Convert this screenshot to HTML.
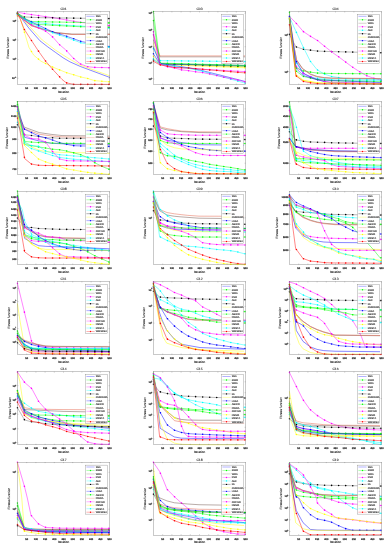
<!DOCTYPE html><html><head><meta charset="utf-8"><style>html,body{margin:0;padding:0;background:#fff;width:390px;height:550px;overflow:hidden}svg{display:block}text{font-family:"Liberation Sans",sans-serif;text-rendering:geometricPrecision}</style></head><body>
<svg width="390" height="550" viewBox="0 0 390 550">
<rect width="390" height="550" fill="#fff"/>
<g><clipPath id="c00"><rect x="16.5" y="10.3" width="94" height="75.4"/></clipPath><g clip-path="url(#c00)"><path d="M17.38 12.19 L26.54 13.86 L52.77 17.68 L81.38 22.46 L110 25.8" fill="none" stroke="#ff00ff" stroke-width="0.6" stroke-opacity="0.8"/><circle cx="17.38" cy="12.19" r="0.8" fill="#ff00ff"/><circle cx="24.42" cy="13.48" r="0.8" fill="#ff00ff"/><circle cx="31.46" cy="14.58" r="0.8" fill="#ff00ff"/><circle cx="38.5" cy="15.61" r="0.8" fill="#ff00ff"/><circle cx="45.54" cy="16.63" r="0.8" fill="#ff00ff"/><circle cx="52.58" cy="17.66" r="0.8" fill="#ff00ff"/><circle cx="59.62" cy="18.83" r="0.8" fill="#ff00ff"/><circle cx="66.66" cy="20" r="0.8" fill="#ff00ff"/><circle cx="73.7" cy="21.18" r="0.8" fill="#ff00ff"/><circle cx="80.74" cy="22.35" r="0.8" fill="#ff00ff"/><circle cx="87.78" cy="23.2" r="0.8" fill="#ff00ff"/><circle cx="94.82" cy="24.03" r="0.8" fill="#ff00ff"/><circle cx="101.86" cy="24.85" r="0.8" fill="#ff00ff"/><circle cx="108.9" cy="25.67" r="0.8" fill="#ff00ff"/><path d="M17.38 13.39 L24.15 16.97 L40.85 17.68 L110 18.64" fill="none" stroke="#000000" stroke-width="0.6" stroke-opacity="0.45"/><circle cx="17.38" cy="13.39" r="0.8" fill="#000000"/><circle cx="24.42" cy="16.98" r="0.8" fill="#000000"/><circle cx="31.46" cy="17.28" r="0.8" fill="#000000"/><circle cx="38.5" cy="17.58" r="0.8" fill="#000000"/><circle cx="45.54" cy="17.75" r="0.8" fill="#000000"/><circle cx="52.58" cy="17.85" r="0.8" fill="#000000"/><circle cx="59.62" cy="17.94" r="0.8" fill="#000000"/><circle cx="66.66" cy="18.04" r="0.8" fill="#000000"/><circle cx="73.7" cy="18.14" r="0.8" fill="#000000"/><circle cx="80.74" cy="18.23" r="0.8" fill="#000000"/><circle cx="87.78" cy="18.33" r="0.8" fill="#000000"/><circle cx="94.82" cy="18.43" r="0.8" fill="#000000"/><circle cx="101.86" cy="18.53" r="0.8" fill="#000000"/><circle cx="108.9" cy="18.62" r="0.8" fill="#000000"/><path d="M17.38 12.91 L24.15 18.16 L31.31 21.5 L52.77 21.98 L110 22.94" fill="none" stroke="#00ff00" stroke-width="0.6" stroke-opacity="0.8"/><circle cx="17.38" cy="12.91" r="0.8" fill="#00ff00"/><circle cx="24.42" cy="18.29" r="0.8" fill="#00ff00"/><circle cx="31.46" cy="21.51" r="0.8" fill="#00ff00"/><circle cx="38.5" cy="21.66" r="0.8" fill="#00ff00"/><circle cx="45.54" cy="21.82" r="0.8" fill="#00ff00"/><circle cx="52.58" cy="21.98" r="0.8" fill="#00ff00"/><circle cx="59.62" cy="22.09" r="0.8" fill="#00ff00"/><circle cx="66.66" cy="22.21" r="0.8" fill="#00ff00"/><circle cx="73.7" cy="22.33" r="0.8" fill="#00ff00"/><circle cx="80.74" cy="22.45" r="0.8" fill="#00ff00"/><circle cx="87.78" cy="22.56" r="0.8" fill="#00ff00"/><circle cx="94.82" cy="22.68" r="0.8" fill="#00ff00"/><circle cx="101.86" cy="22.8" r="0.8" fill="#00ff00"/><circle cx="108.9" cy="22.92" r="0.8" fill="#00ff00"/><path d="M17.38 13.39 L24.15 19.35 L31.31 21.98 L52.77 24.37 L81.38 26.04 L110 28.19" fill="none" stroke="#00ffff" stroke-width="0.6" stroke-opacity="0.8"/><circle cx="17.38" cy="13.39" r="0.8" fill="#00ffff"/><circle cx="24.42" cy="19.45" r="0.8" fill="#00ffff"/><circle cx="31.46" cy="22" r="0.8" fill="#00ffff"/><circle cx="38.5" cy="22.78" r="0.8" fill="#00ffff"/><circle cx="45.54" cy="23.56" r="0.8" fill="#00ffff"/><circle cx="52.58" cy="24.35" r="0.8" fill="#00ffff"/><circle cx="59.62" cy="24.77" r="0.8" fill="#00ffff"/><circle cx="66.66" cy="25.18" r="0.8" fill="#00ffff"/><circle cx="73.7" cy="25.59" r="0.8" fill="#00ffff"/><circle cx="80.74" cy="26" r="0.8" fill="#00ffff"/><circle cx="87.78" cy="26.52" r="0.8" fill="#00ffff"/><circle cx="94.82" cy="27.05" r="0.8" fill="#00ffff"/><circle cx="101.86" cy="27.58" r="0.8" fill="#00ffff"/><circle cx="108.9" cy="28.1" r="0.8" fill="#00ffff"/><path d="M17.38 13.39 L31.31 23.89 L52.77 25.32 L81.38 26.75 L110 27.23" fill="none" stroke="#00ff00" stroke-width="0.6" stroke-opacity="0.8"/><circle cx="17.38" cy="13.39" r="0.8" fill="#00ff00"/><circle cx="24.42" cy="18.7" r="0.8" fill="#00ff00"/><circle cx="31.46" cy="23.9" r="0.8" fill="#00ff00"/><circle cx="38.5" cy="24.37" r="0.8" fill="#00ff00"/><circle cx="45.54" cy="24.84" r="0.8" fill="#00ff00"/><circle cx="52.58" cy="25.31" r="0.8" fill="#00ff00"/><circle cx="59.62" cy="25.67" r="0.8" fill="#00ff00"/><circle cx="66.66" cy="26.02" r="0.8" fill="#00ff00"/><circle cx="73.7" cy="26.37" r="0.8" fill="#00ff00"/><circle cx="80.74" cy="26.72" r="0.8" fill="#00ff00"/><circle cx="87.78" cy="26.86" r="0.8" fill="#00ff00"/><circle cx="94.82" cy="26.98" r="0.8" fill="#00ff00"/><circle cx="101.86" cy="27.1" r="0.8" fill="#00ff00"/><circle cx="108.9" cy="27.21" r="0.8" fill="#00ff00"/><path d="M17.38 14.58 L31.31 25.32 L43.23 29.14 L55.15 32.48 L71.85 34.15 L110 34.15" fill="none" stroke="#806860" stroke-width="0.8" stroke-opacity="0.85"/><path d="M17.38 14.58 L31.31 25.8 L43.23 29.38 L55.15 32.72 L71.85 34.39 L110 34.39" fill="none" stroke="#e8745e" stroke-width="0.8" stroke-opacity="0.85"/><path d="M17.38 14.58 L24.15 18.64 L38.7 25.32 L53.01 32.01 L64.69 35.59 L81.38 41.55 L110 46.81" fill="none" stroke="#0000ff" stroke-width="0.6" stroke-opacity="0.8"/><circle cx="17.38" cy="14.58" r="0.8" fill="#0000ff"/><circle cx="24.42" cy="18.76" r="0.8" fill="#0000ff"/><circle cx="31.46" cy="22" r="0.8" fill="#0000ff"/><circle cx="38.5" cy="25.23" r="0.8" fill="#0000ff"/><circle cx="45.54" cy="28.52" r="0.8" fill="#0000ff"/><circle cx="52.58" cy="31.81" r="0.8" fill="#0000ff"/><circle cx="59.62" cy="34.03" r="0.8" fill="#0000ff"/><circle cx="66.66" cy="36.29" r="0.8" fill="#0000ff"/><circle cx="73.7" cy="38.81" r="0.8" fill="#0000ff"/><circle cx="80.74" cy="41.32" r="0.8" fill="#0000ff"/><circle cx="87.78" cy="42.73" r="0.8" fill="#0000ff"/><circle cx="94.82" cy="44.02" r="0.8" fill="#0000ff"/><circle cx="101.86" cy="45.31" r="0.8" fill="#0000ff"/><circle cx="108.9" cy="46.6" r="0.8" fill="#0000ff"/><path d="M17.38 14.58 L26.54 20.55 L40.85 27.71 L53.01 32.96 L64.69 36.78 L81.38 42.99 L110 47.28" fill="none" stroke="#00ffff" stroke-width="0.6" stroke-opacity="0.8"/><circle cx="17.38" cy="14.58" r="0.8" fill="#00ffff"/><circle cx="24.42" cy="19.17" r="0.8" fill="#00ffff"/><circle cx="31.46" cy="23.01" r="0.8" fill="#00ffff"/><circle cx="38.5" cy="26.54" r="0.8" fill="#00ffff"/><circle cx="45.54" cy="29.74" r="0.8" fill="#00ffff"/><circle cx="52.58" cy="32.78" r="0.8" fill="#00ffff"/><circle cx="59.62" cy="35.12" r="0.8" fill="#00ffff"/><circle cx="66.66" cy="37.51" r="0.8" fill="#00ffff"/><circle cx="73.7" cy="40.13" r="0.8" fill="#00ffff"/><circle cx="80.74" cy="42.75" r="0.8" fill="#00ffff"/><circle cx="87.78" cy="43.95" r="0.8" fill="#00ffff"/><circle cx="94.82" cy="45" r="0.8" fill="#00ffff"/><circle cx="101.86" cy="46.06" r="0.8" fill="#00ffff"/><circle cx="108.9" cy="47.12" r="0.8" fill="#00ffff"/><path d="M17.38 15.77 L31.55 24.85 L45.85 31.29 L53.01 37.26 L59.21 44.42 L65.65 49.81 L73.66 58.5 L80.43 63.99 L87.75 66.74 L94.5 67.41 L110 67.72" fill="none" stroke="#ff00ff" stroke-width="0.6" stroke-opacity="0.8"/><circle cx="17.38" cy="15.77" r="0.8" fill="#ff00ff"/><circle cx="24.42" cy="20.28" r="0.8" fill="#ff00ff"/><circle cx="31.46" cy="24.79" r="0.8" fill="#ff00ff"/><circle cx="38.5" cy="27.98" r="0.8" fill="#ff00ff"/><circle cx="45.54" cy="31.15" r="0.8" fill="#ff00ff"/><circle cx="52.58" cy="36.9" r="0.8" fill="#ff00ff"/><circle cx="59.62" cy="44.76" r="0.8" fill="#ff00ff"/><circle cx="66.66" cy="50.91" r="0.8" fill="#ff00ff"/><circle cx="73.7" cy="58.54" r="0.8" fill="#ff00ff"/><circle cx="80.74" cy="64.11" r="0.8" fill="#ff00ff"/><circle cx="87.78" cy="66.74" r="0.8" fill="#ff00ff"/><circle cx="94.82" cy="67.41" r="0.8" fill="#ff00ff"/><circle cx="101.86" cy="67.55" r="0.8" fill="#ff00ff"/><circle cx="108.9" cy="67.7" r="0.8" fill="#ff00ff"/><path d="M17.38 14.58 L20.58 16.97 L28.92 28.19 L39.99 40.84 L47.67 46.81 L55.37 52.3 L63.07 57.79 L69.94 61.85 L80.43 66.5 L110 77.5" fill="none" stroke="#0000ff" stroke-width="0.6" stroke-opacity="0.8"/><path d="M17.38 14.58 L21.77 18.16 L35.12 32.48 L42.28 40 L49.98 45.8 L55.37 50.01 L63.07 55.02 L69.94 59.22 L80.43 65.19 L110 75.93" fill="none" stroke="#ffff00" stroke-width="0.6" stroke-opacity="0.8"/><path d="M17.38 15.77 L20.58 19.35 L28.92 47.28 L33.69 55.16 L40.85 61.13 L52.77 67.1 L66.27 72.59 L73.66 74.81 L80.43 76.88 L87.75 78.51 L94.5 80.61 L101.32 81.18 L110 81.9" fill="none" stroke="#ffff00" stroke-width="0.6" stroke-opacity="0.8"/><circle cx="17.38" cy="15.77" r="0.8" fill="#ffff00"/><circle cx="24.42" cy="32.22" r="0.8" fill="#ffff00"/><circle cx="31.46" cy="51.47" r="0.8" fill="#ffff00"/><circle cx="38.5" cy="59.17" r="0.8" fill="#ffff00"/><circle cx="45.54" cy="63.48" r="0.8" fill="#ffff00"/><circle cx="52.58" cy="67" r="0.8" fill="#ffff00"/><circle cx="59.62" cy="69.88" r="0.8" fill="#ffff00"/><circle cx="66.66" cy="72.71" r="0.8" fill="#ffff00"/><circle cx="73.7" cy="74.82" r="0.8" fill="#ffff00"/><circle cx="80.74" cy="76.95" r="0.8" fill="#ffff00"/><circle cx="87.78" cy="78.52" r="0.8" fill="#ffff00"/><circle cx="94.82" cy="80.63" r="0.8" fill="#ffff00"/><circle cx="101.86" cy="81.23" r="0.8" fill="#ffff00"/><circle cx="108.9" cy="81.81" r="0.8" fill="#ffff00"/><path d="M17.38 13.39 L19.38 16.97 L24.15 29.14 L31.55 40.6 L38.46 51.1 L45.62 61.13 L52.77 69.48 L61.97 79.41 L66.27 82.8 L73.66 84.4 L110 84.4" fill="none" stroke="#ff0000" stroke-width="0.6" stroke-opacity="0.8"/><circle cx="17.38" cy="13.39" r="0.8" fill="#ff0000"/><circle cx="24.42" cy="29.55" r="0.8" fill="#ff0000"/><circle cx="31.46" cy="40.47" r="0.8" fill="#ff0000"/><circle cx="38.5" cy="51.16" r="0.8" fill="#ff0000"/><circle cx="45.54" cy="61.02" r="0.8" fill="#ff0000"/><circle cx="52.58" cy="69.26" r="0.8" fill="#ff0000"/><circle cx="59.62" cy="76.87" r="0.8" fill="#ff0000"/><circle cx="66.66" cy="82.89" r="0.8" fill="#ff0000"/><circle cx="73.7" cy="84.4" r="0.8" fill="#ff0000"/><circle cx="80.74" cy="84.4" r="0.8" fill="#ff0000"/><circle cx="87.78" cy="84.4" r="0.8" fill="#ff0000"/><circle cx="94.82" cy="84.4" r="0.8" fill="#ff0000"/><circle cx="101.86" cy="84.4" r="0.8" fill="#ff0000"/><circle cx="108.9" cy="84.4" r="0.8" fill="#ff0000"/></g><rect x="17.5" y="11.5" width="92" height="73" fill="none" stroke="#666" stroke-width="0.35"/><path d="M26.7 84.5v-0.9M26.7 11.5v0.9M35.9 84.5v-0.9M35.9 11.5v0.9M45.1 84.5v-0.9M45.1 11.5v0.9M54.3 84.5v-0.9M54.3 11.5v0.9M63.5 84.5v-0.9M63.5 11.5v0.9M72.7 84.5v-0.9M72.7 11.5v0.9M81.9 84.5v-0.9M81.9 11.5v0.9M91.1 84.5v-0.9M91.1 11.5v0.9M100.3 84.5v-0.9M100.3 11.5v0.9M109.5 84.5v-0.9M109.5 11.5v0.9M17.5 21.2h0.9M109.5 21.2h-0.9M17.5 40h0.9M109.5 40h-0.9M17.5 59.5h0.9M109.5 59.5h-0.9M17.5 78.2h0.9M109.5 78.2h-0.9" stroke="#555" stroke-width="0.3" fill="none"/><g fill="#111"><text transform="translate(26.7 88.9) scale(0.1)" font-size="25" text-anchor="middle" fill="#222" stroke="#222" stroke-width="2">50</text><text transform="translate(35.9 88.9) scale(0.1)" font-size="25" text-anchor="middle" fill="#222" stroke="#222" stroke-width="2">100</text><text transform="translate(45.1 88.9) scale(0.1)" font-size="25" text-anchor="middle" fill="#222" stroke="#222" stroke-width="2">150</text><text transform="translate(54.3 88.9) scale(0.1)" font-size="25" text-anchor="middle" fill="#222" stroke="#222" stroke-width="2">200</text><text transform="translate(63.5 88.9) scale(0.1)" font-size="25" text-anchor="middle" fill="#222" stroke="#222" stroke-width="2">250</text><text transform="translate(72.7 88.9) scale(0.1)" font-size="25" text-anchor="middle" fill="#222" stroke="#222" stroke-width="2">300</text><text transform="translate(81.9 88.9) scale(0.1)" font-size="25" text-anchor="middle" fill="#222" stroke="#222" stroke-width="2">350</text><text transform="translate(91.1 88.9) scale(0.1)" font-size="25" text-anchor="middle" fill="#222" stroke="#222" stroke-width="2">400</text><text transform="translate(100.3 88.9) scale(0.1)" font-size="25" text-anchor="middle" fill="#222" stroke="#222" stroke-width="2">450</text><text transform="translate(109.5 88.9) scale(0.1)" font-size="25" text-anchor="middle" fill="#222" stroke="#222" stroke-width="2">500</text></g><g fill="#111"><text transform="translate(16.3 22.15) scale(0.1)" font-size="25" text-anchor="end" fill="#222" stroke="#222" stroke-width="2">10<tspan font-size="17.5" dy="-11.25">4</tspan></text><text transform="translate(16.3 40.95) scale(0.1)" font-size="25" text-anchor="end" fill="#222" stroke="#222" stroke-width="2">10<tspan font-size="17.5" dy="-11.25">2</tspan></text><text transform="translate(16.3 60.45) scale(0.1)" font-size="25" text-anchor="end" fill="#222" stroke="#222" stroke-width="2">10<tspan font-size="17.5" dy="-11.25">0</tspan></text><text transform="translate(16.3 79.15) scale(0.1)" font-size="25" text-anchor="end" fill="#222" stroke="#222" stroke-width="2">10<tspan font-size="17.5" dy="-11.25">-2</tspan></text></g><text transform="translate(63.5 92.6) scale(0.1)" font-size="31" text-anchor="middle" fill="#222" stroke="#222" stroke-width="1">Iteration</text><text transform="translate(8.7 48) rotate(-90) scale(0.1)" font-size="31" text-anchor="middle" fill="#222" stroke="#222" stroke-width="1.2">Fitness function</text><text transform="translate(63.5 10.05) scale(0.1)" font-size="33" text-anchor="middle" fill="#333" stroke="#333" stroke-width="1">C01</text><g fill="#222"><rect x="85.5" y="14.4" width="22" height="49" fill="#fff" stroke="#666" stroke-width="0.3"/><path d="M86.4 16.3h8.2" stroke="#0000ff" stroke-width="0.5" stroke-opacity="0.6"/><text transform="translate(95.7 17.2) scale(0.1)" font-size="25" fill="#2a2a2a" stroke="#2a2a2a" stroke-width="1">SSA</text><path d="M86.4 19.78h8.2" stroke="#00ff00" stroke-width="0.5" stroke-opacity="0.6"/><circle cx="90.5" cy="19.78" r="0.7" fill="#00ff00"/><text transform="translate(95.7 20.68) scale(0.1)" font-size="25" fill="#2a2a2a" stroke="#2a2a2a" stroke-width="1">GWO</text><path d="M86.4 23.25h8.2" stroke="#806860" stroke-width="0.5" stroke-opacity="0.6"/><text transform="translate(95.7 24.15) scale(0.1)" font-size="25" fill="#2a2a2a" stroke="#2a2a2a" stroke-width="1">WOA</text><path d="M86.4 26.73h8.2" stroke="#ff00ff" stroke-width="0.5" stroke-opacity="0.6"/><circle cx="90.5" cy="26.73" r="0.7" fill="#ff00ff"/><text transform="translate(95.7 27.63) scale(0.1)" font-size="25" fill="#2a2a2a" stroke="#2a2a2a" stroke-width="1">PSO</text><path d="M86.4 30.21h8.2" stroke="#00ffff" stroke-width="0.5" stroke-opacity="0.6"/><circle cx="90.5" cy="30.21" r="0.7" fill="#00ffff"/><text transform="translate(95.7 31.11) scale(0.1)" font-size="25" fill="#2a2a2a" stroke="#2a2a2a" stroke-width="1">ABC</text><path d="M86.4 33.69h8.2" stroke="#000000" stroke-width="0.5" stroke-opacity="0.6"/><circle cx="90.5" cy="33.69" r="0.7" fill="#000000"/><text transform="translate(95.7 34.59) scale(0.1)" font-size="25" fill="#2a2a2a" stroke="#2a2a2a" stroke-width="1">FA</text><path d="M86.4 37.16h8.2" stroke="#ffff00" stroke-width="0.5" stroke-opacity="0.6"/><text transform="translate(95.7 38.06) scale(0.1)" font-size="25" fill="#2a2a2a" stroke="#2a2a2a" stroke-width="1">CMGWOA</text><path d="M86.4 40.64h8.2" stroke="#0000ff" stroke-width="0.5" stroke-opacity="0.6"/><circle cx="90.5" cy="40.64" r="0.7" fill="#0000ff"/><text transform="translate(95.7 41.54) scale(0.1)" font-size="25" fill="#2a2a2a" stroke="#2a2a2a" stroke-width="1">LSSA</text><path d="M86.4 44.12h8.2" stroke="#00ff00" stroke-width="0.5" stroke-opacity="0.6"/><circle cx="90.5" cy="44.12" r="0.7" fill="#00ff00"/><text transform="translate(95.7 45.02) scale(0.1)" font-size="25" fill="#2a2a2a" stroke="#2a2a2a" stroke-width="1">AGWO</text><path d="M86.4 47.59h8.2" stroke="#e8745e" stroke-width="0.5" stroke-opacity="0.6"/><text transform="translate(95.7 48.49) scale(0.1)" font-size="25" fill="#2a2a2a" stroke="#2a2a2a" stroke-width="1">DWOA</text><path d="M86.4 51.07h8.2" stroke="#ff00ff" stroke-width="0.5" stroke-opacity="0.6"/><circle cx="90.5" cy="51.07" r="0.7" fill="#ff00ff"/><text transform="translate(95.7 51.97) scale(0.1)" font-size="25" fill="#2a2a2a" stroke="#2a2a2a" stroke-width="1">OPPSO</text><path d="M86.4 54.55h8.2" stroke="#ffff00" stroke-width="0.5" stroke-opacity="0.6"/><circle cx="90.5" cy="54.55" r="0.7" fill="#ffff00"/><text transform="translate(95.7 55.45) scale(0.1)" font-size="25" fill="#2a2a2a" stroke="#2a2a2a" stroke-width="1">NSMO</text><path d="M86.4 58.02h8.2" stroke="#00ffff" stroke-width="0.5" stroke-opacity="0.6"/><circle cx="90.5" cy="58.02" r="0.7" fill="#00ffff"/><text transform="translate(95.7 58.92) scale(0.1)" font-size="25" fill="#2a2a2a" stroke="#2a2a2a" stroke-width="1">MSSTA</text><path d="M86.4 61.5h8.2" stroke="#ff0000" stroke-width="0.5" stroke-opacity="0.6"/><circle cx="90.5" cy="61.5" r="0.7" fill="#ff0000"/><text transform="translate(95.7 62.4) scale(0.1)" font-size="25" fill="#2a2a2a" stroke="#2a2a2a" stroke-width="1">WMSSSA</text></g></g>
<g><clipPath id="c10"><rect x="152.5" y="10.3" width="94" height="75.4"/></clipPath><g clip-path="url(#c10)"><path d="M153.38 39.65 L159.92 56.83 L245.05 56.83" fill="none" stroke="#806860" stroke-width="0.65" stroke-opacity="0.85"/><path d="M153.38 34.87 L159.92 55.88 L245.05 55.88" fill="none" stroke="#e8745e" stroke-width="0.65" stroke-opacity="0.85"/><path d="M153.38 48.72 L159.92 60.65 L245.05 61.61" fill="none" stroke="#00ffff" stroke-width="0.6" stroke-opacity="0.8"/><circle cx="153.38" cy="48.72" r="0.8" fill="#00ffff"/><circle cx="160.42" cy="60.66" r="0.8" fill="#00ffff"/><circle cx="167.46" cy="60.74" r="0.8" fill="#00ffff"/><circle cx="174.5" cy="60.82" r="0.8" fill="#00ffff"/><circle cx="181.54" cy="60.89" r="0.8" fill="#00ffff"/><circle cx="188.58" cy="60.97" r="0.8" fill="#00ffff"/><circle cx="195.62" cy="61.05" r="0.8" fill="#00ffff"/><circle cx="202.66" cy="61.13" r="0.8" fill="#00ffff"/><circle cx="209.7" cy="61.21" r="0.8" fill="#00ffff"/><circle cx="216.74" cy="61.29" r="0.8" fill="#00ffff"/><circle cx="223.78" cy="61.37" r="0.8" fill="#00ffff"/><circle cx="230.82" cy="61.45" r="0.8" fill="#00ffff"/><circle cx="237.86" cy="61.53" r="0.8" fill="#00ffff"/><circle cx="244.9" cy="61.6" r="0.8" fill="#00ffff"/><path d="M153.38 42.51 L159.92 63.52 L245.05 67.1" fill="none" stroke="#ffff00" stroke-width="0.6" stroke-opacity="0.8"/><path d="M153.38 56.35 L159.92 64.47 L245.05 67.81" fill="none" stroke="#ffff00" stroke-width="0.6" stroke-opacity="0.8"/><circle cx="153.38" cy="56.35" r="0.8" fill="#ffff00"/><circle cx="160.42" cy="64.49" r="0.8" fill="#ffff00"/><circle cx="167.46" cy="64.77" r="0.8" fill="#ffff00"/><circle cx="174.5" cy="65.04" r="0.8" fill="#ffff00"/><circle cx="181.54" cy="65.32" r="0.8" fill="#ffff00"/><circle cx="188.58" cy="65.6" r="0.8" fill="#ffff00"/><circle cx="195.62" cy="65.87" r="0.8" fill="#ffff00"/><circle cx="202.66" cy="66.15" r="0.8" fill="#ffff00"/><circle cx="209.7" cy="66.43" r="0.8" fill="#ffff00"/><circle cx="216.74" cy="66.7" r="0.8" fill="#ffff00"/><circle cx="223.78" cy="66.98" r="0.8" fill="#ffff00"/><circle cx="230.82" cy="67.25" r="0.8" fill="#ffff00"/><circle cx="237.86" cy="67.53" r="0.8" fill="#ffff00"/><circle cx="244.9" cy="67.81" r="0.8" fill="#ffff00"/><path d="M153.38 59.94 L159.92 63.99 L245.05 66.38" fill="none" stroke="#000000" stroke-width="0.6" stroke-opacity="0.45"/><circle cx="153.38" cy="59.94" r="0.8" fill="#000000"/><circle cx="160.42" cy="64.01" r="0.8" fill="#000000"/><circle cx="167.46" cy="64.21" r="0.8" fill="#000000"/><circle cx="174.5" cy="64.4" r="0.8" fill="#000000"/><circle cx="181.54" cy="64.6" r="0.8" fill="#000000"/><circle cx="188.58" cy="64.8" r="0.8" fill="#000000"/><circle cx="195.62" cy="64.99" r="0.8" fill="#000000"/><circle cx="202.66" cy="65.19" r="0.8" fill="#000000"/><circle cx="209.7" cy="65.39" r="0.8" fill="#000000"/><circle cx="216.74" cy="65.59" r="0.8" fill="#000000"/><circle cx="223.78" cy="65.78" r="0.8" fill="#000000"/><circle cx="230.82" cy="65.98" r="0.8" fill="#000000"/><circle cx="237.86" cy="66.18" r="0.8" fill="#000000"/><circle cx="244.9" cy="66.38" r="0.8" fill="#000000"/><path d="M153.38 20.55 L159.92 63.52 L245.05 65.9" fill="none" stroke="#00ff00" stroke-width="0.6" stroke-opacity="0.8"/><circle cx="153.38" cy="20.55" r="0.8" fill="#00ff00"/><circle cx="160.42" cy="63.53" r="0.8" fill="#00ff00"/><circle cx="167.46" cy="63.73" r="0.8" fill="#00ff00"/><circle cx="174.5" cy="63.93" r="0.8" fill="#00ff00"/><circle cx="181.54" cy="64.12" r="0.8" fill="#00ff00"/><circle cx="188.58" cy="64.32" r="0.8" fill="#00ff00"/><circle cx="195.62" cy="64.52" r="0.8" fill="#00ff00"/><circle cx="202.66" cy="64.71" r="0.8" fill="#00ff00"/><circle cx="209.7" cy="64.91" r="0.8" fill="#00ff00"/><circle cx="216.74" cy="65.11" r="0.8" fill="#00ff00"/><circle cx="223.78" cy="65.31" r="0.8" fill="#00ff00"/><circle cx="230.82" cy="65.5" r="0.8" fill="#00ff00"/><circle cx="237.86" cy="65.7" r="0.8" fill="#00ff00"/><circle cx="244.9" cy="65.9" r="0.8" fill="#00ff00"/><path d="M153.38 53.73 L159.92 63.99 L245.05 65.43" fill="none" stroke="#0000ff" stroke-width="0.6" stroke-opacity="0.8"/><circle cx="153.38" cy="53.73" r="0.8" fill="#0000ff"/><circle cx="160.42" cy="64" r="0.8" fill="#0000ff"/><circle cx="167.46" cy="64.12" r="0.8" fill="#0000ff"/><circle cx="174.5" cy="64.24" r="0.8" fill="#0000ff"/><circle cx="181.54" cy="64.36" r="0.8" fill="#0000ff"/><circle cx="188.58" cy="64.48" r="0.8" fill="#0000ff"/><circle cx="195.62" cy="64.59" r="0.8" fill="#0000ff"/><circle cx="202.66" cy="64.71" r="0.8" fill="#0000ff"/><circle cx="209.7" cy="64.83" r="0.8" fill="#0000ff"/><circle cx="216.74" cy="64.95" r="0.8" fill="#0000ff"/><circle cx="223.78" cy="65.07" r="0.8" fill="#0000ff"/><circle cx="230.82" cy="65.19" r="0.8" fill="#0000ff"/><circle cx="237.86" cy="65.3" r="0.8" fill="#0000ff"/><circle cx="244.9" cy="65.42" r="0.8" fill="#0000ff"/><path d="M153.38 11.48 L159.92 63.04 L245.05 65.43" fill="none" stroke="#00ff00" stroke-width="0.6" stroke-opacity="0.8"/><circle cx="153.38" cy="11.48" r="0.8" fill="#00ff00"/><circle cx="160.42" cy="63.05" r="0.8" fill="#00ff00"/><circle cx="167.46" cy="63.25" r="0.8" fill="#00ff00"/><circle cx="174.5" cy="63.45" r="0.8" fill="#00ff00"/><circle cx="181.54" cy="63.65" r="0.8" fill="#00ff00"/><circle cx="188.58" cy="63.84" r="0.8" fill="#00ff00"/><circle cx="195.62" cy="64.04" r="0.8" fill="#00ff00"/><circle cx="202.66" cy="64.24" r="0.8" fill="#00ff00"/><circle cx="209.7" cy="64.43" r="0.8" fill="#00ff00"/><circle cx="216.74" cy="64.63" r="0.8" fill="#00ff00"/><circle cx="223.78" cy="64.83" r="0.8" fill="#00ff00"/><circle cx="230.82" cy="65.03" r="0.8" fill="#00ff00"/><circle cx="237.86" cy="65.22" r="0.8" fill="#00ff00"/><circle cx="244.9" cy="65.42" r="0.8" fill="#00ff00"/><path d="M153.38 34.87 L159.92 63.99 L174.7 67.34 L195.68 68.53 L202.6 69.25 L245.05 71.63" fill="none" stroke="#ff00ff" stroke-width="0.6" stroke-opacity="0.8"/><circle cx="153.38" cy="34.87" r="0.8" fill="#ff00ff"/><circle cx="160.42" cy="64.11" r="0.8" fill="#ff00ff"/><circle cx="167.46" cy="65.7" r="0.8" fill="#ff00ff"/><circle cx="174.5" cy="67.29" r="0.8" fill="#ff00ff"/><circle cx="181.54" cy="67.72" r="0.8" fill="#ff00ff"/><circle cx="188.58" cy="68.12" r="0.8" fill="#ff00ff"/><circle cx="195.62" cy="68.53" r="0.8" fill="#ff00ff"/><circle cx="202.66" cy="69.25" r="0.8" fill="#ff00ff"/><circle cx="209.7" cy="69.64" r="0.8" fill="#ff00ff"/><circle cx="216.74" cy="70.04" r="0.8" fill="#ff00ff"/><circle cx="223.78" cy="70.44" r="0.8" fill="#ff00ff"/><circle cx="230.82" cy="70.83" r="0.8" fill="#ff00ff"/><circle cx="237.86" cy="71.23" r="0.8" fill="#ff00ff"/><circle cx="244.9" cy="71.62" r="0.8" fill="#ff00ff"/><path d="M153.38 46.81 L159.92 63.52 L188.53 67.81 L202.6 70.68 L245.05 81.42" fill="none" stroke="#0000ff" stroke-width="0.6" stroke-opacity="0.8"/><path d="M153.38 58.74 L159.92 63.99 L174.7 66.38 L188.53 68.29 L202.6 71.39 L216.43 75.21 L230.26 79.03 L245.05 83.09" fill="none" stroke="#00ffff" stroke-width="0.6" stroke-opacity="0.8"/><circle cx="153.38" cy="58.74" r="0.8" fill="#00ffff"/><circle cx="160.42" cy="64.08" r="0.8" fill="#00ffff"/><circle cx="167.46" cy="65.21" r="0.8" fill="#00ffff"/><circle cx="174.5" cy="66.35" r="0.8" fill="#00ffff"/><circle cx="181.54" cy="67.33" r="0.8" fill="#00ffff"/><circle cx="188.58" cy="68.3" r="0.8" fill="#00ffff"/><circle cx="195.62" cy="69.85" r="0.8" fill="#00ffff"/><circle cx="202.66" cy="71.41" r="0.8" fill="#00ffff"/><circle cx="209.7" cy="73.35" r="0.8" fill="#00ffff"/><circle cx="216.74" cy="75.3" r="0.8" fill="#00ffff"/><circle cx="223.78" cy="77.24" r="0.8" fill="#00ffff"/><circle cx="230.82" cy="79.19" r="0.8" fill="#00ffff"/><circle cx="237.86" cy="81.12" r="0.8" fill="#00ffff"/><circle cx="244.9" cy="83.05" r="0.8" fill="#00ffff"/><path d="M153.38 31.77 L159.92 63.99 L167.55 66.86 L174.7 68.05 L181.85 69.96 L188.53 70.68 L195.68 71.87 L202.6 72.59 L209.75 74.02 L223.58 77.12 L237.42 79.99 L245.05 81.9" fill="none" stroke="#ff00ff" stroke-width="0.6" stroke-opacity="0.8"/><circle cx="153.38" cy="31.77" r="0.8" fill="#ff00ff"/><circle cx="160.42" cy="64.18" r="0.8" fill="#ff00ff"/><circle cx="167.46" cy="66.83" r="0.8" fill="#ff00ff"/><circle cx="174.5" cy="68.02" r="0.8" fill="#ff00ff"/><circle cx="181.54" cy="69.88" r="0.8" fill="#ff00ff"/><circle cx="188.58" cy="70.69" r="0.8" fill="#ff00ff"/><circle cx="195.62" cy="71.86" r="0.8" fill="#ff00ff"/><circle cx="202.66" cy="72.6" r="0.8" fill="#ff00ff"/><circle cx="209.7" cy="74.01" r="0.8" fill="#ff00ff"/><circle cx="216.74" cy="75.59" r="0.8" fill="#ff00ff"/><circle cx="223.78" cy="77.16" r="0.8" fill="#ff00ff"/><circle cx="230.82" cy="78.62" r="0.8" fill="#ff00ff"/><circle cx="237.86" cy="80.1" r="0.8" fill="#ff00ff"/><circle cx="244.9" cy="81.86" r="0.8" fill="#ff00ff"/><path d="M153.38 61.37 L159.92 64.95 L167.55 66.14 L174.7 67.57 L181.85 67.81 L188.53 68.05 L195.68 68.77 L202.6 69.25 L209.75 69.96 L216.43 70.44 L223.58 71.15 L230.26 71.63 L237.42 72.35 L245.05 72.83" fill="none" stroke="#ff0000" stroke-width="0.6" stroke-opacity="0.8"/><circle cx="153.38" cy="61.37" r="0.8" fill="#ff0000"/><circle cx="160.42" cy="65.03" r="0.8" fill="#ff0000"/><circle cx="167.46" cy="66.13" r="0.8" fill="#ff0000"/><circle cx="174.5" cy="67.53" r="0.8" fill="#ff0000"/><circle cx="181.54" cy="67.8" r="0.8" fill="#ff0000"/><circle cx="188.58" cy="68.06" r="0.8" fill="#ff0000"/><circle cx="195.62" cy="68.76" r="0.8" fill="#ff0000"/><circle cx="202.66" cy="69.25" r="0.8" fill="#ff0000"/><circle cx="209.7" cy="69.96" r="0.8" fill="#ff0000"/><circle cx="216.74" cy="70.47" r="0.8" fill="#ff0000"/><circle cx="223.78" cy="71.17" r="0.8" fill="#ff0000"/><circle cx="230.82" cy="71.69" r="0.8" fill="#ff0000"/><circle cx="237.86" cy="72.38" r="0.8" fill="#ff0000"/><circle cx="244.9" cy="72.82" r="0.8" fill="#ff0000"/></g><rect x="153.5" y="11.5" width="92" height="73" fill="none" stroke="#666" stroke-width="0.35"/><path d="M162.7 84.5v-0.9M162.7 11.5v0.9M171.9 84.5v-0.9M171.9 11.5v0.9M181.1 84.5v-0.9M181.1 11.5v0.9M190.3 84.5v-0.9M190.3 11.5v0.9M199.5 84.5v-0.9M199.5 11.5v0.9M208.7 84.5v-0.9M208.7 11.5v0.9M217.9 84.5v-0.9M217.9 11.5v0.9M227.1 84.5v-0.9M227.1 11.5v0.9M236.3 84.5v-0.9M236.3 11.5v0.9M245.5 84.5v-0.9M245.5 11.5v0.9M153.5 13.3h0.9M245.5 13.3h-0.9M153.5 30h0.9M245.5 30h-0.9M153.5 46.7h0.9M245.5 46.7h-0.9M153.5 63.3h0.9M245.5 63.3h-0.9M153.5 79h0.9M245.5 79h-0.9" stroke="#555" stroke-width="0.3" fill="none"/><g fill="#111"><text transform="translate(162.7 88.9) scale(0.1)" font-size="25" text-anchor="middle" fill="#222" stroke="#222" stroke-width="2">50</text><text transform="translate(171.9 88.9) scale(0.1)" font-size="25" text-anchor="middle" fill="#222" stroke="#222" stroke-width="2">100</text><text transform="translate(181.1 88.9) scale(0.1)" font-size="25" text-anchor="middle" fill="#222" stroke="#222" stroke-width="2">150</text><text transform="translate(190.3 88.9) scale(0.1)" font-size="25" text-anchor="middle" fill="#222" stroke="#222" stroke-width="2">200</text><text transform="translate(199.5 88.9) scale(0.1)" font-size="25" text-anchor="middle" fill="#222" stroke="#222" stroke-width="2">250</text><text transform="translate(208.7 88.9) scale(0.1)" font-size="25" text-anchor="middle" fill="#222" stroke="#222" stroke-width="2">300</text><text transform="translate(217.9 88.9) scale(0.1)" font-size="25" text-anchor="middle" fill="#222" stroke="#222" stroke-width="2">350</text><text transform="translate(227.1 88.9) scale(0.1)" font-size="25" text-anchor="middle" fill="#222" stroke="#222" stroke-width="2">400</text><text transform="translate(236.3 88.9) scale(0.1)" font-size="25" text-anchor="middle" fill="#222" stroke="#222" stroke-width="2">450</text><text transform="translate(245.5 88.9) scale(0.1)" font-size="25" text-anchor="middle" fill="#222" stroke="#222" stroke-width="2">500</text></g><g fill="#111"><text transform="translate(152.3 14.25) scale(0.1)" font-size="25" text-anchor="end" fill="#222" stroke="#222" stroke-width="2">10<tspan font-size="17.5" dy="-11.25">8</tspan></text><text transform="translate(152.3 30.95) scale(0.1)" font-size="25" text-anchor="end" fill="#222" stroke="#222" stroke-width="2">10<tspan font-size="17.5" dy="-11.25">6</tspan></text><text transform="translate(152.3 47.65) scale(0.1)" font-size="25" text-anchor="end" fill="#222" stroke="#222" stroke-width="2">10<tspan font-size="17.5" dy="-11.25">4</tspan></text><text transform="translate(152.3 64.25) scale(0.1)" font-size="25" text-anchor="end" fill="#222" stroke="#222" stroke-width="2">10<tspan font-size="17.5" dy="-11.25">2</tspan></text><text transform="translate(152.3 79.95) scale(0.1)" font-size="25" text-anchor="end" fill="#222" stroke="#222" stroke-width="2">10<tspan font-size="17.5" dy="-11.25">0</tspan></text></g><text transform="translate(199.5 92.6) scale(0.1)" font-size="31" text-anchor="middle" fill="#222" stroke="#222" stroke-width="1">Iteration</text><text transform="translate(144 48) rotate(-90) scale(0.1)" font-size="31" text-anchor="middle" fill="#222" stroke="#222" stroke-width="1.2">Fitness function</text><text transform="translate(199.5 10.05) scale(0.1)" font-size="33" text-anchor="middle" fill="#333" stroke="#333" stroke-width="1">C03</text><g fill="#222"><rect x="221.5" y="14.4" width="22" height="49" fill="#fff" stroke="#666" stroke-width="0.3"/><path d="M222.4 16.3h8.2" stroke="#0000ff" stroke-width="0.5" stroke-opacity="0.6"/><text transform="translate(231.7 17.2) scale(0.1)" font-size="25" fill="#2a2a2a" stroke="#2a2a2a" stroke-width="1">SSA</text><path d="M222.4 19.78h8.2" stroke="#00ff00" stroke-width="0.5" stroke-opacity="0.6"/><circle cx="226.5" cy="19.78" r="0.7" fill="#00ff00"/><text transform="translate(231.7 20.68) scale(0.1)" font-size="25" fill="#2a2a2a" stroke="#2a2a2a" stroke-width="1">GWO</text><path d="M222.4 23.25h8.2" stroke="#806860" stroke-width="0.5" stroke-opacity="0.6"/><text transform="translate(231.7 24.15) scale(0.1)" font-size="25" fill="#2a2a2a" stroke="#2a2a2a" stroke-width="1">WOA</text><path d="M222.4 26.73h8.2" stroke="#ff00ff" stroke-width="0.5" stroke-opacity="0.6"/><circle cx="226.5" cy="26.73" r="0.7" fill="#ff00ff"/><text transform="translate(231.7 27.63) scale(0.1)" font-size="25" fill="#2a2a2a" stroke="#2a2a2a" stroke-width="1">PSO</text><path d="M222.4 30.21h8.2" stroke="#00ffff" stroke-width="0.5" stroke-opacity="0.6"/><circle cx="226.5" cy="30.21" r="0.7" fill="#00ffff"/><text transform="translate(231.7 31.11) scale(0.1)" font-size="25" fill="#2a2a2a" stroke="#2a2a2a" stroke-width="1">ABC</text><path d="M222.4 33.69h8.2" stroke="#000000" stroke-width="0.5" stroke-opacity="0.6"/><circle cx="226.5" cy="33.69" r="0.7" fill="#000000"/><text transform="translate(231.7 34.59) scale(0.1)" font-size="25" fill="#2a2a2a" stroke="#2a2a2a" stroke-width="1">FA</text><path d="M222.4 37.16h8.2" stroke="#ffff00" stroke-width="0.5" stroke-opacity="0.6"/><text transform="translate(231.7 38.06) scale(0.1)" font-size="25" fill="#2a2a2a" stroke="#2a2a2a" stroke-width="1">CMGWOA</text><path d="M222.4 40.64h8.2" stroke="#0000ff" stroke-width="0.5" stroke-opacity="0.6"/><circle cx="226.5" cy="40.64" r="0.7" fill="#0000ff"/><text transform="translate(231.7 41.54) scale(0.1)" font-size="25" fill="#2a2a2a" stroke="#2a2a2a" stroke-width="1">LSSA</text><path d="M222.4 44.12h8.2" stroke="#00ff00" stroke-width="0.5" stroke-opacity="0.6"/><circle cx="226.5" cy="44.12" r="0.7" fill="#00ff00"/><text transform="translate(231.7 45.02) scale(0.1)" font-size="25" fill="#2a2a2a" stroke="#2a2a2a" stroke-width="1">AGWO</text><path d="M222.4 47.59h8.2" stroke="#e8745e" stroke-width="0.5" stroke-opacity="0.6"/><text transform="translate(231.7 48.49) scale(0.1)" font-size="25" fill="#2a2a2a" stroke="#2a2a2a" stroke-width="1">DWOA</text><path d="M222.4 51.07h8.2" stroke="#ff00ff" stroke-width="0.5" stroke-opacity="0.6"/><circle cx="226.5" cy="51.07" r="0.7" fill="#ff00ff"/><text transform="translate(231.7 51.97) scale(0.1)" font-size="25" fill="#2a2a2a" stroke="#2a2a2a" stroke-width="1">OPPSO</text><path d="M222.4 54.55h8.2" stroke="#ffff00" stroke-width="0.5" stroke-opacity="0.6"/><circle cx="226.5" cy="54.55" r="0.7" fill="#ffff00"/><text transform="translate(231.7 55.45) scale(0.1)" font-size="25" fill="#2a2a2a" stroke="#2a2a2a" stroke-width="1">NSMO</text><path d="M222.4 58.02h8.2" stroke="#00ffff" stroke-width="0.5" stroke-opacity="0.6"/><circle cx="226.5" cy="58.02" r="0.7" fill="#00ffff"/><text transform="translate(231.7 58.92) scale(0.1)" font-size="25" fill="#2a2a2a" stroke="#2a2a2a" stroke-width="1">MSSTA</text><path d="M222.4 61.5h8.2" stroke="#ff0000" stroke-width="0.5" stroke-opacity="0.6"/><circle cx="226.5" cy="61.5" r="0.7" fill="#ff0000"/><text transform="translate(231.7 62.4) scale(0.1)" font-size="25" fill="#2a2a2a" stroke="#2a2a2a" stroke-width="1">WMSSSA</text></g></g>
<g><clipPath id="c20"><rect x="288.5" y="10.3" width="94" height="75.4"/></clipPath><g clip-path="url(#c20)"><path d="M289.38 34.39 L295.92 46.81 L303.31 49.19 L310.46 50.15 L317.62 51.1 L324.29 51.34 L331.45 51.58 L381.05 52.77" fill="none" stroke="#000000" stroke-width="0.6" stroke-opacity="0.45"/><circle cx="289.38" cy="34.39" r="0.8" fill="#000000"/><circle cx="296.42" cy="46.97" r="0.8" fill="#000000"/><circle cx="303.46" cy="49.21" r="0.8" fill="#000000"/><circle cx="310.5" cy="50.15" r="0.8" fill="#000000"/><circle cx="317.54" cy="51.09" r="0.8" fill="#000000"/><circle cx="324.58" cy="51.35" r="0.8" fill="#000000"/><circle cx="331.62" cy="51.58" r="0.8" fill="#000000"/><circle cx="338.66" cy="51.75" r="0.8" fill="#000000"/><circle cx="345.7" cy="51.92" r="0.8" fill="#000000"/><circle cx="352.74" cy="52.09" r="0.8" fill="#000000"/><circle cx="359.78" cy="52.26" r="0.8" fill="#000000"/><circle cx="366.82" cy="52.43" r="0.8" fill="#000000"/><circle cx="373.86" cy="52.6" r="0.8" fill="#000000"/><circle cx="380.9" cy="52.77" r="0.8" fill="#000000"/><path d="M289.38 16.25 L296.03 23.05 L303.26 31.51 L310.46 36.3 L317.62 40.6 L324.91 46.57 L333.83 53.49 L338.36 56.59 L345.04 61.61 L352.43 67.1 L359.11 71.39 L366.5 75.69 L373.42 78.08 L381.05 80.23" fill="none" stroke="#ff00ff" stroke-width="0.6" stroke-opacity="0.8"/><circle cx="289.38" cy="16.25" r="0.8" fill="#ff00ff"/><circle cx="296.42" cy="23.51" r="0.8" fill="#ff00ff"/><circle cx="303.46" cy="31.64" r="0.8" fill="#ff00ff"/><circle cx="310.5" cy="36.33" r="0.8" fill="#ff00ff"/><circle cx="317.54" cy="40.55" r="0.8" fill="#ff00ff"/><circle cx="324.58" cy="46.3" r="0.8" fill="#ff00ff"/><circle cx="331.62" cy="51.77" r="0.8" fill="#ff00ff"/><circle cx="338.66" cy="56.82" r="0.8" fill="#ff00ff"/><circle cx="345.7" cy="62.1" r="0.8" fill="#ff00ff"/><circle cx="352.74" cy="67.3" r="0.8" fill="#ff00ff"/><circle cx="359.78" cy="71.78" r="0.8" fill="#ff00ff"/><circle cx="366.82" cy="75.8" r="0.8" fill="#ff00ff"/><circle cx="373.86" cy="78.2" r="0.8" fill="#ff00ff"/><circle cx="380.9" cy="80.18" r="0.8" fill="#ff00ff"/><path d="M289.38 16.97 L295.92 31.29 L303.07 46.81 L310.22 61.13 L317.14 69.72 L324.29 74.02 L331.45 76.41 L345.75 78.79 L381.05 79.75" fill="none" stroke="#00ffff" stroke-width="0.6" stroke-opacity="0.8"/><circle cx="289.38" cy="16.97" r="0.8" fill="#00ffff"/><circle cx="296.42" cy="32.38" r="0.8" fill="#00ffff"/><circle cx="303.46" cy="47.59" r="0.8" fill="#00ffff"/><circle cx="310.5" cy="61.47" r="0.8" fill="#00ffff"/><circle cx="317.54" cy="69.96" r="0.8" fill="#00ffff"/><circle cx="324.58" cy="74.12" r="0.8" fill="#00ffff"/><circle cx="331.62" cy="76.44" r="0.8" fill="#00ffff"/><circle cx="338.66" cy="77.61" r="0.8" fill="#00ffff"/><circle cx="345.7" cy="78.78" r="0.8" fill="#00ffff"/><circle cx="352.74" cy="78.98" r="0.8" fill="#00ffff"/><circle cx="359.78" cy="79.17" r="0.8" fill="#00ffff"/><circle cx="366.82" cy="79.36" r="0.8" fill="#00ffff"/><circle cx="373.86" cy="79.55" r="0.8" fill="#00ffff"/><circle cx="380.9" cy="79.74" r="0.8" fill="#00ffff"/><path d="M289.38 12.19 L292.58 46.81 L295.92 67.81 L303.31 70.92 L310.46 72.11 L317.14 73.06 L324.29 73.3 L331.45 73.54 L381.05 73.78" fill="none" stroke="#00ff00" stroke-width="0.6" stroke-opacity="0.8"/><circle cx="289.38" cy="12.19" r="0.8" fill="#00ff00"/><circle cx="296.42" cy="68.02" r="0.8" fill="#00ff00"/><circle cx="303.46" cy="70.94" r="0.8" fill="#00ff00"/><circle cx="310.5" cy="72.12" r="0.8" fill="#00ff00"/><circle cx="317.54" cy="73.08" r="0.8" fill="#00ff00"/><circle cx="324.58" cy="73.31" r="0.8" fill="#00ff00"/><circle cx="331.62" cy="73.54" r="0.8" fill="#00ff00"/><circle cx="338.66" cy="73.58" r="0.8" fill="#00ff00"/><circle cx="345.7" cy="73.61" r="0.8" fill="#00ff00"/><circle cx="352.74" cy="73.64" r="0.8" fill="#00ff00"/><circle cx="359.78" cy="73.68" r="0.8" fill="#00ff00"/><circle cx="366.82" cy="73.71" r="0.8" fill="#00ff00"/><circle cx="373.86" cy="73.75" r="0.8" fill="#00ff00"/><circle cx="380.9" cy="73.78" r="0.8" fill="#00ff00"/><path d="M289.38 15.77 L294.25 48 L296.63 59.94 L302.59 68.53 L310.46 74.02 L317.14 76.41 L324.29 77.6 L331.45 78.08 L381.05 78.55" fill="none" stroke="#806860" stroke-width="0.7" stroke-opacity="0.85"/><path d="M289.38 15.77 L294.25 48.48 L296.63 60.41 L302.59 69.01 L310.46 74.5 L317.14 76.88 L324.29 77.84 L331.45 78.32 L381.05 78.79" fill="none" stroke="#e8745e" stroke-width="0.7" stroke-opacity="0.85"/><path d="M289.38 18.16 L295.92 62.32 L303.31 73.54 L310.46 76.65 L317.14 78.32 L331.45 79.75 L381.05 80.7" fill="none" stroke="#00ffff" stroke-width="0.6" stroke-opacity="0.8"/><circle cx="289.38" cy="18.16" r="0.8" fill="#00ffff"/><circle cx="296.42" cy="63.09" r="0.8" fill="#00ffff"/><circle cx="303.46" cy="73.61" r="0.8" fill="#00ffff"/><circle cx="310.5" cy="76.65" r="0.8" fill="#00ffff"/><circle cx="317.54" cy="78.36" r="0.8" fill="#00ffff"/><circle cx="324.58" cy="79.06" r="0.8" fill="#00ffff"/><circle cx="331.62" cy="79.75" r="0.8" fill="#00ffff"/><circle cx="338.66" cy="79.89" r="0.8" fill="#00ffff"/><circle cx="345.7" cy="80.02" r="0.8" fill="#00ffff"/><circle cx="352.74" cy="80.16" r="0.8" fill="#00ffff"/><circle cx="359.78" cy="80.29" r="0.8" fill="#00ffff"/><circle cx="366.82" cy="80.43" r="0.8" fill="#00ffff"/><circle cx="373.86" cy="80.56" r="0.8" fill="#00ffff"/><circle cx="380.9" cy="80.7" r="0.8" fill="#00ffff"/><path d="M289.38 16.49 L295.44 59.94 L303.31 73.3 L310.46 76.88 L317.14 79.51 L324.29 81.66 L331.45 82.85 L381.05 83.81" fill="none" stroke="#0000ff" stroke-width="0.6" stroke-opacity="0.8"/><circle cx="289.38" cy="16.49" r="0.8" fill="#0000ff"/><circle cx="296.42" cy="61.6" r="0.8" fill="#0000ff"/><circle cx="303.46" cy="73.38" r="0.8" fill="#0000ff"/><circle cx="310.5" cy="76.9" r="0.8" fill="#0000ff"/><circle cx="317.54" cy="79.63" r="0.8" fill="#0000ff"/><circle cx="324.58" cy="81.71" r="0.8" fill="#0000ff"/><circle cx="331.62" cy="82.85" r="0.8" fill="#0000ff"/><circle cx="338.66" cy="82.99" r="0.8" fill="#0000ff"/><circle cx="345.7" cy="83.13" r="0.8" fill="#0000ff"/><circle cx="352.74" cy="83.26" r="0.8" fill="#0000ff"/><circle cx="359.78" cy="83.4" r="0.8" fill="#0000ff"/><circle cx="366.82" cy="83.53" r="0.8" fill="#0000ff"/><circle cx="373.86" cy="83.67" r="0.8" fill="#0000ff"/><circle cx="380.9" cy="83.8" r="0.8" fill="#0000ff"/><path d="M289.38 18.16 L295.92 65.9 L303.31 73.3 L310.46 76.88 L317.14 79.51 L324.29 81.18 L331.45 82.14 L381.05 83.57" fill="none" stroke="#ff00ff" stroke-width="0.6" stroke-opacity="0.8"/><circle cx="289.38" cy="18.16" r="0.8" fill="#ff00ff"/><circle cx="296.42" cy="66.41" r="0.8" fill="#ff00ff"/><circle cx="303.46" cy="73.38" r="0.8" fill="#ff00ff"/><circle cx="310.5" cy="76.9" r="0.8" fill="#ff00ff"/><circle cx="317.54" cy="79.6" r="0.8" fill="#ff00ff"/><circle cx="324.58" cy="81.22" r="0.8" fill="#ff00ff"/><circle cx="331.62" cy="82.14" r="0.8" fill="#ff00ff"/><circle cx="338.66" cy="82.34" r="0.8" fill="#ff00ff"/><circle cx="345.7" cy="82.55" r="0.8" fill="#ff00ff"/><circle cx="352.74" cy="82.75" r="0.8" fill="#ff00ff"/><circle cx="359.78" cy="82.95" r="0.8" fill="#ff00ff"/><circle cx="366.82" cy="83.16" r="0.8" fill="#ff00ff"/><circle cx="373.86" cy="83.36" r="0.8" fill="#ff00ff"/><circle cx="380.9" cy="83.56" r="0.8" fill="#ff00ff"/><path d="M289.38 19.35 L295.92 70.92 L303.31 76.41 L310.46 78.08 L317.14 79.51 L331.45 80.7 L381.05 81.66" fill="none" stroke="#00ff00" stroke-width="0.6" stroke-opacity="0.8"/><circle cx="289.38" cy="19.35" r="0.8" fill="#00ff00"/><circle cx="296.42" cy="71.29" r="0.8" fill="#00ff00"/><circle cx="303.46" cy="76.44" r="0.8" fill="#00ff00"/><circle cx="310.5" cy="78.09" r="0.8" fill="#00ff00"/><circle cx="317.54" cy="79.54" r="0.8" fill="#00ff00"/><circle cx="324.58" cy="80.13" r="0.8" fill="#00ff00"/><circle cx="331.62" cy="80.71" r="0.8" fill="#00ff00"/><circle cx="338.66" cy="80.84" r="0.8" fill="#00ff00"/><circle cx="345.7" cy="80.98" r="0.8" fill="#00ff00"/><circle cx="352.74" cy="81.11" r="0.8" fill="#00ff00"/><circle cx="359.78" cy="81.25" r="0.8" fill="#00ff00"/><circle cx="366.82" cy="81.38" r="0.8" fill="#00ff00"/><circle cx="373.86" cy="81.52" r="0.8" fill="#00ff00"/><circle cx="380.9" cy="81.66" r="0.8" fill="#00ff00"/><path d="M289.38 16.97 L295.92 68.29 L303.31 75.45 L317.14 79.75 L381.05 82.61" fill="none" stroke="#0000ff" stroke-width="0.6" stroke-opacity="0.8"/><path d="M289.38 18.16 L295.92 74.26 L303.31 80.23 L317.14 82.61 L381.05 83.81" fill="none" stroke="#ffff00" stroke-width="0.6" stroke-opacity="0.8"/><path d="M289.38 18.16 L295.92 75.69 L303.31 80.46 L317.14 83.09 L381.05 84.05" fill="none" stroke="#ffff00" stroke-width="0.6" stroke-opacity="0.8"/><circle cx="289.38" cy="18.16" r="0.8" fill="#ffff00"/><circle cx="296.42" cy="76.02" r="0.8" fill="#ffff00"/><circle cx="303.46" cy="80.49" r="0.8" fill="#ffff00"/><circle cx="310.5" cy="81.83" r="0.8" fill="#ffff00"/><circle cx="317.54" cy="83.1" r="0.8" fill="#ffff00"/><circle cx="324.58" cy="83.2" r="0.8" fill="#ffff00"/><circle cx="331.62" cy="83.31" r="0.8" fill="#ffff00"/><circle cx="338.66" cy="83.41" r="0.8" fill="#ffff00"/><circle cx="345.7" cy="83.52" r="0.8" fill="#ffff00"/><circle cx="352.74" cy="83.62" r="0.8" fill="#ffff00"/><circle cx="359.78" cy="83.73" r="0.8" fill="#ffff00"/><circle cx="366.82" cy="83.83" r="0.8" fill="#ffff00"/><circle cx="373.86" cy="83.94" r="0.8" fill="#ffff00"/><circle cx="380.9" cy="84.04" r="0.8" fill="#ffff00"/><path d="M289.38 24.85 L295.92 75.69 L303.31 81.42 L310.46 82.85 L317.14 83.57 L324.29 83.81 L331.45 83.81 L381.05 84.05" fill="none" stroke="#ff0000" stroke-width="0.6" stroke-opacity="0.8"/><circle cx="289.38" cy="24.85" r="0.8" fill="#ff0000"/><circle cx="296.42" cy="76.08" r="0.8" fill="#ff0000"/><circle cx="303.46" cy="81.45" r="0.8" fill="#ff0000"/><circle cx="310.5" cy="82.86" r="0.8" fill="#ff0000"/><circle cx="317.54" cy="83.58" r="0.8" fill="#ff0000"/><circle cx="324.58" cy="83.81" r="0.8" fill="#ff0000"/><circle cx="331.62" cy="83.81" r="0.8" fill="#ff0000"/><circle cx="338.66" cy="83.84" r="0.8" fill="#ff0000"/><circle cx="345.7" cy="83.88" r="0.8" fill="#ff0000"/><circle cx="352.74" cy="83.91" r="0.8" fill="#ff0000"/><circle cx="359.78" cy="83.94" r="0.8" fill="#ff0000"/><circle cx="366.82" cy="83.98" r="0.8" fill="#ff0000"/><circle cx="373.86" cy="84.01" r="0.8" fill="#ff0000"/><circle cx="380.9" cy="84.04" r="0.8" fill="#ff0000"/></g><rect x="289.5" y="11.5" width="92" height="73" fill="none" stroke="#666" stroke-width="0.35"/><path d="M298.7 84.5v-0.9M298.7 11.5v0.9M307.9 84.5v-0.9M307.9 11.5v0.9M317.1 84.5v-0.9M317.1 11.5v0.9M326.3 84.5v-0.9M326.3 11.5v0.9M335.5 84.5v-0.9M335.5 11.5v0.9M344.7 84.5v-0.9M344.7 11.5v0.9M353.9 84.5v-0.9M353.9 11.5v0.9M363.1 84.5v-0.9M363.1 11.5v0.9M372.3 84.5v-0.9M372.3 11.5v0.9M381.5 84.5v-0.9M381.5 11.5v0.9M289.5 34.9h0.9M381.5 34.9h-0.9M289.5 72h0.9M381.5 72h-0.9" stroke="#555" stroke-width="0.3" fill="none"/><g fill="#111"><text transform="translate(298.7 88.9) scale(0.1)" font-size="25" text-anchor="middle" fill="#222" stroke="#222" stroke-width="2">50</text><text transform="translate(307.9 88.9) scale(0.1)" font-size="25" text-anchor="middle" fill="#222" stroke="#222" stroke-width="2">100</text><text transform="translate(317.1 88.9) scale(0.1)" font-size="25" text-anchor="middle" fill="#222" stroke="#222" stroke-width="2">150</text><text transform="translate(326.3 88.9) scale(0.1)" font-size="25" text-anchor="middle" fill="#222" stroke="#222" stroke-width="2">200</text><text transform="translate(335.5 88.9) scale(0.1)" font-size="25" text-anchor="middle" fill="#222" stroke="#222" stroke-width="2">250</text><text transform="translate(344.7 88.9) scale(0.1)" font-size="25" text-anchor="middle" fill="#222" stroke="#222" stroke-width="2">300</text><text transform="translate(353.9 88.9) scale(0.1)" font-size="25" text-anchor="middle" fill="#222" stroke="#222" stroke-width="2">350</text><text transform="translate(363.1 88.9) scale(0.1)" font-size="25" text-anchor="middle" fill="#222" stroke="#222" stroke-width="2">400</text><text transform="translate(372.3 88.9) scale(0.1)" font-size="25" text-anchor="middle" fill="#222" stroke="#222" stroke-width="2">450</text><text transform="translate(381.5 88.9) scale(0.1)" font-size="25" text-anchor="middle" fill="#222" stroke="#222" stroke-width="2">500</text></g><g fill="#111"><text transform="translate(288.3 35.85) scale(0.1)" font-size="25" text-anchor="end" fill="#222" stroke="#222" stroke-width="2">10<tspan font-size="17.5" dy="-11.25">1</tspan></text><text transform="translate(288.3 72.95) scale(0.1)" font-size="25" text-anchor="end" fill="#222" stroke="#222" stroke-width="2">10<tspan font-size="17.5" dy="-11.25">0</tspan></text></g><text transform="translate(335.5 92.6) scale(0.1)" font-size="31" text-anchor="middle" fill="#222" stroke="#222" stroke-width="1">Iteration</text><text transform="translate(282.4 48) rotate(-90) scale(0.1)" font-size="31" text-anchor="middle" fill="#222" stroke="#222" stroke-width="1.2">Fitness function</text><text transform="translate(335.5 10.05) scale(0.1)" font-size="33" text-anchor="middle" fill="#333" stroke="#333" stroke-width="1">C04</text><g fill="#222"><rect x="357.5" y="14.4" width="22" height="49" fill="#fff" stroke="#666" stroke-width="0.3"/><path d="M358.4 16.3h8.2" stroke="#0000ff" stroke-width="0.5" stroke-opacity="0.6"/><text transform="translate(367.7 17.2) scale(0.1)" font-size="25" fill="#2a2a2a" stroke="#2a2a2a" stroke-width="1">SSA</text><path d="M358.4 19.78h8.2" stroke="#00ff00" stroke-width="0.5" stroke-opacity="0.6"/><circle cx="362.5" cy="19.78" r="0.7" fill="#00ff00"/><text transform="translate(367.7 20.68) scale(0.1)" font-size="25" fill="#2a2a2a" stroke="#2a2a2a" stroke-width="1">GWO</text><path d="M358.4 23.25h8.2" stroke="#806860" stroke-width="0.5" stroke-opacity="0.6"/><text transform="translate(367.7 24.15) scale(0.1)" font-size="25" fill="#2a2a2a" stroke="#2a2a2a" stroke-width="1">WOA</text><path d="M358.4 26.73h8.2" stroke="#ff00ff" stroke-width="0.5" stroke-opacity="0.6"/><circle cx="362.5" cy="26.73" r="0.7" fill="#ff00ff"/><text transform="translate(367.7 27.63) scale(0.1)" font-size="25" fill="#2a2a2a" stroke="#2a2a2a" stroke-width="1">PSO</text><path d="M358.4 30.21h8.2" stroke="#00ffff" stroke-width="0.5" stroke-opacity="0.6"/><circle cx="362.5" cy="30.21" r="0.7" fill="#00ffff"/><text transform="translate(367.7 31.11) scale(0.1)" font-size="25" fill="#2a2a2a" stroke="#2a2a2a" stroke-width="1">ABC</text><path d="M358.4 33.69h8.2" stroke="#000000" stroke-width="0.5" stroke-opacity="0.6"/><circle cx="362.5" cy="33.69" r="0.7" fill="#000000"/><text transform="translate(367.7 34.59) scale(0.1)" font-size="25" fill="#2a2a2a" stroke="#2a2a2a" stroke-width="1">FA</text><path d="M358.4 37.16h8.2" stroke="#ffff00" stroke-width="0.5" stroke-opacity="0.6"/><text transform="translate(367.7 38.06) scale(0.1)" font-size="25" fill="#2a2a2a" stroke="#2a2a2a" stroke-width="1">CMGWOA</text><path d="M358.4 40.64h8.2" stroke="#0000ff" stroke-width="0.5" stroke-opacity="0.6"/><circle cx="362.5" cy="40.64" r="0.7" fill="#0000ff"/><text transform="translate(367.7 41.54) scale(0.1)" font-size="25" fill="#2a2a2a" stroke="#2a2a2a" stroke-width="1">LSSA</text><path d="M358.4 44.12h8.2" stroke="#00ff00" stroke-width="0.5" stroke-opacity="0.6"/><circle cx="362.5" cy="44.12" r="0.7" fill="#00ff00"/><text transform="translate(367.7 45.02) scale(0.1)" font-size="25" fill="#2a2a2a" stroke="#2a2a2a" stroke-width="1">AGWO</text><path d="M358.4 47.59h8.2" stroke="#e8745e" stroke-width="0.5" stroke-opacity="0.6"/><text transform="translate(367.7 48.49) scale(0.1)" font-size="25" fill="#2a2a2a" stroke="#2a2a2a" stroke-width="1">DWOA</text><path d="M358.4 51.07h8.2" stroke="#ff00ff" stroke-width="0.5" stroke-opacity="0.6"/><circle cx="362.5" cy="51.07" r="0.7" fill="#ff00ff"/><text transform="translate(367.7 51.97) scale(0.1)" font-size="25" fill="#2a2a2a" stroke="#2a2a2a" stroke-width="1">OPPSO</text><path d="M358.4 54.55h8.2" stroke="#ffff00" stroke-width="0.5" stroke-opacity="0.6"/><circle cx="362.5" cy="54.55" r="0.7" fill="#ffff00"/><text transform="translate(367.7 55.45) scale(0.1)" font-size="25" fill="#2a2a2a" stroke="#2a2a2a" stroke-width="1">NSMO</text><path d="M358.4 58.02h8.2" stroke="#00ffff" stroke-width="0.5" stroke-opacity="0.6"/><circle cx="362.5" cy="58.02" r="0.7" fill="#00ffff"/><text transform="translate(367.7 58.92) scale(0.1)" font-size="25" fill="#2a2a2a" stroke="#2a2a2a" stroke-width="1">MSSTA</text><path d="M358.4 61.5h8.2" stroke="#ff0000" stroke-width="0.5" stroke-opacity="0.6"/><circle cx="362.5" cy="61.5" r="0.7" fill="#ff0000"/><text transform="translate(367.7 62.4) scale(0.1)" font-size="25" fill="#2a2a2a" stroke="#2a2a2a" stroke-width="1">WMSSSA</text></g></g>
<g><clipPath id="c01"><rect x="16.5" y="100.3" width="94" height="75.4"/></clipPath><g clip-path="url(#c01)"><path d="M17.38 111.55 L24.03 127.06 L39.08 132.55 L51.1 134.35 L61.97 135.56 L109.76 136.14" fill="none" stroke="#806860" stroke-width="0.65" stroke-opacity="0.85"/><path d="M17.38 115.13 L24.03 128.74 L39.08 134.23 L51.1 135.9 L61.97 136.85 L109.76 137.57" fill="none" stroke="#e8745e" stroke-width="0.65" stroke-opacity="0.85"/><path d="M17.38 124.68 L24.63 134.82 L31.31 135.42 L38.46 136.61 L45.62 137.81 L53.01 137.81 L59.45 138.28 L109.76 138.52" fill="none" stroke="#000000" stroke-width="0.6" stroke-opacity="0.45"/><circle cx="17.38" cy="124.68" r="0.8" fill="#000000"/><circle cx="24.42" cy="134.53" r="0.8" fill="#000000"/><circle cx="31.46" cy="135.44" r="0.8" fill="#000000"/><circle cx="38.5" cy="136.62" r="0.8" fill="#000000"/><circle cx="45.54" cy="137.79" r="0.8" fill="#000000"/><circle cx="52.58" cy="137.81" r="0.8" fill="#000000"/><circle cx="59.62" cy="138.28" r="0.8" fill="#000000"/><circle cx="66.66" cy="138.32" r="0.8" fill="#000000"/><circle cx="73.7" cy="138.35" r="0.8" fill="#000000"/><circle cx="80.74" cy="138.38" r="0.8" fill="#000000"/><circle cx="87.78" cy="138.42" r="0.8" fill="#000000"/><circle cx="94.82" cy="138.45" r="0.8" fill="#000000"/><circle cx="101.86" cy="138.49" r="0.8" fill="#000000"/><circle cx="108.9" cy="138.52" r="0.8" fill="#000000"/><path d="M17.38 106.77 L24.03 128.97 L31.31 132.55 L39.08 136.14 L45.62 137.81 L53.01 140.19 L59.45 142.58 L66.12 144.25 L73.75 145.68 L80.43 145.92 L109.76 146.4" fill="none" stroke="#0000ff" stroke-width="0.6" stroke-opacity="0.8"/><circle cx="17.38" cy="106.77" r="0.8" fill="#0000ff"/><circle cx="24.42" cy="129.16" r="0.8" fill="#0000ff"/><circle cx="31.46" cy="132.62" r="0.8" fill="#0000ff"/><circle cx="38.5" cy="135.87" r="0.8" fill="#0000ff"/><circle cx="45.54" cy="137.79" r="0.8" fill="#0000ff"/><circle cx="52.58" cy="140.06" r="0.8" fill="#0000ff"/><circle cx="59.62" cy="142.62" r="0.8" fill="#0000ff"/><circle cx="66.66" cy="144.35" r="0.8" fill="#0000ff"/><circle cx="73.7" cy="145.67" r="0.8" fill="#0000ff"/><circle cx="80.74" cy="145.93" r="0.8" fill="#0000ff"/><circle cx="87.78" cy="146.04" r="0.8" fill="#0000ff"/><circle cx="94.82" cy="146.16" r="0.8" fill="#0000ff"/><circle cx="101.86" cy="146.27" r="0.8" fill="#0000ff"/><circle cx="108.9" cy="146.39" r="0.8" fill="#0000ff"/><path d="M17.38 109.16 L24.63 137.33 L38.94 140.91 L51.1 143.3 L61.83 143.77 L109.76 144.49" fill="none" stroke="#0000ff" stroke-width="0.6" stroke-opacity="0.8"/><path d="M17.38 101.76 L24.63 141.39 L31.31 142.1 L38.46 142.58 L45.62 142.58 L53.01 143.06 L59.45 143.3 L109.76 143.54" fill="none" stroke="#00ff00" stroke-width="0.6" stroke-opacity="0.8"/><circle cx="17.38" cy="101.76" r="0.8" fill="#00ff00"/><circle cx="24.42" cy="140.24" r="0.8" fill="#00ff00"/><circle cx="31.46" cy="142.11" r="0.8" fill="#00ff00"/><circle cx="38.5" cy="142.58" r="0.8" fill="#00ff00"/><circle cx="45.54" cy="142.58" r="0.8" fill="#00ff00"/><circle cx="52.58" cy="143.03" r="0.8" fill="#00ff00"/><circle cx="59.62" cy="143.3" r="0.8" fill="#00ff00"/><circle cx="66.66" cy="143.33" r="0.8" fill="#00ff00"/><circle cx="73.7" cy="143.36" r="0.8" fill="#00ff00"/><circle cx="80.74" cy="143.4" r="0.8" fill="#00ff00"/><circle cx="87.78" cy="143.43" r="0.8" fill="#00ff00"/><circle cx="94.82" cy="143.46" r="0.8" fill="#00ff00"/><circle cx="101.86" cy="143.5" r="0.8" fill="#00ff00"/><circle cx="108.9" cy="143.53" r="0.8" fill="#00ff00"/><path d="M17.38 113.94 L24.63 142.1 L31.31 146.88 L38.46 149.98 L45.62 151.65 L61.83 152.37 L109.76 153.32" fill="none" stroke="#ffff00" stroke-width="0.6" stroke-opacity="0.8"/><path d="M17.38 104.39 L24.63 144.49 L31.31 145.68 L38.46 146.88 L45.62 148.07 L53.01 149.26 L59.45 149.74 L66.12 150.94 L73.52 152.8 L80.43 154.64 L87.82 157.62 L94.5 162.63 L101.89 166.33 L109.76 169.55" fill="none" stroke="#00ff00" stroke-width="0.6" stroke-opacity="0.8"/><circle cx="17.38" cy="104.39" r="0.8" fill="#00ff00"/><circle cx="24.42" cy="143.32" r="0.8" fill="#00ff00"/><circle cx="31.46" cy="145.71" r="0.8" fill="#00ff00"/><circle cx="38.5" cy="146.88" r="0.8" fill="#00ff00"/><circle cx="45.54" cy="148.06" r="0.8" fill="#00ff00"/><circle cx="52.58" cy="149.2" r="0.8" fill="#00ff00"/><circle cx="59.62" cy="149.77" r="0.8" fill="#00ff00"/><circle cx="66.66" cy="151.07" r="0.8" fill="#00ff00"/><circle cx="73.7" cy="152.85" r="0.8" fill="#00ff00"/><circle cx="80.74" cy="154.76" r="0.8" fill="#00ff00"/><circle cx="87.78" cy="157.6" r="0.8" fill="#00ff00"/><circle cx="94.82" cy="162.79" r="0.8" fill="#00ff00"/><circle cx="101.86" cy="166.32" r="0.8" fill="#00ff00"/><circle cx="108.9" cy="169.2" r="0.8" fill="#00ff00"/><path d="M17.38 111.55 L24.63 142.1 L31.31 145.45 L38.46 146.16 L45.62 150.94 L53.01 153.32 L59.45 154.75 L66.12 155.23 L73.75 155.95 L80.43 156.43 L87.82 157.14 L94.5 157.74 L101.89 158.34 L109.76 159.05" fill="none" stroke="#00ffff" stroke-width="0.6" stroke-opacity="0.8"/><circle cx="17.38" cy="111.55" r="0.8" fill="#00ffff"/><circle cx="24.42" cy="141.22" r="0.8" fill="#00ffff"/><circle cx="31.46" cy="145.46" r="0.8" fill="#00ffff"/><circle cx="38.5" cy="146.19" r="0.8" fill="#00ffff"/><circle cx="45.54" cy="150.89" r="0.8" fill="#00ffff"/><circle cx="52.58" cy="153.18" r="0.8" fill="#00ffff"/><circle cx="59.62" cy="154.77" r="0.8" fill="#00ffff"/><circle cx="66.66" cy="155.28" r="0.8" fill="#00ffff"/><circle cx="73.7" cy="155.94" r="0.8" fill="#00ffff"/><circle cx="80.74" cy="156.46" r="0.8" fill="#00ffff"/><circle cx="87.78" cy="157.14" r="0.8" fill="#00ffff"/><circle cx="94.82" cy="157.76" r="0.8" fill="#00ffff"/><circle cx="101.86" cy="158.33" r="0.8" fill="#00ffff"/><circle cx="108.9" cy="158.97" r="0.8" fill="#00ffff"/><path d="M17.38 122.29 L24.63 143.77 L31.31 148.55 L38.46 150.94 L45.62 153.32 L53.01 155.71 L59.45 157.38 L74.23 159.29 L109.76 161.68" fill="none" stroke="#00ffff" stroke-width="0.6" stroke-opacity="0.8"/><circle cx="17.38" cy="122.29" r="0.8" fill="#00ffff"/><circle cx="24.42" cy="143.15" r="0.8" fill="#00ffff"/><circle cx="31.46" cy="148.6" r="0.8" fill="#00ffff"/><circle cx="38.5" cy="150.95" r="0.8" fill="#00ffff"/><circle cx="45.54" cy="153.3" r="0.8" fill="#00ffff"/><circle cx="52.58" cy="155.57" r="0.8" fill="#00ffff"/><circle cx="59.62" cy="157.4" r="0.8" fill="#00ffff"/><circle cx="66.66" cy="158.31" r="0.8" fill="#00ffff"/><circle cx="73.7" cy="159.22" r="0.8" fill="#00ffff"/><circle cx="80.74" cy="159.73" r="0.8" fill="#00ffff"/><circle cx="87.78" cy="160.2" r="0.8" fill="#00ffff"/><circle cx="94.82" cy="160.67" r="0.8" fill="#00ffff"/><circle cx="101.86" cy="161.15" r="0.8" fill="#00ffff"/><circle cx="108.9" cy="161.62" r="0.8" fill="#00ffff"/><path d="M17.38 107.25 L24.63 135.42 L31.31 138.43 L38.46 139 L45.62 142.1 L53.01 152.13 L59.45 158.93 L67.08 160.72 L109.76 161.44" fill="none" stroke="#ff00ff" stroke-width="0.6" stroke-opacity="0.8"/><circle cx="17.38" cy="107.25" r="0.8" fill="#ff00ff"/><circle cx="24.42" cy="134.6" r="0.8" fill="#ff00ff"/><circle cx="31.46" cy="138.44" r="0.8" fill="#ff00ff"/><circle cx="38.5" cy="139.02" r="0.8" fill="#ff00ff"/><circle cx="45.54" cy="142.07" r="0.8" fill="#ff00ff"/><circle cx="52.58" cy="151.55" r="0.8" fill="#ff00ff"/><circle cx="59.62" cy="158.97" r="0.8" fill="#ff00ff"/><circle cx="66.66" cy="160.62" r="0.8" fill="#ff00ff"/><circle cx="73.7" cy="160.83" r="0.8" fill="#ff00ff"/><circle cx="80.74" cy="160.95" r="0.8" fill="#ff00ff"/><circle cx="87.78" cy="161.07" r="0.8" fill="#ff00ff"/><circle cx="94.82" cy="161.19" r="0.8" fill="#ff00ff"/><circle cx="101.86" cy="161.31" r="0.8" fill="#ff00ff"/><circle cx="108.9" cy="161.42" r="0.8" fill="#ff00ff"/><path d="M17.38 117.99 L19.86 129.93 L24.63 158.57 L31.31 164.06 L38.46 165.26 L45.62 165.5 L53.01 165.5 L59.45 165.5 L109.76 165.97" fill="none" stroke="#ff0000" stroke-width="0.6" stroke-opacity="0.8"/><circle cx="17.38" cy="117.99" r="0.8" fill="#ff0000"/><circle cx="24.42" cy="157.31" r="0.8" fill="#ff0000"/><circle cx="31.46" cy="164.09" r="0.8" fill="#ff0000"/><circle cx="38.5" cy="165.26" r="0.8" fill="#ff0000"/><circle cx="45.54" cy="165.49" r="0.8" fill="#ff0000"/><circle cx="52.58" cy="165.5" r="0.8" fill="#ff0000"/><circle cx="59.62" cy="165.5" r="0.8" fill="#ff0000"/><circle cx="66.66" cy="165.57" r="0.8" fill="#ff0000"/><circle cx="73.7" cy="165.63" r="0.8" fill="#ff0000"/><circle cx="80.74" cy="165.7" r="0.8" fill="#ff0000"/><circle cx="87.78" cy="165.77" r="0.8" fill="#ff0000"/><circle cx="94.82" cy="165.83" r="0.8" fill="#ff0000"/><circle cx="101.86" cy="165.9" r="0.8" fill="#ff0000"/><circle cx="108.9" cy="165.97" r="0.8" fill="#ff0000"/><path d="M17.38 112.74 L24.63 145.68 L31.31 152.37 L38.46 158.93 L45.62 161.92 L53.01 164.3 L59.45 166.21 L66.12 168.84 L73.75 170.03 L80.43 171.23 L87.82 172.42 L94.5 173.14 L101.89 173.61 L109.76 174.33" fill="none" stroke="#ffff00" stroke-width="0.6" stroke-opacity="0.8"/><circle cx="17.38" cy="112.74" r="0.8" fill="#ffff00"/><circle cx="24.42" cy="144.73" r="0.8" fill="#ffff00"/><circle cx="31.46" cy="152.51" r="0.8" fill="#ffff00"/><circle cx="38.5" cy="158.95" r="0.8" fill="#ffff00"/><circle cx="45.54" cy="161.88" r="0.8" fill="#ffff00"/><circle cx="52.58" cy="164.17" r="0.8" fill="#ffff00"/><circle cx="59.62" cy="166.28" r="0.8" fill="#ffff00"/><circle cx="66.66" cy="168.92" r="0.8" fill="#ffff00"/><circle cx="73.7" cy="170.02" r="0.8" fill="#ffff00"/><circle cx="80.74" cy="171.28" r="0.8" fill="#ffff00"/><circle cx="87.78" cy="172.41" r="0.8" fill="#ffff00"/><circle cx="94.82" cy="173.16" r="0.8" fill="#ffff00"/><circle cx="101.86" cy="173.61" r="0.8" fill="#ffff00"/><circle cx="108.9" cy="174.25" r="0.8" fill="#ffff00"/></g><rect x="17.5" y="101.5" width="92" height="73" fill="none" stroke="#666" stroke-width="0.35"/><path d="M26.7 174.5v-0.9M26.7 101.5v0.9M35.9 174.5v-0.9M35.9 101.5v0.9M45.1 174.5v-0.9M45.1 101.5v0.9M54.3 174.5v-0.9M54.3 101.5v0.9M63.5 174.5v-0.9M63.5 101.5v0.9M72.7 174.5v-0.9M72.7 101.5v0.9M81.9 174.5v-0.9M81.9 101.5v0.9M91.1 174.5v-0.9M91.1 101.5v0.9M100.3 174.5v-0.9M100.3 101.5v0.9M109.5 174.5v-0.9M109.5 101.5v0.9M17.5 106.2h0.9M109.5 106.2h-0.9M17.5 116.3h0.9M109.5 116.3h-0.9M17.5 127.3h0.9M109.5 127.3h-0.9M17.5 139.3h0.9M109.5 139.3h-0.9M17.5 152.7h0.9M109.5 152.7h-0.9M17.5 168.6h0.9M109.5 168.6h-0.9" stroke="#555" stroke-width="0.3" fill="none"/><g fill="#111"><text transform="translate(26.7 178.9) scale(0.1)" font-size="25" text-anchor="middle" fill="#222" stroke="#222" stroke-width="2">50</text><text transform="translate(35.9 178.9) scale(0.1)" font-size="25" text-anchor="middle" fill="#222" stroke="#222" stroke-width="2">100</text><text transform="translate(45.1 178.9) scale(0.1)" font-size="25" text-anchor="middle" fill="#222" stroke="#222" stroke-width="2">150</text><text transform="translate(54.3 178.9) scale(0.1)" font-size="25" text-anchor="middle" fill="#222" stroke="#222" stroke-width="2">200</text><text transform="translate(63.5 178.9) scale(0.1)" font-size="25" text-anchor="middle" fill="#222" stroke="#222" stroke-width="2">250</text><text transform="translate(72.7 178.9) scale(0.1)" font-size="25" text-anchor="middle" fill="#222" stroke="#222" stroke-width="2">300</text><text transform="translate(81.9 178.9) scale(0.1)" font-size="25" text-anchor="middle" fill="#222" stroke="#222" stroke-width="2">350</text><text transform="translate(91.1 178.9) scale(0.1)" font-size="25" text-anchor="middle" fill="#222" stroke="#222" stroke-width="2">400</text><text transform="translate(100.3 178.9) scale(0.1)" font-size="25" text-anchor="middle" fill="#222" stroke="#222" stroke-width="2">450</text><text transform="translate(109.5 178.9) scale(0.1)" font-size="25" text-anchor="middle" fill="#222" stroke="#222" stroke-width="2">500</text></g><g fill="#111"><text transform="translate(16.5 107.1) scale(0.1)" font-size="25" text-anchor="end" fill="#222" stroke="#222" stroke-width="2">1200</text><text transform="translate(16.5 117.2) scale(0.1)" font-size="25" text-anchor="end" fill="#222" stroke="#222" stroke-width="2">1100</text><text transform="translate(16.5 128.2) scale(0.1)" font-size="25" text-anchor="end" fill="#222" stroke="#222" stroke-width="2">1000</text><text transform="translate(16.5 140.2) scale(0.1)" font-size="25" text-anchor="end" fill="#222" stroke="#222" stroke-width="2">900</text><text transform="translate(16.5 153.6) scale(0.1)" font-size="25" text-anchor="end" fill="#222" stroke="#222" stroke-width="2">800</text><text transform="translate(16.5 169.5) scale(0.1)" font-size="25" text-anchor="end" fill="#222" stroke="#222" stroke-width="2">700</text></g><text transform="translate(63.5 182.6) scale(0.1)" font-size="31" text-anchor="middle" fill="#222" stroke="#222" stroke-width="1">Iteration</text><text transform="translate(8.2 138) rotate(-90) scale(0.1)" font-size="31" text-anchor="middle" fill="#222" stroke="#222" stroke-width="1.2">Fitness function</text><text transform="translate(63.5 100.05) scale(0.1)" font-size="33" text-anchor="middle" fill="#333" stroke="#333" stroke-width="1">C05</text><g fill="#222"><rect x="85.5" y="104.4" width="22" height="49" fill="#fff" stroke="#666" stroke-width="0.3"/><path d="M86.4 106.3h8.2" stroke="#0000ff" stroke-width="0.5" stroke-opacity="0.6"/><text transform="translate(95.7 107.2) scale(0.1)" font-size="25" fill="#2a2a2a" stroke="#2a2a2a" stroke-width="1">SSA</text><path d="M86.4 109.78h8.2" stroke="#00ff00" stroke-width="0.5" stroke-opacity="0.6"/><circle cx="90.5" cy="109.78" r="0.7" fill="#00ff00"/><text transform="translate(95.7 110.68) scale(0.1)" font-size="25" fill="#2a2a2a" stroke="#2a2a2a" stroke-width="1">GWO</text><path d="M86.4 113.25h8.2" stroke="#806860" stroke-width="0.5" stroke-opacity="0.6"/><text transform="translate(95.7 114.15) scale(0.1)" font-size="25" fill="#2a2a2a" stroke="#2a2a2a" stroke-width="1">WOA</text><path d="M86.4 116.73h8.2" stroke="#ff00ff" stroke-width="0.5" stroke-opacity="0.6"/><circle cx="90.5" cy="116.73" r="0.7" fill="#ff00ff"/><text transform="translate(95.7 117.63) scale(0.1)" font-size="25" fill="#2a2a2a" stroke="#2a2a2a" stroke-width="1">PSO</text><path d="M86.4 120.21h8.2" stroke="#00ffff" stroke-width="0.5" stroke-opacity="0.6"/><circle cx="90.5" cy="120.21" r="0.7" fill="#00ffff"/><text transform="translate(95.7 121.11) scale(0.1)" font-size="25" fill="#2a2a2a" stroke="#2a2a2a" stroke-width="1">ABC</text><path d="M86.4 123.69h8.2" stroke="#000000" stroke-width="0.5" stroke-opacity="0.6"/><circle cx="90.5" cy="123.69" r="0.7" fill="#000000"/><text transform="translate(95.7 124.59) scale(0.1)" font-size="25" fill="#2a2a2a" stroke="#2a2a2a" stroke-width="1">FA</text><path d="M86.4 127.16h8.2" stroke="#ffff00" stroke-width="0.5" stroke-opacity="0.6"/><text transform="translate(95.7 128.06) scale(0.1)" font-size="25" fill="#2a2a2a" stroke="#2a2a2a" stroke-width="1">CMGWOA</text><path d="M86.4 130.64h8.2" stroke="#0000ff" stroke-width="0.5" stroke-opacity="0.6"/><circle cx="90.5" cy="130.64" r="0.7" fill="#0000ff"/><text transform="translate(95.7 131.54) scale(0.1)" font-size="25" fill="#2a2a2a" stroke="#2a2a2a" stroke-width="1">LSSA</text><path d="M86.4 134.12h8.2" stroke="#00ff00" stroke-width="0.5" stroke-opacity="0.6"/><circle cx="90.5" cy="134.12" r="0.7" fill="#00ff00"/><text transform="translate(95.7 135.02) scale(0.1)" font-size="25" fill="#2a2a2a" stroke="#2a2a2a" stroke-width="1">AGWO</text><path d="M86.4 137.59h8.2" stroke="#e8745e" stroke-width="0.5" stroke-opacity="0.6"/><text transform="translate(95.7 138.49) scale(0.1)" font-size="25" fill="#2a2a2a" stroke="#2a2a2a" stroke-width="1">DWOA</text><path d="M86.4 141.07h8.2" stroke="#ff00ff" stroke-width="0.5" stroke-opacity="0.6"/><circle cx="90.5" cy="141.07" r="0.7" fill="#ff00ff"/><text transform="translate(95.7 141.97) scale(0.1)" font-size="25" fill="#2a2a2a" stroke="#2a2a2a" stroke-width="1">OPPSO</text><path d="M86.4 144.55h8.2" stroke="#ffff00" stroke-width="0.5" stroke-opacity="0.6"/><circle cx="90.5" cy="144.55" r="0.7" fill="#ffff00"/><text transform="translate(95.7 145.45) scale(0.1)" font-size="25" fill="#2a2a2a" stroke="#2a2a2a" stroke-width="1">NSMO</text><path d="M86.4 148.02h8.2" stroke="#00ffff" stroke-width="0.5" stroke-opacity="0.6"/><circle cx="90.5" cy="148.02" r="0.7" fill="#00ffff"/><text transform="translate(95.7 148.92) scale(0.1)" font-size="25" fill="#2a2a2a" stroke="#2a2a2a" stroke-width="1">MSSTA</text><path d="M86.4 151.5h8.2" stroke="#ff0000" stroke-width="0.5" stroke-opacity="0.6"/><circle cx="90.5" cy="151.5" r="0.7" fill="#ff0000"/><text transform="translate(95.7 152.4) scale(0.1)" font-size="25" fill="#2a2a2a" stroke="#2a2a2a" stroke-width="1">WMSSSA</text></g></g>
<g><clipPath id="c11"><rect x="152.5" y="100.3" width="94" height="75.4"/></clipPath><g clip-path="url(#c11)"><path d="M153.38 103.19 L160.15 126.83 L167 128.62 L174.37 129.93 L181.76 131.12 L199.02 131.84 L244.09 132.08" fill="none" stroke="#e8745e" stroke-width="0.65" stroke-opacity="0.85"/><path d="M153.38 104.39 L160.15 128.02 L167 129.86 L181.76 131.7 L199.02 132.55 L244.09 133.03" fill="none" stroke="#806860" stroke-width="0.65" stroke-opacity="0.85"/><path d="M153.38 105.58 L160.15 129.86 L167 133.75 L174.37 134.46 L181.76 134.77 L188.53 135.01 L195.3 135.18 L244.09 135.42" fill="none" stroke="#ff00ff" stroke-width="0.6" stroke-opacity="0.8"/><circle cx="153.38" cy="105.58" r="0.8" fill="#ff00ff"/><circle cx="160.42" cy="130.01" r="0.8" fill="#ff00ff"/><circle cx="167.46" cy="133.79" r="0.8" fill="#ff00ff"/><circle cx="174.5" cy="134.47" r="0.8" fill="#ff00ff"/><circle cx="181.54" cy="134.77" r="0.8" fill="#ff00ff"/><circle cx="188.58" cy="135.01" r="0.8" fill="#ff00ff"/><circle cx="195.62" cy="135.18" r="0.8" fill="#ff00ff"/><circle cx="202.66" cy="135.22" r="0.8" fill="#ff00ff"/><circle cx="209.7" cy="135.25" r="0.8" fill="#ff00ff"/><circle cx="216.74" cy="135.29" r="0.8" fill="#ff00ff"/><circle cx="223.78" cy="135.32" r="0.8" fill="#ff00ff"/><circle cx="230.82" cy="135.35" r="0.8" fill="#ff00ff"/><circle cx="237.86" cy="135.39" r="0.8" fill="#ff00ff"/><circle cx="244.9" cy="135.42" r="0.8" fill="#ff00ff"/><path d="M153.38 126.11 L160.15 136.02 L167 137.85 L174.37 138.24 L181.76 138.47 L188.53 138.71 L195.3 139.1 L244.09 139.48" fill="none" stroke="#000000" stroke-width="0.6" stroke-opacity="0.45"/><circle cx="153.38" cy="126.11" r="0.8" fill="#000000"/><circle cx="160.42" cy="136.09" r="0.8" fill="#000000"/><circle cx="167.46" cy="137.88" r="0.8" fill="#000000"/><circle cx="174.5" cy="138.24" r="0.8" fill="#000000"/><circle cx="181.54" cy="138.47" r="0.8" fill="#000000"/><circle cx="188.58" cy="138.72" r="0.8" fill="#000000"/><circle cx="195.62" cy="139.1" r="0.8" fill="#000000"/><circle cx="202.66" cy="139.15" r="0.8" fill="#000000"/><circle cx="209.7" cy="139.21" r="0.8" fill="#000000"/><circle cx="216.74" cy="139.26" r="0.8" fill="#000000"/><circle cx="223.78" cy="139.32" r="0.8" fill="#000000"/><circle cx="230.82" cy="139.37" r="0.8" fill="#000000"/><circle cx="237.86" cy="139.43" r="0.8" fill="#000000"/><circle cx="244.9" cy="139.48" r="0.8" fill="#000000"/><path d="M153.38 102 L160.15 137.81 L167 140.19 L181.76 142.58 L199.02 144.73 L244.09 145.21" fill="none" stroke="#0000ff" stroke-width="0.6" stroke-opacity="0.8"/><path d="M153.38 109.16 L160.15 140.31 L167 142.8 L174.37 143.39 L244.09 143.54" fill="none" stroke="#00ff00" stroke-width="0.6" stroke-opacity="0.8"/><circle cx="153.38" cy="109.16" r="0.8" fill="#00ff00"/><circle cx="160.42" cy="140.41" r="0.8" fill="#00ff00"/><circle cx="167.46" cy="142.83" r="0.8" fill="#00ff00"/><circle cx="174.5" cy="143.39" r="0.8" fill="#00ff00"/><circle cx="181.54" cy="143.41" r="0.8" fill="#00ff00"/><circle cx="188.58" cy="143.42" r="0.8" fill="#00ff00"/><circle cx="195.62" cy="143.44" r="0.8" fill="#00ff00"/><circle cx="202.66" cy="143.45" r="0.8" fill="#00ff00"/><circle cx="209.7" cy="143.46" r="0.8" fill="#00ff00"/><circle cx="216.74" cy="143.48" r="0.8" fill="#00ff00"/><circle cx="223.78" cy="143.49" r="0.8" fill="#00ff00"/><circle cx="230.82" cy="143.51" r="0.8" fill="#00ff00"/><circle cx="237.86" cy="143.52" r="0.8" fill="#00ff00"/><circle cx="244.9" cy="143.54" r="0.8" fill="#00ff00"/><path d="M153.38 103.19 L160.15 132.32 L167 137.23 L174.37 140.91 L181.76 144.63 L188.53 146.47 L195.3 147.71 L202.29 148.93 L209.66 149.93 L216.43 150.55 L244.09 151.17" fill="none" stroke="#0000ff" stroke-width="0.6" stroke-opacity="0.8"/><circle cx="153.38" cy="103.19" r="0.8" fill="#0000ff"/><circle cx="160.42" cy="132.51" r="0.8" fill="#0000ff"/><circle cx="167.46" cy="137.46" r="0.8" fill="#0000ff"/><circle cx="174.5" cy="140.98" r="0.8" fill="#0000ff"/><circle cx="181.54" cy="144.52" r="0.8" fill="#0000ff"/><circle cx="188.58" cy="146.48" r="0.8" fill="#0000ff"/><circle cx="195.62" cy="147.77" r="0.8" fill="#0000ff"/><circle cx="202.66" cy="148.98" r="0.8" fill="#0000ff"/><circle cx="209.7" cy="149.94" r="0.8" fill="#0000ff"/><circle cx="216.74" cy="150.56" r="0.8" fill="#0000ff"/><circle cx="223.78" cy="150.72" r="0.8" fill="#0000ff"/><circle cx="230.82" cy="150.88" r="0.8" fill="#0000ff"/><circle cx="237.86" cy="151.03" r="0.8" fill="#0000ff"/><circle cx="244.9" cy="151.17" r="0.8" fill="#0000ff"/><path d="M153.38 116.32 L160.15 139.72 L167 145.21 L174.37 147.71 L181.76 148.95 L199.02 149.5 L244.09 150.94" fill="none" stroke="#ffff00" stroke-width="0.6" stroke-opacity="0.8"/><path d="M153.38 106.77 L160.15 137.81 L167 140.91 L174.37 143.39 L181.76 145.87 L188.53 149.55 L195.3 152.61 L202.29 154.52 L209.66 155.35 L216.43 155.47 L244.09 155.47" fill="none" stroke="#ff00ff" stroke-width="0.6" stroke-opacity="0.8"/><circle cx="153.38" cy="106.77" r="0.8" fill="#ff00ff"/><circle cx="160.42" cy="137.93" r="0.8" fill="#ff00ff"/><circle cx="167.46" cy="141.07" r="0.8" fill="#ff00ff"/><circle cx="174.5" cy="143.44" r="0.8" fill="#ff00ff"/><circle cx="181.54" cy="145.8" r="0.8" fill="#ff00ff"/><circle cx="188.58" cy="149.57" r="0.8" fill="#ff00ff"/><circle cx="195.62" cy="152.69" r="0.8" fill="#ff00ff"/><circle cx="202.66" cy="154.56" r="0.8" fill="#ff00ff"/><circle cx="209.7" cy="155.35" r="0.8" fill="#ff00ff"/><circle cx="216.74" cy="155.47" r="0.8" fill="#ff00ff"/><circle cx="223.78" cy="155.47" r="0.8" fill="#ff00ff"/><circle cx="230.82" cy="155.47" r="0.8" fill="#ff00ff"/><circle cx="237.86" cy="155.47" r="0.8" fill="#ff00ff"/><circle cx="244.9" cy="155.47" r="0.8" fill="#ff00ff"/><path d="M153.38 102.48 L160.15 152.61 L167 155.71 L174.37 156.33 L181.76 158.19 L188.53 160.01 L195.3 161.27 L202.29 162.49 L209.66 164.35 L216.43 165.33 L223.82 166.55 L230.5 167.41 L237.34 168.65 L244.09 169.89" fill="none" stroke="#00ff00" stroke-width="0.6" stroke-opacity="0.8"/><circle cx="153.38" cy="102.48" r="0.8" fill="#00ff00"/><circle cx="160.42" cy="152.73" r="0.8" fill="#00ff00"/><circle cx="167.46" cy="155.75" r="0.8" fill="#00ff00"/><circle cx="174.5" cy="156.36" r="0.8" fill="#00ff00"/><circle cx="181.54" cy="158.14" r="0.8" fill="#00ff00"/><circle cx="188.58" cy="160.02" r="0.8" fill="#00ff00"/><circle cx="195.62" cy="161.33" r="0.8" fill="#00ff00"/><circle cx="202.66" cy="162.58" r="0.8" fill="#00ff00"/><circle cx="209.7" cy="164.36" r="0.8" fill="#00ff00"/><circle cx="216.74" cy="165.38" r="0.8" fill="#00ff00"/><circle cx="223.78" cy="166.54" r="0.8" fill="#00ff00"/><circle cx="230.82" cy="167.46" r="0.8" fill="#00ff00"/><circle cx="237.86" cy="168.74" r="0.8" fill="#00ff00"/><circle cx="244.9" cy="169.89" r="0.8" fill="#00ff00"/><path d="M153.38 111.55 L158.39 138.47 L160.15 143.39 L167 148.95 L174.37 155.11 L181.76 159.41 L188.53 162.49 L195.3 164.54 L202.29 165.97 L216.43 168.36 L244.09 171.23" fill="none" stroke="#00ffff" stroke-width="0.6" stroke-opacity="0.8"/><circle cx="153.38" cy="111.55" r="0.8" fill="#00ffff"/><circle cx="160.42" cy="143.61" r="0.8" fill="#00ffff"/><circle cx="167.46" cy="149.34" r="0.8" fill="#00ffff"/><circle cx="174.5" cy="155.19" r="0.8" fill="#00ffff"/><circle cx="181.54" cy="159.28" r="0.8" fill="#00ffff"/><circle cx="188.58" cy="162.5" r="0.8" fill="#00ffff"/><circle cx="195.62" cy="164.61" r="0.8" fill="#00ffff"/><circle cx="202.66" cy="166.04" r="0.8" fill="#00ffff"/><circle cx="209.7" cy="167.23" r="0.8" fill="#00ffff"/><circle cx="216.74" cy="168.39" r="0.8" fill="#00ffff"/><circle cx="223.78" cy="169.12" r="0.8" fill="#00ffff"/><circle cx="230.82" cy="169.85" r="0.8" fill="#00ffff"/><circle cx="237.86" cy="170.58" r="0.8" fill="#00ffff"/><circle cx="244.9" cy="171.23" r="0.8" fill="#00ffff"/><path d="M153.38 113.94 L160.15 146.16 L167 153.32 L174.37 158.1 L181.76 161.68 L188.53 164.54 L195.3 166.93 L202.29 169.27 L209.66 170.51 L216.43 171.11 L230.5 171.7 L244.09 172.97" fill="none" stroke="#00ffff" stroke-width="0.6" stroke-opacity="0.8"/><circle cx="153.38" cy="113.94" r="0.8" fill="#00ffff"/><circle cx="160.42" cy="146.44" r="0.8" fill="#00ffff"/><circle cx="167.46" cy="153.62" r="0.8" fill="#00ffff"/><circle cx="174.5" cy="158.16" r="0.8" fill="#00ffff"/><circle cx="181.54" cy="161.57" r="0.8" fill="#00ffff"/><circle cx="188.58" cy="164.56" r="0.8" fill="#00ffff"/><circle cx="195.62" cy="167.04" r="0.8" fill="#00ffff"/><circle cx="202.66" cy="169.33" r="0.8" fill="#00ffff"/><circle cx="209.7" cy="170.51" r="0.8" fill="#00ffff"/><circle cx="216.74" cy="171.12" r="0.8" fill="#00ffff"/><circle cx="223.78" cy="171.42" r="0.8" fill="#00ffff"/><circle cx="230.82" cy="171.73" r="0.8" fill="#00ffff"/><circle cx="237.86" cy="172.39" r="0.8" fill="#00ffff"/><circle cx="244.9" cy="172.97" r="0.8" fill="#00ffff"/><path d="M153.38 111.55 L155.86 132.32 L160.15 162.49 L167 168.65 L174.37 170.51 L181.76 171.7 L199.02 173.57 L244.09 173.85" fill="none" stroke="#ffff00" stroke-width="0.6" stroke-opacity="0.8"/><circle cx="153.38" cy="111.55" r="0.8" fill="#ffff00"/><circle cx="160.42" cy="162.73" r="0.8" fill="#ffff00"/><circle cx="167.46" cy="168.76" r="0.8" fill="#ffff00"/><circle cx="174.5" cy="170.53" r="0.8" fill="#ffff00"/><circle cx="181.54" cy="171.67" r="0.8" fill="#ffff00"/><circle cx="188.58" cy="172.44" r="0.8" fill="#ffff00"/><circle cx="195.62" cy="173.2" r="0.8" fill="#ffff00"/><circle cx="202.66" cy="173.59" r="0.8" fill="#ffff00"/><circle cx="209.7" cy="173.63" r="0.8" fill="#ffff00"/><circle cx="216.74" cy="173.68" r="0.8" fill="#ffff00"/><circle cx="223.78" cy="173.72" r="0.8" fill="#ffff00"/><circle cx="230.82" cy="173.77" r="0.8" fill="#ffff00"/><circle cx="237.86" cy="173.81" r="0.8" fill="#ffff00"/><circle cx="244.9" cy="173.85" r="0.8" fill="#ffff00"/><path d="M153.38 112.74 L153.45 119.9 L160.15 148.95 L167 163.11 L174.37 168.65 L181.76 171.7 L188.53 172.66 L195.3 173.57 L244.09 173.97" fill="none" stroke="#ff0000" stroke-width="0.6" stroke-opacity="0.8"/><circle cx="153.38" cy="112.74" r="0.8" fill="#ff0000"/><circle cx="160.42" cy="149.5" r="0.8" fill="#ff0000"/><circle cx="167.46" cy="163.46" r="0.8" fill="#ff0000"/><circle cx="174.5" cy="168.7" r="0.8" fill="#ff0000"/><circle cx="181.54" cy="171.61" r="0.8" fill="#ff0000"/><circle cx="188.58" cy="172.66" r="0.8" fill="#ff0000"/><circle cx="195.62" cy="173.57" r="0.8" fill="#ff0000"/><circle cx="202.66" cy="173.63" r="0.8" fill="#ff0000"/><circle cx="209.7" cy="173.68" r="0.8" fill="#ff0000"/><circle cx="216.74" cy="173.74" r="0.8" fill="#ff0000"/><circle cx="223.78" cy="173.8" r="0.8" fill="#ff0000"/><circle cx="230.82" cy="173.86" r="0.8" fill="#ff0000"/><circle cx="237.86" cy="173.92" r="0.8" fill="#ff0000"/><circle cx="244.9" cy="173.97" r="0.8" fill="#ff0000"/></g><rect x="153.5" y="101.5" width="92" height="73" fill="none" stroke="#666" stroke-width="0.35"/><path d="M162.7 174.5v-0.9M162.7 101.5v0.9M171.9 174.5v-0.9M171.9 101.5v0.9M181.1 174.5v-0.9M181.1 101.5v0.9M190.3 174.5v-0.9M190.3 101.5v0.9M199.5 174.5v-0.9M199.5 101.5v0.9M208.7 174.5v-0.9M208.7 101.5v0.9M217.9 174.5v-0.9M217.9 101.5v0.9M227.1 174.5v-0.9M227.1 101.5v0.9M236.3 174.5v-0.9M236.3 101.5v0.9M245.5 174.5v-0.9M245.5 101.5v0.9M153.5 108.9h0.9M245.5 108.9h-0.9M153.5 119.1h0.9M245.5 119.1h-0.9M153.5 129.3h0.9M245.5 129.3h-0.9M153.5 140.2h0.9M245.5 140.2h-0.9M153.5 151.5h0.9M245.5 151.5h-0.9M153.5 163.2h0.9M245.5 163.2h-0.9" stroke="#555" stroke-width="0.3" fill="none"/><g fill="#111"><text transform="translate(162.7 178.9) scale(0.1)" font-size="25" text-anchor="middle" fill="#222" stroke="#222" stroke-width="2">50</text><text transform="translate(171.9 178.9) scale(0.1)" font-size="25" text-anchor="middle" fill="#222" stroke="#222" stroke-width="2">100</text><text transform="translate(181.1 178.9) scale(0.1)" font-size="25" text-anchor="middle" fill="#222" stroke="#222" stroke-width="2">150</text><text transform="translate(190.3 178.9) scale(0.1)" font-size="25" text-anchor="middle" fill="#222" stroke="#222" stroke-width="2">200</text><text transform="translate(199.5 178.9) scale(0.1)" font-size="25" text-anchor="middle" fill="#222" stroke="#222" stroke-width="2">250</text><text transform="translate(208.7 178.9) scale(0.1)" font-size="25" text-anchor="middle" fill="#222" stroke="#222" stroke-width="2">300</text><text transform="translate(217.9 178.9) scale(0.1)" font-size="25" text-anchor="middle" fill="#222" stroke="#222" stroke-width="2">350</text><text transform="translate(227.1 178.9) scale(0.1)" font-size="25" text-anchor="middle" fill="#222" stroke="#222" stroke-width="2">400</text><text transform="translate(236.3 178.9) scale(0.1)" font-size="25" text-anchor="middle" fill="#222" stroke="#222" stroke-width="2">450</text><text transform="translate(245.5 178.9) scale(0.1)" font-size="25" text-anchor="middle" fill="#222" stroke="#222" stroke-width="2">500</text></g><g fill="#111"><text transform="translate(152.5 109.8) scale(0.1)" font-size="25" text-anchor="end" fill="#222" stroke="#222" stroke-width="2">750</text><text transform="translate(152.5 120) scale(0.1)" font-size="25" text-anchor="end" fill="#222" stroke="#222" stroke-width="2">700</text><text transform="translate(152.5 130.2) scale(0.1)" font-size="25" text-anchor="end" fill="#222" stroke="#222" stroke-width="2">650</text><text transform="translate(152.5 141.1) scale(0.1)" font-size="25" text-anchor="end" fill="#222" stroke="#222" stroke-width="2">600</text><text transform="translate(152.5 152.4) scale(0.1)" font-size="25" text-anchor="end" fill="#222" stroke="#222" stroke-width="2">550</text><text transform="translate(152.5 164.1) scale(0.1)" font-size="25" text-anchor="end" fill="#222" stroke="#222" stroke-width="2">500</text></g><text transform="translate(199.5 182.6) scale(0.1)" font-size="31" text-anchor="middle" fill="#222" stroke="#222" stroke-width="1">Iteration</text><text transform="translate(146.2 138) rotate(-90) scale(0.1)" font-size="31" text-anchor="middle" fill="#222" stroke="#222" stroke-width="1.2">Fitness function</text><text transform="translate(199.5 100.05) scale(0.1)" font-size="33" text-anchor="middle" fill="#333" stroke="#333" stroke-width="1">C06</text><g fill="#222"><rect x="221.5" y="104.4" width="22" height="49" fill="#fff" stroke="#666" stroke-width="0.3"/><path d="M222.4 106.3h8.2" stroke="#0000ff" stroke-width="0.5" stroke-opacity="0.6"/><text transform="translate(231.7 107.2) scale(0.1)" font-size="25" fill="#2a2a2a" stroke="#2a2a2a" stroke-width="1">SSA</text><path d="M222.4 109.78h8.2" stroke="#00ff00" stroke-width="0.5" stroke-opacity="0.6"/><circle cx="226.5" cy="109.78" r="0.7" fill="#00ff00"/><text transform="translate(231.7 110.68) scale(0.1)" font-size="25" fill="#2a2a2a" stroke="#2a2a2a" stroke-width="1">GWO</text><path d="M222.4 113.25h8.2" stroke="#806860" stroke-width="0.5" stroke-opacity="0.6"/><text transform="translate(231.7 114.15) scale(0.1)" font-size="25" fill="#2a2a2a" stroke="#2a2a2a" stroke-width="1">WOA</text><path d="M222.4 116.73h8.2" stroke="#ff00ff" stroke-width="0.5" stroke-opacity="0.6"/><circle cx="226.5" cy="116.73" r="0.7" fill="#ff00ff"/><text transform="translate(231.7 117.63) scale(0.1)" font-size="25" fill="#2a2a2a" stroke="#2a2a2a" stroke-width="1">PSO</text><path d="M222.4 120.21h8.2" stroke="#00ffff" stroke-width="0.5" stroke-opacity="0.6"/><circle cx="226.5" cy="120.21" r="0.7" fill="#00ffff"/><text transform="translate(231.7 121.11) scale(0.1)" font-size="25" fill="#2a2a2a" stroke="#2a2a2a" stroke-width="1">ABC</text><path d="M222.4 123.69h8.2" stroke="#000000" stroke-width="0.5" stroke-opacity="0.6"/><circle cx="226.5" cy="123.69" r="0.7" fill="#000000"/><text transform="translate(231.7 124.59) scale(0.1)" font-size="25" fill="#2a2a2a" stroke="#2a2a2a" stroke-width="1">FA</text><path d="M222.4 127.16h8.2" stroke="#ffff00" stroke-width="0.5" stroke-opacity="0.6"/><text transform="translate(231.7 128.06) scale(0.1)" font-size="25" fill="#2a2a2a" stroke="#2a2a2a" stroke-width="1">CMGWOA</text><path d="M222.4 130.64h8.2" stroke="#0000ff" stroke-width="0.5" stroke-opacity="0.6"/><circle cx="226.5" cy="130.64" r="0.7" fill="#0000ff"/><text transform="translate(231.7 131.54) scale(0.1)" font-size="25" fill="#2a2a2a" stroke="#2a2a2a" stroke-width="1">LSSA</text><path d="M222.4 134.12h8.2" stroke="#00ff00" stroke-width="0.5" stroke-opacity="0.6"/><circle cx="226.5" cy="134.12" r="0.7" fill="#00ff00"/><text transform="translate(231.7 135.02) scale(0.1)" font-size="25" fill="#2a2a2a" stroke="#2a2a2a" stroke-width="1">AGWO</text><path d="M222.4 137.59h8.2" stroke="#e8745e" stroke-width="0.5" stroke-opacity="0.6"/><text transform="translate(231.7 138.49) scale(0.1)" font-size="25" fill="#2a2a2a" stroke="#2a2a2a" stroke-width="1">DWOA</text><path d="M222.4 141.07h8.2" stroke="#ff00ff" stroke-width="0.5" stroke-opacity="0.6"/><circle cx="226.5" cy="141.07" r="0.7" fill="#ff00ff"/><text transform="translate(231.7 141.97) scale(0.1)" font-size="25" fill="#2a2a2a" stroke="#2a2a2a" stroke-width="1">OPPSO</text><path d="M222.4 144.55h8.2" stroke="#ffff00" stroke-width="0.5" stroke-opacity="0.6"/><circle cx="226.5" cy="144.55" r="0.7" fill="#ffff00"/><text transform="translate(231.7 145.45) scale(0.1)" font-size="25" fill="#2a2a2a" stroke="#2a2a2a" stroke-width="1">NSMO</text><path d="M222.4 148.02h8.2" stroke="#00ffff" stroke-width="0.5" stroke-opacity="0.6"/><circle cx="226.5" cy="148.02" r="0.7" fill="#00ffff"/><text transform="translate(231.7 148.92) scale(0.1)" font-size="25" fill="#2a2a2a" stroke="#2a2a2a" stroke-width="1">MSSTA</text><path d="M222.4 151.5h8.2" stroke="#ff0000" stroke-width="0.5" stroke-opacity="0.6"/><circle cx="226.5" cy="151.5" r="0.7" fill="#ff0000"/><text transform="translate(231.7 152.4) scale(0.1)" font-size="25" fill="#2a2a2a" stroke="#2a2a2a" stroke-width="1">WMSSSA</text></g></g>
<g><clipPath id="c21"><rect x="288.5" y="100.3" width="94" height="75.4"/></clipPath><g clip-path="url(#c21)"><path d="M289.38 106.77 L291.91 120 L295.61 146.47 L310.37 149.5 L335.02 151.17 L380.09 151.65" fill="none" stroke="#806860" stroke-width="0.7" stroke-opacity="0.85"/><path d="M289.38 107.97 L291.91 120.62 L295.61 146.88 L310.37 149.98 L335.02 151.65 L380.09 151.89" fill="none" stroke="#e8745e" stroke-width="0.7" stroke-opacity="0.85"/><path d="M289.38 131.7 L295.61 139.72 L303 141.2 L310.37 141.94 L317.14 142.17 L324.53 142.41 L331.3 142.8 L380.09 143.54" fill="none" stroke="#000000" stroke-width="0.6" stroke-opacity="0.45"/><circle cx="289.38" cy="131.7" r="0.8" fill="#000000"/><circle cx="296.42" cy="139.88" r="0.8" fill="#000000"/><circle cx="303.46" cy="141.24" r="0.8" fill="#000000"/><circle cx="310.5" cy="141.94" r="0.8" fill="#000000"/><circle cx="317.54" cy="142.19" r="0.8" fill="#000000"/><circle cx="324.58" cy="142.42" r="0.8" fill="#000000"/><circle cx="331.62" cy="142.8" r="0.8" fill="#000000"/><circle cx="338.66" cy="142.91" r="0.8" fill="#000000"/><circle cx="345.7" cy="143.01" r="0.8" fill="#000000"/><circle cx="352.74" cy="143.12" r="0.8" fill="#000000"/><circle cx="359.78" cy="143.23" r="0.8" fill="#000000"/><circle cx="366.82" cy="143.33" r="0.8" fill="#000000"/><circle cx="373.86" cy="143.44" r="0.8" fill="#000000"/><circle cx="380.9" cy="143.54" r="0.8" fill="#000000"/><path d="M289.38 137.81 L295.61 146.47 L310.37 149.55 L335.02 150.79 L380.09 151.41" fill="none" stroke="#0000ff" stroke-width="0.6" stroke-opacity="0.8"/><path d="M289.38 110.35 L295.61 147.12 L303 148.31 L380.09 148.31" fill="none" stroke="#ff00ff" stroke-width="0.6" stroke-opacity="0.8"/><circle cx="289.38" cy="110.35" r="0.8" fill="#ff00ff"/><circle cx="296.42" cy="147.25" r="0.8" fill="#ff00ff"/><circle cx="303.46" cy="148.31" r="0.8" fill="#ff00ff"/><circle cx="310.5" cy="148.31" r="0.8" fill="#ff00ff"/><circle cx="317.54" cy="148.31" r="0.8" fill="#ff00ff"/><circle cx="324.58" cy="148.31" r="0.8" fill="#ff00ff"/><circle cx="331.62" cy="148.31" r="0.8" fill="#ff00ff"/><circle cx="338.66" cy="148.31" r="0.8" fill="#ff00ff"/><circle cx="345.7" cy="148.31" r="0.8" fill="#ff00ff"/><circle cx="352.74" cy="148.31" r="0.8" fill="#ff00ff"/><circle cx="359.78" cy="148.31" r="0.8" fill="#ff00ff"/><circle cx="366.82" cy="148.31" r="0.8" fill="#ff00ff"/><circle cx="373.86" cy="148.31" r="0.8" fill="#ff00ff"/><circle cx="380.9" cy="148.31" r="0.8" fill="#ff00ff"/><path d="M289.38 138.47 L295.61 146.47 L303 148.95 L310.37 151.41 L317.14 153.01 L324.53 154.49 L331.3 155.47 L338.12 155.95 L351.95 156.66 L380.09 157.62" fill="none" stroke="#0000ff" stroke-width="0.6" stroke-opacity="0.8"/><circle cx="289.38" cy="138.47" r="0.8" fill="#0000ff"/><circle cx="296.42" cy="146.75" r="0.8" fill="#0000ff"/><circle cx="303.46" cy="149.11" r="0.8" fill="#0000ff"/><circle cx="310.5" cy="151.44" r="0.8" fill="#0000ff"/><circle cx="317.54" cy="153.09" r="0.8" fill="#0000ff"/><circle cx="324.58" cy="154.5" r="0.8" fill="#0000ff"/><circle cx="331.62" cy="155.49" r="0.8" fill="#0000ff"/><circle cx="338.66" cy="155.98" r="0.8" fill="#0000ff"/><circle cx="345.7" cy="156.34" r="0.8" fill="#0000ff"/><circle cx="352.74" cy="156.69" r="0.8" fill="#0000ff"/><circle cx="359.78" cy="156.93" r="0.8" fill="#0000ff"/><circle cx="366.82" cy="157.17" r="0.8" fill="#0000ff"/><circle cx="373.86" cy="157.41" r="0.8" fill="#0000ff"/><circle cx="380.9" cy="157.62" r="0.8" fill="#0000ff"/><path d="M289.38 106.77 L294.39 120 L303 150.79 L310.37 155.71 L317.14 157.57 L324.53 159.41 L331.3 160.65 L338.12 162.39 L351.95 164.54 L380.09 166.69" fill="none" stroke="#00ffff" stroke-width="0.6" stroke-opacity="0.8"/><circle cx="289.38" cy="106.77" r="0.8" fill="#00ffff"/><circle cx="296.42" cy="127.26" r="0.8" fill="#00ffff"/><circle cx="303.46" cy="151.1" r="0.8" fill="#00ffff"/><circle cx="310.5" cy="155.75" r="0.8" fill="#00ffff"/><circle cx="317.54" cy="157.67" r="0.8" fill="#00ffff"/><circle cx="324.58" cy="159.42" r="0.8" fill="#00ffff"/><circle cx="331.62" cy="160.73" r="0.8" fill="#00ffff"/><circle cx="338.66" cy="162.48" r="0.8" fill="#00ffff"/><circle cx="345.7" cy="163.57" r="0.8" fill="#00ffff"/><circle cx="352.74" cy="164.6" r="0.8" fill="#00ffff"/><circle cx="359.78" cy="165.14" r="0.8" fill="#00ffff"/><circle cx="366.82" cy="165.68" r="0.8" fill="#00ffff"/><circle cx="373.86" cy="166.21" r="0.8" fill="#00ffff"/><circle cx="380.9" cy="166.69" r="0.8" fill="#00ffff"/><path d="M289.38 140.19 L295.61 151.41 L303 154.99 L310.37 156.9 L331.3 158.1 L380.09 159.29" fill="none" stroke="#ffff00" stroke-width="0.6" stroke-opacity="0.8"/><path d="M289.38 102 L293.77 125.87 L295.61 158.19 L303 158.81 L310.37 159.29 L380.09 160.01" fill="none" stroke="#00ff00" stroke-width="0.6" stroke-opacity="0.8"/><circle cx="289.38" cy="102" r="0.8" fill="#00ff00"/><circle cx="296.42" cy="158.26" r="0.8" fill="#00ff00"/><circle cx="303.46" cy="158.84" r="0.8" fill="#00ff00"/><circle cx="310.5" cy="159.29" r="0.8" fill="#00ff00"/><circle cx="317.54" cy="159.36" r="0.8" fill="#00ff00"/><circle cx="324.58" cy="159.44" r="0.8" fill="#00ff00"/><circle cx="331.62" cy="159.51" r="0.8" fill="#00ff00"/><circle cx="338.66" cy="159.58" r="0.8" fill="#00ff00"/><circle cx="345.7" cy="159.65" r="0.8" fill="#00ff00"/><circle cx="352.74" cy="159.73" r="0.8" fill="#00ff00"/><circle cx="359.78" cy="159.8" r="0.8" fill="#00ff00"/><circle cx="366.82" cy="159.87" r="0.8" fill="#00ff00"/><circle cx="373.86" cy="159.94" r="0.8" fill="#00ff00"/><circle cx="380.9" cy="160.01" r="0.8" fill="#00ff00"/><path d="M289.38 140.19 L295.61 155.11 L303 156.95 L310.37 158.19 L317.14 159.41 L324.53 160.65 L331.3 164.54 L338.12 166.45 L380.09 168.6" fill="none" stroke="#ff00ff" stroke-width="0.6" stroke-opacity="0.8"/><circle cx="289.38" cy="140.19" r="0.8" fill="#ff00ff"/><circle cx="296.42" cy="155.32" r="0.8" fill="#ff00ff"/><circle cx="303.46" cy="157.03" r="0.8" fill="#ff00ff"/><circle cx="310.5" cy="158.22" r="0.8" fill="#ff00ff"/><circle cx="317.54" cy="159.48" r="0.8" fill="#ff00ff"/><circle cx="324.58" cy="160.68" r="0.8" fill="#ff00ff"/><circle cx="331.62" cy="164.63" r="0.8" fill="#ff00ff"/><circle cx="338.66" cy="166.48" r="0.8" fill="#ff00ff"/><circle cx="345.7" cy="166.84" r="0.8" fill="#ff00ff"/><circle cx="352.74" cy="167.2" r="0.8" fill="#ff00ff"/><circle cx="359.78" cy="167.56" r="0.8" fill="#ff00ff"/><circle cx="366.82" cy="167.92" r="0.8" fill="#ff00ff"/><circle cx="373.86" cy="168.28" r="0.8" fill="#ff00ff"/><circle cx="380.9" cy="168.6" r="0.8" fill="#ff00ff"/><path d="M289.38 129.21 L295.61 159.29 L303 160.48 L310.37 161.2 L317.14 162.39 L324.53 163.11 L331.3 164.3 L351.95 166.45 L380.09 167.88" fill="none" stroke="#00ffff" stroke-width="0.6" stroke-opacity="0.8"/><circle cx="289.38" cy="129.21" r="0.8" fill="#00ffff"/><circle cx="296.42" cy="159.42" r="0.8" fill="#00ffff"/><circle cx="303.46" cy="160.53" r="0.8" fill="#00ffff"/><circle cx="310.5" cy="161.22" r="0.8" fill="#00ffff"/><circle cx="317.54" cy="162.43" r="0.8" fill="#00ffff"/><circle cx="324.58" cy="163.12" r="0.8" fill="#00ffff"/><circle cx="331.62" cy="164.34" r="0.8" fill="#00ffff"/><circle cx="338.66" cy="165.07" r="0.8" fill="#00ffff"/><circle cx="345.7" cy="165.8" r="0.8" fill="#00ffff"/><circle cx="352.74" cy="166.49" r="0.8" fill="#00ffff"/><circle cx="359.78" cy="166.85" r="0.8" fill="#00ffff"/><circle cx="366.82" cy="167.21" r="0.8" fill="#00ffff"/><circle cx="373.86" cy="167.57" r="0.8" fill="#00ffff"/><circle cx="380.9" cy="167.88" r="0.8" fill="#00ffff"/><path d="M289.38 116.32 L295.61 160.65 L303 162.49 L317.14 163.11 L331.3 163.73 L380.09 165.26" fill="none" stroke="#00ff00" stroke-width="0.6" stroke-opacity="0.8"/><circle cx="289.38" cy="116.32" r="0.8" fill="#00ff00"/><circle cx="296.42" cy="160.85" r="0.8" fill="#00ff00"/><circle cx="303.46" cy="162.51" r="0.8" fill="#00ff00"/><circle cx="310.5" cy="162.82" r="0.8" fill="#00ff00"/><circle cx="317.54" cy="163.13" r="0.8" fill="#00ff00"/><circle cx="324.58" cy="163.44" r="0.8" fill="#00ff00"/><circle cx="331.62" cy="163.74" r="0.8" fill="#00ff00"/><circle cx="338.66" cy="163.96" r="0.8" fill="#00ff00"/><circle cx="345.7" cy="164.18" r="0.8" fill="#00ff00"/><circle cx="352.74" cy="164.4" r="0.8" fill="#00ff00"/><circle cx="359.78" cy="164.62" r="0.8" fill="#00ff00"/><circle cx="366.82" cy="164.84" r="0.8" fill="#00ff00"/><circle cx="373.86" cy="165.06" r="0.8" fill="#00ff00"/><circle cx="380.9" cy="165.26" r="0.8" fill="#00ff00"/><path d="M289.38 139.1 L295.61 163.73 L303 167.41 L310.37 168.29 L317.14 168.65 L380.09 169.55" fill="none" stroke="#ff0000" stroke-width="0.6" stroke-opacity="0.8"/><circle cx="289.38" cy="139.1" r="0.8" fill="#ff0000"/><circle cx="296.42" cy="164.14" r="0.8" fill="#ff0000"/><circle cx="303.46" cy="167.46" r="0.8" fill="#ff0000"/><circle cx="310.5" cy="168.3" r="0.8" fill="#ff0000"/><circle cx="317.54" cy="168.65" r="0.8" fill="#ff0000"/><circle cx="324.58" cy="168.75" r="0.8" fill="#ff0000"/><circle cx="331.62" cy="168.86" r="0.8" fill="#ff0000"/><circle cx="338.66" cy="168.96" r="0.8" fill="#ff0000"/><circle cx="345.7" cy="169.06" r="0.8" fill="#ff0000"/><circle cx="352.74" cy="169.16" r="0.8" fill="#ff0000"/><circle cx="359.78" cy="169.26" r="0.8" fill="#ff0000"/><circle cx="366.82" cy="169.36" r="0.8" fill="#ff0000"/><circle cx="373.86" cy="169.47" r="0.8" fill="#ff0000"/><circle cx="380.9" cy="169.55" r="0.8" fill="#ff0000"/><path d="M289.38 140.19 L295.61 152.03 L303 162.49 L310.37 166.19 L317.14 168.65 L324.53 169.89 L331.3 170.51 L351.95 172.42 L380.09 173.61" fill="none" stroke="#ffff00" stroke-width="0.6" stroke-opacity="0.8"/><circle cx="289.38" cy="140.19" r="0.8" fill="#ffff00"/><circle cx="296.42" cy="153.19" r="0.8" fill="#ffff00"/><circle cx="303.46" cy="162.72" r="0.8" fill="#ffff00"/><circle cx="310.5" cy="166.24" r="0.8" fill="#ffff00"/><circle cx="317.54" cy="168.72" r="0.8" fill="#ffff00"/><circle cx="324.58" cy="169.89" r="0.8" fill="#ffff00"/><circle cx="331.62" cy="170.54" r="0.8" fill="#ffff00"/><circle cx="338.66" cy="171.19" r="0.8" fill="#ffff00"/><circle cx="345.7" cy="171.84" r="0.8" fill="#ffff00"/><circle cx="352.74" cy="172.45" r="0.8" fill="#ffff00"/><circle cx="359.78" cy="172.75" r="0.8" fill="#ffff00"/><circle cx="366.82" cy="173.05" r="0.8" fill="#ffff00"/><circle cx="373.86" cy="173.35" r="0.8" fill="#ffff00"/><circle cx="380.9" cy="173.61" r="0.8" fill="#ffff00"/></g><rect x="289.5" y="101.5" width="92" height="73" fill="none" stroke="#666" stroke-width="0.35"/><path d="M298.7 174.5v-0.9M298.7 101.5v0.9M307.9 174.5v-0.9M307.9 101.5v0.9M317.1 174.5v-0.9M317.1 101.5v0.9M326.3 174.5v-0.9M326.3 101.5v0.9M335.5 174.5v-0.9M335.5 101.5v0.9M344.7 174.5v-0.9M344.7 101.5v0.9M353.9 174.5v-0.9M353.9 101.5v0.9M363.1 174.5v-0.9M363.1 101.5v0.9M372.3 174.5v-0.9M372.3 101.5v0.9M381.5 174.5v-0.9M381.5 101.5v0.9M289.5 106.4h0.9M381.5 106.4h-0.9M289.5 115.7h0.9M381.5 115.7h-0.9M289.5 127.5h0.9M381.5 127.5h-0.9M289.5 142.4h0.9M381.5 142.4h-0.9M289.5 163.5h0.9M381.5 163.5h-0.9" stroke="#555" stroke-width="0.3" fill="none"/><g fill="#111"><text transform="translate(298.7 178.9) scale(0.1)" font-size="25" text-anchor="middle" fill="#222" stroke="#222" stroke-width="2">50</text><text transform="translate(307.9 178.9) scale(0.1)" font-size="25" text-anchor="middle" fill="#222" stroke="#222" stroke-width="2">100</text><text transform="translate(317.1 178.9) scale(0.1)" font-size="25" text-anchor="middle" fill="#222" stroke="#222" stroke-width="2">150</text><text transform="translate(326.3 178.9) scale(0.1)" font-size="25" text-anchor="middle" fill="#222" stroke="#222" stroke-width="2">200</text><text transform="translate(335.5 178.9) scale(0.1)" font-size="25" text-anchor="middle" fill="#222" stroke="#222" stroke-width="2">250</text><text transform="translate(344.7 178.9) scale(0.1)" font-size="25" text-anchor="middle" fill="#222" stroke="#222" stroke-width="2">300</text><text transform="translate(353.9 178.9) scale(0.1)" font-size="25" text-anchor="middle" fill="#222" stroke="#222" stroke-width="2">350</text><text transform="translate(363.1 178.9) scale(0.1)" font-size="25" text-anchor="middle" fill="#222" stroke="#222" stroke-width="2">400</text><text transform="translate(372.3 178.9) scale(0.1)" font-size="25" text-anchor="middle" fill="#222" stroke="#222" stroke-width="2">450</text><text transform="translate(381.5 178.9) scale(0.1)" font-size="25" text-anchor="middle" fill="#222" stroke="#222" stroke-width="2">500</text></g><g fill="#111"><text transform="translate(288.5 107.3) scale(0.1)" font-size="25" text-anchor="end" fill="#222" stroke="#222" stroke-width="2">3000</text><text transform="translate(288.5 116.6) scale(0.1)" font-size="25" text-anchor="end" fill="#222" stroke="#222" stroke-width="2">2500</text><text transform="translate(288.5 128.4) scale(0.1)" font-size="25" text-anchor="end" fill="#222" stroke="#222" stroke-width="2">2000</text><text transform="translate(288.5 143.3) scale(0.1)" font-size="25" text-anchor="end" fill="#222" stroke="#222" stroke-width="2">1500</text><text transform="translate(288.5 164.4) scale(0.1)" font-size="25" text-anchor="end" fill="#222" stroke="#222" stroke-width="2">1000</text></g><text transform="translate(335.5 182.6) scale(0.1)" font-size="31" text-anchor="middle" fill="#222" stroke="#222" stroke-width="1">Iteration</text><text transform="translate(280.3 138) rotate(-90) scale(0.1)" font-size="31" text-anchor="middle" fill="#222" stroke="#222" stroke-width="1.2">Fitness function</text><text transform="translate(335.5 100.05) scale(0.1)" font-size="33" text-anchor="middle" fill="#333" stroke="#333" stroke-width="1">C07</text><g fill="#222"><rect x="357.5" y="104.4" width="22" height="49" fill="#fff" stroke="#666" stroke-width="0.3"/><path d="M358.4 106.3h8.2" stroke="#0000ff" stroke-width="0.5" stroke-opacity="0.6"/><text transform="translate(367.7 107.2) scale(0.1)" font-size="25" fill="#2a2a2a" stroke="#2a2a2a" stroke-width="1">SSA</text><path d="M358.4 109.78h8.2" stroke="#00ff00" stroke-width="0.5" stroke-opacity="0.6"/><circle cx="362.5" cy="109.78" r="0.7" fill="#00ff00"/><text transform="translate(367.7 110.68) scale(0.1)" font-size="25" fill="#2a2a2a" stroke="#2a2a2a" stroke-width="1">GWO</text><path d="M358.4 113.25h8.2" stroke="#806860" stroke-width="0.5" stroke-opacity="0.6"/><text transform="translate(367.7 114.15) scale(0.1)" font-size="25" fill="#2a2a2a" stroke="#2a2a2a" stroke-width="1">WOA</text><path d="M358.4 116.73h8.2" stroke="#ff00ff" stroke-width="0.5" stroke-opacity="0.6"/><circle cx="362.5" cy="116.73" r="0.7" fill="#ff00ff"/><text transform="translate(367.7 117.63) scale(0.1)" font-size="25" fill="#2a2a2a" stroke="#2a2a2a" stroke-width="1">PSO</text><path d="M358.4 120.21h8.2" stroke="#00ffff" stroke-width="0.5" stroke-opacity="0.6"/><circle cx="362.5" cy="120.21" r="0.7" fill="#00ffff"/><text transform="translate(367.7 121.11) scale(0.1)" font-size="25" fill="#2a2a2a" stroke="#2a2a2a" stroke-width="1">ABC</text><path d="M358.4 123.69h8.2" stroke="#000000" stroke-width="0.5" stroke-opacity="0.6"/><circle cx="362.5" cy="123.69" r="0.7" fill="#000000"/><text transform="translate(367.7 124.59) scale(0.1)" font-size="25" fill="#2a2a2a" stroke="#2a2a2a" stroke-width="1">FA</text><path d="M358.4 127.16h8.2" stroke="#ffff00" stroke-width="0.5" stroke-opacity="0.6"/><text transform="translate(367.7 128.06) scale(0.1)" font-size="25" fill="#2a2a2a" stroke="#2a2a2a" stroke-width="1">CMGWOA</text><path d="M358.4 130.64h8.2" stroke="#0000ff" stroke-width="0.5" stroke-opacity="0.6"/><circle cx="362.5" cy="130.64" r="0.7" fill="#0000ff"/><text transform="translate(367.7 131.54) scale(0.1)" font-size="25" fill="#2a2a2a" stroke="#2a2a2a" stroke-width="1">LSSA</text><path d="M358.4 134.12h8.2" stroke="#00ff00" stroke-width="0.5" stroke-opacity="0.6"/><circle cx="362.5" cy="134.12" r="0.7" fill="#00ff00"/><text transform="translate(367.7 135.02) scale(0.1)" font-size="25" fill="#2a2a2a" stroke="#2a2a2a" stroke-width="1">AGWO</text><path d="M358.4 137.59h8.2" stroke="#e8745e" stroke-width="0.5" stroke-opacity="0.6"/><text transform="translate(367.7 138.49) scale(0.1)" font-size="25" fill="#2a2a2a" stroke="#2a2a2a" stroke-width="1">DWOA</text><path d="M358.4 141.07h8.2" stroke="#ff00ff" stroke-width="0.5" stroke-opacity="0.6"/><circle cx="362.5" cy="141.07" r="0.7" fill="#ff00ff"/><text transform="translate(367.7 141.97) scale(0.1)" font-size="25" fill="#2a2a2a" stroke="#2a2a2a" stroke-width="1">OPPSO</text><path d="M358.4 144.55h8.2" stroke="#ffff00" stroke-width="0.5" stroke-opacity="0.6"/><circle cx="362.5" cy="144.55" r="0.7" fill="#ffff00"/><text transform="translate(367.7 145.45) scale(0.1)" font-size="25" fill="#2a2a2a" stroke="#2a2a2a" stroke-width="1">NSMO</text><path d="M358.4 148.02h8.2" stroke="#00ffff" stroke-width="0.5" stroke-opacity="0.6"/><circle cx="362.5" cy="148.02" r="0.7" fill="#00ffff"/><text transform="translate(367.7 148.92) scale(0.1)" font-size="25" fill="#2a2a2a" stroke="#2a2a2a" stroke-width="1">MSSTA</text><path d="M358.4 151.5h8.2" stroke="#ff0000" stroke-width="0.5" stroke-opacity="0.6"/><circle cx="362.5" cy="151.5" r="0.7" fill="#ff0000"/><text transform="translate(367.7 152.4) scale(0.1)" font-size="25" fill="#2a2a2a" stroke="#2a2a2a" stroke-width="1">WMSSSA</text></g></g>
<g><clipPath id="c02"><rect x="16.5" y="190.3" width="94" height="75.4"/></clipPath><g clip-path="url(#c02)"><path d="M17.38 217.97 L24.63 227.28 L31.78 227.52 L38.7 228.48 L45.85 228.72 L53.01 229.1 L60.16 229.34 L109.76 229.67" fill="none" stroke="#000000" stroke-width="0.6" stroke-opacity="0.45"/><circle cx="17.38" cy="217.97" r="0.8" fill="#000000"/><circle cx="24.42" cy="227.01" r="0.8" fill="#000000"/><circle cx="31.46" cy="227.51" r="0.8" fill="#000000"/><circle cx="38.5" cy="228.45" r="0.8" fill="#000000"/><circle cx="45.54" cy="228.71" r="0.8" fill="#000000"/><circle cx="52.58" cy="229.08" r="0.8" fill="#000000"/><circle cx="59.62" cy="229.32" r="0.8" fill="#000000"/><circle cx="66.66" cy="229.38" r="0.8" fill="#000000"/><circle cx="73.7" cy="229.43" r="0.8" fill="#000000"/><circle cx="80.74" cy="229.48" r="0.8" fill="#000000"/><circle cx="87.78" cy="229.52" r="0.8" fill="#000000"/><circle cx="94.82" cy="229.57" r="0.8" fill="#000000"/><circle cx="101.86" cy="229.62" r="0.8" fill="#000000"/><circle cx="108.9" cy="229.67" r="0.8" fill="#000000"/><path d="M17.38 195.77 L24.63 227.28 L31.78 231.58 L38.7 234.68 L45.85 236.47 L63.02 237.72 L109.76 238.5" fill="none" stroke="#e8745e" stroke-width="0.65" stroke-opacity="0.85"/><path d="M17.38 198.16 L24.63 226.81 L31.78 232.06 L38.7 235.4 L45.85 237.07 L63.02 238.26 L109.76 238.98" fill="none" stroke="#806860" stroke-width="0.65" stroke-opacity="0.85"/><path d="M17.38 200.55 L24.63 228.48 L31.78 230.94 L38.7 233.16 L45.85 236.47 L53.01 237.07 L60.16 237.72 L66.12 239.94 L109.76 242.32" fill="none" stroke="#ff00ff" stroke-width="0.6" stroke-opacity="0.8"/><circle cx="17.38" cy="200.55" r="0.8" fill="#ff00ff"/><circle cx="24.42" cy="227.67" r="0.8" fill="#ff00ff"/><circle cx="31.46" cy="230.82" r="0.8" fill="#ff00ff"/><circle cx="38.5" cy="233.09" r="0.8" fill="#ff00ff"/><circle cx="45.54" cy="236.33" r="0.8" fill="#ff00ff"/><circle cx="52.58" cy="237.04" r="0.8" fill="#ff00ff"/><circle cx="59.62" cy="237.67" r="0.8" fill="#ff00ff"/><circle cx="66.66" cy="239.96" r="0.8" fill="#ff00ff"/><circle cx="73.7" cy="240.35" r="0.8" fill="#ff00ff"/><circle cx="80.74" cy="240.74" r="0.8" fill="#ff00ff"/><circle cx="87.78" cy="241.12" r="0.8" fill="#ff00ff"/><circle cx="94.82" cy="241.51" r="0.8" fill="#ff00ff"/><circle cx="101.86" cy="241.89" r="0.8" fill="#ff00ff"/><circle cx="108.9" cy="242.28" r="0.8" fill="#ff00ff"/><path d="M17.38 191 L24.63 234.68 L31.78 237.07 L38.7 238.34 L45.85 239.55 L53.01 239.55 L60.16 240.17 L109.76 240.17" fill="none" stroke="#00ff00" stroke-width="0.6" stroke-opacity="0.8"/><circle cx="17.38" cy="191" r="0.8" fill="#00ff00"/><circle cx="24.42" cy="233.41" r="0.8" fill="#00ff00"/><circle cx="31.46" cy="236.96" r="0.8" fill="#00ff00"/><circle cx="38.5" cy="238.3" r="0.8" fill="#00ff00"/><circle cx="45.54" cy="239.5" r="0.8" fill="#00ff00"/><circle cx="52.58" cy="239.55" r="0.8" fill="#00ff00"/><circle cx="59.62" cy="240.13" r="0.8" fill="#00ff00"/><circle cx="66.66" cy="240.17" r="0.8" fill="#00ff00"/><circle cx="73.7" cy="240.17" r="0.8" fill="#00ff00"/><circle cx="80.74" cy="240.17" r="0.8" fill="#00ff00"/><circle cx="87.78" cy="240.17" r="0.8" fill="#00ff00"/><circle cx="94.82" cy="240.17" r="0.8" fill="#00ff00"/><circle cx="101.86" cy="240.17" r="0.8" fill="#00ff00"/><circle cx="108.9" cy="240.17" r="0.8" fill="#00ff00"/><path d="M17.38 200.55 L22.39 210 L24.63 221.08 L31.78 234.64 L38.7 237.72 L45.85 239.55 L53.01 241.42 L60.16 242.63 L66.12 243.99 L80.43 246.38 L109.76 250.68" fill="none" stroke="#00ffff" stroke-width="0.6" stroke-opacity="0.8"/><circle cx="17.38" cy="200.55" r="0.8" fill="#00ffff"/><circle cx="24.42" cy="220.04" r="0.8" fill="#00ffff"/><circle cx="31.46" cy="234.02" r="0.8" fill="#00ffff"/><circle cx="38.5" cy="237.63" r="0.8" fill="#00ffff"/><circle cx="45.54" cy="239.47" r="0.8" fill="#00ffff"/><circle cx="52.58" cy="241.3" r="0.8" fill="#00ffff"/><circle cx="59.62" cy="242.54" r="0.8" fill="#00ffff"/><circle cx="66.66" cy="244.08" r="0.8" fill="#00ffff"/><circle cx="73.7" cy="245.26" r="0.8" fill="#00ffff"/><circle cx="80.74" cy="246.43" r="0.8" fill="#00ffff"/><circle cx="87.78" cy="247.46" r="0.8" fill="#00ffff"/><circle cx="94.82" cy="248.49" r="0.8" fill="#00ffff"/><circle cx="101.86" cy="249.52" r="0.8" fill="#00ffff"/><circle cx="108.9" cy="250.55" r="0.8" fill="#00ffff"/><path d="M17.38 195.77 L24.63 235.4 L31.78 238.74 L38.7 239.94 L45.85 241.13 L53.01 242.32 L60.16 243.04 L66.29 243.87 L73.66 246.33 L80.43 248.19 L87.82 251.87 L94.5 255.57 L101.34 258.65 L109.76 262.37" fill="none" stroke="#00ff00" stroke-width="0.6" stroke-opacity="0.8"/><circle cx="17.38" cy="195.77" r="0.8" fill="#00ff00"/><circle cx="24.42" cy="234.25" r="0.8" fill="#00ff00"/><circle cx="31.46" cy="238.59" r="0.8" fill="#00ff00"/><circle cx="38.5" cy="239.9" r="0.8" fill="#00ff00"/><circle cx="45.54" cy="241.08" r="0.8" fill="#00ff00"/><circle cx="52.58" cy="242.25" r="0.8" fill="#00ff00"/><circle cx="59.62" cy="242.98" r="0.8" fill="#00ff00"/><circle cx="66.66" cy="244" r="0.8" fill="#00ff00"/><circle cx="73.7" cy="246.34" r="0.8" fill="#00ff00"/><circle cx="80.74" cy="248.35" r="0.8" fill="#00ff00"/><circle cx="87.78" cy="251.85" r="0.8" fill="#00ff00"/><circle cx="94.82" cy="255.71" r="0.8" fill="#00ff00"/><circle cx="101.86" cy="258.88" r="0.8" fill="#00ff00"/><circle cx="108.9" cy="261.99" r="0.8" fill="#00ff00"/><path d="M17.38 196.97 L24.63 225.37 L31.78 230.32 L38.7 236.5 L45.85 240.79 L53.01 243.87 L60.16 246.33 L66.29 248.19 L73.66 249.41 L80.43 250.39 L109.76 250.44" fill="none" stroke="#0000ff" stroke-width="0.6" stroke-opacity="0.8"/><circle cx="17.38" cy="196.97" r="0.8" fill="#0000ff"/><circle cx="24.42" cy="224.55" r="0.8" fill="#0000ff"/><circle cx="31.46" cy="230.09" r="0.8" fill="#0000ff"/><circle cx="38.5" cy="236.32" r="0.8" fill="#0000ff"/><circle cx="45.54" cy="240.61" r="0.8" fill="#0000ff"/><circle cx="52.58" cy="243.69" r="0.8" fill="#0000ff"/><circle cx="59.62" cy="246.15" r="0.8" fill="#0000ff"/><circle cx="66.66" cy="248.26" r="0.8" fill="#0000ff"/><circle cx="73.7" cy="249.42" r="0.8" fill="#0000ff"/><circle cx="80.74" cy="250.39" r="0.8" fill="#0000ff"/><circle cx="87.78" cy="250.4" r="0.8" fill="#0000ff"/><circle cx="94.82" cy="250.41" r="0.8" fill="#0000ff"/><circle cx="101.86" cy="250.43" r="0.8" fill="#0000ff"/><circle cx="108.9" cy="250.44" r="0.8" fill="#0000ff"/><path d="M17.38 205.32 L24.63 231.58 L31.78 236.35 L38.7 239.94 L45.85 242.32 L53.01 244.71 L60.16 246.38 L80.43 247.81 L109.76 250.68" fill="none" stroke="#00ffff" stroke-width="0.6" stroke-opacity="0.8"/><circle cx="17.38" cy="205.32" r="0.8" fill="#00ffff"/><circle cx="24.42" cy="230.82" r="0.8" fill="#00ffff"/><circle cx="31.46" cy="236.14" r="0.8" fill="#00ffff"/><circle cx="38.5" cy="239.83" r="0.8" fill="#00ffff"/><circle cx="45.54" cy="242.22" r="0.8" fill="#00ffff"/><circle cx="52.58" cy="244.57" r="0.8" fill="#00ffff"/><circle cx="59.62" cy="246.25" r="0.8" fill="#00ffff"/><circle cx="66.66" cy="246.84" r="0.8" fill="#00ffff"/><circle cx="73.7" cy="247.34" r="0.8" fill="#00ffff"/><circle cx="80.74" cy="247.84" r="0.8" fill="#00ffff"/><circle cx="87.78" cy="248.53" r="0.8" fill="#00ffff"/><circle cx="94.82" cy="249.22" r="0.8" fill="#00ffff"/><circle cx="101.86" cy="249.91" r="0.8" fill="#00ffff"/><circle cx="108.9" cy="250.59" r="0.8" fill="#00ffff"/><path d="M17.38 198.16 L24.63 238.34 L31.78 242.63 L38.7 245.71 L45.85 246.33 L63.02 246.95 L109.76 248.77" fill="none" stroke="#0000ff" stroke-width="0.6" stroke-opacity="0.8"/><path d="M17.38 202.94 L24.63 237.07 L31.78 244.47 L38.7 248.19 L45.85 249.41 L63.02 249.41 L109.76 250.68" fill="none" stroke="#ffff00" stroke-width="0.6" stroke-opacity="0.8"/><path d="M17.38 198.16 L24.63 235.88 L31.78 240.79 L38.7 241.42 L45.85 241.42 L53.01 248.19 L60.16 254.35 L66.12 256.65 L109.76 257.84" fill="none" stroke="#ff00ff" stroke-width="0.6" stroke-opacity="0.8"/><circle cx="17.38" cy="198.16" r="0.8" fill="#ff00ff"/><circle cx="24.42" cy="234.78" r="0.8" fill="#ff00ff"/><circle cx="31.46" cy="240.57" r="0.8" fill="#ff00ff"/><circle cx="38.5" cy="241.4" r="0.8" fill="#ff00ff"/><circle cx="45.54" cy="241.42" r="0.8" fill="#ff00ff"/><circle cx="52.58" cy="247.79" r="0.8" fill="#ff00ff"/><circle cx="59.62" cy="253.89" r="0.8" fill="#ff00ff"/><circle cx="66.66" cy="256.66" r="0.8" fill="#ff00ff"/><circle cx="73.7" cy="256.85" r="0.8" fill="#ff00ff"/><circle cx="80.74" cy="257.04" r="0.8" fill="#ff00ff"/><circle cx="87.78" cy="257.24" r="0.8" fill="#ff00ff"/><circle cx="94.82" cy="257.43" r="0.8" fill="#ff00ff"/><circle cx="101.86" cy="257.62" r="0.8" fill="#ff00ff"/><circle cx="108.9" cy="257.82" r="0.8" fill="#ff00ff"/><path d="M17.38 210 L24.63 251.87 L31.78 257.05 L38.7 257.79 L45.85 258.03 L109.76 258.08" fill="none" stroke="#ff0000" stroke-width="0.6" stroke-opacity="0.8"/><circle cx="17.38" cy="210" r="0.8" fill="#ff0000"/><circle cx="24.42" cy="250.65" r="0.8" fill="#ff0000"/><circle cx="31.46" cy="256.82" r="0.8" fill="#ff0000"/><circle cx="38.5" cy="257.77" r="0.8" fill="#ff0000"/><circle cx="45.54" cy="258.02" r="0.8" fill="#ff0000"/><circle cx="52.58" cy="258.03" r="0.8" fill="#ff0000"/><circle cx="59.62" cy="258.04" r="0.8" fill="#ff0000"/><circle cx="66.66" cy="258.05" r="0.8" fill="#ff0000"/><circle cx="73.7" cy="258.05" r="0.8" fill="#ff0000"/><circle cx="80.74" cy="258.06" r="0.8" fill="#ff0000"/><circle cx="87.78" cy="258.06" r="0.8" fill="#ff0000"/><circle cx="94.82" cy="258.07" r="0.8" fill="#ff0000"/><circle cx="101.86" cy="258.07" r="0.8" fill="#ff0000"/><circle cx="108.9" cy="258.08" r="0.8" fill="#ff0000"/><path d="M17.38 205.32 L24.63 236.47 L31.78 243.87 L38.7 248.19 L45.85 251.87 L53.01 253.73 L60.16 255.57 L73.52 258.32 L80.43 259.89 L87.82 261.73 L94.5 262.73 L101.34 263.57 L109.76 264.19" fill="none" stroke="#ffff00" stroke-width="0.6" stroke-opacity="0.8"/><circle cx="17.38" cy="205.32" r="0.8" fill="#ffff00"/><circle cx="24.42" cy="235.57" r="0.8" fill="#ffff00"/><circle cx="31.46" cy="243.54" r="0.8" fill="#ffff00"/><circle cx="38.5" cy="248.07" r="0.8" fill="#ffff00"/><circle cx="45.54" cy="251.71" r="0.8" fill="#ffff00"/><circle cx="52.58" cy="253.62" r="0.8" fill="#ffff00"/><circle cx="59.62" cy="255.43" r="0.8" fill="#ffff00"/><circle cx="66.66" cy="256.91" r="0.8" fill="#ffff00"/><circle cx="73.7" cy="258.36" r="0.8" fill="#ffff00"/><circle cx="80.74" cy="259.97" r="0.8" fill="#ffff00"/><circle cx="87.78" cy="261.72" r="0.8" fill="#ffff00"/><circle cx="94.82" cy="262.77" r="0.8" fill="#ffff00"/><circle cx="101.86" cy="263.61" r="0.8" fill="#ffff00"/><circle cx="108.9" cy="264.12" r="0.8" fill="#ffff00"/></g><rect x="17.5" y="191.5" width="92" height="73" fill="none" stroke="#666" stroke-width="0.35"/><path d="M26.7 264.5v-0.9M26.7 191.5v0.9M35.9 264.5v-0.9M35.9 191.5v0.9M45.1 264.5v-0.9M45.1 191.5v0.9M54.3 264.5v-0.9M54.3 191.5v0.9M63.5 264.5v-0.9M63.5 191.5v0.9M72.7 264.5v-0.9M72.7 191.5v0.9M81.9 264.5v-0.9M81.9 191.5v0.9M91.1 264.5v-0.9M91.1 191.5v0.9M100.3 264.5v-0.9M100.3 191.5v0.9M109.5 264.5v-0.9M109.5 191.5v0.9M17.5 196.7h0.9M109.5 196.7h-0.9M17.5 202.3h0.9M109.5 202.3h-0.9M17.5 208.8h0.9M109.5 208.8h-0.9M17.5 214.9h0.9M109.5 214.9h-0.9M17.5 221.5h0.9M109.5 221.5h-0.9M17.5 228h0.9M109.5 228h-0.9M17.5 235.3h0.9M109.5 235.3h-0.9M17.5 242.5h0.9M109.5 242.5h-0.9M17.5 250.8h0.9M109.5 250.8h-0.9M17.5 259.3h0.9M109.5 259.3h-0.9" stroke="#555" stroke-width="0.3" fill="none"/><g fill="#111"><text transform="translate(26.7 268.9) scale(0.1)" font-size="25" text-anchor="middle" fill="#222" stroke="#222" stroke-width="2">50</text><text transform="translate(35.9 268.9) scale(0.1)" font-size="25" text-anchor="middle" fill="#222" stroke="#222" stroke-width="2">100</text><text transform="translate(45.1 268.9) scale(0.1)" font-size="25" text-anchor="middle" fill="#222" stroke="#222" stroke-width="2">150</text><text transform="translate(54.3 268.9) scale(0.1)" font-size="25" text-anchor="middle" fill="#222" stroke="#222" stroke-width="2">200</text><text transform="translate(63.5 268.9) scale(0.1)" font-size="25" text-anchor="middle" fill="#222" stroke="#222" stroke-width="2">250</text><text transform="translate(72.7 268.9) scale(0.1)" font-size="25" text-anchor="middle" fill="#222" stroke="#222" stroke-width="2">300</text><text transform="translate(81.9 268.9) scale(0.1)" font-size="25" text-anchor="middle" fill="#222" stroke="#222" stroke-width="2">350</text><text transform="translate(91.1 268.9) scale(0.1)" font-size="25" text-anchor="middle" fill="#222" stroke="#222" stroke-width="2">400</text><text transform="translate(100.3 268.9) scale(0.1)" font-size="25" text-anchor="middle" fill="#222" stroke="#222" stroke-width="2">450</text><text transform="translate(109.5 268.9) scale(0.1)" font-size="25" text-anchor="middle" fill="#222" stroke="#222" stroke-width="2">500</text></g><g fill="#111"><text transform="translate(16.5 197.6) scale(0.1)" font-size="25" text-anchor="end" fill="#222" stroke="#222" stroke-width="2">1350</text><text transform="translate(16.5 203.2) scale(0.1)" font-size="25" text-anchor="end" fill="#222" stroke="#222" stroke-width="2">1300</text><text transform="translate(16.5 209.7) scale(0.1)" font-size="25" text-anchor="end" fill="#222" stroke="#222" stroke-width="2">1250</text><text transform="translate(16.5 215.8) scale(0.1)" font-size="25" text-anchor="end" fill="#222" stroke="#222" stroke-width="2">1200</text><text transform="translate(16.5 222.4) scale(0.1)" font-size="25" text-anchor="end" fill="#222" stroke="#222" stroke-width="2">1150</text><text transform="translate(16.5 228.9) scale(0.1)" font-size="25" text-anchor="end" fill="#222" stroke="#222" stroke-width="2">1100</text><text transform="translate(16.5 236.2) scale(0.1)" font-size="25" text-anchor="end" fill="#222" stroke="#222" stroke-width="2">1050</text><text transform="translate(16.5 243.4) scale(0.1)" font-size="25" text-anchor="end" fill="#222" stroke="#222" stroke-width="2">1000</text><text transform="translate(16.5 251.7) scale(0.1)" font-size="25" text-anchor="end" fill="#222" stroke="#222" stroke-width="2">950</text><text transform="translate(16.5 260.2) scale(0.1)" font-size="25" text-anchor="end" fill="#222" stroke="#222" stroke-width="2">900</text></g><text transform="translate(63.5 272.6) scale(0.1)" font-size="31" text-anchor="middle" fill="#222" stroke="#222" stroke-width="1">Iteration</text><text transform="translate(8.3 228) rotate(-90) scale(0.1)" font-size="31" text-anchor="middle" fill="#222" stroke="#222" stroke-width="1.2">Fitness function</text><text transform="translate(63.5 190.05) scale(0.1)" font-size="33" text-anchor="middle" fill="#333" stroke="#333" stroke-width="1">C08</text><g fill="#222"><rect x="85.5" y="194.4" width="22" height="49" fill="#fff" stroke="#666" stroke-width="0.3"/><path d="M86.4 196.3h8.2" stroke="#0000ff" stroke-width="0.5" stroke-opacity="0.6"/><text transform="translate(95.7 197.2) scale(0.1)" font-size="25" fill="#2a2a2a" stroke="#2a2a2a" stroke-width="1">SSA</text><path d="M86.4 199.78h8.2" stroke="#00ff00" stroke-width="0.5" stroke-opacity="0.6"/><circle cx="90.5" cy="199.78" r="0.7" fill="#00ff00"/><text transform="translate(95.7 200.68) scale(0.1)" font-size="25" fill="#2a2a2a" stroke="#2a2a2a" stroke-width="1">GWO</text><path d="M86.4 203.25h8.2" stroke="#806860" stroke-width="0.5" stroke-opacity="0.6"/><text transform="translate(95.7 204.15) scale(0.1)" font-size="25" fill="#2a2a2a" stroke="#2a2a2a" stroke-width="1">WOA</text><path d="M86.4 206.73h8.2" stroke="#ff00ff" stroke-width="0.5" stroke-opacity="0.6"/><circle cx="90.5" cy="206.73" r="0.7" fill="#ff00ff"/><text transform="translate(95.7 207.63) scale(0.1)" font-size="25" fill="#2a2a2a" stroke="#2a2a2a" stroke-width="1">PSO</text><path d="M86.4 210.21h8.2" stroke="#00ffff" stroke-width="0.5" stroke-opacity="0.6"/><circle cx="90.5" cy="210.21" r="0.7" fill="#00ffff"/><text transform="translate(95.7 211.11) scale(0.1)" font-size="25" fill="#2a2a2a" stroke="#2a2a2a" stroke-width="1">ABC</text><path d="M86.4 213.69h8.2" stroke="#000000" stroke-width="0.5" stroke-opacity="0.6"/><circle cx="90.5" cy="213.69" r="0.7" fill="#000000"/><text transform="translate(95.7 214.59) scale(0.1)" font-size="25" fill="#2a2a2a" stroke="#2a2a2a" stroke-width="1">FA</text><path d="M86.4 217.16h8.2" stroke="#ffff00" stroke-width="0.5" stroke-opacity="0.6"/><text transform="translate(95.7 218.06) scale(0.1)" font-size="25" fill="#2a2a2a" stroke="#2a2a2a" stroke-width="1">CMGWOA</text><path d="M86.4 220.64h8.2" stroke="#0000ff" stroke-width="0.5" stroke-opacity="0.6"/><circle cx="90.5" cy="220.64" r="0.7" fill="#0000ff"/><text transform="translate(95.7 221.54) scale(0.1)" font-size="25" fill="#2a2a2a" stroke="#2a2a2a" stroke-width="1">LSSA</text><path d="M86.4 224.12h8.2" stroke="#00ff00" stroke-width="0.5" stroke-opacity="0.6"/><circle cx="90.5" cy="224.12" r="0.7" fill="#00ff00"/><text transform="translate(95.7 225.02) scale(0.1)" font-size="25" fill="#2a2a2a" stroke="#2a2a2a" stroke-width="1">AGWO</text><path d="M86.4 227.59h8.2" stroke="#e8745e" stroke-width="0.5" stroke-opacity="0.6"/><text transform="translate(95.7 228.49) scale(0.1)" font-size="25" fill="#2a2a2a" stroke="#2a2a2a" stroke-width="1">DWOA</text><path d="M86.4 231.07h8.2" stroke="#ff00ff" stroke-width="0.5" stroke-opacity="0.6"/><circle cx="90.5" cy="231.07" r="0.7" fill="#ff00ff"/><text transform="translate(95.7 231.97) scale(0.1)" font-size="25" fill="#2a2a2a" stroke="#2a2a2a" stroke-width="1">OPPSO</text><path d="M86.4 234.55h8.2" stroke="#ffff00" stroke-width="0.5" stroke-opacity="0.6"/><circle cx="90.5" cy="234.55" r="0.7" fill="#ffff00"/><text transform="translate(95.7 235.45) scale(0.1)" font-size="25" fill="#2a2a2a" stroke="#2a2a2a" stroke-width="1">NSMO</text><path d="M86.4 238.02h8.2" stroke="#00ffff" stroke-width="0.5" stroke-opacity="0.6"/><circle cx="90.5" cy="238.02" r="0.7" fill="#00ffff"/><text transform="translate(95.7 238.92) scale(0.1)" font-size="25" fill="#2a2a2a" stroke="#2a2a2a" stroke-width="1">MSSTA</text><path d="M86.4 241.5h8.2" stroke="#ff0000" stroke-width="0.5" stroke-opacity="0.6"/><circle cx="90.5" cy="241.5" r="0.7" fill="#ff0000"/><text transform="translate(95.7 242.4) scale(0.1)" font-size="25" fill="#2a2a2a" stroke="#2a2a2a" stroke-width="1">WMSSSA</text></g></g>
<g><clipPath id="c12"><rect x="152.5" y="190.3" width="94" height="75.4"/></clipPath><g clip-path="url(#c12)"><path d="M153.38 195.77 L159.61 209.48 L167 212.56 L174.37 213.8 L181.14 214.63 L187.82 215.35 L199.02 216.16 L244.09 216.3" fill="none" stroke="#e8745e" stroke-width="0.65" stroke-opacity="0.85"/><path d="M153.38 196.97 L159.61 210.72 L167 215.01 L174.37 216.26 L181.14 216.88 L199.02 218.21 L244.09 218.69" fill="none" stroke="#806860" stroke-width="0.65" stroke-opacity="0.85"/><path d="M153.38 191 L159.61 208.86 L167 215.63 L174.37 219.96 L181.14 222.41 L187.82 225.61 L195.21 229.19 L202.12 231.1 L244.09 232.06" fill="none" stroke="#00ffff" stroke-width="0.6" stroke-opacity="0.8"/><circle cx="153.38" cy="191" r="0.8" fill="#00ffff"/><circle cx="160.42" cy="209.6" r="0.8" fill="#00ffff"/><circle cx="167.46" cy="215.91" r="0.8" fill="#00ffff"/><circle cx="174.5" cy="220" r="0.8" fill="#00ffff"/><circle cx="181.54" cy="222.61" r="0.8" fill="#00ffff"/><circle cx="188.58" cy="225.98" r="0.8" fill="#00ffff"/><circle cx="195.62" cy="229.31" r="0.8" fill="#00ffff"/><circle cx="202.66" cy="231.12" r="0.8" fill="#00ffff"/><circle cx="209.7" cy="231.28" r="0.8" fill="#00ffff"/><circle cx="216.74" cy="231.44" r="0.8" fill="#00ffff"/><circle cx="223.78" cy="231.6" r="0.8" fill="#00ffff"/><circle cx="230.82" cy="231.76" r="0.8" fill="#00ffff"/><circle cx="237.86" cy="231.92" r="0.8" fill="#00ffff"/><circle cx="244.9" cy="232.06" r="0.8" fill="#00ffff"/><path d="M153.38 210.72 L159.61 219.96 L167 220.55 L174.37 222.41 L181.14 222.99 L187.82 223.23 L195.21 223.7 L244.09 224.18" fill="none" stroke="#000000" stroke-width="0.6" stroke-opacity="0.45"/><circle cx="153.38" cy="210.72" r="0.8" fill="#000000"/><circle cx="160.42" cy="220.02" r="0.8" fill="#000000"/><circle cx="167.46" cy="220.67" r="0.8" fill="#000000"/><circle cx="174.5" cy="222.43" r="0.8" fill="#000000"/><circle cx="181.54" cy="223" r="0.8" fill="#000000"/><circle cx="188.58" cy="223.28" r="0.8" fill="#000000"/><circle cx="195.62" cy="223.71" r="0.8" fill="#000000"/><circle cx="202.66" cy="223.78" r="0.8" fill="#000000"/><circle cx="209.7" cy="223.84" r="0.8" fill="#000000"/><circle cx="216.74" cy="223.91" r="0.8" fill="#000000"/><circle cx="223.78" cy="223.98" r="0.8" fill="#000000"/><circle cx="230.82" cy="224.05" r="0.8" fill="#000000"/><circle cx="237.86" cy="224.12" r="0.8" fill="#000000"/><circle cx="244.9" cy="224.18" r="0.8" fill="#000000"/><path d="M153.38 201.48 L159.61 216.26 L167 221.17 L174.37 223.03 L181.14 224.25 L187.82 225.49 L195.21 226.71 L202.12 227.76 L244.09 228.48" fill="none" stroke="#0000ff" stroke-width="0.6" stroke-opacity="0.8"/><circle cx="153.38" cy="201.48" r="0.8" fill="#0000ff"/><circle cx="160.42" cy="216.8" r="0.8" fill="#0000ff"/><circle cx="167.46" cy="221.29" r="0.8" fill="#0000ff"/><circle cx="174.5" cy="223.06" r="0.8" fill="#0000ff"/><circle cx="181.54" cy="224.33" r="0.8" fill="#0000ff"/><circle cx="188.58" cy="225.62" r="0.8" fill="#0000ff"/><circle cx="195.62" cy="226.77" r="0.8" fill="#0000ff"/><circle cx="202.66" cy="227.77" r="0.8" fill="#0000ff"/><circle cx="209.7" cy="227.89" r="0.8" fill="#0000ff"/><circle cx="216.74" cy="228.01" r="0.8" fill="#0000ff"/><circle cx="223.78" cy="228.13" r="0.8" fill="#0000ff"/><circle cx="230.82" cy="228.25" r="0.8" fill="#0000ff"/><circle cx="237.86" cy="228.37" r="0.8" fill="#0000ff"/><circle cx="244.9" cy="228.48" r="0.8" fill="#0000ff"/><path d="M153.38 201.74 L159.61 222.27 L167 225.85 L174.37 226.57 L181.14 227.76 L187.82 228.95 L195.21 229.67 L244.09 230.39" fill="none" stroke="#ff00ff" stroke-width="0.6" stroke-opacity="0.8"/><circle cx="153.38" cy="201.74" r="0.8" fill="#ff00ff"/><circle cx="160.42" cy="222.67" r="0.8" fill="#ff00ff"/><circle cx="167.46" cy="225.9" r="0.8" fill="#ff00ff"/><circle cx="174.5" cy="226.59" r="0.8" fill="#ff00ff"/><circle cx="181.54" cy="227.83" r="0.8" fill="#ff00ff"/><circle cx="188.58" cy="229.03" r="0.8" fill="#ff00ff"/><circle cx="195.62" cy="229.68" r="0.8" fill="#ff00ff"/><circle cx="202.66" cy="229.78" r="0.8" fill="#ff00ff"/><circle cx="209.7" cy="229.88" r="0.8" fill="#ff00ff"/><circle cx="216.74" cy="229.99" r="0.8" fill="#ff00ff"/><circle cx="223.78" cy="230.09" r="0.8" fill="#ff00ff"/><circle cx="230.82" cy="230.19" r="0.8" fill="#ff00ff"/><circle cx="237.86" cy="230.3" r="0.8" fill="#ff00ff"/><circle cx="244.9" cy="230.39" r="0.8" fill="#ff00ff"/><path d="M153.38 200.55 L159.61 225.49 L167 227.95 L174.37 229.19 L199.02 229.79 L244.09 230.15" fill="none" stroke="#0000ff" stroke-width="0.6" stroke-opacity="0.8"/><path d="M153.38 192.19 L159.61 225.49 L167 226.71 L174.37 227.71 L181.14 227.95 L244.09 228.48" fill="none" stroke="#00ff00" stroke-width="0.6" stroke-opacity="0.8"/><circle cx="153.38" cy="192.19" r="0.8" fill="#00ff00"/><circle cx="160.42" cy="225.63" r="0.8" fill="#00ff00"/><circle cx="167.46" cy="226.77" r="0.8" fill="#00ff00"/><circle cx="174.5" cy="227.72" r="0.8" fill="#00ff00"/><circle cx="181.54" cy="227.96" r="0.8" fill="#00ff00"/><circle cx="188.58" cy="228.01" r="0.8" fill="#00ff00"/><circle cx="195.62" cy="228.07" r="0.8" fill="#00ff00"/><circle cx="202.66" cy="228.13" r="0.8" fill="#00ff00"/><circle cx="209.7" cy="228.19" r="0.8" fill="#00ff00"/><circle cx="216.74" cy="228.25" r="0.8" fill="#00ff00"/><circle cx="223.78" cy="228.31" r="0.8" fill="#00ff00"/><circle cx="230.82" cy="228.37" r="0.8" fill="#00ff00"/><circle cx="237.86" cy="228.43" r="0.8" fill="#00ff00"/><circle cx="244.9" cy="228.48" r="0.8" fill="#00ff00"/><path d="M153.38 198.16 L159.61 224.25 L167 227.95 L174.37 230.39 L181.14 231.03 L199.02 231.65 L244.09 232.06" fill="none" stroke="#ffff00" stroke-width="0.6" stroke-opacity="0.8"/><path d="M153.38 196.97 L159.61 223.03 L167 226.09 L174.37 229.19 L181.14 231.17 L187.82 233.63 L195.21 237.31 L202.29 242.63 L209.66 243.87 L216.43 244.47 L223.82 244.85 L244.09 244.95" fill="none" stroke="#ff00ff" stroke-width="0.6" stroke-opacity="0.8"/><circle cx="153.38" cy="196.97" r="0.8" fill="#ff00ff"/><circle cx="160.42" cy="223.37" r="0.8" fill="#ff00ff"/><circle cx="167.46" cy="226.29" r="0.8" fill="#ff00ff"/><circle cx="174.5" cy="229.23" r="0.8" fill="#ff00ff"/><circle cx="181.54" cy="231.32" r="0.8" fill="#ff00ff"/><circle cx="188.58" cy="234.01" r="0.8" fill="#ff00ff"/><circle cx="195.62" cy="237.62" r="0.8" fill="#ff00ff"/><circle cx="202.66" cy="242.7" r="0.8" fill="#ff00ff"/><circle cx="209.7" cy="243.88" r="0.8" fill="#ff00ff"/><circle cx="216.74" cy="244.49" r="0.8" fill="#ff00ff"/><circle cx="223.78" cy="244.85" r="0.8" fill="#ff00ff"/><circle cx="230.82" cy="244.89" r="0.8" fill="#ff00ff"/><circle cx="237.86" cy="244.92" r="0.8" fill="#ff00ff"/><circle cx="244.9" cy="244.95" r="0.8" fill="#ff00ff"/><path d="M153.38 202.94 L159.61 230.55 L167 234.25 L174.37 235.5 L181.14 236.12 L187.82 236.71 L195.21 237.07 L244.09 237.07" fill="none" stroke="#00ff00" stroke-width="0.6" stroke-opacity="0.8"/><circle cx="153.38" cy="202.94" r="0.8" fill="#00ff00"/><circle cx="160.42" cy="230.96" r="0.8" fill="#00ff00"/><circle cx="167.46" cy="234.33" r="0.8" fill="#00ff00"/><circle cx="174.5" cy="235.51" r="0.8" fill="#00ff00"/><circle cx="181.54" cy="236.15" r="0.8" fill="#00ff00"/><circle cx="188.58" cy="236.75" r="0.8" fill="#00ff00"/><circle cx="195.62" cy="237.07" r="0.8" fill="#00ff00"/><circle cx="202.66" cy="237.07" r="0.8" fill="#00ff00"/><circle cx="209.7" cy="237.07" r="0.8" fill="#00ff00"/><circle cx="216.74" cy="237.07" r="0.8" fill="#00ff00"/><circle cx="223.78" cy="237.07" r="0.8" fill="#00ff00"/><circle cx="230.82" cy="237.07" r="0.8" fill="#00ff00"/><circle cx="237.86" cy="237.07" r="0.8" fill="#00ff00"/><circle cx="244.9" cy="237.07" r="0.8" fill="#00ff00"/><path d="M153.38 193.46 L159.61 236.71 L167 240.41 L174.37 243.52 L181.14 245.33 L187.82 246.21 L195.21 246.74 L202.29 247.57 L209.66 248.53 L216.43 249.41 L223.82 250.03 L230.5 250.68 L237.34 251.87 L244.09 253.73" fill="none" stroke="#00ffff" stroke-width="0.6" stroke-opacity="0.8"/><circle cx="153.38" cy="193.46" r="0.8" fill="#00ffff"/><circle cx="160.42" cy="237.12" r="0.8" fill="#00ffff"/><circle cx="167.46" cy="240.61" r="0.8" fill="#00ffff"/><circle cx="174.5" cy="243.55" r="0.8" fill="#00ffff"/><circle cx="181.54" cy="245.38" r="0.8" fill="#00ffff"/><circle cx="188.58" cy="246.27" r="0.8" fill="#00ffff"/><circle cx="195.62" cy="246.79" r="0.8" fill="#00ffff"/><circle cx="202.66" cy="247.62" r="0.8" fill="#00ffff"/><circle cx="209.7" cy="248.53" r="0.8" fill="#00ffff"/><circle cx="216.74" cy="249.44" r="0.8" fill="#00ffff"/><circle cx="223.78" cy="250.03" r="0.8" fill="#00ffff"/><circle cx="230.82" cy="250.73" r="0.8" fill="#00ffff"/><circle cx="237.86" cy="252.01" r="0.8" fill="#00ffff"/><circle cx="244.9" cy="253.73" r="0.8" fill="#00ffff"/><path d="M153.38 206.99 L159.61 228.1 L167 234.25 L174.37 240.41 L181.14 244.71 L187.82 249.01 L195.21 252.11 L202.29 254.97 L209.66 257.43 L216.43 259.27 L223.82 260.87 L230.5 262.37 L237.34 263.57 L244.09 264.19" fill="none" stroke="#ff0000" stroke-width="0.6" stroke-opacity="0.8"/><circle cx="153.38" cy="206.99" r="0.8" fill="#ff0000"/><circle cx="160.42" cy="228.77" r="0.8" fill="#ff0000"/><circle cx="167.46" cy="234.64" r="0.8" fill="#ff0000"/><circle cx="174.5" cy="240.5" r="0.8" fill="#ff0000"/><circle cx="181.54" cy="244.97" r="0.8" fill="#ff0000"/><circle cx="188.58" cy="249.33" r="0.8" fill="#ff0000"/><circle cx="195.62" cy="252.28" r="0.8" fill="#ff0000"/><circle cx="202.66" cy="255.1" r="0.8" fill="#ff0000"/><circle cx="209.7" cy="257.44" r="0.8" fill="#ff0000"/><circle cx="216.74" cy="259.34" r="0.8" fill="#ff0000"/><circle cx="223.78" cy="260.86" r="0.8" fill="#ff0000"/><circle cx="230.82" cy="262.43" r="0.8" fill="#ff0000"/><circle cx="237.86" cy="263.62" r="0.8" fill="#ff0000"/><circle cx="244.9" cy="264.19" r="0.8" fill="#ff0000"/><path d="M153.38 202.94 L159.61 228.57 L167 237.31 L174.37 245.33 L181.14 250.27 L187.82 254.57 L195.21 257.29 L202.29 259.27 L209.66 260.87 L216.43 262.37 L223.82 263.57 L230.5 264.19 L244.09 264.76" fill="none" stroke="#ffff00" stroke-width="0.6" stroke-opacity="0.8"/><circle cx="153.38" cy="202.94" r="0.8" fill="#ffff00"/><circle cx="160.42" cy="229.54" r="0.8" fill="#ffff00"/><circle cx="167.46" cy="237.81" r="0.8" fill="#ffff00"/><circle cx="174.5" cy="245.43" r="0.8" fill="#ffff00"/><circle cx="181.54" cy="250.53" r="0.8" fill="#ffff00"/><circle cx="188.58" cy="254.85" r="0.8" fill="#ffff00"/><circle cx="195.62" cy="257.41" r="0.8" fill="#ffff00"/><circle cx="202.66" cy="259.35" r="0.8" fill="#ffff00"/><circle cx="209.7" cy="260.88" r="0.8" fill="#ffff00"/><circle cx="216.74" cy="262.42" r="0.8" fill="#ffff00"/><circle cx="223.78" cy="263.56" r="0.8" fill="#ffff00"/><circle cx="230.82" cy="264.2" r="0.8" fill="#ffff00"/><circle cx="237.86" cy="264.5" r="0.8" fill="#ffff00"/><circle cx="244.9" cy="264.76" r="0.8" fill="#ffff00"/></g><rect x="153.5" y="191.5" width="92" height="73" fill="none" stroke="#666" stroke-width="0.35"/><path d="M162.7 264.5v-0.9M162.7 191.5v0.9M171.9 264.5v-0.9M171.9 191.5v0.9M181.1 264.5v-0.9M181.1 191.5v0.9M190.3 264.5v-0.9M190.3 191.5v0.9M199.5 264.5v-0.9M199.5 191.5v0.9M208.7 264.5v-0.9M208.7 191.5v0.9M217.9 264.5v-0.9M217.9 191.5v0.9M227.1 264.5v-0.9M227.1 191.5v0.9M236.3 264.5v-0.9M236.3 191.5v0.9M245.5 264.5v-0.9M245.5 191.5v0.9M153.5 217.8h0.9M245.5 217.8h-0.9" stroke="#555" stroke-width="0.3" fill="none"/><g fill="#111"><text transform="translate(162.7 268.9) scale(0.1)" font-size="25" text-anchor="middle" fill="#222" stroke="#222" stroke-width="2">50</text><text transform="translate(171.9 268.9) scale(0.1)" font-size="25" text-anchor="middle" fill="#222" stroke="#222" stroke-width="2">100</text><text transform="translate(181.1 268.9) scale(0.1)" font-size="25" text-anchor="middle" fill="#222" stroke="#222" stroke-width="2">150</text><text transform="translate(190.3 268.9) scale(0.1)" font-size="25" text-anchor="middle" fill="#222" stroke="#222" stroke-width="2">200</text><text transform="translate(199.5 268.9) scale(0.1)" font-size="25" text-anchor="middle" fill="#222" stroke="#222" stroke-width="2">250</text><text transform="translate(208.7 268.9) scale(0.1)" font-size="25" text-anchor="middle" fill="#222" stroke="#222" stroke-width="2">300</text><text transform="translate(217.9 268.9) scale(0.1)" font-size="25" text-anchor="middle" fill="#222" stroke="#222" stroke-width="2">350</text><text transform="translate(227.1 268.9) scale(0.1)" font-size="25" text-anchor="middle" fill="#222" stroke="#222" stroke-width="2">400</text><text transform="translate(236.3 268.9) scale(0.1)" font-size="25" text-anchor="middle" fill="#222" stroke="#222" stroke-width="2">450</text><text transform="translate(245.5 268.9) scale(0.1)" font-size="25" text-anchor="middle" fill="#222" stroke="#222" stroke-width="2">500</text></g><g fill="#111"><text transform="translate(152.3 218.75) scale(0.1)" font-size="25" text-anchor="end" fill="#222" stroke="#222" stroke-width="2">10<tspan font-size="17.5" dy="-11.25">1</tspan></text></g><text transform="translate(199.5 272.6) scale(0.1)" font-size="31" text-anchor="middle" fill="#222" stroke="#222" stroke-width="1">Iteration</text><text transform="translate(146.3 228) rotate(-90) scale(0.1)" font-size="31" text-anchor="middle" fill="#222" stroke="#222" stroke-width="1.2">Fitness function</text><text transform="translate(199.5 190.05) scale(0.1)" font-size="33" text-anchor="middle" fill="#333" stroke="#333" stroke-width="1">C09</text><g fill="#222"><rect x="221.5" y="194.4" width="22" height="49" fill="#fff" stroke="#666" stroke-width="0.3"/><path d="M222.4 196.3h8.2" stroke="#0000ff" stroke-width="0.5" stroke-opacity="0.6"/><text transform="translate(231.7 197.2) scale(0.1)" font-size="25" fill="#2a2a2a" stroke="#2a2a2a" stroke-width="1">SSA</text><path d="M222.4 199.78h8.2" stroke="#00ff00" stroke-width="0.5" stroke-opacity="0.6"/><circle cx="226.5" cy="199.78" r="0.7" fill="#00ff00"/><text transform="translate(231.7 200.68) scale(0.1)" font-size="25" fill="#2a2a2a" stroke="#2a2a2a" stroke-width="1">GWO</text><path d="M222.4 203.25h8.2" stroke="#806860" stroke-width="0.5" stroke-opacity="0.6"/><text transform="translate(231.7 204.15) scale(0.1)" font-size="25" fill="#2a2a2a" stroke="#2a2a2a" stroke-width="1">WOA</text><path d="M222.4 206.73h8.2" stroke="#ff00ff" stroke-width="0.5" stroke-opacity="0.6"/><circle cx="226.5" cy="206.73" r="0.7" fill="#ff00ff"/><text transform="translate(231.7 207.63) scale(0.1)" font-size="25" fill="#2a2a2a" stroke="#2a2a2a" stroke-width="1">PSO</text><path d="M222.4 210.21h8.2" stroke="#00ffff" stroke-width="0.5" stroke-opacity="0.6"/><circle cx="226.5" cy="210.21" r="0.7" fill="#00ffff"/><text transform="translate(231.7 211.11) scale(0.1)" font-size="25" fill="#2a2a2a" stroke="#2a2a2a" stroke-width="1">ABC</text><path d="M222.4 213.69h8.2" stroke="#000000" stroke-width="0.5" stroke-opacity="0.6"/><circle cx="226.5" cy="213.69" r="0.7" fill="#000000"/><text transform="translate(231.7 214.59) scale(0.1)" font-size="25" fill="#2a2a2a" stroke="#2a2a2a" stroke-width="1">FA</text><path d="M222.4 217.16h8.2" stroke="#ffff00" stroke-width="0.5" stroke-opacity="0.6"/><text transform="translate(231.7 218.06) scale(0.1)" font-size="25" fill="#2a2a2a" stroke="#2a2a2a" stroke-width="1">CMGWOA</text><path d="M222.4 220.64h8.2" stroke="#0000ff" stroke-width="0.5" stroke-opacity="0.6"/><circle cx="226.5" cy="220.64" r="0.7" fill="#0000ff"/><text transform="translate(231.7 221.54) scale(0.1)" font-size="25" fill="#2a2a2a" stroke="#2a2a2a" stroke-width="1">LSSA</text><path d="M222.4 224.12h8.2" stroke="#00ff00" stroke-width="0.5" stroke-opacity="0.6"/><circle cx="226.5" cy="224.12" r="0.7" fill="#00ff00"/><text transform="translate(231.7 225.02) scale(0.1)" font-size="25" fill="#2a2a2a" stroke="#2a2a2a" stroke-width="1">AGWO</text><path d="M222.4 227.59h8.2" stroke="#e8745e" stroke-width="0.5" stroke-opacity="0.6"/><text transform="translate(231.7 228.49) scale(0.1)" font-size="25" fill="#2a2a2a" stroke="#2a2a2a" stroke-width="1">DWOA</text><path d="M222.4 231.07h8.2" stroke="#ff00ff" stroke-width="0.5" stroke-opacity="0.6"/><circle cx="226.5" cy="231.07" r="0.7" fill="#ff00ff"/><text transform="translate(231.7 231.97) scale(0.1)" font-size="25" fill="#2a2a2a" stroke="#2a2a2a" stroke-width="1">OPPSO</text><path d="M222.4 234.55h8.2" stroke="#ffff00" stroke-width="0.5" stroke-opacity="0.6"/><circle cx="226.5" cy="234.55" r="0.7" fill="#ffff00"/><text transform="translate(231.7 235.45) scale(0.1)" font-size="25" fill="#2a2a2a" stroke="#2a2a2a" stroke-width="1">NSMO</text><path d="M222.4 238.02h8.2" stroke="#00ffff" stroke-width="0.5" stroke-opacity="0.6"/><circle cx="226.5" cy="238.02" r="0.7" fill="#00ffff"/><text transform="translate(231.7 238.92) scale(0.1)" font-size="25" fill="#2a2a2a" stroke="#2a2a2a" stroke-width="1">MSSTA</text><path d="M222.4 241.5h8.2" stroke="#ff0000" stroke-width="0.5" stroke-opacity="0.6"/><circle cx="226.5" cy="241.5" r="0.7" fill="#ff0000"/><text transform="translate(231.7 242.4) scale(0.1)" font-size="25" fill="#2a2a2a" stroke="#2a2a2a" stroke-width="1">WMSSSA</text></g></g>
<g><clipPath id="c22"><rect x="288.5" y="190.3" width="94" height="75.4"/></clipPath><g clip-path="url(#c22)"><path d="M289.38 203.32 L295.61 211.29 L303 212.2 L310.37 212.56 L317.14 213.2 L323.82 213.8 L331.21 214.39 L380.09 215.11" fill="none" stroke="#000000" stroke-width="0.6" stroke-opacity="0.45"/><circle cx="289.38" cy="203.32" r="0.8" fill="#000000"/><circle cx="296.42" cy="211.39" r="0.8" fill="#000000"/><circle cx="303.46" cy="212.22" r="0.8" fill="#000000"/><circle cx="310.5" cy="212.57" r="0.8" fill="#000000"/><circle cx="317.54" cy="213.24" r="0.8" fill="#000000"/><circle cx="324.58" cy="213.86" r="0.8" fill="#000000"/><circle cx="331.62" cy="214.4" r="0.8" fill="#000000"/><circle cx="338.66" cy="214.5" r="0.8" fill="#000000"/><circle cx="345.7" cy="214.61" r="0.8" fill="#000000"/><circle cx="352.74" cy="214.71" r="0.8" fill="#000000"/><circle cx="359.78" cy="214.81" r="0.8" fill="#000000"/><circle cx="366.82" cy="214.92" r="0.8" fill="#000000"/><circle cx="373.86" cy="215.02" r="0.8" fill="#000000"/><circle cx="380.9" cy="215.11" r="0.8" fill="#000000"/><path d="M289.38 202.46 L295.61 211.53 L303 217.02 L310.37 220.12 L317.14 222.03 L323.82 223.23 L335.02 224.18 L380.09 224.66" fill="none" stroke="#806860" stroke-width="0.7" stroke-opacity="0.85"/><path d="M289.38 203.32 L295.61 211.93 L303 217.5 L310.37 220.6 L317.14 222.41 L323.82 223.63 L335.02 224.66 L380.09 225.14" fill="none" stroke="#e8745e" stroke-width="0.7" stroke-opacity="0.85"/><path d="M289.38 198.16 L295.61 206.99 L303 209.48 L310.37 212.56 L317.14 213.2 L323.82 213.8 L331.21 215.59 L345.52 217.26 L380.09 219.17" fill="none" stroke="#00ffff" stroke-width="0.6" stroke-opacity="0.8"/><circle cx="289.38" cy="198.16" r="0.8" fill="#00ffff"/><circle cx="296.42" cy="207.27" r="0.8" fill="#00ffff"/><circle cx="303.46" cy="209.67" r="0.8" fill="#00ffff"/><circle cx="310.5" cy="212.57" r="0.8" fill="#00ffff"/><circle cx="317.54" cy="213.24" r="0.8" fill="#00ffff"/><circle cx="324.58" cy="213.98" r="0.8" fill="#00ffff"/><circle cx="331.62" cy="215.64" r="0.8" fill="#00ffff"/><circle cx="338.66" cy="216.46" r="0.8" fill="#00ffff"/><circle cx="345.7" cy="217.27" r="0.8" fill="#00ffff"/><circle cx="352.74" cy="217.66" r="0.8" fill="#00ffff"/><circle cx="359.78" cy="218.05" r="0.8" fill="#00ffff"/><circle cx="366.82" cy="218.43" r="0.8" fill="#00ffff"/><circle cx="373.86" cy="218.82" r="0.8" fill="#00ffff"/><circle cx="380.9" cy="219.17" r="0.8" fill="#00ffff"/><path d="M289.38 195.77 L295.61 205.32 L303 207.71 L310.37 209.62 L317.14 212.01 L323.82 214.39 L331.21 216.78 L338.74 218.93 L345.52 221.67 L352.36 222.99 L380.09 224.42" fill="none" stroke="#00ff00" stroke-width="0.6" stroke-opacity="0.8"/><circle cx="289.38" cy="195.77" r="0.8" fill="#00ff00"/><circle cx="296.42" cy="205.59" r="0.8" fill="#00ff00"/><circle cx="303.46" cy="207.83" r="0.8" fill="#00ff00"/><circle cx="310.5" cy="209.67" r="0.8" fill="#00ff00"/><circle cx="317.54" cy="212.15" r="0.8" fill="#00ff00"/><circle cx="324.58" cy="214.64" r="0.8" fill="#00ff00"/><circle cx="331.62" cy="216.9" r="0.8" fill="#00ff00"/><circle cx="338.66" cy="218.91" r="0.8" fill="#00ff00"/><circle cx="345.7" cy="221.71" r="0.8" fill="#00ff00"/><circle cx="352.74" cy="223.01" r="0.8" fill="#00ff00"/><circle cx="359.78" cy="223.37" r="0.8" fill="#00ff00"/><circle cx="366.82" cy="223.73" r="0.8" fill="#00ff00"/><circle cx="373.86" cy="224.1" r="0.8" fill="#00ff00"/><circle cx="380.9" cy="224.42" r="0.8" fill="#00ff00"/><path d="M289.38 200.55 L295.61 211.93 L303 215.63 L310.37 216.88 L317.14 218.09 L323.82 219.33 L331.21 219.96 L338.74 220.6 L345.52 222.99 L352.36 227.05 L356.48 231.1 L373.42 249.6 L380.09 257.84" fill="none" stroke="#00ff00" stroke-width="0.6" stroke-opacity="0.8"/><circle cx="289.38" cy="200.55" r="0.8" fill="#00ff00"/><circle cx="296.42" cy="212.34" r="0.8" fill="#00ff00"/><circle cx="303.46" cy="215.71" r="0.8" fill="#00ff00"/><circle cx="310.5" cy="216.9" r="0.8" fill="#00ff00"/><circle cx="317.54" cy="218.17" r="0.8" fill="#00ff00"/><circle cx="324.58" cy="219.4" r="0.8" fill="#00ff00"/><circle cx="331.62" cy="219.99" r="0.8" fill="#00ff00"/><circle cx="338.66" cy="220.59" r="0.8" fill="#00ff00"/><circle cx="345.7" cy="223.1" r="0.8" fill="#00ff00"/><circle cx="352.74" cy="227.42" r="0.8" fill="#00ff00"/><circle cx="359.78" cy="234.7" r="0.8" fill="#00ff00"/><circle cx="366.82" cy="242.4" r="0.8" fill="#00ff00"/><circle cx="373.86" cy="250.15" r="0.8" fill="#00ff00"/><circle cx="380.9" cy="257.84" r="0.8" fill="#00ff00"/><path d="M289.38 194.7 L295.61 202.08 L303 205.8 L310.37 208.86 L317.14 211.93 L323.82 215.59 L331.21 218.09 L338.74 223.7 L345.52 227.05 L352.36 230.53 L356.48 231.82 L380.09 233.97" fill="none" stroke="#0000ff" stroke-width="0.6" stroke-opacity="0.8"/><circle cx="289.38" cy="194.7" r="0.8" fill="#0000ff"/><circle cx="296.42" cy="202.49" r="0.8" fill="#0000ff"/><circle cx="303.46" cy="205.99" r="0.8" fill="#0000ff"/><circle cx="310.5" cy="208.92" r="0.8" fill="#0000ff"/><circle cx="317.54" cy="212.15" r="0.8" fill="#0000ff"/><circle cx="324.58" cy="215.85" r="0.8" fill="#0000ff"/><circle cx="331.62" cy="218.4" r="0.8" fill="#0000ff"/><circle cx="338.66" cy="223.64" r="0.8" fill="#0000ff"/><circle cx="345.7" cy="227.14" r="0.8" fill="#0000ff"/><circle cx="352.74" cy="230.65" r="0.8" fill="#0000ff"/><circle cx="359.78" cy="232.12" r="0.8" fill="#0000ff"/><circle cx="366.82" cy="232.76" r="0.8" fill="#0000ff"/><circle cx="373.86" cy="233.4" r="0.8" fill="#0000ff"/><circle cx="380.9" cy="233.97" r="0.8" fill="#0000ff"/><path d="M289.38 196.97 L295.61 204.56 L303 206.99 L310.37 209.48 L317.14 212.56 L323.82 229.34 L331.21 244.11 L338.74 249.6 L345.52 250.3 L380.09 250.3" fill="none" stroke="#ff00ff" stroke-width="0.6" stroke-opacity="0.8"/><circle cx="289.38" cy="196.97" r="0.8" fill="#ff00ff"/><circle cx="296.42" cy="204.83" r="0.8" fill="#ff00ff"/><circle cx="303.46" cy="207.15" r="0.8" fill="#ff00ff"/><circle cx="310.5" cy="209.54" r="0.8" fill="#ff00ff"/><circle cx="317.54" cy="213.56" r="0.8" fill="#ff00ff"/><circle cx="324.58" cy="230.87" r="0.8" fill="#ff00ff"/><circle cx="331.62" cy="244.41" r="0.8" fill="#ff00ff"/><circle cx="338.66" cy="249.54" r="0.8" fill="#ff00ff"/><circle cx="345.7" cy="250.3" r="0.8" fill="#ff00ff"/><circle cx="352.74" cy="250.3" r="0.8" fill="#ff00ff"/><circle cx="359.78" cy="250.3" r="0.8" fill="#ff00ff"/><circle cx="366.82" cy="250.3" r="0.8" fill="#ff00ff"/><circle cx="373.86" cy="250.3" r="0.8" fill="#ff00ff"/><circle cx="380.9" cy="250.3" r="0.8" fill="#ff00ff"/><path d="M289.38 205.32 L295.61 226.09 L303 234.45 L310.37 236.59 L317.14 237.55 L323.82 237.95 L331.21 238.26 L380.09 239.39" fill="none" stroke="#ff00ff" stroke-width="0.6" stroke-opacity="0.8"/><circle cx="289.38" cy="205.32" r="0.8" fill="#ff00ff"/><circle cx="296.42" cy="227.01" r="0.8" fill="#ff00ff"/><circle cx="303.46" cy="234.58" r="0.8" fill="#ff00ff"/><circle cx="310.5" cy="236.61" r="0.8" fill="#ff00ff"/><circle cx="317.54" cy="237.57" r="0.8" fill="#ff00ff"/><circle cx="324.58" cy="237.99" r="0.8" fill="#ff00ff"/><circle cx="331.62" cy="238.27" r="0.8" fill="#ff00ff"/><circle cx="338.66" cy="238.44" r="0.8" fill="#ff00ff"/><circle cx="345.7" cy="238.6" r="0.8" fill="#ff00ff"/><circle cx="352.74" cy="238.76" r="0.8" fill="#ff00ff"/><circle cx="359.78" cy="238.92" r="0.8" fill="#ff00ff"/><circle cx="366.82" cy="239.08" r="0.8" fill="#ff00ff"/><circle cx="373.86" cy="239.24" r="0.8" fill="#ff00ff"/><circle cx="380.9" cy="239.39" r="0.8" fill="#ff00ff"/><path d="M289.38 202.94 L295.61 227.95 L303 235.64 L310.37 239.17 L317.14 241.03 L323.82 242.01 L335.02 242.56 L380.09 242.8" fill="none" stroke="#0000ff" stroke-width="0.6" stroke-opacity="0.8"/><path d="M289.38 200.55 L295.61 224.25 L303 237.31 L310.37 242.27 L317.14 245.33 L323.82 247.19 L335.02 248.41 L380.09 249.48" fill="none" stroke="#ffff00" stroke-width="0.6" stroke-opacity="0.8"/><path d="M289.38 201.74 L295.61 225.02 L303 233.63 L310.37 239.17 L317.14 243.52 L323.82 247.19 L331.21 249.25 L338.74 253.06 L345.52 254.38 L352.36 255.69 L359.11 256.41 L366.02 258.46 L373.42 259.15 L380.09 260.46" fill="none" stroke="#ffff00" stroke-width="0.6" stroke-opacity="0.8"/><circle cx="289.38" cy="201.74" r="0.8" fill="#ffff00"/><circle cx="296.42" cy="225.97" r="0.8" fill="#ffff00"/><circle cx="303.46" cy="233.98" r="0.8" fill="#ffff00"/><circle cx="310.5" cy="239.26" r="0.8" fill="#ffff00"/><circle cx="317.54" cy="243.74" r="0.8" fill="#ffff00"/><circle cx="324.58" cy="247.4" r="0.8" fill="#ffff00"/><circle cx="331.62" cy="249.45" r="0.8" fill="#ffff00"/><circle cx="338.66" cy="253.02" r="0.8" fill="#ffff00"/><circle cx="345.7" cy="254.41" r="0.8" fill="#ffff00"/><circle cx="352.74" cy="255.73" r="0.8" fill="#ffff00"/><circle cx="359.78" cy="256.61" r="0.8" fill="#ffff00"/><circle cx="366.82" cy="258.53" r="0.8" fill="#ffff00"/><circle cx="373.86" cy="259.24" r="0.8" fill="#ffff00"/><circle cx="380.9" cy="260.46" r="0.8" fill="#ffff00"/><path d="M289.38 199.35 L291.91 203.32 L295.61 223.03 L303 231.65 L310.37 239.7 L317.14 243.52 L323.82 246.57 L331.21 248.41 L338.74 251.87 L345.52 254.38 L352.36 255.69 L359.11 257.84 L366.02 258.79 L373.42 259.27 L380.09 261.9" fill="none" stroke="#00ffff" stroke-width="0.6" stroke-opacity="0.8"/><circle cx="289.38" cy="199.35" r="0.8" fill="#00ffff"/><circle cx="296.42" cy="223.98" r="0.8" fill="#00ffff"/><circle cx="303.46" cy="232.16" r="0.8" fill="#00ffff"/><circle cx="310.5" cy="239.77" r="0.8" fill="#00ffff"/><circle cx="317.54" cy="243.7" r="0.8" fill="#00ffff"/><circle cx="324.58" cy="246.76" r="0.8" fill="#00ffff"/><circle cx="331.62" cy="248.6" r="0.8" fill="#00ffff"/><circle cx="338.66" cy="251.83" r="0.8" fill="#00ffff"/><circle cx="345.7" cy="254.41" r="0.8" fill="#00ffff"/><circle cx="352.74" cy="255.81" r="0.8" fill="#00ffff"/><circle cx="359.78" cy="257.93" r="0.8" fill="#00ffff"/><circle cx="366.82" cy="258.85" r="0.8" fill="#00ffff"/><circle cx="373.86" cy="259.45" r="0.8" fill="#00ffff"/><circle cx="380.9" cy="261.9" r="0.8" fill="#00ffff"/><path d="M289.38 195.77 L290.67 197.16 L292.53 225.02 L295.61 248.41 L303 258.53 L310.37 261.11 L317.14 261.73 L323.82 262.59 L331.21 262.95 L380.09 263.23" fill="none" stroke="#ff0000" stroke-width="0.6" stroke-opacity="0.8"/><circle cx="289.38" cy="195.77" r="0.8" fill="#ff0000"/><circle cx="296.42" cy="249.53" r="0.8" fill="#ff0000"/><circle cx="303.46" cy="258.69" r="0.8" fill="#ff0000"/><circle cx="310.5" cy="261.12" r="0.8" fill="#ff0000"/><circle cx="317.54" cy="261.78" r="0.8" fill="#ff0000"/><circle cx="324.58" cy="262.63" r="0.8" fill="#ff0000"/><circle cx="331.62" cy="262.95" r="0.8" fill="#ff0000"/><circle cx="338.66" cy="262.99" r="0.8" fill="#ff0000"/><circle cx="345.7" cy="263.03" r="0.8" fill="#ff0000"/><circle cx="352.74" cy="263.07" r="0.8" fill="#ff0000"/><circle cx="359.78" cy="263.11" r="0.8" fill="#ff0000"/><circle cx="366.82" cy="263.16" r="0.8" fill="#ff0000"/><circle cx="373.86" cy="263.2" r="0.8" fill="#ff0000"/><circle cx="380.9" cy="263.23" r="0.8" fill="#ff0000"/></g><rect x="289.5" y="191.5" width="92" height="73" fill="none" stroke="#666" stroke-width="0.35"/><path d="M298.7 264.5v-0.9M298.7 191.5v0.9M307.9 264.5v-0.9M307.9 191.5v0.9M317.1 264.5v-0.9M317.1 191.5v0.9M326.3 264.5v-0.9M326.3 191.5v0.9M335.5 264.5v-0.9M335.5 191.5v0.9M344.7 264.5v-0.9M344.7 191.5v0.9M353.9 264.5v-0.9M353.9 191.5v0.9M363.1 264.5v-0.9M363.1 191.5v0.9M372.3 264.5v-0.9M372.3 191.5v0.9M381.5 264.5v-0.9M381.5 191.5v0.9M289.5 197h0.9M381.5 197h-0.9M289.5 205.5h0.9M381.5 205.5h-0.9M289.5 214.2h0.9M381.5 214.2h-0.9M289.5 224.4h0.9M381.5 224.4h-0.9M289.5 236.7h0.9M381.5 236.7h-0.9M289.5 250.3h0.9M381.5 250.3h-0.9" stroke="#555" stroke-width="0.3" fill="none"/><g fill="#111"><text transform="translate(298.7 268.9) scale(0.1)" font-size="25" text-anchor="middle" fill="#222" stroke="#222" stroke-width="2">50</text><text transform="translate(307.9 268.9) scale(0.1)" font-size="25" text-anchor="middle" fill="#222" stroke="#222" stroke-width="2">100</text><text transform="translate(317.1 268.9) scale(0.1)" font-size="25" text-anchor="middle" fill="#222" stroke="#222" stroke-width="2">150</text><text transform="translate(326.3 268.9) scale(0.1)" font-size="25" text-anchor="middle" fill="#222" stroke="#222" stroke-width="2">200</text><text transform="translate(335.5 268.9) scale(0.1)" font-size="25" text-anchor="middle" fill="#222" stroke="#222" stroke-width="2">250</text><text transform="translate(344.7 268.9) scale(0.1)" font-size="25" text-anchor="middle" fill="#222" stroke="#222" stroke-width="2">300</text><text transform="translate(353.9 268.9) scale(0.1)" font-size="25" text-anchor="middle" fill="#222" stroke="#222" stroke-width="2">350</text><text transform="translate(363.1 268.9) scale(0.1)" font-size="25" text-anchor="middle" fill="#222" stroke="#222" stroke-width="2">400</text><text transform="translate(372.3 268.9) scale(0.1)" font-size="25" text-anchor="middle" fill="#222" stroke="#222" stroke-width="2">450</text><text transform="translate(381.5 268.9) scale(0.1)" font-size="25" text-anchor="middle" fill="#222" stroke="#222" stroke-width="2">500</text></g><g fill="#111"><text transform="translate(288.5 197.9) scale(0.1)" font-size="25" text-anchor="end" fill="#222" stroke="#222" stroke-width="2">10000</text><text transform="translate(288.5 206.4) scale(0.1)" font-size="25" text-anchor="end" fill="#222" stroke="#222" stroke-width="2">9000</text><text transform="translate(288.5 215.1) scale(0.1)" font-size="25" text-anchor="end" fill="#222" stroke="#222" stroke-width="2">8000</text><text transform="translate(288.5 225.3) scale(0.1)" font-size="25" text-anchor="end" fill="#222" stroke="#222" stroke-width="2">7000</text><text transform="translate(288.5 237.6) scale(0.1)" font-size="25" text-anchor="end" fill="#222" stroke="#222" stroke-width="2">6000</text><text transform="translate(288.5 251.2) scale(0.1)" font-size="25" text-anchor="end" fill="#222" stroke="#222" stroke-width="2">5000</text></g><text transform="translate(335.5 272.6) scale(0.1)" font-size="31" text-anchor="middle" fill="#222" stroke="#222" stroke-width="1">Iteration</text><text transform="translate(278.4 228) rotate(-90) scale(0.1)" font-size="31" text-anchor="middle" fill="#222" stroke="#222" stroke-width="1.2">Fitness function</text><text transform="translate(335.5 190.05) scale(0.1)" font-size="33" text-anchor="middle" fill="#333" stroke="#333" stroke-width="1">C10</text><g fill="#222"><rect x="357.5" y="194.4" width="22" height="49" fill="#fff" stroke="#666" stroke-width="0.3"/><path d="M358.4 196.3h8.2" stroke="#0000ff" stroke-width="0.5" stroke-opacity="0.6"/><text transform="translate(367.7 197.2) scale(0.1)" font-size="25" fill="#2a2a2a" stroke="#2a2a2a" stroke-width="1">SSA</text><path d="M358.4 199.78h8.2" stroke="#00ff00" stroke-width="0.5" stroke-opacity="0.6"/><circle cx="362.5" cy="199.78" r="0.7" fill="#00ff00"/><text transform="translate(367.7 200.68) scale(0.1)" font-size="25" fill="#2a2a2a" stroke="#2a2a2a" stroke-width="1">GWO</text><path d="M358.4 203.25h8.2" stroke="#806860" stroke-width="0.5" stroke-opacity="0.6"/><text transform="translate(367.7 204.15) scale(0.1)" font-size="25" fill="#2a2a2a" stroke="#2a2a2a" stroke-width="1">WOA</text><path d="M358.4 206.73h8.2" stroke="#ff00ff" stroke-width="0.5" stroke-opacity="0.6"/><circle cx="362.5" cy="206.73" r="0.7" fill="#ff00ff"/><text transform="translate(367.7 207.63) scale(0.1)" font-size="25" fill="#2a2a2a" stroke="#2a2a2a" stroke-width="1">PSO</text><path d="M358.4 210.21h8.2" stroke="#00ffff" stroke-width="0.5" stroke-opacity="0.6"/><circle cx="362.5" cy="210.21" r="0.7" fill="#00ffff"/><text transform="translate(367.7 211.11) scale(0.1)" font-size="25" fill="#2a2a2a" stroke="#2a2a2a" stroke-width="1">ABC</text><path d="M358.4 213.69h8.2" stroke="#000000" stroke-width="0.5" stroke-opacity="0.6"/><circle cx="362.5" cy="213.69" r="0.7" fill="#000000"/><text transform="translate(367.7 214.59) scale(0.1)" font-size="25" fill="#2a2a2a" stroke="#2a2a2a" stroke-width="1">FA</text><path d="M358.4 217.16h8.2" stroke="#ffff00" stroke-width="0.5" stroke-opacity="0.6"/><text transform="translate(367.7 218.06) scale(0.1)" font-size="25" fill="#2a2a2a" stroke="#2a2a2a" stroke-width="1">CMGWOA</text><path d="M358.4 220.64h8.2" stroke="#0000ff" stroke-width="0.5" stroke-opacity="0.6"/><circle cx="362.5" cy="220.64" r="0.7" fill="#0000ff"/><text transform="translate(367.7 221.54) scale(0.1)" font-size="25" fill="#2a2a2a" stroke="#2a2a2a" stroke-width="1">LSSA</text><path d="M358.4 224.12h8.2" stroke="#00ff00" stroke-width="0.5" stroke-opacity="0.6"/><circle cx="362.5" cy="224.12" r="0.7" fill="#00ff00"/><text transform="translate(367.7 225.02) scale(0.1)" font-size="25" fill="#2a2a2a" stroke="#2a2a2a" stroke-width="1">AGWO</text><path d="M358.4 227.59h8.2" stroke="#e8745e" stroke-width="0.5" stroke-opacity="0.6"/><text transform="translate(367.7 228.49) scale(0.1)" font-size="25" fill="#2a2a2a" stroke="#2a2a2a" stroke-width="1">DWOA</text><path d="M358.4 231.07h8.2" stroke="#ff00ff" stroke-width="0.5" stroke-opacity="0.6"/><circle cx="362.5" cy="231.07" r="0.7" fill="#ff00ff"/><text transform="translate(367.7 231.97) scale(0.1)" font-size="25" fill="#2a2a2a" stroke="#2a2a2a" stroke-width="1">OPPSO</text><path d="M358.4 234.55h8.2" stroke="#ffff00" stroke-width="0.5" stroke-opacity="0.6"/><circle cx="362.5" cy="234.55" r="0.7" fill="#ffff00"/><text transform="translate(367.7 235.45) scale(0.1)" font-size="25" fill="#2a2a2a" stroke="#2a2a2a" stroke-width="1">NSMO</text><path d="M358.4 238.02h8.2" stroke="#00ffff" stroke-width="0.5" stroke-opacity="0.6"/><circle cx="362.5" cy="238.02" r="0.7" fill="#00ffff"/><text transform="translate(367.7 238.92) scale(0.1)" font-size="25" fill="#2a2a2a" stroke="#2a2a2a" stroke-width="1">MSSTA</text><path d="M358.4 241.5h8.2" stroke="#ff0000" stroke-width="0.5" stroke-opacity="0.6"/><circle cx="362.5" cy="241.5" r="0.7" fill="#ff0000"/><text transform="translate(367.7 242.4) scale(0.1)" font-size="25" fill="#2a2a2a" stroke="#2a2a2a" stroke-width="1">WMSSSA</text></g></g>
<g><clipPath id="c03"><rect x="16.5" y="280.3" width="94" height="75.4"/></clipPath><g clip-path="url(#c03)"><path d="M17.38 283.19 L24.63 313.03 L31.78 342.15 L38.7 345.5 L45.85 346.93 L60.16 347.88 L109.76 348.36" fill="none" stroke="#ff00ff" stroke-width="0.6" stroke-opacity="0.8"/><circle cx="17.38" cy="283.19" r="0.8" fill="#ff00ff"/><circle cx="24.42" cy="312.16" r="0.8" fill="#ff00ff"/><circle cx="31.46" cy="340.83" r="0.8" fill="#ff00ff"/><circle cx="38.5" cy="345.4" r="0.8" fill="#ff00ff"/><circle cx="45.54" cy="346.87" r="0.8" fill="#ff00ff"/><circle cx="52.58" cy="347.38" r="0.8" fill="#ff00ff"/><circle cx="59.62" cy="347.85" r="0.8" fill="#ff00ff"/><circle cx="66.66" cy="347.95" r="0.8" fill="#ff00ff"/><circle cx="73.7" cy="348.01" r="0.8" fill="#ff00ff"/><circle cx="80.74" cy="348.08" r="0.8" fill="#ff00ff"/><circle cx="87.78" cy="348.15" r="0.8" fill="#ff00ff"/><circle cx="94.82" cy="348.22" r="0.8" fill="#ff00ff"/><circle cx="101.86" cy="348.29" r="0.8" fill="#ff00ff"/><circle cx="108.9" cy="348.35" r="0.8" fill="#ff00ff"/><path d="M17.38 303.48 L19.86 319.95 L24.15 344.54 L31.78 348.84 L45.85 350.75 L109.76 351.7" fill="none" stroke="#ffff00" stroke-width="0.6" stroke-opacity="0.8"/><path d="M17.38 334.75 L24.63 340.25 L31.78 342.8 L38.7 344.64 L45.85 345.88 L53.01 346.45 L109.76 346.45" fill="none" stroke="#e8745e" stroke-width="0.65" stroke-opacity="0.85"/><path d="M17.38 335.71 L24.63 341.2 L31.78 343.59 L45.85 346.21 L109.76 346.93" fill="none" stroke="#806860" stroke-width="0.65" stroke-opacity="0.85"/><path d="M17.38 335.4 L24.63 341.56 L31.78 344.64 L38.7 346.45 L45.85 347.72 L53.01 348.96 L60.16 349.55 L109.76 351.23" fill="none" stroke="#0000ff" stroke-width="0.6" stroke-opacity="0.8"/><circle cx="17.38" cy="335.4" r="0.8" fill="#0000ff"/><circle cx="24.42" cy="341.38" r="0.8" fill="#0000ff"/><circle cx="31.46" cy="344.5" r="0.8" fill="#0000ff"/><circle cx="38.5" cy="346.4" r="0.8" fill="#0000ff"/><circle cx="45.54" cy="347.66" r="0.8" fill="#0000ff"/><circle cx="52.58" cy="348.88" r="0.8" fill="#0000ff"/><circle cx="59.62" cy="349.51" r="0.8" fill="#0000ff"/><circle cx="66.66" cy="349.77" r="0.8" fill="#0000ff"/><circle cx="73.7" cy="350.01" r="0.8" fill="#0000ff"/><circle cx="80.74" cy="350.25" r="0.8" fill="#0000ff"/><circle cx="87.78" cy="350.49" r="0.8" fill="#0000ff"/><circle cx="94.82" cy="350.72" r="0.8" fill="#0000ff"/><circle cx="101.86" cy="350.96" r="0.8" fill="#0000ff"/><circle cx="108.9" cy="351.2" r="0.8" fill="#0000ff"/><path d="M17.38 338.34 L24.63 344.54 L31.78 347.65 L38.7 348.36 L45.85 348.84 L53.01 349.08 L109.76 348.12" fill="none" stroke="#00ffff" stroke-width="0.6" stroke-opacity="0.8"/><circle cx="17.38" cy="338.34" r="0.8" fill="#00ffff"/><circle cx="24.42" cy="344.36" r="0.8" fill="#00ffff"/><circle cx="31.46" cy="347.5" r="0.8" fill="#00ffff"/><circle cx="38.5" cy="348.34" r="0.8" fill="#00ffff"/><circle cx="45.54" cy="348.82" r="0.8" fill="#00ffff"/><circle cx="52.58" cy="349.06" r="0.8" fill="#00ffff"/><circle cx="59.62" cy="348.97" r="0.8" fill="#00ffff"/><circle cx="66.66" cy="348.85" r="0.8" fill="#00ffff"/><circle cx="73.7" cy="348.73" r="0.8" fill="#00ffff"/><circle cx="80.74" cy="348.61" r="0.8" fill="#00ffff"/><circle cx="87.78" cy="348.49" r="0.8" fill="#00ffff"/><circle cx="94.82" cy="348.37" r="0.8" fill="#00ffff"/><circle cx="101.86" cy="348.26" r="0.8" fill="#00ffff"/><circle cx="108.9" cy="348.14" r="0.8" fill="#00ffff"/><path d="M17.38 330.94 L24.63 346.45 L31.78 348.36 L38.7 348.84 L109.76 349.55" fill="none" stroke="#00ff00" stroke-width="0.6" stroke-opacity="0.8"/><circle cx="17.38" cy="330.94" r="0.8" fill="#00ff00"/><circle cx="24.42" cy="346" r="0.8" fill="#00ff00"/><circle cx="31.46" cy="348.27" r="0.8" fill="#00ff00"/><circle cx="38.5" cy="348.82" r="0.8" fill="#00ff00"/><circle cx="45.54" cy="348.91" r="0.8" fill="#00ff00"/><circle cx="52.58" cy="348.98" r="0.8" fill="#00ff00"/><circle cx="59.62" cy="349.05" r="0.8" fill="#00ff00"/><circle cx="66.66" cy="349.12" r="0.8" fill="#00ff00"/><circle cx="73.7" cy="349.19" r="0.8" fill="#00ff00"/><circle cx="80.74" cy="349.26" r="0.8" fill="#00ff00"/><circle cx="87.78" cy="349.33" r="0.8" fill="#00ff00"/><circle cx="94.82" cy="349.4" r="0.8" fill="#00ff00"/><circle cx="101.86" cy="349.48" r="0.8" fill="#00ff00"/><circle cx="108.9" cy="349.55" r="0.8" fill="#00ff00"/><path d="M17.38 333.32 L24.63 346.93 L31.78 348.84 L45.85 349.55 L109.76 349.79" fill="none" stroke="#00ff00" stroke-width="0.6" stroke-opacity="0.8"/><circle cx="17.38" cy="333.32" r="0.8" fill="#00ff00"/><circle cx="24.42" cy="346.53" r="0.8" fill="#00ff00"/><circle cx="31.46" cy="348.75" r="0.8" fill="#00ff00"/><circle cx="38.5" cy="349.18" r="0.8" fill="#00ff00"/><circle cx="45.54" cy="349.54" r="0.8" fill="#00ff00"/><circle cx="52.58" cy="349.58" r="0.8" fill="#00ff00"/><circle cx="59.62" cy="349.61" r="0.8" fill="#00ff00"/><circle cx="66.66" cy="349.63" r="0.8" fill="#00ff00"/><circle cx="73.7" cy="349.66" r="0.8" fill="#00ff00"/><circle cx="80.74" cy="349.69" r="0.8" fill="#00ff00"/><circle cx="87.78" cy="349.71" r="0.8" fill="#00ff00"/><circle cx="94.82" cy="349.74" r="0.8" fill="#00ff00"/><circle cx="101.86" cy="349.76" r="0.8" fill="#00ff00"/><circle cx="108.9" cy="349.79" r="0.8" fill="#00ff00"/><path d="M17.38 339.29 L24.63 345.26 L31.78 348.36 L109.76 348.84" fill="none" stroke="#00ffff" stroke-width="0.6" stroke-opacity="0.8"/><circle cx="17.38" cy="339.29" r="0.8" fill="#00ffff"/><circle cx="24.42" cy="345.08" r="0.8" fill="#00ffff"/><circle cx="31.46" cy="348.22" r="0.8" fill="#00ffff"/><circle cx="38.5" cy="348.4" r="0.8" fill="#00ffff"/><circle cx="45.54" cy="348.45" r="0.8" fill="#00ffff"/><circle cx="52.58" cy="348.49" r="0.8" fill="#00ffff"/><circle cx="59.62" cy="348.53" r="0.8" fill="#00ffff"/><circle cx="66.66" cy="348.57" r="0.8" fill="#00ffff"/><circle cx="73.7" cy="348.62" r="0.8" fill="#00ffff"/><circle cx="80.74" cy="348.66" r="0.8" fill="#00ffff"/><circle cx="87.78" cy="348.7" r="0.8" fill="#00ffff"/><circle cx="94.82" cy="348.75" r="0.8" fill="#00ffff"/><circle cx="101.86" cy="348.79" r="0.8" fill="#00ffff"/><circle cx="108.9" cy="348.83" r="0.8" fill="#00ffff"/><path d="M17.38 336.9 L24.63 344.54 L31.78 348.84 L45.85 350.75 L109.76 351.46" fill="none" stroke="#0000ff" stroke-width="0.6" stroke-opacity="0.8"/><path d="M17.38 336.9 L24.63 347.65 L31.78 351.23 L38.7 351.94 L109.76 352.28" fill="none" stroke="#ff00ff" stroke-width="0.6" stroke-opacity="0.8"/><circle cx="17.38" cy="336.9" r="0.8" fill="#ff00ff"/><circle cx="24.42" cy="347.33" r="0.8" fill="#ff00ff"/><circle cx="31.46" cy="351.06" r="0.8" fill="#ff00ff"/><circle cx="38.5" cy="351.92" r="0.8" fill="#ff00ff"/><circle cx="45.54" cy="351.97" r="0.8" fill="#ff00ff"/><circle cx="52.58" cy="352.01" r="0.8" fill="#ff00ff"/><circle cx="59.62" cy="352.04" r="0.8" fill="#ff00ff"/><circle cx="66.66" cy="352.07" r="0.8" fill="#ff00ff"/><circle cx="73.7" cy="352.11" r="0.8" fill="#ff00ff"/><circle cx="80.74" cy="352.14" r="0.8" fill="#ff00ff"/><circle cx="87.78" cy="352.17" r="0.8" fill="#ff00ff"/><circle cx="94.82" cy="352.21" r="0.8" fill="#ff00ff"/><circle cx="101.86" cy="352.24" r="0.8" fill="#ff00ff"/><circle cx="108.9" cy="352.27" r="0.8" fill="#ff00ff"/><path d="M17.38 339.29 L24.63 348.36 L31.78 351.94 L38.7 353.14 L109.76 353.61" fill="none" stroke="#ffff00" stroke-width="0.6" stroke-opacity="0.8"/><circle cx="17.38" cy="339.29" r="0.8" fill="#ffff00"/><circle cx="24.42" cy="348.1" r="0.8" fill="#ffff00"/><circle cx="31.46" cy="351.78" r="0.8" fill="#ffff00"/><circle cx="38.5" cy="353.1" r="0.8" fill="#ffff00"/><circle cx="45.54" cy="353.18" r="0.8" fill="#ffff00"/><circle cx="52.58" cy="353.23" r="0.8" fill="#ffff00"/><circle cx="59.62" cy="353.28" r="0.8" fill="#ffff00"/><circle cx="66.66" cy="353.32" r="0.8" fill="#ffff00"/><circle cx="73.7" cy="353.37" r="0.8" fill="#ffff00"/><circle cx="80.74" cy="353.42" r="0.8" fill="#ffff00"/><circle cx="87.78" cy="353.47" r="0.8" fill="#ffff00"/><circle cx="94.82" cy="353.51" r="0.8" fill="#ffff00"/><circle cx="101.86" cy="353.56" r="0.8" fill="#ffff00"/><circle cx="108.9" cy="353.61" r="0.8" fill="#ffff00"/><path d="M17.38 342.8 L24.63 348.96 L31.78 350.18 L38.7 350.8 L45.85 351.42 L109.76 351.7" fill="none" stroke="#000000" stroke-width="0.6" stroke-opacity="0.45"/><circle cx="17.38" cy="342.8" r="0.8" fill="#000000"/><circle cx="24.42" cy="348.78" r="0.8" fill="#000000"/><circle cx="31.46" cy="350.12" r="0.8" fill="#000000"/><circle cx="38.5" cy="350.78" r="0.8" fill="#000000"/><circle cx="45.54" cy="351.39" r="0.8" fill="#000000"/><circle cx="52.58" cy="351.45" r="0.8" fill="#000000"/><circle cx="59.62" cy="351.48" r="0.8" fill="#000000"/><circle cx="66.66" cy="351.51" r="0.8" fill="#000000"/><circle cx="73.7" cy="351.54" r="0.8" fill="#000000"/><circle cx="80.74" cy="351.57" r="0.8" fill="#000000"/><circle cx="87.78" cy="351.6" r="0.8" fill="#000000"/><circle cx="94.82" cy="351.64" r="0.8" fill="#000000"/><circle cx="101.86" cy="351.67" r="0.8" fill="#000000"/><circle cx="108.9" cy="351.7" r="0.8" fill="#000000"/><path d="M17.38 337.24 L24.63 350.18 L31.78 353.25 L38.7 353.52 L45.85 353.85 L109.76 354.73" fill="none" stroke="#ff0000" stroke-width="0.6" stroke-opacity="0.8"/><circle cx="17.38" cy="337.24" r="0.8" fill="#ff0000"/><circle cx="24.42" cy="349.8" r="0.8" fill="#ff0000"/><circle cx="31.46" cy="353.12" r="0.8" fill="#ff0000"/><circle cx="38.5" cy="353.51" r="0.8" fill="#ff0000"/><circle cx="45.54" cy="353.84" r="0.8" fill="#ff0000"/><circle cx="52.58" cy="353.94" r="0.8" fill="#ff0000"/><circle cx="59.62" cy="354.04" r="0.8" fill="#ff0000"/><circle cx="66.66" cy="354.14" r="0.8" fill="#ff0000"/><circle cx="73.7" cy="354.24" r="0.8" fill="#ff0000"/><circle cx="80.74" cy="354.33" r="0.8" fill="#ff0000"/><circle cx="87.78" cy="354.43" r="0.8" fill="#ff0000"/><circle cx="94.82" cy="354.53" r="0.8" fill="#ff0000"/><circle cx="101.86" cy="354.63" r="0.8" fill="#ff0000"/><circle cx="108.9" cy="354.72" r="0.8" fill="#ff0000"/></g><rect x="17.5" y="281.5" width="92" height="73" fill="none" stroke="#666" stroke-width="0.35"/><path d="M26.7 354.5v-0.9M26.7 281.5v0.9M35.9 354.5v-0.9M35.9 281.5v0.9M45.1 354.5v-0.9M45.1 281.5v0.9M54.3 354.5v-0.9M54.3 281.5v0.9M63.5 354.5v-0.9M63.5 281.5v0.9M72.7 354.5v-0.9M72.7 281.5v0.9M81.9 354.5v-0.9M81.9 281.5v0.9M91.1 354.5v-0.9M91.1 281.5v0.9M100.3 354.5v-0.9M100.3 281.5v0.9M109.5 354.5v-0.9M109.5 281.5v0.9M17.5 288.5h0.9M109.5 288.5h-0.9M17.5 301.6h0.9M109.5 301.6h-0.9M17.5 315.1h0.9M109.5 315.1h-0.9M17.5 328.6h0.9M109.5 328.6h-0.9M17.5 342.3h0.9M109.5 342.3h-0.9" stroke="#555" stroke-width="0.3" fill="none"/><g fill="#111"><text transform="translate(26.7 358.9) scale(0.1)" font-size="25" text-anchor="middle" fill="#222" stroke="#222" stroke-width="2">50</text><text transform="translate(35.9 358.9) scale(0.1)" font-size="25" text-anchor="middle" fill="#222" stroke="#222" stroke-width="2">100</text><text transform="translate(45.1 358.9) scale(0.1)" font-size="25" text-anchor="middle" fill="#222" stroke="#222" stroke-width="2">150</text><text transform="translate(54.3 358.9) scale(0.1)" font-size="25" text-anchor="middle" fill="#222" stroke="#222" stroke-width="2">200</text><text transform="translate(63.5 358.9) scale(0.1)" font-size="25" text-anchor="middle" fill="#222" stroke="#222" stroke-width="2">250</text><text transform="translate(72.7 358.9) scale(0.1)" font-size="25" text-anchor="middle" fill="#222" stroke="#222" stroke-width="2">300</text><text transform="translate(81.9 358.9) scale(0.1)" font-size="25" text-anchor="middle" fill="#222" stroke="#222" stroke-width="2">350</text><text transform="translate(91.1 358.9) scale(0.1)" font-size="25" text-anchor="middle" fill="#222" stroke="#222" stroke-width="2">400</text><text transform="translate(100.3 358.9) scale(0.1)" font-size="25" text-anchor="middle" fill="#222" stroke="#222" stroke-width="2">450</text><text transform="translate(109.5 358.9) scale(0.1)" font-size="25" text-anchor="middle" fill="#222" stroke="#222" stroke-width="2">500</text></g><g fill="#111"><text transform="translate(16.3 289.45) scale(0.1)" font-size="25" text-anchor="end" fill="#222" stroke="#222" stroke-width="2">10<tspan font-size="17.5" dy="-11.25">4</tspan></text><text transform="translate(16.3 302.55) scale(0.1)" font-size="25" text-anchor="end" fill="#222" stroke="#222" stroke-width="2">10<tspan font-size="17.5" dy="-11.25">3</tspan></text><text transform="translate(16.3 316.05) scale(0.1)" font-size="25" text-anchor="end" fill="#222" stroke="#222" stroke-width="2">10<tspan font-size="17.5" dy="-11.25">2</tspan></text><text transform="translate(16.3 329.55) scale(0.1)" font-size="25" text-anchor="end" fill="#222" stroke="#222" stroke-width="2">10<tspan font-size="17.5" dy="-11.25">1</tspan></text><text transform="translate(16.3 343.25) scale(0.1)" font-size="25" text-anchor="end" fill="#222" stroke="#222" stroke-width="2">10<tspan font-size="17.5" dy="-11.25">0</tspan></text></g><text transform="translate(63.5 362.6) scale(0.1)" font-size="31" text-anchor="middle" fill="#222" stroke="#222" stroke-width="1">Iteration</text><text transform="translate(10.3 318) rotate(-90) scale(0.1)" font-size="31" text-anchor="middle" fill="#222" stroke="#222" stroke-width="1.2">Fitness function</text><text transform="translate(63.5 280.05) scale(0.1)" font-size="33" text-anchor="middle" fill="#333" stroke="#333" stroke-width="1">C11</text><g fill="#222"><rect x="85.5" y="284.4" width="22" height="49" fill="#fff" stroke="#666" stroke-width="0.3"/><path d="M86.4 286.3h8.2" stroke="#0000ff" stroke-width="0.5" stroke-opacity="0.6"/><text transform="translate(95.7 287.2) scale(0.1)" font-size="25" fill="#2a2a2a" stroke="#2a2a2a" stroke-width="1">SSA</text><path d="M86.4 289.78h8.2" stroke="#00ff00" stroke-width="0.5" stroke-opacity="0.6"/><circle cx="90.5" cy="289.78" r="0.7" fill="#00ff00"/><text transform="translate(95.7 290.68) scale(0.1)" font-size="25" fill="#2a2a2a" stroke="#2a2a2a" stroke-width="1">GWO</text><path d="M86.4 293.25h8.2" stroke="#806860" stroke-width="0.5" stroke-opacity="0.6"/><text transform="translate(95.7 294.15) scale(0.1)" font-size="25" fill="#2a2a2a" stroke="#2a2a2a" stroke-width="1">WOA</text><path d="M86.4 296.73h8.2" stroke="#ff00ff" stroke-width="0.5" stroke-opacity="0.6"/><circle cx="90.5" cy="296.73" r="0.7" fill="#ff00ff"/><text transform="translate(95.7 297.63) scale(0.1)" font-size="25" fill="#2a2a2a" stroke="#2a2a2a" stroke-width="1">PSO</text><path d="M86.4 300.21h8.2" stroke="#00ffff" stroke-width="0.5" stroke-opacity="0.6"/><circle cx="90.5" cy="300.21" r="0.7" fill="#00ffff"/><text transform="translate(95.7 301.11) scale(0.1)" font-size="25" fill="#2a2a2a" stroke="#2a2a2a" stroke-width="1">ABC</text><path d="M86.4 303.68h8.2" stroke="#000000" stroke-width="0.5" stroke-opacity="0.6"/><circle cx="90.5" cy="303.68" r="0.7" fill="#000000"/><text transform="translate(95.7 304.58) scale(0.1)" font-size="25" fill="#2a2a2a" stroke="#2a2a2a" stroke-width="1">FA</text><path d="M86.4 307.16h8.2" stroke="#ffff00" stroke-width="0.5" stroke-opacity="0.6"/><text transform="translate(95.7 308.06) scale(0.1)" font-size="25" fill="#2a2a2a" stroke="#2a2a2a" stroke-width="1">CMGWOA</text><path d="M86.4 310.64h8.2" stroke="#0000ff" stroke-width="0.5" stroke-opacity="0.6"/><circle cx="90.5" cy="310.64" r="0.7" fill="#0000ff"/><text transform="translate(95.7 311.54) scale(0.1)" font-size="25" fill="#2a2a2a" stroke="#2a2a2a" stroke-width="1">LSSA</text><path d="M86.4 314.12h8.2" stroke="#00ff00" stroke-width="0.5" stroke-opacity="0.6"/><circle cx="90.5" cy="314.12" r="0.7" fill="#00ff00"/><text transform="translate(95.7 315.02) scale(0.1)" font-size="25" fill="#2a2a2a" stroke="#2a2a2a" stroke-width="1">AGWO</text><path d="M86.4 317.59h8.2" stroke="#e8745e" stroke-width="0.5" stroke-opacity="0.6"/><text transform="translate(95.7 318.49) scale(0.1)" font-size="25" fill="#2a2a2a" stroke="#2a2a2a" stroke-width="1">DWOA</text><path d="M86.4 321.07h8.2" stroke="#ff00ff" stroke-width="0.5" stroke-opacity="0.6"/><circle cx="90.5" cy="321.07" r="0.7" fill="#ff00ff"/><text transform="translate(95.7 321.97) scale(0.1)" font-size="25" fill="#2a2a2a" stroke="#2a2a2a" stroke-width="1">OPPSO</text><path d="M86.4 324.55h8.2" stroke="#ffff00" stroke-width="0.5" stroke-opacity="0.6"/><circle cx="90.5" cy="324.55" r="0.7" fill="#ffff00"/><text transform="translate(95.7 325.45) scale(0.1)" font-size="25" fill="#2a2a2a" stroke="#2a2a2a" stroke-width="1">NSMO</text><path d="M86.4 328.02h8.2" stroke="#00ffff" stroke-width="0.5" stroke-opacity="0.6"/><circle cx="90.5" cy="328.02" r="0.7" fill="#00ffff"/><text transform="translate(95.7 328.92) scale(0.1)" font-size="25" fill="#2a2a2a" stroke="#2a2a2a" stroke-width="1">MSSTA</text><path d="M86.4 331.5h8.2" stroke="#ff0000" stroke-width="0.5" stroke-opacity="0.6"/><circle cx="90.5" cy="331.5" r="0.7" fill="#ff0000"/><text transform="translate(95.7 332.4) scale(0.1)" font-size="25" fill="#2a2a2a" stroke="#2a2a2a" stroke-width="1">WMSSSA</text></g></g>
<g><clipPath id="c13"><rect x="152.5" y="280.3" width="94" height="75.4"/></clipPath><g clip-path="url(#c13)"><path d="M153.38 282 L159.61 284.46 L167 288.16 L174.37 292.48 L181.14 294.94 L187.82 297.99 L195.21 300.48 L202.29 306.78 L209.66 310.48 L216.43 314.15 L221.34 316.61 L244.09 320.19" fill="none" stroke="#ff00ff" stroke-width="0.6" stroke-opacity="0.8"/><circle cx="153.38" cy="282" r="0.8" fill="#ff00ff"/><circle cx="160.42" cy="284.87" r="0.8" fill="#ff00ff"/><circle cx="167.46" cy="288.43" r="0.8" fill="#ff00ff"/><circle cx="174.5" cy="292.53" r="0.8" fill="#ff00ff"/><circle cx="181.54" cy="295.12" r="0.8" fill="#ff00ff"/><circle cx="188.58" cy="298.25" r="0.8" fill="#ff00ff"/><circle cx="195.62" cy="300.84" r="0.8" fill="#ff00ff"/><circle cx="202.66" cy="306.96" r="0.8" fill="#ff00ff"/><circle cx="209.7" cy="310.5" r="0.8" fill="#ff00ff"/><circle cx="216.74" cy="314.31" r="0.8" fill="#ff00ff"/><circle cx="223.78" cy="317" r="0.8" fill="#ff00ff"/><circle cx="230.82" cy="318.1" r="0.8" fill="#ff00ff"/><circle cx="237.86" cy="319.21" r="0.8" fill="#ff00ff"/><circle cx="244.9" cy="320.19" r="0.8" fill="#ff00ff"/><path d="M153.38 291.24 L159.61 297.04 L167 297.75 L174.37 297.99 L181.14 298.23 L187.82 298.64 L195.21 299 L244.09 299.66" fill="none" stroke="#000000" stroke-width="0.6" stroke-opacity="0.45"/><circle cx="153.38" cy="291.24" r="0.8" fill="#000000"/><circle cx="160.42" cy="297.12" r="0.8" fill="#000000"/><circle cx="167.46" cy="297.77" r="0.8" fill="#000000"/><circle cx="174.5" cy="298" r="0.8" fill="#000000"/><circle cx="181.54" cy="298.26" r="0.8" fill="#000000"/><circle cx="188.58" cy="298.68" r="0.8" fill="#000000"/><circle cx="195.62" cy="299" r="0.8" fill="#000000"/><circle cx="202.66" cy="299.1" r="0.8" fill="#000000"/><circle cx="209.7" cy="299.19" r="0.8" fill="#000000"/><circle cx="216.74" cy="299.29" r="0.8" fill="#000000"/><circle cx="223.78" cy="299.39" r="0.8" fill="#000000"/><circle cx="230.82" cy="299.48" r="0.8" fill="#000000"/><circle cx="237.86" cy="299.58" r="0.8" fill="#000000"/><circle cx="244.9" cy="299.66" r="0.8" fill="#000000"/><path d="M153.38 284.46 L159.61 290 L167 299.86 L174.37 306.01 L181.14 309.09 L187.82 310.33 L195.21 313.03 L202.29 316.02 L209.66 317.85 L216.43 319.72 L244.09 321.39" fill="none" stroke="#00ffff" stroke-width="0.6" stroke-opacity="0.8"/><circle cx="153.38" cy="284.46" r="0.8" fill="#00ffff"/><circle cx="160.42" cy="291.08" r="0.8" fill="#00ffff"/><circle cx="167.46" cy="300.24" r="0.8" fill="#00ffff"/><circle cx="174.5" cy="306.08" r="0.8" fill="#00ffff"/><circle cx="181.54" cy="309.17" r="0.8" fill="#00ffff"/><circle cx="188.58" cy="310.61" r="0.8" fill="#00ffff"/><circle cx="195.62" cy="313.21" r="0.8" fill="#00ffff"/><circle cx="202.66" cy="316.11" r="0.8" fill="#00ffff"/><circle cx="209.7" cy="317.87" r="0.8" fill="#00ffff"/><circle cx="216.74" cy="319.73" r="0.8" fill="#00ffff"/><circle cx="223.78" cy="320.16" r="0.8" fill="#00ffff"/><circle cx="230.82" cy="320.59" r="0.8" fill="#00ffff"/><circle cx="237.86" cy="321.01" r="0.8" fill="#00ffff"/><circle cx="244.9" cy="321.39" r="0.8" fill="#00ffff"/><path d="M153.38 283.19 L159.61 307.88 L167 309.69 L174.37 310.33 L181.14 310.96 L187.82 311.36 L244.09 311.6" fill="none" stroke="#00ff00" stroke-width="0.6" stroke-opacity="0.8"/><circle cx="153.38" cy="283.19" r="0.8" fill="#00ff00"/><circle cx="160.42" cy="308.08" r="0.8" fill="#00ff00"/><circle cx="167.46" cy="309.73" r="0.8" fill="#00ff00"/><circle cx="174.5" cy="310.35" r="0.8" fill="#00ff00"/><circle cx="181.54" cy="310.98" r="0.8" fill="#00ff00"/><circle cx="188.58" cy="311.36" r="0.8" fill="#00ff00"/><circle cx="195.62" cy="311.39" r="0.8" fill="#00ff00"/><circle cx="202.66" cy="311.42" r="0.8" fill="#00ff00"/><circle cx="209.7" cy="311.45" r="0.8" fill="#00ff00"/><circle cx="216.74" cy="311.48" r="0.8" fill="#00ff00"/><circle cx="223.78" cy="311.51" r="0.8" fill="#00ff00"/><circle cx="230.82" cy="311.54" r="0.8" fill="#00ff00"/><circle cx="237.86" cy="311.57" r="0.8" fill="#00ff00"/><circle cx="244.9" cy="311.6" r="0.8" fill="#00ff00"/><path d="M153.38 285.7 L159.61 306.63 L167 311.6 L174.37 314.63 L181.14 317.09 L187.82 318.95 L195.21 319.72 L244.09 320.19" fill="none" stroke="#806860" stroke-width="0.7" stroke-opacity="0.85"/><path d="M153.38 285.7 L159.61 306.95 L167 311.96 L174.37 314.94 L181.14 317.45 L187.82 319.24 L195.21 320.07 L244.09 320.55" fill="none" stroke="#e8745e" stroke-width="0.7" stroke-opacity="0.85"/><path d="M153.38 286.77 L159.61 307.88 L167 311.6 L174.37 313.41 L181.14 315.25 L187.82 317.09 L195.21 318.33 L202.29 319.72 L209.66 320.91 L216.43 322.1 L244.09 323.06" fill="none" stroke="#00ff00" stroke-width="0.6" stroke-opacity="0.8"/><circle cx="153.38" cy="286.77" r="0.8" fill="#00ff00"/><circle cx="160.42" cy="308.29" r="0.8" fill="#00ff00"/><circle cx="167.46" cy="311.71" r="0.8" fill="#00ff00"/><circle cx="174.5" cy="313.45" r="0.8" fill="#00ff00"/><circle cx="181.54" cy="315.36" r="0.8" fill="#00ff00"/><circle cx="188.58" cy="317.22" r="0.8" fill="#00ff00"/><circle cx="195.62" cy="318.41" r="0.8" fill="#00ff00"/><circle cx="202.66" cy="319.78" r="0.8" fill="#00ff00"/><circle cx="209.7" cy="320.92" r="0.8" fill="#00ff00"/><circle cx="216.74" cy="322.11" r="0.8" fill="#00ff00"/><circle cx="223.78" cy="322.36" r="0.8" fill="#00ff00"/><circle cx="230.82" cy="322.6" r="0.8" fill="#00ff00"/><circle cx="237.86" cy="322.84" r="0.8" fill="#00ff00"/><circle cx="244.9" cy="323.06" r="0.8" fill="#00ff00"/><path d="M153.38 287.97 L159.61 299.23 L167 302.93 L174.37 306.63 L181.14 314.63 L187.82 322.03 L195.21 326.95 L202.29 333.25 L209.66 336.33 L216.43 338.81 L223.82 340.65 L230.5 342.49 L237.34 343.73 L244.09 344.95" fill="none" stroke="#00ffff" stroke-width="0.6" stroke-opacity="0.8"/><circle cx="153.38" cy="287.97" r="0.8" fill="#00ffff"/><circle cx="160.42" cy="299.64" r="0.8" fill="#00ffff"/><circle cx="167.46" cy="303.17" r="0.8" fill="#00ffff"/><circle cx="174.5" cy="306.79" r="0.8" fill="#00ffff"/><circle cx="181.54" cy="315.08" r="0.8" fill="#00ffff"/><circle cx="188.58" cy="322.54" r="0.8" fill="#00ffff"/><circle cx="195.62" cy="327.32" r="0.8" fill="#00ffff"/><circle cx="202.66" cy="333.41" r="0.8" fill="#00ffff"/><circle cx="209.7" cy="336.35" r="0.8" fill="#00ffff"/><circle cx="216.74" cy="338.89" r="0.8" fill="#00ffff"/><circle cx="223.78" cy="340.64" r="0.8" fill="#00ffff"/><circle cx="230.82" cy="342.55" r="0.8" fill="#00ffff"/><circle cx="237.86" cy="343.82" r="0.8" fill="#00ffff"/><circle cx="244.9" cy="344.95" r="0.8" fill="#00ffff"/><path d="M153.38 287.97 L159.61 306.63 L167 311.6 L174.37 314.63 L181.14 317.71 L187.82 325.4 L195.21 329.69 L202.29 332.27 L209.66 333.25 L216.43 334.23 L223.82 334.75 L244.09 335.11" fill="none" stroke="#ff00ff" stroke-width="0.6" stroke-opacity="0.8"/><circle cx="153.38" cy="287.97" r="0.8" fill="#ff00ff"/><circle cx="160.42" cy="307.18" r="0.8" fill="#ff00ff"/><circle cx="167.46" cy="311.79" r="0.8" fill="#ff00ff"/><circle cx="174.5" cy="314.69" r="0.8" fill="#ff00ff"/><circle cx="181.54" cy="318.17" r="0.8" fill="#ff00ff"/><circle cx="188.58" cy="325.84" r="0.8" fill="#ff00ff"/><circle cx="195.62" cy="329.84" r="0.8" fill="#ff00ff"/><circle cx="202.66" cy="332.32" r="0.8" fill="#ff00ff"/><circle cx="209.7" cy="333.26" r="0.8" fill="#ff00ff"/><circle cx="216.74" cy="334.25" r="0.8" fill="#ff00ff"/><circle cx="223.78" cy="334.75" r="0.8" fill="#ff00ff"/><circle cx="230.82" cy="334.88" r="0.8" fill="#ff00ff"/><circle cx="237.86" cy="335" r="0.8" fill="#ff00ff"/><circle cx="244.9" cy="335.11" r="0.8" fill="#ff00ff"/><path d="M153.38 286.92 L159.61 306.01 L167 318.33 L174.37 326.02 L181.14 331.56 L187.82 335.85 L195.21 338.93 L202.29 341.87 L209.66 343.73 L216.43 344.95 L223.82 345.83 L230.5 346.81 L237.34 347.79 L244.09 348.65" fill="none" stroke="#0000ff" stroke-width="0.6" stroke-opacity="0.8"/><circle cx="153.38" cy="286.92" r="0.8" fill="#0000ff"/><circle cx="160.42" cy="307.37" r="0.8" fill="#0000ff"/><circle cx="167.46" cy="318.81" r="0.8" fill="#0000ff"/><circle cx="174.5" cy="326.13" r="0.8" fill="#0000ff"/><circle cx="181.54" cy="331.81" r="0.8" fill="#0000ff"/><circle cx="188.58" cy="336.17" r="0.8" fill="#0000ff"/><circle cx="195.62" cy="339.1" r="0.8" fill="#0000ff"/><circle cx="202.66" cy="341.96" r="0.8" fill="#0000ff"/><circle cx="209.7" cy="343.74" r="0.8" fill="#0000ff"/><circle cx="216.74" cy="344.98" r="0.8" fill="#0000ff"/><circle cx="223.78" cy="345.83" r="0.8" fill="#0000ff"/><circle cx="230.82" cy="346.86" r="0.8" fill="#0000ff"/><circle cx="237.86" cy="347.85" r="0.8" fill="#0000ff"/><circle cx="244.9" cy="348.65" r="0.8" fill="#0000ff"/><path d="M153.38 287.97 L159.61 313.03 L162.06 319.95 L166.69 330.22 L174.39 339.17 L181.97 344.37 L199.98 347.55 L244.09 349.27" fill="none" stroke="#0000ff" stroke-width="0.6" stroke-opacity="0.8"/><path d="M153.38 287.97 L158.96 319.95 L162.78 336.66 L166.69 343.11 L174.39 345.64 L181.97 347.65 L199.98 349.79 L244.09 351.23" fill="none" stroke="#ffff00" stroke-width="0.6" stroke-opacity="0.8"/><path d="M153.38 285.7 L159.61 317.09 L167 330.31 L174.37 338.93 L181.14 343.83 L187.82 346.93 L195.21 348.79 L202.29 349.79 L216.43 351.7 L244.09 353.61" fill="none" stroke="#ffff00" stroke-width="0.6" stroke-opacity="0.8"/><circle cx="153.38" cy="285.7" r="0.8" fill="#ffff00"/><circle cx="160.42" cy="318.55" r="0.8" fill="#ffff00"/><circle cx="167.46" cy="330.86" r="0.8" fill="#ffff00"/><circle cx="174.5" cy="339.03" r="0.8" fill="#ffff00"/><circle cx="181.54" cy="344.01" r="0.8" fill="#ffff00"/><circle cx="188.58" cy="347.12" r="0.8" fill="#ffff00"/><circle cx="195.62" cy="348.85" r="0.8" fill="#ffff00"/><circle cx="202.66" cy="349.84" r="0.8" fill="#ffff00"/><circle cx="209.7" cy="350.79" r="0.8" fill="#ffff00"/><circle cx="216.74" cy="351.72" r="0.8" fill="#ffff00"/><circle cx="223.78" cy="352.21" r="0.8" fill="#ffff00"/><circle cx="230.82" cy="352.7" r="0.8" fill="#ffff00"/><circle cx="237.86" cy="353.18" r="0.8" fill="#ffff00"/><circle cx="244.9" cy="353.61" r="0.8" fill="#ffff00"/><path d="M153.38 283.84 L160.23 322.91 L167 338.93 L174.37 342.63 L181.14 345.09 L187.82 347.55 L195.21 349.41 L202.29 350.27 L209.66 351.11 L216.43 352.35 L223.82 352.97 L230.5 353.59 L237.34 353.95 L244.09 354.19" fill="none" stroke="#ff0000" stroke-width="0.6" stroke-opacity="0.8"/><circle cx="153.38" cy="283.84" r="0.8" fill="#ff0000"/><circle cx="160.42" cy="323.38" r="0.8" fill="#ff0000"/><circle cx="167.46" cy="339.16" r="0.8" fill="#ff0000"/><circle cx="174.5" cy="342.68" r="0.8" fill="#ff0000"/><circle cx="181.54" cy="345.24" r="0.8" fill="#ff0000"/><circle cx="188.58" cy="347.74" r="0.8" fill="#ff0000"/><circle cx="195.62" cy="349.46" r="0.8" fill="#ff0000"/><circle cx="202.66" cy="350.31" r="0.8" fill="#ff0000"/><circle cx="209.7" cy="351.11" r="0.8" fill="#ff0000"/><circle cx="216.74" cy="352.37" r="0.8" fill="#ff0000"/><circle cx="223.78" cy="352.96" r="0.8" fill="#ff0000"/><circle cx="230.82" cy="353.61" r="0.8" fill="#ff0000"/><circle cx="237.86" cy="353.97" r="0.8" fill="#ff0000"/><circle cx="244.9" cy="354.19" r="0.8" fill="#ff0000"/></g><rect x="153.5" y="281.5" width="92" height="73" fill="none" stroke="#666" stroke-width="0.35"/><path d="M162.7 354.5v-0.9M162.7 281.5v0.9M171.9 354.5v-0.9M171.9 281.5v0.9M181.1 354.5v-0.9M181.1 281.5v0.9M190.3 354.5v-0.9M190.3 281.5v0.9M199.5 354.5v-0.9M199.5 281.5v0.9M208.7 354.5v-0.9M208.7 281.5v0.9M217.9 354.5v-0.9M217.9 281.5v0.9M227.1 354.5v-0.9M227.1 281.5v0.9M236.3 354.5v-0.9M236.3 281.5v0.9M245.5 354.5v-0.9M245.5 281.5v0.9M153.5 289.6h0.9M245.5 289.6h-0.9M153.5 306.4h0.9M245.5 306.4h-0.9M153.5 323.1h0.9M245.5 323.1h-0.9M153.5 339.8h0.9M245.5 339.8h-0.9" stroke="#555" stroke-width="0.3" fill="none"/><g fill="#111"><text transform="translate(162.7 358.9) scale(0.1)" font-size="25" text-anchor="middle" fill="#222" stroke="#222" stroke-width="2">50</text><text transform="translate(171.9 358.9) scale(0.1)" font-size="25" text-anchor="middle" fill="#222" stroke="#222" stroke-width="2">100</text><text transform="translate(181.1 358.9) scale(0.1)" font-size="25" text-anchor="middle" fill="#222" stroke="#222" stroke-width="2">150</text><text transform="translate(190.3 358.9) scale(0.1)" font-size="25" text-anchor="middle" fill="#222" stroke="#222" stroke-width="2">200</text><text transform="translate(199.5 358.9) scale(0.1)" font-size="25" text-anchor="middle" fill="#222" stroke="#222" stroke-width="2">250</text><text transform="translate(208.7 358.9) scale(0.1)" font-size="25" text-anchor="middle" fill="#222" stroke="#222" stroke-width="2">300</text><text transform="translate(217.9 358.9) scale(0.1)" font-size="25" text-anchor="middle" fill="#222" stroke="#222" stroke-width="2">350</text><text transform="translate(227.1 358.9) scale(0.1)" font-size="25" text-anchor="middle" fill="#222" stroke="#222" stroke-width="2">400</text><text transform="translate(236.3 358.9) scale(0.1)" font-size="25" text-anchor="middle" fill="#222" stroke="#222" stroke-width="2">450</text><text transform="translate(245.5 358.9) scale(0.1)" font-size="25" text-anchor="middle" fill="#222" stroke="#222" stroke-width="2">500</text></g><g fill="#111"><text transform="translate(152.3 290.55) scale(0.1)" font-size="25" text-anchor="end" fill="#222" stroke="#222" stroke-width="2">10<tspan font-size="17.5" dy="-11.25">3</tspan></text><text transform="translate(152.3 307.35) scale(0.1)" font-size="25" text-anchor="end" fill="#222" stroke="#222" stroke-width="2">10<tspan font-size="17.5" dy="-11.25">2</tspan></text><text transform="translate(152.3 324.05) scale(0.1)" font-size="25" text-anchor="end" fill="#222" stroke="#222" stroke-width="2">10<tspan font-size="17.5" dy="-11.25">1</tspan></text><text transform="translate(152.3 340.75) scale(0.1)" font-size="25" text-anchor="end" fill="#222" stroke="#222" stroke-width="2">10<tspan font-size="17.5" dy="-11.25">0</tspan></text></g><text transform="translate(199.5 362.6) scale(0.1)" font-size="31" text-anchor="middle" fill="#222" stroke="#222" stroke-width="1">Iteration</text><text transform="translate(145 318) rotate(-90) scale(0.1)" font-size="31" text-anchor="middle" fill="#222" stroke="#222" stroke-width="1.2">Fitness function</text><text transform="translate(199.5 280.05) scale(0.1)" font-size="33" text-anchor="middle" fill="#333" stroke="#333" stroke-width="1">C12</text><g fill="#222"><rect x="221.5" y="284.4" width="22" height="49" fill="#fff" stroke="#666" stroke-width="0.3"/><path d="M222.4 286.3h8.2" stroke="#0000ff" stroke-width="0.5" stroke-opacity="0.6"/><text transform="translate(231.7 287.2) scale(0.1)" font-size="25" fill="#2a2a2a" stroke="#2a2a2a" stroke-width="1">SSA</text><path d="M222.4 289.78h8.2" stroke="#00ff00" stroke-width="0.5" stroke-opacity="0.6"/><circle cx="226.5" cy="289.78" r="0.7" fill="#00ff00"/><text transform="translate(231.7 290.68) scale(0.1)" font-size="25" fill="#2a2a2a" stroke="#2a2a2a" stroke-width="1">GWO</text><path d="M222.4 293.25h8.2" stroke="#806860" stroke-width="0.5" stroke-opacity="0.6"/><text transform="translate(231.7 294.15) scale(0.1)" font-size="25" fill="#2a2a2a" stroke="#2a2a2a" stroke-width="1">WOA</text><path d="M222.4 296.73h8.2" stroke="#ff00ff" stroke-width="0.5" stroke-opacity="0.6"/><circle cx="226.5" cy="296.73" r="0.7" fill="#ff00ff"/><text transform="translate(231.7 297.63) scale(0.1)" font-size="25" fill="#2a2a2a" stroke="#2a2a2a" stroke-width="1">PSO</text><path d="M222.4 300.21h8.2" stroke="#00ffff" stroke-width="0.5" stroke-opacity="0.6"/><circle cx="226.5" cy="300.21" r="0.7" fill="#00ffff"/><text transform="translate(231.7 301.11) scale(0.1)" font-size="25" fill="#2a2a2a" stroke="#2a2a2a" stroke-width="1">ABC</text><path d="M222.4 303.68h8.2" stroke="#000000" stroke-width="0.5" stroke-opacity="0.6"/><circle cx="226.5" cy="303.68" r="0.7" fill="#000000"/><text transform="translate(231.7 304.58) scale(0.1)" font-size="25" fill="#2a2a2a" stroke="#2a2a2a" stroke-width="1">FA</text><path d="M222.4 307.16h8.2" stroke="#ffff00" stroke-width="0.5" stroke-opacity="0.6"/><text transform="translate(231.7 308.06) scale(0.1)" font-size="25" fill="#2a2a2a" stroke="#2a2a2a" stroke-width="1">CMGWOA</text><path d="M222.4 310.64h8.2" stroke="#0000ff" stroke-width="0.5" stroke-opacity="0.6"/><circle cx="226.5" cy="310.64" r="0.7" fill="#0000ff"/><text transform="translate(231.7 311.54) scale(0.1)" font-size="25" fill="#2a2a2a" stroke="#2a2a2a" stroke-width="1">LSSA</text><path d="M222.4 314.12h8.2" stroke="#00ff00" stroke-width="0.5" stroke-opacity="0.6"/><circle cx="226.5" cy="314.12" r="0.7" fill="#00ff00"/><text transform="translate(231.7 315.02) scale(0.1)" font-size="25" fill="#2a2a2a" stroke="#2a2a2a" stroke-width="1">AGWO</text><path d="M222.4 317.59h8.2" stroke="#e8745e" stroke-width="0.5" stroke-opacity="0.6"/><text transform="translate(231.7 318.49) scale(0.1)" font-size="25" fill="#2a2a2a" stroke="#2a2a2a" stroke-width="1">DWOA</text><path d="M222.4 321.07h8.2" stroke="#ff00ff" stroke-width="0.5" stroke-opacity="0.6"/><circle cx="226.5" cy="321.07" r="0.7" fill="#ff00ff"/><text transform="translate(231.7 321.97) scale(0.1)" font-size="25" fill="#2a2a2a" stroke="#2a2a2a" stroke-width="1">OPPSO</text><path d="M222.4 324.55h8.2" stroke="#ffff00" stroke-width="0.5" stroke-opacity="0.6"/><circle cx="226.5" cy="324.55" r="0.7" fill="#ffff00"/><text transform="translate(231.7 325.45) scale(0.1)" font-size="25" fill="#2a2a2a" stroke="#2a2a2a" stroke-width="1">NSMO</text><path d="M222.4 328.02h8.2" stroke="#00ffff" stroke-width="0.5" stroke-opacity="0.6"/><circle cx="226.5" cy="328.02" r="0.7" fill="#00ffff"/><text transform="translate(231.7 328.92) scale(0.1)" font-size="25" fill="#2a2a2a" stroke="#2a2a2a" stroke-width="1">MSSTA</text><path d="M222.4 331.5h8.2" stroke="#ff0000" stroke-width="0.5" stroke-opacity="0.6"/><circle cx="226.5" cy="331.5" r="0.7" fill="#ff0000"/><text transform="translate(231.7 332.4) scale(0.1)" font-size="25" fill="#2a2a2a" stroke="#2a2a2a" stroke-width="1">WMSSSA</text></g></g>
<g><clipPath id="c23"><rect x="288.5" y="280.3" width="94" height="75.4"/></clipPath><g clip-path="url(#c23)"><path d="M289.38 282 L295.61 283.84 L303 287.54 L310.37 291.24 L317.14 294.32 L323.82 297.99 L331.21 304.18 L338.29 310.48 L345.66 314.77 L352.43 320.31 L357.34 328.31 L361.02 335.71 L365.31 346.81 L380.09 347.17" fill="none" stroke="#ff00ff" stroke-width="0.6" stroke-opacity="0.8"/><circle cx="289.38" cy="282" r="0.8" fill="#ff00ff"/><circle cx="296.42" cy="284.25" r="0.8" fill="#ff00ff"/><circle cx="303.46" cy="287.77" r="0.8" fill="#ff00ff"/><circle cx="310.5" cy="291.3" r="0.8" fill="#ff00ff"/><circle cx="317.54" cy="294.54" r="0.8" fill="#ff00ff"/><circle cx="324.58" cy="298.63" r="0.8" fill="#ff00ff"/><circle cx="331.62" cy="304.54" r="0.8" fill="#ff00ff"/><circle cx="338.66" cy="310.69" r="0.8" fill="#ff00ff"/><circle cx="345.7" cy="314.81" r="0.8" fill="#ff00ff"/><circle cx="352.74" cy="320.82" r="0.8" fill="#ff00ff"/><circle cx="359.78" cy="333.22" r="0.8" fill="#ff00ff"/><circle cx="366.82" cy="346.85" r="0.8" fill="#ff00ff"/><circle cx="373.86" cy="347.02" r="0.8" fill="#ff00ff"/><circle cx="380.9" cy="347.17" r="0.8" fill="#ff00ff"/><path d="M289.38 291.86 L295.61 298.64 L303 299.23 L310.37 299.23 L317.14 299.5 L323.82 299.86 L331.21 300.24 L380.09 300.62" fill="none" stroke="#000000" stroke-width="0.6" stroke-opacity="0.45"/><circle cx="289.38" cy="291.86" r="0.8" fill="#000000"/><circle cx="296.42" cy="298.7" r="0.8" fill="#000000"/><circle cx="303.46" cy="299.23" r="0.8" fill="#000000"/><circle cx="310.5" cy="299.24" r="0.8" fill="#000000"/><circle cx="317.54" cy="299.52" r="0.8" fill="#000000"/><circle cx="324.58" cy="299.89" r="0.8" fill="#000000"/><circle cx="331.62" cy="300.24" r="0.8" fill="#000000"/><circle cx="338.66" cy="300.3" r="0.8" fill="#000000"/><circle cx="345.7" cy="300.35" r="0.8" fill="#000000"/><circle cx="352.74" cy="300.41" r="0.8" fill="#000000"/><circle cx="359.78" cy="300.46" r="0.8" fill="#000000"/><circle cx="366.82" cy="300.52" r="0.8" fill="#000000"/><circle cx="373.86" cy="300.57" r="0.8" fill="#000000"/><circle cx="380.9" cy="300.62" r="0.8" fill="#000000"/><path d="M289.38 285.7 L295.61 290.59 L303 294.94 L310.37 297.99 L317.14 301.1 L323.82 304.68 L331.21 309.45 L338.29 314.15 L345.66 317.23 L352.43 320.31 L380.09 322.58" fill="none" stroke="#00ffff" stroke-width="0.6" stroke-opacity="0.8"/><circle cx="289.38" cy="285.7" r="0.8" fill="#00ffff"/><circle cx="296.42" cy="291.07" r="0.8" fill="#00ffff"/><circle cx="303.46" cy="295.13" r="0.8" fill="#00ffff"/><circle cx="310.5" cy="298.05" r="0.8" fill="#00ffff"/><circle cx="317.54" cy="301.31" r="0.8" fill="#00ffff"/><circle cx="324.58" cy="305.17" r="0.8" fill="#00ffff"/><circle cx="331.62" cy="309.73" r="0.8" fill="#00ffff"/><circle cx="338.66" cy="314.31" r="0.8" fill="#00ffff"/><circle cx="345.7" cy="317.25" r="0.8" fill="#00ffff"/><circle cx="352.74" cy="320.34" r="0.8" fill="#00ffff"/><circle cx="359.78" cy="320.92" r="0.8" fill="#00ffff"/><circle cx="366.82" cy="321.49" r="0.8" fill="#00ffff"/><circle cx="373.86" cy="322.07" r="0.8" fill="#00ffff"/><circle cx="380.9" cy="322.58" r="0.8" fill="#00ffff"/><path d="M289.38 289.16 L295.61 301.72 L303 302.29 L310.37 303.56 L317.14 304.8 L323.82 306.63 L331.21 308.5 L338.29 309.21 L380.09 309.69" fill="none" stroke="#00ffff" stroke-width="0.6" stroke-opacity="0.8"/><circle cx="289.38" cy="289.16" r="0.8" fill="#00ffff"/><circle cx="296.42" cy="301.78" r="0.8" fill="#00ffff"/><circle cx="303.46" cy="302.37" r="0.8" fill="#00ffff"/><circle cx="310.5" cy="303.58" r="0.8" fill="#00ffff"/><circle cx="317.54" cy="304.91" r="0.8" fill="#00ffff"/><circle cx="324.58" cy="306.83" r="0.8" fill="#00ffff"/><circle cx="331.62" cy="308.54" r="0.8" fill="#00ffff"/><circle cx="338.66" cy="309.22" r="0.8" fill="#00ffff"/><circle cx="345.7" cy="309.3" r="0.8" fill="#00ffff"/><circle cx="352.74" cy="309.38" r="0.8" fill="#00ffff"/><circle cx="359.78" cy="309.46" r="0.8" fill="#00ffff"/><circle cx="366.82" cy="309.54" r="0.8" fill="#00ffff"/><circle cx="373.86" cy="309.62" r="0.8" fill="#00ffff"/><circle cx="380.9" cy="309.69" r="0.8" fill="#00ffff"/><path d="M289.38 284.39 L295.61 304.8 L303 306.63 L310.37 307.26 L317.14 307.88 L323.82 308.5 L331.21 309.09 L380.09 309.93" fill="none" stroke="#00ff00" stroke-width="0.6" stroke-opacity="0.8"/><circle cx="289.38" cy="284.39" r="0.8" fill="#00ff00"/><circle cx="296.42" cy="305" r="0.8" fill="#00ff00"/><circle cx="303.46" cy="306.67" r="0.8" fill="#00ff00"/><circle cx="310.5" cy="307.27" r="0.8" fill="#00ff00"/><circle cx="317.54" cy="307.91" r="0.8" fill="#00ff00"/><circle cx="324.58" cy="308.56" r="0.8" fill="#00ff00"/><circle cx="331.62" cy="309.1" r="0.8" fill="#00ff00"/><circle cx="338.66" cy="309.22" r="0.8" fill="#00ff00"/><circle cx="345.7" cy="309.34" r="0.8" fill="#00ff00"/><circle cx="352.74" cy="309.46" r="0.8" fill="#00ff00"/><circle cx="359.78" cy="309.58" r="0.8" fill="#00ff00"/><circle cx="366.82" cy="309.7" r="0.8" fill="#00ff00"/><circle cx="373.86" cy="309.82" r="0.8" fill="#00ff00"/><circle cx="380.9" cy="309.93" r="0.8" fill="#00ff00"/><path d="M289.38 286.77 L295.61 306.63 L303 307.26 L310.37 307.88 L317.14 308.5 L323.82 309.69 L331.21 310.96 L338.29 311.7 L345.66 312.94 L352.43 314.77 L380.09 316.61" fill="none" stroke="#00ff00" stroke-width="0.6" stroke-opacity="0.8"/><circle cx="289.38" cy="286.77" r="0.8" fill="#00ff00"/><circle cx="296.42" cy="306.7" r="0.8" fill="#00ff00"/><circle cx="303.46" cy="307.29" r="0.8" fill="#00ff00"/><circle cx="310.5" cy="307.89" r="0.8" fill="#00ff00"/><circle cx="317.54" cy="308.57" r="0.8" fill="#00ff00"/><circle cx="324.58" cy="309.82" r="0.8" fill="#00ff00"/><circle cx="331.62" cy="311" r="0.8" fill="#00ff00"/><circle cx="338.66" cy="311.76" r="0.8" fill="#00ff00"/><circle cx="345.7" cy="312.95" r="0.8" fill="#00ff00"/><circle cx="352.74" cy="314.8" r="0.8" fill="#00ff00"/><circle cx="359.78" cy="315.26" r="0.8" fill="#00ff00"/><circle cx="366.82" cy="315.73" r="0.8" fill="#00ff00"/><circle cx="373.86" cy="316.2" r="0.8" fill="#00ff00"/><circle cx="380.9" cy="316.61" r="0.8" fill="#00ff00"/><path d="M289.38 285.7 L295.61 313.41 L299.3 318 L303 321.39 L310.37 326.64 L317.14 329.74 L323.82 332.13 L335.02 335.23 L380.09 335.71" fill="none" stroke="#806860" stroke-width="0.7" stroke-opacity="0.85"/><path d="M289.38 285.7 L295.61 313.41 L299.3 318 L303 321.39 L310.37 326.35 L317.14 329.43 L323.82 331.89 L335.02 334.99 L380.09 335.47" fill="none" stroke="#e8745e" stroke-width="0.7" stroke-opacity="0.85"/><path d="M289.38 286.77 L295.61 314.03 L303 324.16 L310.37 328.48 L317.14 332.13 L323.82 334.64 L331.21 335.85 L338.29 338.19 L345.66 340.01 L352.43 341.63 L359.11 342.49 L366.5 343.73 L373.34 344.35 L380.09 344.95" fill="none" stroke="#ffff00" stroke-width="0.6" stroke-opacity="0.8"/><circle cx="289.38" cy="286.77" r="0.8" fill="#ffff00"/><circle cx="296.42" cy="315.15" r="0.8" fill="#ffff00"/><circle cx="303.46" cy="324.43" r="0.8" fill="#ffff00"/><circle cx="310.5" cy="328.55" r="0.8" fill="#ffff00"/><circle cx="317.54" cy="332.28" r="0.8" fill="#ffff00"/><circle cx="324.58" cy="334.76" r="0.8" fill="#ffff00"/><circle cx="331.62" cy="335.99" r="0.8" fill="#ffff00"/><circle cx="338.66" cy="338.28" r="0.8" fill="#ffff00"/><circle cx="345.7" cy="340.02" r="0.8" fill="#ffff00"/><circle cx="352.74" cy="341.67" r="0.8" fill="#ffff00"/><circle cx="359.78" cy="342.6" r="0.8" fill="#ffff00"/><circle cx="366.82" cy="343.76" r="0.8" fill="#ffff00"/><circle cx="373.86" cy="344.4" r="0.8" fill="#ffff00"/><circle cx="380.9" cy="344.95" r="0.8" fill="#ffff00"/><path d="M289.38 286.77 L295.61 309.69 L303 312.79 L310.37 315.25 L317.14 317.09 L323.82 322.32 L331.21 333.39 L338.29 341.27 L345.66 343.35 L352.43 344.06 L380.09 344.3" fill="none" stroke="#ff00ff" stroke-width="0.6" stroke-opacity="0.8"/><circle cx="289.38" cy="286.77" r="0.8" fill="#ff00ff"/><circle cx="296.42" cy="310.03" r="0.8" fill="#ff00ff"/><circle cx="303.46" cy="312.95" r="0.8" fill="#ff00ff"/><circle cx="310.5" cy="315.29" r="0.8" fill="#ff00ff"/><circle cx="317.54" cy="317.4" r="0.8" fill="#ff00ff"/><circle cx="324.58" cy="323.46" r="0.8" fill="#ff00ff"/><circle cx="331.62" cy="333.85" r="0.8" fill="#ff00ff"/><circle cx="338.66" cy="341.38" r="0.8" fill="#ff00ff"/><circle cx="345.7" cy="343.35" r="0.8" fill="#ff00ff"/><circle cx="352.74" cy="344.07" r="0.8" fill="#ff00ff"/><circle cx="359.78" cy="344.13" r="0.8" fill="#ff00ff"/><circle cx="366.82" cy="344.19" r="0.8" fill="#ff00ff"/><circle cx="373.86" cy="344.25" r="0.8" fill="#ff00ff"/><circle cx="380.9" cy="344.3" r="0.8" fill="#ff00ff"/><path d="M289.38 287.97 L295.61 321.39 L303 325.4 L310.37 334.64 L317.14 338.93 L323.82 342.01 L331.21 343.87 L338.29 345.57 L345.66 346.19 L352.43 346.55 L359.11 347.05 L380.09 347.17" fill="none" stroke="#0000ff" stroke-width="0.6" stroke-opacity="0.8"/><circle cx="289.38" cy="287.97" r="0.8" fill="#0000ff"/><circle cx="296.42" cy="321.83" r="0.8" fill="#0000ff"/><circle cx="303.46" cy="325.98" r="0.8" fill="#0000ff"/><circle cx="310.5" cy="334.72" r="0.8" fill="#0000ff"/><circle cx="317.54" cy="339.12" r="0.8" fill="#0000ff"/><circle cx="324.58" cy="342.2" r="0.8" fill="#0000ff"/><circle cx="331.62" cy="343.97" r="0.8" fill="#0000ff"/><circle cx="338.66" cy="345.6" r="0.8" fill="#0000ff"/><circle cx="345.7" cy="346.19" r="0.8" fill="#0000ff"/><circle cx="352.74" cy="346.57" r="0.8" fill="#0000ff"/><circle cx="359.78" cy="347.05" r="0.8" fill="#0000ff"/><circle cx="366.82" cy="347.09" r="0.8" fill="#0000ff"/><circle cx="373.86" cy="347.13" r="0.8" fill="#0000ff"/><circle cx="380.9" cy="347.17" r="0.8" fill="#0000ff"/><path d="M289.38 289.16 L293.77 305.87 L296.23 330.31 L303 341.39 L310.37 346.93 L317.14 349.41 L323.82 350.63 L335.02 351.23 L380.09 351.7" fill="none" stroke="#0000ff" stroke-width="0.6" stroke-opacity="0.8"/><path d="M289.38 289.16 L293.15 318 L295.61 334.01 L299.3 343.83 L303 348.79 L310.37 352.49 L317.14 353.71 L335.02 354.09 L380.09 354.09" fill="none" stroke="#ffff00" stroke-width="0.6" stroke-opacity="0.8"/><path d="M289.38 284.46 L295.61 318.05 L303 336.47 L310.37 347.55 L317.14 351.87 L323.82 353.97 L331.21 354.45 L380.09 354.57" fill="none" stroke="#ff0000" stroke-width="0.6" stroke-opacity="0.8"/><circle cx="289.38" cy="284.46" r="0.8" fill="#ff0000"/><circle cx="296.42" cy="320.08" r="0.8" fill="#ff0000"/><circle cx="303.46" cy="337.17" r="0.8" fill="#ff0000"/><circle cx="310.5" cy="347.64" r="0.8" fill="#ff0000"/><circle cx="317.54" cy="352" r="0.8" fill="#ff0000"/><circle cx="324.58" cy="354.02" r="0.8" fill="#ff0000"/><circle cx="331.62" cy="354.45" r="0.8" fill="#ff0000"/><circle cx="338.66" cy="354.47" r="0.8" fill="#ff0000"/><circle cx="345.7" cy="354.48" r="0.8" fill="#ff0000"/><circle cx="352.74" cy="354.5" r="0.8" fill="#ff0000"/><circle cx="359.78" cy="354.52" r="0.8" fill="#ff0000"/><circle cx="366.82" cy="354.54" r="0.8" fill="#ff0000"/><circle cx="373.86" cy="354.55" r="0.8" fill="#ff0000"/><circle cx="380.9" cy="354.57" r="0.8" fill="#ff0000"/></g><rect x="289.5" y="281.5" width="92" height="73" fill="none" stroke="#666" stroke-width="0.35"/><path d="M298.7 354.5v-0.9M298.7 281.5v0.9M307.9 354.5v-0.9M307.9 281.5v0.9M317.1 354.5v-0.9M317.1 281.5v0.9M326.3 354.5v-0.9M326.3 281.5v0.9M335.5 354.5v-0.9M335.5 281.5v0.9M344.7 354.5v-0.9M344.7 281.5v0.9M353.9 354.5v-0.9M353.9 281.5v0.9M363.1 354.5v-0.9M363.1 281.5v0.9M372.3 354.5v-0.9M372.3 281.5v0.9M381.5 354.5v-0.9M381.5 281.5v0.9M289.5 288.9h0.9M381.5 288.9h-0.9M289.5 299.8h0.9M381.5 299.8h-0.9M289.5 310.7h0.9M381.5 310.7h-0.9M289.5 321.6h0.9M381.5 321.6h-0.9M289.5 333h0.9M381.5 333h-0.9M289.5 344.2h0.9M381.5 344.2h-0.9" stroke="#555" stroke-width="0.3" fill="none"/><g fill="#111"><text transform="translate(298.7 358.9) scale(0.1)" font-size="25" text-anchor="middle" fill="#222" stroke="#222" stroke-width="2">50</text><text transform="translate(307.9 358.9) scale(0.1)" font-size="25" text-anchor="middle" fill="#222" stroke="#222" stroke-width="2">100</text><text transform="translate(317.1 358.9) scale(0.1)" font-size="25" text-anchor="middle" fill="#222" stroke="#222" stroke-width="2">150</text><text transform="translate(326.3 358.9) scale(0.1)" font-size="25" text-anchor="middle" fill="#222" stroke="#222" stroke-width="2">200</text><text transform="translate(335.5 358.9) scale(0.1)" font-size="25" text-anchor="middle" fill="#222" stroke="#222" stroke-width="2">250</text><text transform="translate(344.7 358.9) scale(0.1)" font-size="25" text-anchor="middle" fill="#222" stroke="#222" stroke-width="2">300</text><text transform="translate(353.9 358.9) scale(0.1)" font-size="25" text-anchor="middle" fill="#222" stroke="#222" stroke-width="2">350</text><text transform="translate(363.1 358.9) scale(0.1)" font-size="25" text-anchor="middle" fill="#222" stroke="#222" stroke-width="2">400</text><text transform="translate(372.3 358.9) scale(0.1)" font-size="25" text-anchor="middle" fill="#222" stroke="#222" stroke-width="2">450</text><text transform="translate(381.5 358.9) scale(0.1)" font-size="25" text-anchor="middle" fill="#222" stroke="#222" stroke-width="2">500</text></g><g fill="#111"><text transform="translate(288.3 289.85) scale(0.1)" font-size="25" text-anchor="end" fill="#222" stroke="#222" stroke-width="2">10<tspan font-size="17.5" dy="-11.25">10</tspan></text><text transform="translate(288.3 300.75) scale(0.1)" font-size="25" text-anchor="end" fill="#222" stroke="#222" stroke-width="2">10<tspan font-size="17.5" dy="-11.25">8</tspan></text><text transform="translate(288.3 311.65) scale(0.1)" font-size="25" text-anchor="end" fill="#222" stroke="#222" stroke-width="2">10<tspan font-size="17.5" dy="-11.25">6</tspan></text><text transform="translate(288.3 322.55) scale(0.1)" font-size="25" text-anchor="end" fill="#222" stroke="#222" stroke-width="2">10<tspan font-size="17.5" dy="-11.25">4</tspan></text><text transform="translate(288.3 333.95) scale(0.1)" font-size="25" text-anchor="end" fill="#222" stroke="#222" stroke-width="2">10<tspan font-size="17.5" dy="-11.25">2</tspan></text><text transform="translate(288.3 345.15) scale(0.1)" font-size="25" text-anchor="end" fill="#222" stroke="#222" stroke-width="2">10<tspan font-size="17.5" dy="-11.25">0</tspan></text></g><text transform="translate(335.5 362.6) scale(0.1)" font-size="31" text-anchor="middle" fill="#222" stroke="#222" stroke-width="1">Iteration</text><text transform="translate(281 318) rotate(-90) scale(0.1)" font-size="31" text-anchor="middle" fill="#222" stroke="#222" stroke-width="1.2">Fitness function</text><text transform="translate(335.5 280.05) scale(0.1)" font-size="33" text-anchor="middle" fill="#333" stroke="#333" stroke-width="1">C13</text><g fill="#222"><rect x="357.5" y="284.4" width="22" height="49" fill="#fff" stroke="#666" stroke-width="0.3"/><path d="M358.4 286.3h8.2" stroke="#0000ff" stroke-width="0.5" stroke-opacity="0.6"/><text transform="translate(367.7 287.2) scale(0.1)" font-size="25" fill="#2a2a2a" stroke="#2a2a2a" stroke-width="1">SSA</text><path d="M358.4 289.78h8.2" stroke="#00ff00" stroke-width="0.5" stroke-opacity="0.6"/><circle cx="362.5" cy="289.78" r="0.7" fill="#00ff00"/><text transform="translate(367.7 290.68) scale(0.1)" font-size="25" fill="#2a2a2a" stroke="#2a2a2a" stroke-width="1">GWO</text><path d="M358.4 293.25h8.2" stroke="#806860" stroke-width="0.5" stroke-opacity="0.6"/><text transform="translate(367.7 294.15) scale(0.1)" font-size="25" fill="#2a2a2a" stroke="#2a2a2a" stroke-width="1">WOA</text><path d="M358.4 296.73h8.2" stroke="#ff00ff" stroke-width="0.5" stroke-opacity="0.6"/><circle cx="362.5" cy="296.73" r="0.7" fill="#ff00ff"/><text transform="translate(367.7 297.63) scale(0.1)" font-size="25" fill="#2a2a2a" stroke="#2a2a2a" stroke-width="1">PSO</text><path d="M358.4 300.21h8.2" stroke="#00ffff" stroke-width="0.5" stroke-opacity="0.6"/><circle cx="362.5" cy="300.21" r="0.7" fill="#00ffff"/><text transform="translate(367.7 301.11) scale(0.1)" font-size="25" fill="#2a2a2a" stroke="#2a2a2a" stroke-width="1">ABC</text><path d="M358.4 303.68h8.2" stroke="#000000" stroke-width="0.5" stroke-opacity="0.6"/><circle cx="362.5" cy="303.68" r="0.7" fill="#000000"/><text transform="translate(367.7 304.58) scale(0.1)" font-size="25" fill="#2a2a2a" stroke="#2a2a2a" stroke-width="1">FA</text><path d="M358.4 307.16h8.2" stroke="#ffff00" stroke-width="0.5" stroke-opacity="0.6"/><text transform="translate(367.7 308.06) scale(0.1)" font-size="25" fill="#2a2a2a" stroke="#2a2a2a" stroke-width="1">CMGWOA</text><path d="M358.4 310.64h8.2" stroke="#0000ff" stroke-width="0.5" stroke-opacity="0.6"/><circle cx="362.5" cy="310.64" r="0.7" fill="#0000ff"/><text transform="translate(367.7 311.54) scale(0.1)" font-size="25" fill="#2a2a2a" stroke="#2a2a2a" stroke-width="1">LSSA</text><path d="M358.4 314.12h8.2" stroke="#00ff00" stroke-width="0.5" stroke-opacity="0.6"/><circle cx="362.5" cy="314.12" r="0.7" fill="#00ff00"/><text transform="translate(367.7 315.02) scale(0.1)" font-size="25" fill="#2a2a2a" stroke="#2a2a2a" stroke-width="1">AGWO</text><path d="M358.4 317.59h8.2" stroke="#e8745e" stroke-width="0.5" stroke-opacity="0.6"/><text transform="translate(367.7 318.49) scale(0.1)" font-size="25" fill="#2a2a2a" stroke="#2a2a2a" stroke-width="1">DWOA</text><path d="M358.4 321.07h8.2" stroke="#ff00ff" stroke-width="0.5" stroke-opacity="0.6"/><circle cx="362.5" cy="321.07" r="0.7" fill="#ff00ff"/><text transform="translate(367.7 321.97) scale(0.1)" font-size="25" fill="#2a2a2a" stroke="#2a2a2a" stroke-width="1">OPPSO</text><path d="M358.4 324.55h8.2" stroke="#ffff00" stroke-width="0.5" stroke-opacity="0.6"/><circle cx="362.5" cy="324.55" r="0.7" fill="#ffff00"/><text transform="translate(367.7 325.45) scale(0.1)" font-size="25" fill="#2a2a2a" stroke="#2a2a2a" stroke-width="1">NSMO</text><path d="M358.4 328.02h8.2" stroke="#00ffff" stroke-width="0.5" stroke-opacity="0.6"/><circle cx="362.5" cy="328.02" r="0.7" fill="#00ffff"/><text transform="translate(367.7 328.92) scale(0.1)" font-size="25" fill="#2a2a2a" stroke="#2a2a2a" stroke-width="1">MSSTA</text><path d="M358.4 331.5h8.2" stroke="#ff0000" stroke-width="0.5" stroke-opacity="0.6"/><circle cx="362.5" cy="331.5" r="0.7" fill="#ff0000"/><text transform="translate(367.7 332.4) scale(0.1)" font-size="25" fill="#2a2a2a" stroke="#2a2a2a" stroke-width="1">WMSSSA</text></g></g>
<g><clipPath id="c04"><rect x="16.5" y="370.5" width="94" height="75.4"/></clipPath><g clip-path="url(#c04)"><path d="M17.38 392.93 L24.63 407.71 L31.78 408.95 L38.7 408.95 L45.85 409.33 L63.02 409.57 L109.76 409.79" fill="none" stroke="#e8745e" stroke-width="0.65" stroke-opacity="0.85"/><path d="M17.38 393.48 L24.63 409.57 L63.02 411.39 L109.76 412.25" fill="none" stroke="#806860" stroke-width="0.65" stroke-opacity="0.85"/><path d="M17.38 396.63 L24.63 403.41 L31.78 408.33 L38.7 411.39 L45.85 412.65 L53.01 413.87 L60.16 414.97 L74.23 416.88 L109.76 418.31" fill="none" stroke="#00ffff" stroke-width="0.6" stroke-opacity="0.8"/><circle cx="17.38" cy="396.63" r="0.8" fill="#00ffff"/><circle cx="24.42" cy="403.22" r="0.8" fill="#00ffff"/><circle cx="31.46" cy="408.11" r="0.8" fill="#00ffff"/><circle cx="38.5" cy="411.3" r="0.8" fill="#00ffff"/><circle cx="45.54" cy="412.6" r="0.8" fill="#00ffff"/><circle cx="52.58" cy="413.8" r="0.8" fill="#00ffff"/><circle cx="59.62" cy="414.88" r="0.8" fill="#00ffff"/><circle cx="66.66" cy="415.85" r="0.8" fill="#00ffff"/><circle cx="73.7" cy="416.81" r="0.8" fill="#00ffff"/><circle cx="80.74" cy="417.14" r="0.8" fill="#00ffff"/><circle cx="87.78" cy="417.42" r="0.8" fill="#00ffff"/><circle cx="94.82" cy="417.71" r="0.8" fill="#00ffff"/><circle cx="101.86" cy="417.99" r="0.8" fill="#00ffff"/><circle cx="108.9" cy="418.27" r="0.8" fill="#00ffff"/><path d="M17.38 390.48 L24.63 411.39 L31.78 413.87 L38.7 415.11 L45.85 415.11 L53.01 415.35 L60.16 415.45 L109.76 415.92" fill="none" stroke="#00ff00" stroke-width="0.6" stroke-opacity="0.8"/><circle cx="17.38" cy="390.48" r="0.8" fill="#00ff00"/><circle cx="24.42" cy="410.78" r="0.8" fill="#00ff00"/><circle cx="31.46" cy="413.76" r="0.8" fill="#00ff00"/><circle cx="38.5" cy="415.08" r="0.8" fill="#00ff00"/><circle cx="45.54" cy="415.11" r="0.8" fill="#00ff00"/><circle cx="52.58" cy="415.34" r="0.8" fill="#00ff00"/><circle cx="59.62" cy="415.44" r="0.8" fill="#00ff00"/><circle cx="66.66" cy="415.51" r="0.8" fill="#00ff00"/><circle cx="73.7" cy="415.58" r="0.8" fill="#00ff00"/><circle cx="80.74" cy="415.64" r="0.8" fill="#00ff00"/><circle cx="87.78" cy="415.71" r="0.8" fill="#00ff00"/><circle cx="94.82" cy="415.78" r="0.8" fill="#00ff00"/><circle cx="101.86" cy="415.85" r="0.8" fill="#00ff00"/><circle cx="108.9" cy="415.91" r="0.8" fill="#00ff00"/><path d="M17.38 391.1 L24.63 412.58 L31.78 414.49 L38.7 416.88 L45.85 418.79 L53.01 419.74 L60.16 420.7 L109.76 421.48" fill="none" stroke="#00ff00" stroke-width="0.6" stroke-opacity="0.8"/><circle cx="17.38" cy="391.1" r="0.8" fill="#00ff00"/><circle cx="24.42" cy="411.96" r="0.8" fill="#00ff00"/><circle cx="31.46" cy="414.4" r="0.8" fill="#00ff00"/><circle cx="38.5" cy="416.81" r="0.8" fill="#00ff00"/><circle cx="45.54" cy="418.7" r="0.8" fill="#00ff00"/><circle cx="52.58" cy="419.68" r="0.8" fill="#00ff00"/><circle cx="59.62" cy="420.62" r="0.8" fill="#00ff00"/><circle cx="66.66" cy="420.8" r="0.8" fill="#00ff00"/><circle cx="73.7" cy="420.91" r="0.8" fill="#00ff00"/><circle cx="80.74" cy="421.02" r="0.8" fill="#00ff00"/><circle cx="87.78" cy="421.14" r="0.8" fill="#00ff00"/><circle cx="94.82" cy="421.25" r="0.8" fill="#00ff00"/><circle cx="101.86" cy="421.36" r="0.8" fill="#00ff00"/><circle cx="108.9" cy="421.47" r="0.8" fill="#00ff00"/><path d="M17.38 393.48 L24.63 410.19 L31.78 413.87 L38.7 416.95 L45.85 418.79 L53.01 420.65 L60.16 421.89 L74.23 424.99 L109.76 427.05" fill="none" stroke="#0000ff" stroke-width="0.6" stroke-opacity="0.8"/><circle cx="17.38" cy="393.48" r="0.8" fill="#0000ff"/><circle cx="24.42" cy="409.71" r="0.8" fill="#0000ff"/><circle cx="31.46" cy="413.7" r="0.8" fill="#0000ff"/><circle cx="38.5" cy="416.86" r="0.8" fill="#0000ff"/><circle cx="45.54" cy="418.71" r="0.8" fill="#0000ff"/><circle cx="52.58" cy="420.54" r="0.8" fill="#0000ff"/><circle cx="59.62" cy="421.8" r="0.8" fill="#0000ff"/><circle cx="66.66" cy="423.32" r="0.8" fill="#0000ff"/><circle cx="73.7" cy="424.88" r="0.8" fill="#0000ff"/><circle cx="80.74" cy="425.37" r="0.8" fill="#0000ff"/><circle cx="87.78" cy="425.78" r="0.8" fill="#0000ff"/><circle cx="94.82" cy="426.18" r="0.8" fill="#0000ff"/><circle cx="101.86" cy="426.59" r="0.8" fill="#0000ff"/><circle cx="108.9" cy="427" r="0.8" fill="#0000ff"/><path d="M17.38 372 L19.86 381.55 L24.63 413.77 L31.78 417.83 L38.7 419.26 L60.16 422.61 L109.76 425.71" fill="none" stroke="#ffff00" stroke-width="0.6" stroke-opacity="0.8"/><path d="M17.38 392.29 L24.63 414.01 L31.78 417.59 L38.7 419.03 L45.85 420.94 L53.01 421.89 L60.16 423.32 L109.76 427.38" fill="none" stroke="#ffff00" stroke-width="0.6" stroke-opacity="0.8"/><circle cx="17.38" cy="392.29" r="0.8" fill="#ffff00"/><circle cx="24.42" cy="413.38" r="0.8" fill="#ffff00"/><circle cx="31.46" cy="417.43" r="0.8" fill="#ffff00"/><circle cx="38.5" cy="418.98" r="0.8" fill="#ffff00"/><circle cx="45.54" cy="420.85" r="0.8" fill="#ffff00"/><circle cx="52.58" cy="421.83" r="0.8" fill="#ffff00"/><circle cx="59.62" cy="423.21" r="0.8" fill="#ffff00"/><circle cx="66.66" cy="423.85" r="0.8" fill="#ffff00"/><circle cx="73.7" cy="424.43" r="0.8" fill="#ffff00"/><circle cx="80.74" cy="425.01" r="0.8" fill="#ffff00"/><circle cx="87.78" cy="425.58" r="0.8" fill="#ffff00"/><circle cx="94.82" cy="426.16" r="0.8" fill="#ffff00"/><circle cx="101.86" cy="426.73" r="0.8" fill="#ffff00"/><circle cx="108.9" cy="427.31" r="0.8" fill="#ffff00"/><path d="M17.38 395.87 L24.63 413.06 L31.78 417.35 L38.7 419.74 L45.85 421.41 L60.16 424.52 L109.76 430.48" fill="none" stroke="#00ffff" stroke-width="0.6" stroke-opacity="0.8"/><circle cx="17.38" cy="395.87" r="0.8" fill="#00ffff"/><circle cx="24.42" cy="412.56" r="0.8" fill="#00ffff"/><circle cx="31.46" cy="417.16" r="0.8" fill="#00ffff"/><circle cx="38.5" cy="419.67" r="0.8" fill="#00ffff"/><circle cx="45.54" cy="421.34" r="0.8" fill="#00ffff"/><circle cx="52.58" cy="422.87" r="0.8" fill="#00ffff"/><circle cx="59.62" cy="424.4" r="0.8" fill="#00ffff"/><circle cx="66.66" cy="425.3" r="0.8" fill="#00ffff"/><circle cx="73.7" cy="426.15" r="0.8" fill="#00ffff"/><circle cx="80.74" cy="426.99" r="0.8" fill="#00ffff"/><circle cx="87.78" cy="427.84" r="0.8" fill="#00ffff"/><circle cx="94.82" cy="428.69" r="0.8" fill="#00ffff"/><circle cx="101.86" cy="429.53" r="0.8" fill="#00ffff"/><circle cx="108.9" cy="430.38" r="0.8" fill="#00ffff"/><path d="M17.38 394.68 L24.63 412.1 L31.78 416.4 L45.85 420.94 L60.16 424.04 L109.76 428.34" fill="none" stroke="#0000ff" stroke-width="0.6" stroke-opacity="0.8"/><path d="M17.38 398.26 L24.63 413.06 L31.78 416.16 L38.7 418.67 L45.85 420.46 L53.01 423.32 L60.16 426.9 L66.29 429.53 L73.66 431.34 L80.43 431.96 L87.11 432.58 L109.76 433.21" fill="none" stroke="#ff00ff" stroke-width="0.6" stroke-opacity="0.8"/><circle cx="17.38" cy="398.26" r="0.8" fill="#ff00ff"/><circle cx="24.42" cy="412.63" r="0.8" fill="#ff00ff"/><circle cx="31.46" cy="416.02" r="0.8" fill="#ff00ff"/><circle cx="38.5" cy="418.6" r="0.8" fill="#ff00ff"/><circle cx="45.54" cy="420.38" r="0.8" fill="#ff00ff"/><circle cx="52.58" cy="423.15" r="0.8" fill="#ff00ff"/><circle cx="59.62" cy="426.63" r="0.8" fill="#ff00ff"/><circle cx="66.66" cy="429.62" r="0.8" fill="#ff00ff"/><circle cx="73.7" cy="431.35" r="0.8" fill="#ff00ff"/><circle cx="80.74" cy="431.99" r="0.8" fill="#ff00ff"/><circle cx="87.78" cy="432.6" r="0.8" fill="#ff00ff"/><circle cx="94.82" cy="432.8" r="0.8" fill="#ff00ff"/><circle cx="101.86" cy="432.99" r="0.8" fill="#ff00ff"/><circle cx="108.9" cy="433.18" r="0.8" fill="#ff00ff"/><path d="M17.38 407.71 L24.63 420.03 L31.78 421.89 L38.7 422.51 L45.85 423.73 L53.01 424.35 L60.16 424.75 L80.43 426.43 L109.76 426.81" fill="none" stroke="#000000" stroke-width="0.6" stroke-opacity="0.45"/><circle cx="17.38" cy="407.71" r="0.8" fill="#000000"/><circle cx="24.42" cy="419.67" r="0.8" fill="#000000"/><circle cx="31.46" cy="421.81" r="0.8" fill="#000000"/><circle cx="38.5" cy="422.49" r="0.8" fill="#000000"/><circle cx="45.54" cy="423.67" r="0.8" fill="#000000"/><circle cx="52.58" cy="424.31" r="0.8" fill="#000000"/><circle cx="59.62" cy="424.72" r="0.8" fill="#000000"/><circle cx="66.66" cy="425.29" r="0.8" fill="#000000"/><circle cx="73.7" cy="425.87" r="0.8" fill="#000000"/><circle cx="80.74" cy="426.43" r="0.8" fill="#000000"/><circle cx="87.78" cy="426.52" r="0.8" fill="#000000"/><circle cx="94.82" cy="426.61" r="0.8" fill="#000000"/><circle cx="101.86" cy="426.7" r="0.8" fill="#000000"/><circle cx="108.9" cy="426.8" r="0.8" fill="#000000"/><path d="M17.38 402.17 L24.63 415.73 L31.78 421.27 L38.7 422.51 L45.85 424.97 L53.01 426.81 L60.16 428.81 L66.29 431.34 L73.66 433.21 L80.43 434.42 L87.11 436.28 L94.5 437.88 L101.34 439.36 L109.76 441.23" fill="none" stroke="#ff0000" stroke-width="0.6" stroke-opacity="0.8"/><circle cx="17.38" cy="402.17" r="0.8" fill="#ff0000"/><circle cx="24.42" cy="415.34" r="0.8" fill="#ff0000"/><circle cx="31.46" cy="421.02" r="0.8" fill="#ff0000"/><circle cx="38.5" cy="422.48" r="0.8" fill="#ff0000"/><circle cx="45.54" cy="424.86" r="0.8" fill="#ff0000"/><circle cx="52.58" cy="426.7" r="0.8" fill="#ff0000"/><circle cx="59.62" cy="428.66" r="0.8" fill="#ff0000"/><circle cx="66.66" cy="431.44" r="0.8" fill="#ff0000"/><circle cx="73.7" cy="433.21" r="0.8" fill="#ff0000"/><circle cx="80.74" cy="434.51" r="0.8" fill="#ff0000"/><circle cx="87.78" cy="436.43" r="0.8" fill="#ff0000"/><circle cx="94.82" cy="437.95" r="0.8" fill="#ff0000"/><circle cx="101.86" cy="439.48" r="0.8" fill="#ff0000"/><circle cx="108.9" cy="441.04" r="0.8" fill="#ff0000"/><path d="M17.38 372 L24.63 382.48 L31.78 388.64 L38.7 401.55 L45.85 409.57 L53.01 414.49 L60.16 419.43 L66.29 423.97 L73.66 430.72 L80.43 436.28 L87.11 441.82 L94.5 443.66 L101.34 444.28 L109.76 444.28" fill="none" stroke="#ff00ff" stroke-width="0.6" stroke-opacity="0.8"/><circle cx="17.38" cy="372" r="0.8" fill="#ff00ff"/><circle cx="24.42" cy="382.17" r="0.8" fill="#ff00ff"/><circle cx="31.46" cy="388.36" r="0.8" fill="#ff00ff"/><circle cx="38.5" cy="401.18" r="0.8" fill="#ff00ff"/><circle cx="45.54" cy="409.22" r="0.8" fill="#ff00ff"/><circle cx="52.58" cy="414.2" r="0.8" fill="#ff00ff"/><circle cx="59.62" cy="419.06" r="0.8" fill="#ff00ff"/><circle cx="66.66" cy="424.31" r="0.8" fill="#ff00ff"/><circle cx="73.7" cy="430.76" r="0.8" fill="#ff00ff"/><circle cx="80.74" cy="436.54" r="0.8" fill="#ff00ff"/><circle cx="87.78" cy="441.99" r="0.8" fill="#ff00ff"/><circle cx="94.82" cy="443.69" r="0.8" fill="#ff00ff"/><circle cx="101.86" cy="444.28" r="0.8" fill="#ff00ff"/><circle cx="108.9" cy="444.28" r="0.8" fill="#ff00ff"/></g><rect x="17.5" y="371.7" width="92" height="73" fill="none" stroke="#666" stroke-width="0.35"/><path d="M26.7 444.7v-0.9M26.7 371.7v0.9M35.9 444.7v-0.9M35.9 371.7v0.9M45.1 444.7v-0.9M45.1 371.7v0.9M54.3 444.7v-0.9M54.3 371.7v0.9M63.5 444.7v-0.9M63.5 371.7v0.9M72.7 444.7v-0.9M72.7 371.7v0.9M81.9 444.7v-0.9M81.9 371.7v0.9M91.1 444.7v-0.9M91.1 371.7v0.9M100.3 444.7v-0.9M100.3 371.7v0.9M109.5 444.7v-0.9M109.5 371.7v0.9M17.5 385.7h0.9M109.5 385.7h-0.9M17.5 400.3h0.9M109.5 400.3h-0.9M17.5 414.3h0.9M109.5 414.3h-0.9M17.5 428.8h0.9M109.5 428.8h-0.9M17.5 442.9h0.9M109.5 442.9h-0.9" stroke="#555" stroke-width="0.3" fill="none"/><g fill="#111"><text transform="translate(26.7 449.1) scale(0.1)" font-size="25" text-anchor="middle" fill="#222" stroke="#222" stroke-width="2">50</text><text transform="translate(35.9 449.1) scale(0.1)" font-size="25" text-anchor="middle" fill="#222" stroke="#222" stroke-width="2">100</text><text transform="translate(45.1 449.1) scale(0.1)" font-size="25" text-anchor="middle" fill="#222" stroke="#222" stroke-width="2">150</text><text transform="translate(54.3 449.1) scale(0.1)" font-size="25" text-anchor="middle" fill="#222" stroke="#222" stroke-width="2">200</text><text transform="translate(63.5 449.1) scale(0.1)" font-size="25" text-anchor="middle" fill="#222" stroke="#222" stroke-width="2">250</text><text transform="translate(72.7 449.1) scale(0.1)" font-size="25" text-anchor="middle" fill="#222" stroke="#222" stroke-width="2">300</text><text transform="translate(81.9 449.1) scale(0.1)" font-size="25" text-anchor="middle" fill="#222" stroke="#222" stroke-width="2">350</text><text transform="translate(91.1 449.1) scale(0.1)" font-size="25" text-anchor="middle" fill="#222" stroke="#222" stroke-width="2">400</text><text transform="translate(100.3 449.1) scale(0.1)" font-size="25" text-anchor="middle" fill="#222" stroke="#222" stroke-width="2">450</text><text transform="translate(109.5 449.1) scale(0.1)" font-size="25" text-anchor="middle" fill="#222" stroke="#222" stroke-width="2">500</text></g><g fill="#111"><text transform="translate(16.3 386.65) scale(0.1)" font-size="25" text-anchor="end" fill="#222" stroke="#222" stroke-width="2">10<tspan font-size="17.5" dy="-11.25">4</tspan></text><text transform="translate(16.3 401.25) scale(0.1)" font-size="25" text-anchor="end" fill="#222" stroke="#222" stroke-width="2">10<tspan font-size="17.5" dy="-11.25">3</tspan></text><text transform="translate(16.3 415.25) scale(0.1)" font-size="25" text-anchor="end" fill="#222" stroke="#222" stroke-width="2">10<tspan font-size="17.5" dy="-11.25">2</tspan></text><text transform="translate(16.3 429.75) scale(0.1)" font-size="25" text-anchor="end" fill="#222" stroke="#222" stroke-width="2">10<tspan font-size="17.5" dy="-11.25">1</tspan></text><text transform="translate(16.3 443.85) scale(0.1)" font-size="25" text-anchor="end" fill="#222" stroke="#222" stroke-width="2">10<tspan font-size="17.5" dy="-11.25">0</tspan></text></g><text transform="translate(63.5 452.8) scale(0.1)" font-size="31" text-anchor="middle" fill="#222" stroke="#222" stroke-width="1">Iteration</text><text transform="translate(10.7 408.2) rotate(-90) scale(0.1)" font-size="31" text-anchor="middle" fill="#222" stroke="#222" stroke-width="1.2">Fitness function</text><text transform="translate(63.5 370.25) scale(0.1)" font-size="33" text-anchor="middle" fill="#333" stroke="#333" stroke-width="1">C14</text><g fill="#222"><rect x="85.5" y="374.6" width="22" height="49" fill="#fff" stroke="#666" stroke-width="0.3"/><path d="M86.4 376.5h8.2" stroke="#0000ff" stroke-width="0.5" stroke-opacity="0.6"/><text transform="translate(95.7 377.4) scale(0.1)" font-size="25" fill="#2a2a2a" stroke="#2a2a2a" stroke-width="1">SSA</text><path d="M86.4 379.98h8.2" stroke="#00ff00" stroke-width="0.5" stroke-opacity="0.6"/><circle cx="90.5" cy="379.98" r="0.7" fill="#00ff00"/><text transform="translate(95.7 380.88) scale(0.1)" font-size="25" fill="#2a2a2a" stroke="#2a2a2a" stroke-width="1">GWO</text><path d="M86.4 383.45h8.2" stroke="#806860" stroke-width="0.5" stroke-opacity="0.6"/><text transform="translate(95.7 384.35) scale(0.1)" font-size="25" fill="#2a2a2a" stroke="#2a2a2a" stroke-width="1">WOA</text><path d="M86.4 386.93h8.2" stroke="#ff00ff" stroke-width="0.5" stroke-opacity="0.6"/><circle cx="90.5" cy="386.93" r="0.7" fill="#ff00ff"/><text transform="translate(95.7 387.83) scale(0.1)" font-size="25" fill="#2a2a2a" stroke="#2a2a2a" stroke-width="1">PSO</text><path d="M86.4 390.41h8.2" stroke="#00ffff" stroke-width="0.5" stroke-opacity="0.6"/><circle cx="90.5" cy="390.41" r="0.7" fill="#00ffff"/><text transform="translate(95.7 391.31) scale(0.1)" font-size="25" fill="#2a2a2a" stroke="#2a2a2a" stroke-width="1">ABC</text><path d="M86.4 393.88h8.2" stroke="#000000" stroke-width="0.5" stroke-opacity="0.6"/><circle cx="90.5" cy="393.88" r="0.7" fill="#000000"/><text transform="translate(95.7 394.78) scale(0.1)" font-size="25" fill="#2a2a2a" stroke="#2a2a2a" stroke-width="1">FA</text><path d="M86.4 397.36h8.2" stroke="#ffff00" stroke-width="0.5" stroke-opacity="0.6"/><text transform="translate(95.7 398.26) scale(0.1)" font-size="25" fill="#2a2a2a" stroke="#2a2a2a" stroke-width="1">CMGWOA</text><path d="M86.4 400.84h8.2" stroke="#0000ff" stroke-width="0.5" stroke-opacity="0.6"/><circle cx="90.5" cy="400.84" r="0.7" fill="#0000ff"/><text transform="translate(95.7 401.74) scale(0.1)" font-size="25" fill="#2a2a2a" stroke="#2a2a2a" stroke-width="1">LSSA</text><path d="M86.4 404.32h8.2" stroke="#00ff00" stroke-width="0.5" stroke-opacity="0.6"/><circle cx="90.5" cy="404.32" r="0.7" fill="#00ff00"/><text transform="translate(95.7 405.22) scale(0.1)" font-size="25" fill="#2a2a2a" stroke="#2a2a2a" stroke-width="1">AGWO</text><path d="M86.4 407.79h8.2" stroke="#e8745e" stroke-width="0.5" stroke-opacity="0.6"/><text transform="translate(95.7 408.69) scale(0.1)" font-size="25" fill="#2a2a2a" stroke="#2a2a2a" stroke-width="1">DWOA</text><path d="M86.4 411.27h8.2" stroke="#ff00ff" stroke-width="0.5" stroke-opacity="0.6"/><circle cx="90.5" cy="411.27" r="0.7" fill="#ff00ff"/><text transform="translate(95.7 412.17) scale(0.1)" font-size="25" fill="#2a2a2a" stroke="#2a2a2a" stroke-width="1">OPPSO</text><path d="M86.4 414.75h8.2" stroke="#ffff00" stroke-width="0.5" stroke-opacity="0.6"/><circle cx="90.5" cy="414.75" r="0.7" fill="#ffff00"/><text transform="translate(95.7 415.65) scale(0.1)" font-size="25" fill="#2a2a2a" stroke="#2a2a2a" stroke-width="1">NSMO</text><path d="M86.4 418.22h8.2" stroke="#00ffff" stroke-width="0.5" stroke-opacity="0.6"/><circle cx="90.5" cy="418.22" r="0.7" fill="#00ffff"/><text transform="translate(95.7 419.12) scale(0.1)" font-size="25" fill="#2a2a2a" stroke="#2a2a2a" stroke-width="1">MSSTA</text><path d="M86.4 421.7h8.2" stroke="#ff0000" stroke-width="0.5" stroke-opacity="0.6"/><circle cx="90.5" cy="421.7" r="0.7" fill="#ff0000"/><text transform="translate(95.7 422.6) scale(0.1)" font-size="25" fill="#2a2a2a" stroke="#2a2a2a" stroke-width="1">WMSSSA</text></g></g>
<g><clipPath id="c14"><rect x="152.5" y="370.5" width="94" height="75.4"/></clipPath><g clip-path="url(#c14)"><path d="M153.38 374.46 L159.61 377.54 L167 385.56 L174.37 392.93 L181.14 397.26 L187.82 399.69 L195.21 401.12 L197.97 401.7 L209.66 403.56 L216.43 404.77 L221.34 406.02 L244.09 407.33" fill="none" stroke="#00ffff" stroke-width="0.6" stroke-opacity="0.8"/><circle cx="153.38" cy="374.46" r="0.8" fill="#00ffff"/><circle cx="160.42" cy="378.42" r="0.8" fill="#00ffff"/><circle cx="167.46" cy="386.02" r="0.8" fill="#00ffff"/><circle cx="174.5" cy="393.02" r="0.8" fill="#00ffff"/><circle cx="181.54" cy="397.4" r="0.8" fill="#00ffff"/><circle cx="188.58" cy="399.84" r="0.8" fill="#00ffff"/><circle cx="195.62" cy="401.21" r="0.8" fill="#00ffff"/><circle cx="202.66" cy="402.44" r="0.8" fill="#00ffff"/><circle cx="209.7" cy="403.56" r="0.8" fill="#00ffff"/><circle cx="216.74" cy="404.85" r="0.8" fill="#00ffff"/><circle cx="223.78" cy="406.16" r="0.8" fill="#00ffff"/><circle cx="230.82" cy="406.56" r="0.8" fill="#00ffff"/><circle cx="237.86" cy="406.97" r="0.8" fill="#00ffff"/><circle cx="244.9" cy="407.33" r="0.8" fill="#00ffff"/><path d="M153.38 384.32 L159.61 391.72 L167 393.56 L174.37 394.53 L181.14 396.01 L187.82 396.25 L195.21 396.63 L216.43 397.54 L244.09 398.02" fill="none" stroke="#000000" stroke-width="0.6" stroke-opacity="0.45"/><circle cx="153.38" cy="384.32" r="0.8" fill="#000000"/><circle cx="160.42" cy="391.92" r="0.8" fill="#000000"/><circle cx="167.46" cy="393.62" r="0.8" fill="#000000"/><circle cx="174.5" cy="394.56" r="0.8" fill="#000000"/><circle cx="181.54" cy="396.03" r="0.8" fill="#000000"/><circle cx="188.58" cy="396.29" r="0.8" fill="#000000"/><circle cx="195.62" cy="396.65" r="0.8" fill="#000000"/><circle cx="202.66" cy="396.95" r="0.8" fill="#000000"/><circle cx="209.7" cy="397.25" r="0.8" fill="#000000"/><circle cx="216.74" cy="397.55" r="0.8" fill="#000000"/><circle cx="223.78" cy="397.67" r="0.8" fill="#000000"/><circle cx="230.82" cy="397.79" r="0.8" fill="#000000"/><circle cx="237.86" cy="397.91" r="0.8" fill="#000000"/><circle cx="244.9" cy="398.02" r="0.8" fill="#000000"/><path d="M153.38 377.97 L159.61 379.16 L167 386.32 L174.37 393.01 L181.14 396.59 L187.82 400.33 L195.21 404.63 L202.29 407.85 L209.66 410.31 L216.43 413.39 L221.34 415.21 L244.09 417.35" fill="none" stroke="#00ffff" stroke-width="0.6" stroke-opacity="0.8"/><circle cx="153.38" cy="377.97" r="0.8" fill="#00ffff"/><circle cx="160.42" cy="379.95" r="0.8" fill="#00ffff"/><circle cx="167.46" cy="386.74" r="0.8" fill="#00ffff"/><circle cx="174.5" cy="393.08" r="0.8" fill="#00ffff"/><circle cx="181.54" cy="396.81" r="0.8" fill="#00ffff"/><circle cx="188.58" cy="400.78" r="0.8" fill="#00ffff"/><circle cx="195.62" cy="404.82" r="0.8" fill="#00ffff"/><circle cx="202.66" cy="407.98" r="0.8" fill="#00ffff"/><circle cx="209.7" cy="410.33" r="0.8" fill="#00ffff"/><circle cx="216.74" cy="413.51" r="0.8" fill="#00ffff"/><circle cx="223.78" cy="415.44" r="0.8" fill="#00ffff"/><circle cx="230.82" cy="416.1" r="0.8" fill="#00ffff"/><circle cx="237.86" cy="416.77" r="0.8" fill="#00ffff"/><circle cx="244.9" cy="417.35" r="0.8" fill="#00ffff"/><path d="M153.38 373.19 L159.61 406.49 L167 407.71 L174.37 408.33 L181.14 408.33 L187.82 408.95 L195.21 409.72 L244.09 410.19" fill="none" stroke="#00ff00" stroke-width="0.6" stroke-opacity="0.8"/><circle cx="153.38" cy="373.19" r="0.8" fill="#00ff00"/><circle cx="160.42" cy="406.63" r="0.8" fill="#00ff00"/><circle cx="167.46" cy="407.75" r="0.8" fill="#00ff00"/><circle cx="174.5" cy="408.33" r="0.8" fill="#00ff00"/><circle cx="181.54" cy="408.37" r="0.8" fill="#00ff00"/><circle cx="188.58" cy="409.03" r="0.8" fill="#00ff00"/><circle cx="195.62" cy="409.72" r="0.8" fill="#00ff00"/><circle cx="202.66" cy="409.79" r="0.8" fill="#00ff00"/><circle cx="209.7" cy="409.86" r="0.8" fill="#00ff00"/><circle cx="216.74" cy="409.93" r="0.8" fill="#00ff00"/><circle cx="223.78" cy="410" r="0.8" fill="#00ff00"/><circle cx="230.82" cy="410.06" r="0.8" fill="#00ff00"/><circle cx="237.86" cy="410.13" r="0.8" fill="#00ff00"/><circle cx="244.9" cy="410.19" r="0.8" fill="#00ff00"/><path d="M153.38 375.58 L159.61 407.09 L167 408.28 L174.37 409.24 L181.14 409.72 L187.82 410.19 L197.97 410.91 L209.66 412.82 L216.43 413.39 L244.09 414.49" fill="none" stroke="#00ff00" stroke-width="0.6" stroke-opacity="0.8"/><circle cx="153.38" cy="375.58" r="0.8" fill="#00ff00"/><circle cx="160.42" cy="407.22" r="0.8" fill="#00ff00"/><circle cx="167.46" cy="408.34" r="0.8" fill="#00ff00"/><circle cx="174.5" cy="409.25" r="0.8" fill="#00ff00"/><circle cx="181.54" cy="409.74" r="0.8" fill="#00ff00"/><circle cx="188.58" cy="410.25" r="0.8" fill="#00ff00"/><circle cx="195.62" cy="410.74" r="0.8" fill="#00ff00"/><circle cx="202.66" cy="411.68" r="0.8" fill="#00ff00"/><circle cx="209.7" cy="412.82" r="0.8" fill="#00ff00"/><circle cx="216.74" cy="413.4" r="0.8" fill="#00ff00"/><circle cx="223.78" cy="413.68" r="0.8" fill="#00ff00"/><circle cx="230.82" cy="413.96" r="0.8" fill="#00ff00"/><circle cx="237.86" cy="414.24" r="0.8" fill="#00ff00"/><circle cx="244.9" cy="414.49" r="0.8" fill="#00ff00"/><path d="M153.38 376.77 L159.61 404.63 L167 411.39 L174.37 417.59 L181.14 419.43 L187.82 420.03 L199.02 420.22 L244.09 420.22" fill="none" stroke="#806860" stroke-width="0.7" stroke-opacity="0.85"/><path d="M153.38 377.25 L159.61 405.25 L167 412.65 L174.37 420.65 L181.14 421.89 L187.82 422.51 L199.02 422.96 L244.09 423.32" fill="none" stroke="#e8745e" stroke-width="0.7" stroke-opacity="0.85"/><path d="M153.38 379.16 L159.61 403.41 L167 411.39 L174.37 417.59 L181.14 421.41 L187.82 423.32 L195.21 425.71 L202.29 427.57 L209.66 428.81 L216.43 430.01 L223.11 430.65 L230.5 432.49 L237.34 433.11 L244.09 433.73" fill="none" stroke="#ffff00" stroke-width="0.6" stroke-opacity="0.8"/><circle cx="153.38" cy="379.16" r="0.8" fill="#ffff00"/><circle cx="160.42" cy="404.29" r="0.8" fill="#ffff00"/><circle cx="167.46" cy="411.78" r="0.8" fill="#ffff00"/><circle cx="174.5" cy="417.67" r="0.8" fill="#ffff00"/><circle cx="181.54" cy="421.53" r="0.8" fill="#ffff00"/><circle cx="188.58" cy="423.57" r="0.8" fill="#ffff00"/><circle cx="195.62" cy="425.82" r="0.8" fill="#ffff00"/><circle cx="202.66" cy="427.63" r="0.8" fill="#ffff00"/><circle cx="209.7" cy="428.82" r="0.8" fill="#ffff00"/><circle cx="216.74" cy="430.04" r="0.8" fill="#ffff00"/><circle cx="223.78" cy="430.82" r="0.8" fill="#ffff00"/><circle cx="230.82" cy="432.52" r="0.8" fill="#ffff00"/><circle cx="237.86" cy="433.16" r="0.8" fill="#ffff00"/><circle cx="244.9" cy="433.73" r="0.8" fill="#ffff00"/><path d="M153.38 377.97 L159.61 400.33 L167 404.03 L174.37 405.25 L181.14 408.95 L187.82 415.99 L195.21 424.04 L197.97 426.95 L202.29 429.41 L209.66 430.39 L216.43 430.65 L223.11 431.27 L244.09 431.27" fill="none" stroke="#ff00ff" stroke-width="0.6" stroke-opacity="0.8"/><circle cx="153.38" cy="377.97" r="0.8" fill="#ff00ff"/><circle cx="160.42" cy="400.74" r="0.8" fill="#ff00ff"/><circle cx="167.46" cy="404.11" r="0.8" fill="#ff00ff"/><circle cx="174.5" cy="405.33" r="0.8" fill="#ff00ff"/><circle cx="181.54" cy="409.38" r="0.8" fill="#ff00ff"/><circle cx="188.58" cy="416.83" r="0.8" fill="#ff00ff"/><circle cx="195.62" cy="424.47" r="0.8" fill="#ff00ff"/><circle cx="202.66" cy="429.46" r="0.8" fill="#ff00ff"/><circle cx="209.7" cy="430.39" r="0.8" fill="#ff00ff"/><circle cx="216.74" cy="430.68" r="0.8" fill="#ff00ff"/><circle cx="223.78" cy="431.27" r="0.8" fill="#ff00ff"/><circle cx="230.82" cy="431.27" r="0.8" fill="#ff00ff"/><circle cx="237.86" cy="431.27" r="0.8" fill="#ff00ff"/><circle cx="244.9" cy="431.27" r="0.8" fill="#ff00ff"/><path d="M153.38 373.84 L159.61 376.92 L167 386.08 L174.37 400.33 L177.44 408 L181.14 425.23 L184.83 433.83 L187.82 436.33 L195.21 436.93 L244.09 437.41" fill="none" stroke="#ff00ff" stroke-width="0.6" stroke-opacity="0.8"/><circle cx="153.38" cy="373.84" r="0.8" fill="#ff00ff"/><circle cx="160.42" cy="377.93" r="0.8" fill="#ff00ff"/><circle cx="167.46" cy="386.98" r="0.8" fill="#ff00ff"/><circle cx="174.5" cy="400.67" r="0.8" fill="#ff00ff"/><circle cx="181.54" cy="426.17" r="0.8" fill="#ff00ff"/><circle cx="188.58" cy="436.39" r="0.8" fill="#ff00ff"/><circle cx="195.62" cy="436.93" r="0.8" fill="#ff00ff"/><circle cx="202.66" cy="437" r="0.8" fill="#ff00ff"/><circle cx="209.7" cy="437.07" r="0.8" fill="#ff00ff"/><circle cx="216.74" cy="437.14" r="0.8" fill="#ff00ff"/><circle cx="223.78" cy="437.21" r="0.8" fill="#ff00ff"/><circle cx="230.82" cy="437.28" r="0.8" fill="#ff00ff"/><circle cx="237.86" cy="437.35" r="0.8" fill="#ff00ff"/><circle cx="244.9" cy="437.41" r="0.8" fill="#ff00ff"/><path d="M153.38 379.4 L159.61 411.39 L167 424.64 L174.37 430.17 L181.14 432.39 L187.82 433.59 L195.21 434.06 L202.29 434.3 L216.43 434.95 L244.09 435.83" fill="none" stroke="#0000ff" stroke-width="0.6" stroke-opacity="0.8"/><circle cx="153.38" cy="379.4" r="0.8" fill="#0000ff"/><circle cx="160.42" cy="412.85" r="0.8" fill="#0000ff"/><circle cx="167.46" cy="424.98" r="0.8" fill="#0000ff"/><circle cx="174.5" cy="430.22" r="0.8" fill="#0000ff"/><circle cx="181.54" cy="432.47" r="0.8" fill="#0000ff"/><circle cx="188.58" cy="433.64" r="0.8" fill="#0000ff"/><circle cx="195.62" cy="434.08" r="0.8" fill="#0000ff"/><circle cx="202.66" cy="434.32" r="0.8" fill="#0000ff"/><circle cx="209.7" cy="434.64" r="0.8" fill="#0000ff"/><circle cx="216.74" cy="434.96" r="0.8" fill="#0000ff"/><circle cx="223.78" cy="435.18" r="0.8" fill="#0000ff"/><circle cx="230.82" cy="435.41" r="0.8" fill="#0000ff"/><circle cx="237.86" cy="435.63" r="0.8" fill="#0000ff"/><circle cx="244.9" cy="435.83" r="0.8" fill="#0000ff"/><path d="M153.38 379.16 L157.77 408 L160.23 428.34 L167 432.63 L174.37 436.93 L181.14 438.17 L199.02 438.55 L244.09 438.6" fill="none" stroke="#0000ff" stroke-width="0.6" stroke-opacity="0.8"/><path d="M153.38 376.92 L159.61 436.69 L167 439.41 L174.37 439.79 L244.09 439.89" fill="none" stroke="#ff0000" stroke-width="0.6" stroke-opacity="0.8"/><circle cx="153.38" cy="376.92" r="0.8" fill="#ff0000"/><circle cx="160.42" cy="436.99" r="0.8" fill="#ff0000"/><circle cx="167.46" cy="439.44" r="0.8" fill="#ff0000"/><circle cx="174.5" cy="439.79" r="0.8" fill="#ff0000"/><circle cx="181.54" cy="439.8" r="0.8" fill="#ff0000"/><circle cx="188.58" cy="439.81" r="0.8" fill="#ff0000"/><circle cx="195.62" cy="439.82" r="0.8" fill="#ff0000"/><circle cx="202.66" cy="439.83" r="0.8" fill="#ff0000"/><circle cx="209.7" cy="439.84" r="0.8" fill="#ff0000"/><circle cx="216.74" cy="439.85" r="0.8" fill="#ff0000"/><circle cx="223.78" cy="439.86" r="0.8" fill="#ff0000"/><circle cx="230.82" cy="439.87" r="0.8" fill="#ff0000"/><circle cx="237.86" cy="439.88" r="0.8" fill="#ff0000"/><circle cx="244.9" cy="439.89" r="0.8" fill="#ff0000"/><path d="M153.38 377.97 L157.77 407.81 L160.23 422.77 L167 438.79 L174.37 443.11 L181.14 444.33 L199.02 444.71 L244.09 444.81" fill="none" stroke="#ffff00" stroke-width="0.6" stroke-opacity="0.8"/></g><rect x="153.5" y="371.7" width="92" height="73" fill="none" stroke="#666" stroke-width="0.35"/><path d="M162.7 444.7v-0.9M162.7 371.7v0.9M171.9 444.7v-0.9M171.9 371.7v0.9M181.1 444.7v-0.9M181.1 371.7v0.9M190.3 444.7v-0.9M190.3 371.7v0.9M199.5 444.7v-0.9M199.5 371.7v0.9M208.7 444.7v-0.9M208.7 371.7v0.9M217.9 444.7v-0.9M217.9 371.7v0.9M227.1 444.7v-0.9M227.1 371.7v0.9M236.3 444.7v-0.9M236.3 371.7v0.9M245.5 444.7v-0.9M245.5 371.7v0.9M153.5 381.8h0.9M245.5 381.8h-0.9M153.5 392.7h0.9M245.5 392.7h-0.9M153.5 404.1h0.9M245.5 404.1h-0.9M153.5 415.3h0.9M245.5 415.3h-0.9M153.5 427.3h0.9M245.5 427.3h-0.9M153.5 439h0.9M245.5 439h-0.9" stroke="#555" stroke-width="0.3" fill="none"/><g fill="#111"><text transform="translate(162.7 449.1) scale(0.1)" font-size="25" text-anchor="middle" fill="#222" stroke="#222" stroke-width="2">50</text><text transform="translate(171.9 449.1) scale(0.1)" font-size="25" text-anchor="middle" fill="#222" stroke="#222" stroke-width="2">100</text><text transform="translate(181.1 449.1) scale(0.1)" font-size="25" text-anchor="middle" fill="#222" stroke="#222" stroke-width="2">150</text><text transform="translate(190.3 449.1) scale(0.1)" font-size="25" text-anchor="middle" fill="#222" stroke="#222" stroke-width="2">200</text><text transform="translate(199.5 449.1) scale(0.1)" font-size="25" text-anchor="middle" fill="#222" stroke="#222" stroke-width="2">250</text><text transform="translate(208.7 449.1) scale(0.1)" font-size="25" text-anchor="middle" fill="#222" stroke="#222" stroke-width="2">300</text><text transform="translate(217.9 449.1) scale(0.1)" font-size="25" text-anchor="middle" fill="#222" stroke="#222" stroke-width="2">350</text><text transform="translate(227.1 449.1) scale(0.1)" font-size="25" text-anchor="middle" fill="#222" stroke="#222" stroke-width="2">400</text><text transform="translate(236.3 449.1) scale(0.1)" font-size="25" text-anchor="middle" fill="#222" stroke="#222" stroke-width="2">450</text><text transform="translate(245.5 449.1) scale(0.1)" font-size="25" text-anchor="middle" fill="#222" stroke="#222" stroke-width="2">500</text></g><g fill="#111"><text transform="translate(152.3 382.75) scale(0.1)" font-size="25" text-anchor="end" fill="#222" stroke="#222" stroke-width="2">10<tspan font-size="17.5" dy="-11.25">5</tspan></text><text transform="translate(152.3 393.65) scale(0.1)" font-size="25" text-anchor="end" fill="#222" stroke="#222" stroke-width="2">10<tspan font-size="17.5" dy="-11.25">4</tspan></text><text transform="translate(152.3 405.05) scale(0.1)" font-size="25" text-anchor="end" fill="#222" stroke="#222" stroke-width="2">10<tspan font-size="17.5" dy="-11.25">3</tspan></text><text transform="translate(152.3 416.25) scale(0.1)" font-size="25" text-anchor="end" fill="#222" stroke="#222" stroke-width="2">10<tspan font-size="17.5" dy="-11.25">2</tspan></text><text transform="translate(152.3 428.25) scale(0.1)" font-size="25" text-anchor="end" fill="#222" stroke="#222" stroke-width="2">10<tspan font-size="17.5" dy="-11.25">1</tspan></text><text transform="translate(152.3 439.95) scale(0.1)" font-size="25" text-anchor="end" fill="#222" stroke="#222" stroke-width="2">10<tspan font-size="17.5" dy="-11.25">0</tspan></text></g><text transform="translate(199.5 452.8) scale(0.1)" font-size="31" text-anchor="middle" fill="#222" stroke="#222" stroke-width="1">Iteration</text><text transform="translate(146.2 408.2) rotate(-90) scale(0.1)" font-size="31" text-anchor="middle" fill="#222" stroke="#222" stroke-width="1.2">Fitness function</text><text transform="translate(199.5 370.25) scale(0.1)" font-size="33" text-anchor="middle" fill="#333" stroke="#333" stroke-width="1">C15</text><g fill="#222"><rect x="221.5" y="374.6" width="22" height="49" fill="#fff" stroke="#666" stroke-width="0.3"/><path d="M222.4 376.5h8.2" stroke="#0000ff" stroke-width="0.5" stroke-opacity="0.6"/><text transform="translate(231.7 377.4) scale(0.1)" font-size="25" fill="#2a2a2a" stroke="#2a2a2a" stroke-width="1">SSA</text><path d="M222.4 379.98h8.2" stroke="#00ff00" stroke-width="0.5" stroke-opacity="0.6"/><circle cx="226.5" cy="379.98" r="0.7" fill="#00ff00"/><text transform="translate(231.7 380.88) scale(0.1)" font-size="25" fill="#2a2a2a" stroke="#2a2a2a" stroke-width="1">GWO</text><path d="M222.4 383.45h8.2" stroke="#806860" stroke-width="0.5" stroke-opacity="0.6"/><text transform="translate(231.7 384.35) scale(0.1)" font-size="25" fill="#2a2a2a" stroke="#2a2a2a" stroke-width="1">WOA</text><path d="M222.4 386.93h8.2" stroke="#ff00ff" stroke-width="0.5" stroke-opacity="0.6"/><circle cx="226.5" cy="386.93" r="0.7" fill="#ff00ff"/><text transform="translate(231.7 387.83) scale(0.1)" font-size="25" fill="#2a2a2a" stroke="#2a2a2a" stroke-width="1">PSO</text><path d="M222.4 390.41h8.2" stroke="#00ffff" stroke-width="0.5" stroke-opacity="0.6"/><circle cx="226.5" cy="390.41" r="0.7" fill="#00ffff"/><text transform="translate(231.7 391.31) scale(0.1)" font-size="25" fill="#2a2a2a" stroke="#2a2a2a" stroke-width="1">ABC</text><path d="M222.4 393.88h8.2" stroke="#000000" stroke-width="0.5" stroke-opacity="0.6"/><circle cx="226.5" cy="393.88" r="0.7" fill="#000000"/><text transform="translate(231.7 394.78) scale(0.1)" font-size="25" fill="#2a2a2a" stroke="#2a2a2a" stroke-width="1">FA</text><path d="M222.4 397.36h8.2" stroke="#ffff00" stroke-width="0.5" stroke-opacity="0.6"/><text transform="translate(231.7 398.26) scale(0.1)" font-size="25" fill="#2a2a2a" stroke="#2a2a2a" stroke-width="1">CMGWOA</text><path d="M222.4 400.84h8.2" stroke="#0000ff" stroke-width="0.5" stroke-opacity="0.6"/><circle cx="226.5" cy="400.84" r="0.7" fill="#0000ff"/><text transform="translate(231.7 401.74) scale(0.1)" font-size="25" fill="#2a2a2a" stroke="#2a2a2a" stroke-width="1">LSSA</text><path d="M222.4 404.32h8.2" stroke="#00ff00" stroke-width="0.5" stroke-opacity="0.6"/><circle cx="226.5" cy="404.32" r="0.7" fill="#00ff00"/><text transform="translate(231.7 405.22) scale(0.1)" font-size="25" fill="#2a2a2a" stroke="#2a2a2a" stroke-width="1">AGWO</text><path d="M222.4 407.79h8.2" stroke="#e8745e" stroke-width="0.5" stroke-opacity="0.6"/><text transform="translate(231.7 408.69) scale(0.1)" font-size="25" fill="#2a2a2a" stroke="#2a2a2a" stroke-width="1">DWOA</text><path d="M222.4 411.27h8.2" stroke="#ff00ff" stroke-width="0.5" stroke-opacity="0.6"/><circle cx="226.5" cy="411.27" r="0.7" fill="#ff00ff"/><text transform="translate(231.7 412.17) scale(0.1)" font-size="25" fill="#2a2a2a" stroke="#2a2a2a" stroke-width="1">OPPSO</text><path d="M222.4 414.75h8.2" stroke="#ffff00" stroke-width="0.5" stroke-opacity="0.6"/><circle cx="226.5" cy="414.75" r="0.7" fill="#ffff00"/><text transform="translate(231.7 415.65) scale(0.1)" font-size="25" fill="#2a2a2a" stroke="#2a2a2a" stroke-width="1">NSMO</text><path d="M222.4 418.22h8.2" stroke="#00ffff" stroke-width="0.5" stroke-opacity="0.6"/><circle cx="226.5" cy="418.22" r="0.7" fill="#00ffff"/><text transform="translate(231.7 419.12) scale(0.1)" font-size="25" fill="#2a2a2a" stroke="#2a2a2a" stroke-width="1">MSSTA</text><path d="M222.4 421.7h8.2" stroke="#ff0000" stroke-width="0.5" stroke-opacity="0.6"/><circle cx="226.5" cy="421.7" r="0.7" fill="#ff0000"/><text transform="translate(231.7 422.6) scale(0.1)" font-size="25" fill="#2a2a2a" stroke="#2a2a2a" stroke-width="1">WMSSSA</text></g></g>
<g><clipPath id="c24"><rect x="288.5" y="370.5" width="94" height="75.4"/></clipPath><g clip-path="url(#c24)"><path d="M289.38 372.36 L295.68 385.13 L302.83 399.45 L309.75 409.24 L317.14 415.4 L323.82 419.69 L331.21 423.39 L338.29 425.71 L345.66 427.38 L352.43 428.34 L359.11 429.05 L380.09 430.01" fill="none" stroke="#ff00ff" stroke-width="0.6" stroke-opacity="0.8"/><circle cx="289.38" cy="372.36" r="0.8" fill="#ff00ff"/><circle cx="296.42" cy="386.62" r="0.8" fill="#ff00ff"/><circle cx="303.46" cy="400.34" r="0.8" fill="#ff00ff"/><circle cx="310.5" cy="409.87" r="0.8" fill="#ff00ff"/><circle cx="317.54" cy="415.66" r="0.8" fill="#ff00ff"/><circle cx="324.58" cy="420.08" r="0.8" fill="#ff00ff"/><circle cx="331.62" cy="423.53" r="0.8" fill="#ff00ff"/><circle cx="338.66" cy="425.79" r="0.8" fill="#ff00ff"/><circle cx="345.7" cy="427.39" r="0.8" fill="#ff00ff"/><circle cx="352.74" cy="428.37" r="0.8" fill="#ff00ff"/><circle cx="359.78" cy="429.08" r="0.8" fill="#ff00ff"/><circle cx="366.82" cy="429.4" r="0.8" fill="#ff00ff"/><circle cx="373.86" cy="429.72" r="0.8" fill="#ff00ff"/><circle cx="380.9" cy="430.01" r="0.8" fill="#ff00ff"/><path d="M289.38 400.65 L289.48 408 L296.23 420.94 L303 422.77 L310.37 423.39 L317.14 424.04 L323.82 424.64 L335.02 425.23 L380.09 425.47" fill="none" stroke="#e8745e" stroke-width="0.65" stroke-opacity="0.85"/><path d="M289.38 401.84 L296.23 422.61 L303 424.52 L317.14 425.47 L380.09 426.43" fill="none" stroke="#806860" stroke-width="0.65" stroke-opacity="0.85"/><path d="M289.38 418.79 L296.23 424.64 L303 425.85 L310.37 426.47 L317.14 426.71 L323.82 427.09 L331.21 427.33 L345.66 427.62 L380.09 428.34" fill="none" stroke="#000000" stroke-width="0.6" stroke-opacity="0.45"/><circle cx="289.38" cy="418.79" r="0.8" fill="#000000"/><circle cx="296.42" cy="424.67" r="0.8" fill="#000000"/><circle cx="303.46" cy="425.89" r="0.8" fill="#000000"/><circle cx="310.5" cy="426.48" r="0.8" fill="#000000"/><circle cx="317.54" cy="426.74" r="0.8" fill="#000000"/><circle cx="324.58" cy="427.12" r="0.8" fill="#000000"/><circle cx="331.62" cy="427.34" r="0.8" fill="#000000"/><circle cx="338.66" cy="427.48" r="0.8" fill="#000000"/><circle cx="345.7" cy="427.62" r="0.8" fill="#000000"/><circle cx="352.74" cy="427.77" r="0.8" fill="#000000"/><circle cx="359.78" cy="427.91" r="0.8" fill="#000000"/><circle cx="366.82" cy="428.06" r="0.8" fill="#000000"/><circle cx="373.86" cy="428.21" r="0.8" fill="#000000"/><circle cx="380.9" cy="428.34" r="0.8" fill="#000000"/><path d="M289.38 414.49 L296.23 422.85 L303 425.23 L310.37 426.43 L317.14 428.1 L323.82 430.48 L331.21 433.59 L338.29 436.33 L345.66 436.93 L352.43 438.17 L359.11 439.41 L366.5 441.23 L373.34 443.11 L380.09 444.33" fill="none" stroke="#00ffff" stroke-width="0.6" stroke-opacity="0.8"/><circle cx="289.38" cy="414.49" r="0.8" fill="#00ffff"/><circle cx="296.42" cy="422.91" r="0.8" fill="#00ffff"/><circle cx="303.46" cy="425.31" r="0.8" fill="#00ffff"/><circle cx="310.5" cy="426.46" r="0.8" fill="#00ffff"/><circle cx="317.54" cy="428.24" r="0.8" fill="#00ffff"/><circle cx="324.58" cy="430.8" r="0.8" fill="#00ffff"/><circle cx="331.62" cy="433.75" r="0.8" fill="#00ffff"/><circle cx="338.66" cy="436.36" r="0.8" fill="#00ffff"/><circle cx="345.7" cy="436.94" r="0.8" fill="#00ffff"/><circle cx="352.74" cy="438.23" r="0.8" fill="#00ffff"/><circle cx="359.78" cy="439.58" r="0.8" fill="#00ffff"/><circle cx="366.82" cy="441.31" r="0.8" fill="#00ffff"/><circle cx="373.86" cy="443.2" r="0.8" fill="#00ffff"/><circle cx="380.9" cy="444.33" r="0.8" fill="#00ffff"/><path d="M289.38 410.15 L296.23 426.9 L303 428.81 L310.37 430.01 L317.14 430.72 L323.82 432.15 L331.21 433.11 L380.09 434.54" fill="none" stroke="#ff00ff" stroke-width="0.6" stroke-opacity="0.8"/><circle cx="289.38" cy="410.15" r="0.8" fill="#ff00ff"/><circle cx="296.42" cy="426.96" r="0.8" fill="#ff00ff"/><circle cx="303.46" cy="428.89" r="0.8" fill="#ff00ff"/><circle cx="310.5" cy="430.02" r="0.8" fill="#ff00ff"/><circle cx="317.54" cy="430.81" r="0.8" fill="#ff00ff"/><circle cx="324.58" cy="432.25" r="0.8" fill="#ff00ff"/><circle cx="331.62" cy="433.12" r="0.8" fill="#ff00ff"/><circle cx="338.66" cy="433.33" r="0.8" fill="#ff00ff"/><circle cx="345.7" cy="433.53" r="0.8" fill="#ff00ff"/><circle cx="352.74" cy="433.74" r="0.8" fill="#ff00ff"/><circle cx="359.78" cy="433.95" r="0.8" fill="#ff00ff"/><circle cx="366.82" cy="434.15" r="0.8" fill="#ff00ff"/><circle cx="373.86" cy="434.36" r="0.8" fill="#ff00ff"/><circle cx="380.9" cy="434.54" r="0.8" fill="#ff00ff"/><path d="M289.38 407.81 L289.48 412.91 L296.23 426.47 L303 428.34 L310.37 429.55 L317.14 430.79 L323.82 432.01 L331.21 433.25 L345.66 433.83 L380.09 434.3" fill="none" stroke="#0000ff" stroke-width="0.6" stroke-opacity="0.8"/><circle cx="289.38" cy="407.81" r="0.8" fill="#0000ff"/><circle cx="296.42" cy="426.53" r="0.8" fill="#0000ff"/><circle cx="303.46" cy="428.41" r="0.8" fill="#0000ff"/><circle cx="310.5" cy="429.58" r="0.8" fill="#0000ff"/><circle cx="317.54" cy="430.87" r="0.8" fill="#0000ff"/><circle cx="324.58" cy="432.14" r="0.8" fill="#0000ff"/><circle cx="331.62" cy="433.27" r="0.8" fill="#0000ff"/><circle cx="338.66" cy="433.55" r="0.8" fill="#0000ff"/><circle cx="345.7" cy="433.83" r="0.8" fill="#0000ff"/><circle cx="352.74" cy="433.92" r="0.8" fill="#0000ff"/><circle cx="359.78" cy="434.02" r="0.8" fill="#0000ff"/><circle cx="366.82" cy="434.12" r="0.8" fill="#0000ff"/><circle cx="373.86" cy="434.22" r="0.8" fill="#0000ff"/><circle cx="380.9" cy="434.3" r="0.8" fill="#0000ff"/><path d="M289.38 403.61 L296.23 428.34 L303 430.17 L310.37 430.79 L317.14 432.01 L323.82 433.25 L331.21 433.25 L380.09 433.59" fill="none" stroke="#00ff00" stroke-width="0.6" stroke-opacity="0.8"/><circle cx="289.38" cy="403.61" r="0.8" fill="#00ff00"/><circle cx="296.42" cy="428.39" r="0.8" fill="#00ff00"/><circle cx="303.46" cy="430.21" r="0.8" fill="#00ff00"/><circle cx="310.5" cy="430.82" r="0.8" fill="#00ff00"/><circle cx="317.54" cy="432.09" r="0.8" fill="#00ff00"/><circle cx="324.58" cy="433.25" r="0.8" fill="#00ff00"/><circle cx="331.62" cy="433.26" r="0.8" fill="#00ff00"/><circle cx="338.66" cy="433.3" r="0.8" fill="#00ff00"/><circle cx="345.7" cy="433.35" r="0.8" fill="#00ff00"/><circle cx="352.74" cy="433.4" r="0.8" fill="#00ff00"/><circle cx="359.78" cy="433.45" r="0.8" fill="#00ff00"/><circle cx="366.82" cy="433.5" r="0.8" fill="#00ff00"/><circle cx="373.86" cy="433.54" r="0.8" fill="#00ff00"/><circle cx="380.9" cy="433.59" r="0.8" fill="#00ff00"/><path d="M289.38 405.42 L296.23 429.29 L303 430.96 L310.37 431.68 L317.14 432.63 L323.82 433.59 L380.09 434.06" fill="none" stroke="#00ff00" stroke-width="0.6" stroke-opacity="0.8"/><circle cx="289.38" cy="405.42" r="0.8" fill="#00ff00"/><circle cx="296.42" cy="429.34" r="0.8" fill="#00ff00"/><circle cx="303.46" cy="431.01" r="0.8" fill="#00ff00"/><circle cx="310.5" cy="431.7" r="0.8" fill="#00ff00"/><circle cx="317.54" cy="432.69" r="0.8" fill="#00ff00"/><circle cx="324.58" cy="433.59" r="0.8" fill="#00ff00"/><circle cx="331.62" cy="433.65" r="0.8" fill="#00ff00"/><circle cx="338.66" cy="433.71" r="0.8" fill="#00ff00"/><circle cx="345.7" cy="433.77" r="0.8" fill="#00ff00"/><circle cx="352.74" cy="433.83" r="0.8" fill="#00ff00"/><circle cx="359.78" cy="433.89" r="0.8" fill="#00ff00"/><circle cx="366.82" cy="433.95" r="0.8" fill="#00ff00"/><circle cx="373.86" cy="434.01" r="0.8" fill="#00ff00"/><circle cx="380.9" cy="434.06" r="0.8" fill="#00ff00"/><path d="M289.38 406.61 L296.23 428.1 L303 431.2 L317.14 433.35 L380.09 434.78" fill="none" stroke="#0000ff" stroke-width="0.6" stroke-opacity="0.8"/><path d="M289.38 391.24 L296.23 430.48 L303 433.59 L317.14 435.02 L380.09 435.97" fill="none" stroke="#ffff00" stroke-width="0.6" stroke-opacity="0.8"/><path d="M289.38 412.58 L296.23 430.48 L303 432.39 L310.37 433.59 L317.14 434.3 L323.82 435.5 L331.21 436.45 L352.43 438.84 L366.5 440.75 L380.09 442.66" fill="none" stroke="#00ffff" stroke-width="0.6" stroke-opacity="0.8"/><circle cx="289.38" cy="412.58" r="0.8" fill="#00ffff"/><circle cx="296.42" cy="430.54" r="0.8" fill="#00ffff"/><circle cx="303.46" cy="432.47" r="0.8" fill="#00ffff"/><circle cx="310.5" cy="433.6" r="0.8" fill="#00ffff"/><circle cx="317.54" cy="434.38" r="0.8" fill="#00ffff"/><circle cx="324.58" cy="435.6" r="0.8" fill="#00ffff"/><circle cx="331.62" cy="436.5" r="0.8" fill="#00ffff"/><circle cx="338.66" cy="437.29" r="0.8" fill="#00ffff"/><circle cx="345.7" cy="438.08" r="0.8" fill="#00ffff"/><circle cx="352.74" cy="438.88" r="0.8" fill="#00ffff"/><circle cx="359.78" cy="439.84" r="0.8" fill="#00ffff"/><circle cx="366.82" cy="440.79" r="0.8" fill="#00ffff"/><circle cx="373.86" cy="441.78" r="0.8" fill="#00ffff"/><circle cx="380.9" cy="442.66" r="0.8" fill="#00ffff"/><path d="M289.38 398.26 L289.48 416.61 L296.23 434.47 L303 435.71 L310.37 436.07 L380.09 436.21" fill="none" stroke="#ffff00" stroke-width="0.6" stroke-opacity="0.8"/><circle cx="289.38" cy="398.26" r="0.8" fill="#ffff00"/><circle cx="296.42" cy="434.51" r="0.8" fill="#ffff00"/><circle cx="303.46" cy="435.73" r="0.8" fill="#ffff00"/><circle cx="310.5" cy="436.07" r="0.8" fill="#ffff00"/><circle cx="317.54" cy="436.08" r="0.8" fill="#ffff00"/><circle cx="324.58" cy="436.1" r="0.8" fill="#ffff00"/><circle cx="331.62" cy="436.11" r="0.8" fill="#ffff00"/><circle cx="338.66" cy="436.13" r="0.8" fill="#ffff00"/><circle cx="345.7" cy="436.14" r="0.8" fill="#ffff00"/><circle cx="352.74" cy="436.16" r="0.8" fill="#ffff00"/><circle cx="359.78" cy="436.17" r="0.8" fill="#ffff00"/><circle cx="366.82" cy="436.19" r="0.8" fill="#ffff00"/><circle cx="373.86" cy="436.2" r="0.8" fill="#ffff00"/><circle cx="380.9" cy="436.21" r="0.8" fill="#ffff00"/><path d="M289.38 407.23 L289.48 409.84 L296.23 429.53 L303 432.63 L310.37 433.83 L317.14 435.09 L323.82 436.33 L331.21 436.93 L338.29 437.55 L345.66 438.17 L352.43 439.41 L359.11 439.41 L366.5 439.79 L373.34 440.27 L380.09 440.63" fill="none" stroke="#ff0000" stroke-width="0.6" stroke-opacity="0.8"/><circle cx="289.38" cy="407.23" r="0.8" fill="#ff0000"/><circle cx="296.42" cy="429.62" r="0.8" fill="#ff0000"/><circle cx="303.46" cy="432.71" r="0.8" fill="#ff0000"/><circle cx="310.5" cy="433.85" r="0.8" fill="#ff0000"/><circle cx="317.54" cy="435.17" r="0.8" fill="#ff0000"/><circle cx="324.58" cy="436.39" r="0.8" fill="#ff0000"/><circle cx="331.62" cy="436.97" r="0.8" fill="#ff0000"/><circle cx="338.66" cy="437.58" r="0.8" fill="#ff0000"/><circle cx="345.7" cy="438.18" r="0.8" fill="#ff0000"/><circle cx="352.74" cy="439.41" r="0.8" fill="#ff0000"/><circle cx="359.78" cy="439.45" r="0.8" fill="#ff0000"/><circle cx="366.82" cy="439.82" r="0.8" fill="#ff0000"/><circle cx="373.86" cy="440.3" r="0.8" fill="#ff0000"/><circle cx="380.9" cy="440.63" r="0.8" fill="#ff0000"/></g><rect x="289.5" y="371.7" width="92" height="73" fill="none" stroke="#666" stroke-width="0.35"/><path d="M298.7 444.7v-0.9M298.7 371.7v0.9M307.9 444.7v-0.9M307.9 371.7v0.9M317.1 444.7v-0.9M317.1 371.7v0.9M326.3 444.7v-0.9M326.3 371.7v0.9M335.5 444.7v-0.9M335.5 371.7v0.9M344.7 444.7v-0.9M344.7 371.7v0.9M353.9 444.7v-0.9M353.9 371.7v0.9M363.1 444.7v-0.9M363.1 371.7v0.9M372.3 444.7v-0.9M372.3 371.7v0.9M381.5 444.7v-0.9M381.5 371.7v0.9M289.5 398.5h0.9M381.5 398.5h-0.9" stroke="#555" stroke-width="0.3" fill="none"/><g fill="#111"><text transform="translate(298.7 449.1) scale(0.1)" font-size="25" text-anchor="middle" fill="#222" stroke="#222" stroke-width="2">50</text><text transform="translate(307.9 449.1) scale(0.1)" font-size="25" text-anchor="middle" fill="#222" stroke="#222" stroke-width="2">100</text><text transform="translate(317.1 449.1) scale(0.1)" font-size="25" text-anchor="middle" fill="#222" stroke="#222" stroke-width="2">150</text><text transform="translate(326.3 449.1) scale(0.1)" font-size="25" text-anchor="middle" fill="#222" stroke="#222" stroke-width="2">200</text><text transform="translate(335.5 449.1) scale(0.1)" font-size="25" text-anchor="middle" fill="#222" stroke="#222" stroke-width="2">250</text><text transform="translate(344.7 449.1) scale(0.1)" font-size="25" text-anchor="middle" fill="#222" stroke="#222" stroke-width="2">300</text><text transform="translate(353.9 449.1) scale(0.1)" font-size="25" text-anchor="middle" fill="#222" stroke="#222" stroke-width="2">350</text><text transform="translate(363.1 449.1) scale(0.1)" font-size="25" text-anchor="middle" fill="#222" stroke="#222" stroke-width="2">400</text><text transform="translate(372.3 449.1) scale(0.1)" font-size="25" text-anchor="middle" fill="#222" stroke="#222" stroke-width="2">450</text><text transform="translate(381.5 449.1) scale(0.1)" font-size="25" text-anchor="middle" fill="#222" stroke="#222" stroke-width="2">500</text></g><g fill="#111"><text transform="translate(288.3 399.45) scale(0.1)" font-size="25" text-anchor="end" fill="#222" stroke="#222" stroke-width="2">10<tspan font-size="17.5" dy="-11.25">1</tspan></text></g><text transform="translate(335.5 452.8) scale(0.1)" font-size="31" text-anchor="middle" fill="#222" stroke="#222" stroke-width="1">Iteration</text><text transform="translate(282 408.2) rotate(-90) scale(0.1)" font-size="31" text-anchor="middle" fill="#222" stroke="#222" stroke-width="1.2">Fitness function</text><text transform="translate(335.5 370.25) scale(0.1)" font-size="33" text-anchor="middle" fill="#333" stroke="#333" stroke-width="1">C16</text><g fill="#222"><rect x="357.5" y="374.6" width="22" height="49" fill="#fff" stroke="#666" stroke-width="0.3"/><path d="M358.4 376.5h8.2" stroke="#0000ff" stroke-width="0.5" stroke-opacity="0.6"/><text transform="translate(367.7 377.4) scale(0.1)" font-size="25" fill="#2a2a2a" stroke="#2a2a2a" stroke-width="1">SSA</text><path d="M358.4 379.98h8.2" stroke="#00ff00" stroke-width="0.5" stroke-opacity="0.6"/><circle cx="362.5" cy="379.98" r="0.7" fill="#00ff00"/><text transform="translate(367.7 380.88) scale(0.1)" font-size="25" fill="#2a2a2a" stroke="#2a2a2a" stroke-width="1">GWO</text><path d="M358.4 383.45h8.2" stroke="#806860" stroke-width="0.5" stroke-opacity="0.6"/><text transform="translate(367.7 384.35) scale(0.1)" font-size="25" fill="#2a2a2a" stroke="#2a2a2a" stroke-width="1">WOA</text><path d="M358.4 386.93h8.2" stroke="#ff00ff" stroke-width="0.5" stroke-opacity="0.6"/><circle cx="362.5" cy="386.93" r="0.7" fill="#ff00ff"/><text transform="translate(367.7 387.83) scale(0.1)" font-size="25" fill="#2a2a2a" stroke="#2a2a2a" stroke-width="1">PSO</text><path d="M358.4 390.41h8.2" stroke="#00ffff" stroke-width="0.5" stroke-opacity="0.6"/><circle cx="362.5" cy="390.41" r="0.7" fill="#00ffff"/><text transform="translate(367.7 391.31) scale(0.1)" font-size="25" fill="#2a2a2a" stroke="#2a2a2a" stroke-width="1">ABC</text><path d="M358.4 393.88h8.2" stroke="#000000" stroke-width="0.5" stroke-opacity="0.6"/><circle cx="362.5" cy="393.88" r="0.7" fill="#000000"/><text transform="translate(367.7 394.78) scale(0.1)" font-size="25" fill="#2a2a2a" stroke="#2a2a2a" stroke-width="1">FA</text><path d="M358.4 397.36h8.2" stroke="#ffff00" stroke-width="0.5" stroke-opacity="0.6"/><text transform="translate(367.7 398.26) scale(0.1)" font-size="25" fill="#2a2a2a" stroke="#2a2a2a" stroke-width="1">CMGWOA</text><path d="M358.4 400.84h8.2" stroke="#0000ff" stroke-width="0.5" stroke-opacity="0.6"/><circle cx="362.5" cy="400.84" r="0.7" fill="#0000ff"/><text transform="translate(367.7 401.74) scale(0.1)" font-size="25" fill="#2a2a2a" stroke="#2a2a2a" stroke-width="1">LSSA</text><path d="M358.4 404.32h8.2" stroke="#00ff00" stroke-width="0.5" stroke-opacity="0.6"/><circle cx="362.5" cy="404.32" r="0.7" fill="#00ff00"/><text transform="translate(367.7 405.22) scale(0.1)" font-size="25" fill="#2a2a2a" stroke="#2a2a2a" stroke-width="1">AGWO</text><path d="M358.4 407.79h8.2" stroke="#e8745e" stroke-width="0.5" stroke-opacity="0.6"/><text transform="translate(367.7 408.69) scale(0.1)" font-size="25" fill="#2a2a2a" stroke="#2a2a2a" stroke-width="1">DWOA</text><path d="M358.4 411.27h8.2" stroke="#ff00ff" stroke-width="0.5" stroke-opacity="0.6"/><circle cx="362.5" cy="411.27" r="0.7" fill="#ff00ff"/><text transform="translate(367.7 412.17) scale(0.1)" font-size="25" fill="#2a2a2a" stroke="#2a2a2a" stroke-width="1">OPPSO</text><path d="M358.4 414.75h8.2" stroke="#ffff00" stroke-width="0.5" stroke-opacity="0.6"/><circle cx="362.5" cy="414.75" r="0.7" fill="#ffff00"/><text transform="translate(367.7 415.65) scale(0.1)" font-size="25" fill="#2a2a2a" stroke="#2a2a2a" stroke-width="1">NSMO</text><path d="M358.4 418.22h8.2" stroke="#00ffff" stroke-width="0.5" stroke-opacity="0.6"/><circle cx="362.5" cy="418.22" r="0.7" fill="#00ffff"/><text transform="translate(367.7 419.12) scale(0.1)" font-size="25" fill="#2a2a2a" stroke="#2a2a2a" stroke-width="1">MSSTA</text><path d="M358.4 421.7h8.2" stroke="#ff0000" stroke-width="0.5" stroke-opacity="0.6"/><circle cx="362.5" cy="421.7" r="0.7" fill="#ff0000"/><text transform="translate(367.7 422.6) scale(0.1)" font-size="25" fill="#2a2a2a" stroke="#2a2a2a" stroke-width="1">WMSSSA</text></g></g>
<g><clipPath id="c05"><rect x="16.5" y="461" width="94" height="75.4"/></clipPath><g clip-path="url(#c05)"><path d="M17.38 462.36 L24.63 487.06 L27.3 498 L31 515.23 L38.37 523.83 L45.14 527.31 L51.82 527.79 L59.21 528.17 L109.76 528.41" fill="none" stroke="#ff00ff" stroke-width="0.6" stroke-opacity="0.8"/><circle cx="17.38" cy="462.36" r="0.8" fill="#ff00ff"/><circle cx="24.42" cy="486.35" r="0.8" fill="#ff00ff"/><circle cx="31.46" cy="515.77" r="0.8" fill="#ff00ff"/><circle cx="38.5" cy="523.89" r="0.8" fill="#ff00ff"/><circle cx="45.54" cy="527.34" r="0.8" fill="#ff00ff"/><circle cx="52.58" cy="527.83" r="0.8" fill="#ff00ff"/><circle cx="59.62" cy="528.17" r="0.8" fill="#ff00ff"/><circle cx="66.66" cy="528.21" r="0.8" fill="#ff00ff"/><circle cx="73.7" cy="528.24" r="0.8" fill="#ff00ff"/><circle cx="80.74" cy="528.27" r="0.8" fill="#ff00ff"/><circle cx="87.78" cy="528.31" r="0.8" fill="#ff00ff"/><circle cx="94.82" cy="528.34" r="0.8" fill="#ff00ff"/><circle cx="101.86" cy="528.37" r="0.8" fill="#ff00ff"/><circle cx="108.9" cy="528.4" r="0.8" fill="#ff00ff"/><path d="M17.38 462.36 L21.77 498 L24.23 528.79 L31 530.03 L109.76 531.23" fill="none" stroke="#ffff00" stroke-width="0.6" stroke-opacity="0.8"/><path d="M17.38 503.06 L24.23 527.55 L31 529.55 L45.85 530.75 L109.76 531.46" fill="none" stroke="#00ff00" stroke-width="0.6" stroke-opacity="0.8"/><circle cx="17.38" cy="503.06" r="0.8" fill="#00ff00"/><circle cx="24.42" cy="527.61" r="0.8" fill="#00ff00"/><circle cx="31.46" cy="529.59" r="0.8" fill="#00ff00"/><circle cx="38.5" cy="530.16" r="0.8" fill="#00ff00"/><circle cx="45.54" cy="530.72" r="0.8" fill="#00ff00"/><circle cx="52.58" cy="530.82" r="0.8" fill="#00ff00"/><circle cx="59.62" cy="530.9" r="0.8" fill="#00ff00"/><circle cx="66.66" cy="530.98" r="0.8" fill="#00ff00"/><circle cx="73.7" cy="531.06" r="0.8" fill="#00ff00"/><circle cx="80.74" cy="531.14" r="0.8" fill="#00ff00"/><circle cx="87.78" cy="531.22" r="0.8" fill="#00ff00"/><circle cx="94.82" cy="531.3" r="0.8" fill="#00ff00"/><circle cx="101.86" cy="531.38" r="0.8" fill="#00ff00"/><circle cx="108.9" cy="531.45" r="0.8" fill="#00ff00"/><path d="M17.38 505.92 L24.23 528.36 L31 530.03 L45.85 530.99 L109.76 531.7" fill="none" stroke="#00ff00" stroke-width="0.6" stroke-opacity="0.8"/><circle cx="17.38" cy="505.92" r="0.8" fill="#00ff00"/><circle cx="24.42" cy="528.41" r="0.8" fill="#00ff00"/><circle cx="31.46" cy="530.06" r="0.8" fill="#00ff00"/><circle cx="38.5" cy="530.51" r="0.8" fill="#00ff00"/><circle cx="45.54" cy="530.97" r="0.8" fill="#00ff00"/><circle cx="52.58" cy="531.06" r="0.8" fill="#00ff00"/><circle cx="59.62" cy="531.14" r="0.8" fill="#00ff00"/><circle cx="66.66" cy="531.22" r="0.8" fill="#00ff00"/><circle cx="73.7" cy="531.3" r="0.8" fill="#00ff00"/><circle cx="80.74" cy="531.38" r="0.8" fill="#00ff00"/><circle cx="87.78" cy="531.46" r="0.8" fill="#00ff00"/><circle cx="94.82" cy="531.54" r="0.8" fill="#00ff00"/><circle cx="101.86" cy="531.61" r="0.8" fill="#00ff00"/><circle cx="108.9" cy="531.69" r="0.8" fill="#00ff00"/><path d="M17.38 509.74 L24.23 527.55 L31 528.79 L38.37 529.32 L63.02 529.41 L109.76 529.41" fill="none" stroke="#e8745e" stroke-width="0.65" stroke-opacity="0.85"/><path d="M17.38 510.94 L24.23 527.88 L31 529.08 L63.02 529.79 L109.76 529.79" fill="none" stroke="#806860" stroke-width="0.65" stroke-opacity="0.85"/><path d="M17.38 525.74 L24.23 529.41 L31 530.27 L38.37 530.39 L109.76 530.27" fill="none" stroke="#000000" stroke-width="0.6" stroke-opacity="0.45"/><circle cx="17.38" cy="525.74" r="0.8" fill="#000000"/><circle cx="24.42" cy="529.44" r="0.8" fill="#000000"/><circle cx="31.46" cy="530.28" r="0.8" fill="#000000"/><circle cx="38.5" cy="530.39" r="0.8" fill="#000000"/><circle cx="45.54" cy="530.38" r="0.8" fill="#000000"/><circle cx="52.58" cy="530.37" r="0.8" fill="#000000"/><circle cx="59.62" cy="530.35" r="0.8" fill="#000000"/><circle cx="66.66" cy="530.34" r="0.8" fill="#000000"/><circle cx="73.7" cy="530.33" r="0.8" fill="#000000"/><circle cx="80.74" cy="530.32" r="0.8" fill="#000000"/><circle cx="87.78" cy="530.31" r="0.8" fill="#000000"/><circle cx="94.82" cy="530.3" r="0.8" fill="#000000"/><circle cx="101.86" cy="530.28" r="0.8" fill="#000000"/><circle cx="108.9" cy="530.27" r="0.8" fill="#000000"/><path d="M17.38 519.05 L24.23 527.55 L31 528.79 L38.37 530.03 L45.14 530.63 L51.82 531.23 L59.21 531.7 L109.76 532.11" fill="none" stroke="#00ffff" stroke-width="0.6" stroke-opacity="0.8"/><circle cx="17.38" cy="519.05" r="0.8" fill="#00ffff"/><circle cx="24.42" cy="527.59" r="0.8" fill="#00ffff"/><circle cx="31.46" cy="528.87" r="0.8" fill="#00ffff"/><circle cx="38.5" cy="530.04" r="0.8" fill="#00ffff"/><circle cx="45.54" cy="530.66" r="0.8" fill="#00ffff"/><circle cx="52.58" cy="531.28" r="0.8" fill="#00ffff"/><circle cx="59.62" cy="531.71" r="0.8" fill="#00ffff"/><circle cx="66.66" cy="531.76" r="0.8" fill="#00ffff"/><circle cx="73.7" cy="531.82" r="0.8" fill="#00ffff"/><circle cx="80.74" cy="531.88" r="0.8" fill="#00ffff"/><circle cx="87.78" cy="531.93" r="0.8" fill="#00ffff"/><circle cx="94.82" cy="531.99" r="0.8" fill="#00ffff"/><circle cx="101.86" cy="532.05" r="0.8" fill="#00ffff"/><circle cx="108.9" cy="532.1" r="0.8" fill="#00ffff"/><path d="M17.38 518.1 L24.23 528.12 L31 529.55 L45.14 530.51 L109.76 531.13" fill="none" stroke="#00ffff" stroke-width="0.6" stroke-opacity="0.8"/><circle cx="17.38" cy="518.1" r="0.8" fill="#00ffff"/><circle cx="24.42" cy="528.16" r="0.8" fill="#00ffff"/><circle cx="31.46" cy="529.59" r="0.8" fill="#00ffff"/><circle cx="38.5" cy="530.06" r="0.8" fill="#00ffff"/><circle cx="45.54" cy="530.51" r="0.8" fill="#00ffff"/><circle cx="52.58" cy="530.58" r="0.8" fill="#00ffff"/><circle cx="59.62" cy="530.65" r="0.8" fill="#00ffff"/><circle cx="66.66" cy="530.72" r="0.8" fill="#00ffff"/><circle cx="73.7" cy="530.78" r="0.8" fill="#00ffff"/><circle cx="80.74" cy="530.85" r="0.8" fill="#00ffff"/><circle cx="87.78" cy="530.92" r="0.8" fill="#00ffff"/><circle cx="94.82" cy="530.99" r="0.8" fill="#00ffff"/><circle cx="101.86" cy="531.05" r="0.8" fill="#00ffff"/><circle cx="108.9" cy="531.12" r="0.8" fill="#00ffff"/><path d="M17.38 513.23 L24.23 529.08 L31 530.27 L45.85 531.7 L109.76 532.73" fill="none" stroke="#0000ff" stroke-width="0.6" stroke-opacity="0.8"/><path d="M17.38 513.23 L24.23 529.32 L31 530.51 L45.85 531.94 L109.76 532.73" fill="none" stroke="#0000ff" stroke-width="0.6" stroke-opacity="0.8"/><circle cx="17.38" cy="513.23" r="0.8" fill="#0000ff"/><circle cx="24.42" cy="529.35" r="0.8" fill="#0000ff"/><circle cx="31.46" cy="530.55" r="0.8" fill="#0000ff"/><circle cx="38.5" cy="531.23" r="0.8" fill="#0000ff"/><circle cx="45.54" cy="531.91" r="0.8" fill="#0000ff"/><circle cx="52.58" cy="532.02" r="0.8" fill="#0000ff"/><circle cx="59.62" cy="532.11" r="0.8" fill="#0000ff"/><circle cx="66.66" cy="532.2" r="0.8" fill="#0000ff"/><circle cx="73.7" cy="532.29" r="0.8" fill="#0000ff"/><circle cx="80.74" cy="532.37" r="0.8" fill="#0000ff"/><circle cx="87.78" cy="532.46" r="0.8" fill="#0000ff"/><circle cx="94.82" cy="532.55" r="0.8" fill="#0000ff"/><circle cx="101.86" cy="532.63" r="0.8" fill="#0000ff"/><circle cx="108.9" cy="532.72" r="0.8" fill="#0000ff"/><path d="M17.38 515.47 L24.23 528.6 L31 529.79 L45.85 530.75 L109.76 531.23" fill="none" stroke="#ff00ff" stroke-width="0.6" stroke-opacity="0.8"/><circle cx="17.38" cy="515.47" r="0.8" fill="#ff00ff"/><circle cx="24.42" cy="528.63" r="0.8" fill="#ff00ff"/><circle cx="31.46" cy="529.82" r="0.8" fill="#ff00ff"/><circle cx="38.5" cy="530.28" r="0.8" fill="#ff00ff"/><circle cx="45.54" cy="530.73" r="0.8" fill="#ff00ff"/><circle cx="52.58" cy="530.8" r="0.8" fill="#ff00ff"/><circle cx="59.62" cy="530.85" r="0.8" fill="#ff00ff"/><circle cx="66.66" cy="530.9" r="0.8" fill="#ff00ff"/><circle cx="73.7" cy="530.96" r="0.8" fill="#ff00ff"/><circle cx="80.74" cy="531.01" r="0.8" fill="#ff00ff"/><circle cx="87.78" cy="531.06" r="0.8" fill="#ff00ff"/><circle cx="94.82" cy="531.11" r="0.8" fill="#ff00ff"/><circle cx="101.86" cy="531.17" r="0.8" fill="#ff00ff"/><circle cx="108.9" cy="531.22" r="0.8" fill="#ff00ff"/><path d="M17.38 524.47 L24.23 529.79 L31 530.63 L38.37 531.51 L45.14 532.23 L51.82 532.85 L59.21 533.47 L109.76 534.33" fill="none" stroke="#ff0000" stroke-width="0.6" stroke-opacity="0.8"/><circle cx="17.38" cy="524.47" r="0.8" fill="#ff0000"/><circle cx="24.42" cy="529.82" r="0.8" fill="#ff0000"/><circle cx="31.46" cy="530.68" r="0.8" fill="#ff0000"/><circle cx="38.5" cy="531.53" r="0.8" fill="#ff0000"/><circle cx="45.54" cy="532.27" r="0.8" fill="#ff0000"/><circle cx="52.58" cy="532.91" r="0.8" fill="#ff0000"/><circle cx="59.62" cy="533.48" r="0.8" fill="#ff0000"/><circle cx="66.66" cy="533.6" r="0.8" fill="#ff0000"/><circle cx="73.7" cy="533.72" r="0.8" fill="#ff0000"/><circle cx="80.74" cy="533.84" r="0.8" fill="#ff0000"/><circle cx="87.78" cy="533.96" r="0.8" fill="#ff0000"/><circle cx="94.82" cy="534.08" r="0.8" fill="#ff0000"/><circle cx="101.86" cy="534.19" r="0.8" fill="#ff0000"/><circle cx="108.9" cy="534.31" r="0.8" fill="#ff0000"/><path d="M17.38 517.62 L24.23 531.23 L31 532.49 L38.37 533.47 L52.77 534.33 L109.76 535.19" fill="none" stroke="#ffff00" stroke-width="0.6" stroke-opacity="0.8"/><circle cx="17.38" cy="517.62" r="0.8" fill="#ffff00"/><circle cx="24.42" cy="531.26" r="0.8" fill="#ffff00"/><circle cx="31.46" cy="532.55" r="0.8" fill="#ffff00"/><circle cx="38.5" cy="533.48" r="0.8" fill="#ffff00"/><circle cx="45.54" cy="533.9" r="0.8" fill="#ffff00"/><circle cx="52.58" cy="534.32" r="0.8" fill="#ffff00"/><circle cx="59.62" cy="534.43" r="0.8" fill="#ffff00"/><circle cx="66.66" cy="534.54" r="0.8" fill="#ffff00"/><circle cx="73.7" cy="534.64" r="0.8" fill="#ffff00"/><circle cx="80.74" cy="534.75" r="0.8" fill="#ffff00"/><circle cx="87.78" cy="534.86" r="0.8" fill="#ffff00"/><circle cx="94.82" cy="534.96" r="0.8" fill="#ffff00"/><circle cx="101.86" cy="535.07" r="0.8" fill="#ffff00"/><circle cx="108.9" cy="535.18" r="0.8" fill="#ffff00"/></g><rect x="17.5" y="462.2" width="92" height="73" fill="none" stroke="#666" stroke-width="0.35"/><path d="M26.7 535.2v-0.9M26.7 462.2v0.9M35.9 535.2v-0.9M35.9 462.2v0.9M45.1 535.2v-0.9M45.1 462.2v0.9M54.3 535.2v-0.9M54.3 462.2v0.9M63.5 535.2v-0.9M63.5 462.2v0.9M72.7 535.2v-0.9M72.7 462.2v0.9M81.9 535.2v-0.9M81.9 462.2v0.9M91.1 535.2v-0.9M91.1 462.2v0.9M100.3 535.2v-0.9M100.3 462.2v0.9M109.5 535.2v-0.9M109.5 462.2v0.9M17.5 472.3h0.9M109.5 472.3h-0.9M17.5 509.2h0.9M109.5 509.2h-0.9" stroke="#555" stroke-width="0.3" fill="none"/><g fill="#111"><text transform="translate(26.7 539.6) scale(0.1)" font-size="25" text-anchor="middle" fill="#222" stroke="#222" stroke-width="2">50</text><text transform="translate(35.9 539.6) scale(0.1)" font-size="25" text-anchor="middle" fill="#222" stroke="#222" stroke-width="2">100</text><text transform="translate(45.1 539.6) scale(0.1)" font-size="25" text-anchor="middle" fill="#222" stroke="#222" stroke-width="2">150</text><text transform="translate(54.3 539.6) scale(0.1)" font-size="25" text-anchor="middle" fill="#222" stroke="#222" stroke-width="2">200</text><text transform="translate(63.5 539.6) scale(0.1)" font-size="25" text-anchor="middle" fill="#222" stroke="#222" stroke-width="2">250</text><text transform="translate(72.7 539.6) scale(0.1)" font-size="25" text-anchor="middle" fill="#222" stroke="#222" stroke-width="2">300</text><text transform="translate(81.9 539.6) scale(0.1)" font-size="25" text-anchor="middle" fill="#222" stroke="#222" stroke-width="2">350</text><text transform="translate(91.1 539.6) scale(0.1)" font-size="25" text-anchor="middle" fill="#222" stroke="#222" stroke-width="2">400</text><text transform="translate(100.3 539.6) scale(0.1)" font-size="25" text-anchor="middle" fill="#222" stroke="#222" stroke-width="2">450</text><text transform="translate(109.5 539.6) scale(0.1)" font-size="25" text-anchor="middle" fill="#222" stroke="#222" stroke-width="2">500</text></g><g fill="#111"><text transform="translate(16.3 473.25) scale(0.1)" font-size="25" text-anchor="end" fill="#222" stroke="#222" stroke-width="2">10<tspan font-size="17.5" dy="-11.25">1</tspan></text><text transform="translate(16.3 510.15) scale(0.1)" font-size="25" text-anchor="end" fill="#222" stroke="#222" stroke-width="2">10<tspan font-size="17.5" dy="-11.25">0</tspan></text></g><text transform="translate(63.5 543.3) scale(0.1)" font-size="31" text-anchor="middle" fill="#222" stroke="#222" stroke-width="1">Iteration</text><text transform="translate(10 498.7) rotate(-90) scale(0.1)" font-size="31" text-anchor="middle" fill="#222" stroke="#222" stroke-width="1.2">Fitness function</text><text transform="translate(63.5 460.75) scale(0.1)" font-size="33" text-anchor="middle" fill="#333" stroke="#333" stroke-width="1">C17</text><g fill="#222"><rect x="85.5" y="465.1" width="22" height="49" fill="#fff" stroke="#666" stroke-width="0.3"/><path d="M86.4 467h8.2" stroke="#0000ff" stroke-width="0.5" stroke-opacity="0.6"/><text transform="translate(95.7 467.9) scale(0.1)" font-size="25" fill="#2a2a2a" stroke="#2a2a2a" stroke-width="1">SSA</text><path d="M86.4 470.48h8.2" stroke="#00ff00" stroke-width="0.5" stroke-opacity="0.6"/><circle cx="90.5" cy="470.48" r="0.7" fill="#00ff00"/><text transform="translate(95.7 471.38) scale(0.1)" font-size="25" fill="#2a2a2a" stroke="#2a2a2a" stroke-width="1">GWO</text><path d="M86.4 473.95h8.2" stroke="#806860" stroke-width="0.5" stroke-opacity="0.6"/><text transform="translate(95.7 474.85) scale(0.1)" font-size="25" fill="#2a2a2a" stroke="#2a2a2a" stroke-width="1">WOA</text><path d="M86.4 477.43h8.2" stroke="#ff00ff" stroke-width="0.5" stroke-opacity="0.6"/><circle cx="90.5" cy="477.43" r="0.7" fill="#ff00ff"/><text transform="translate(95.7 478.33) scale(0.1)" font-size="25" fill="#2a2a2a" stroke="#2a2a2a" stroke-width="1">PSO</text><path d="M86.4 480.91h8.2" stroke="#00ffff" stroke-width="0.5" stroke-opacity="0.6"/><circle cx="90.5" cy="480.91" r="0.7" fill="#00ffff"/><text transform="translate(95.7 481.81) scale(0.1)" font-size="25" fill="#2a2a2a" stroke="#2a2a2a" stroke-width="1">ABC</text><path d="M86.4 484.38h8.2" stroke="#000000" stroke-width="0.5" stroke-opacity="0.6"/><circle cx="90.5" cy="484.38" r="0.7" fill="#000000"/><text transform="translate(95.7 485.28) scale(0.1)" font-size="25" fill="#2a2a2a" stroke="#2a2a2a" stroke-width="1">FA</text><path d="M86.4 487.86h8.2" stroke="#ffff00" stroke-width="0.5" stroke-opacity="0.6"/><text transform="translate(95.7 488.76) scale(0.1)" font-size="25" fill="#2a2a2a" stroke="#2a2a2a" stroke-width="1">CMGWOA</text><path d="M86.4 491.34h8.2" stroke="#0000ff" stroke-width="0.5" stroke-opacity="0.6"/><circle cx="90.5" cy="491.34" r="0.7" fill="#0000ff"/><text transform="translate(95.7 492.24) scale(0.1)" font-size="25" fill="#2a2a2a" stroke="#2a2a2a" stroke-width="1">LSSA</text><path d="M86.4 494.82h8.2" stroke="#00ff00" stroke-width="0.5" stroke-opacity="0.6"/><circle cx="90.5" cy="494.82" r="0.7" fill="#00ff00"/><text transform="translate(95.7 495.72) scale(0.1)" font-size="25" fill="#2a2a2a" stroke="#2a2a2a" stroke-width="1">AGWO</text><path d="M86.4 498.29h8.2" stroke="#e8745e" stroke-width="0.5" stroke-opacity="0.6"/><text transform="translate(95.7 499.19) scale(0.1)" font-size="25" fill="#2a2a2a" stroke="#2a2a2a" stroke-width="1">DWOA</text><path d="M86.4 501.77h8.2" stroke="#ff00ff" stroke-width="0.5" stroke-opacity="0.6"/><circle cx="90.5" cy="501.77" r="0.7" fill="#ff00ff"/><text transform="translate(95.7 502.67) scale(0.1)" font-size="25" fill="#2a2a2a" stroke="#2a2a2a" stroke-width="1">OPPSO</text><path d="M86.4 505.25h8.2" stroke="#ffff00" stroke-width="0.5" stroke-opacity="0.6"/><circle cx="90.5" cy="505.25" r="0.7" fill="#ffff00"/><text transform="translate(95.7 506.15) scale(0.1)" font-size="25" fill="#2a2a2a" stroke="#2a2a2a" stroke-width="1">NSMO</text><path d="M86.4 508.72h8.2" stroke="#00ffff" stroke-width="0.5" stroke-opacity="0.6"/><circle cx="90.5" cy="508.72" r="0.7" fill="#00ffff"/><text transform="translate(95.7 509.62) scale(0.1)" font-size="25" fill="#2a2a2a" stroke="#2a2a2a" stroke-width="1">MSSTA</text><path d="M86.4 512.2h8.2" stroke="#ff0000" stroke-width="0.5" stroke-opacity="0.6"/><circle cx="90.5" cy="512.2" r="0.7" fill="#ff0000"/><text transform="translate(95.7 513.1) scale(0.1)" font-size="25" fill="#2a2a2a" stroke="#2a2a2a" stroke-width="1">WMSSSA</text></g></g>
<g><clipPath id="c15"><rect x="152.5" y="461" width="94" height="75.4"/></clipPath><g clip-path="url(#c15)"><path d="M153.38 462.36 L159.68 471.55 L163.3 480 L167 489.21 L174.37 496.61 L181.14 502.77 L187.82 508.31 L195.21 515.71 L197.97 518.19 L202.29 522.49 L209.66 526.81 L216.43 529.89 L223.11 531.7 L230.5 532.97 L237.34 533.95 L244.09 534.19" fill="none" stroke="#ff00ff" stroke-width="0.6" stroke-opacity="0.8"/><circle cx="153.38" cy="462.36" r="0.8" fill="#ff00ff"/><circle cx="160.42" cy="473.28" r="0.8" fill="#ff00ff"/><circle cx="167.46" cy="489.68" r="0.8" fill="#ff00ff"/><circle cx="174.5" cy="496.73" r="0.8" fill="#ff00ff"/><circle cx="181.54" cy="503.1" r="0.8" fill="#ff00ff"/><circle cx="188.58" cy="509.08" r="0.8" fill="#ff00ff"/><circle cx="195.62" cy="516.08" r="0.8" fill="#ff00ff"/><circle cx="202.66" cy="522.71" r="0.8" fill="#ff00ff"/><circle cx="209.7" cy="526.83" r="0.8" fill="#ff00ff"/><circle cx="216.74" cy="529.97" r="0.8" fill="#ff00ff"/><circle cx="223.78" cy="531.82" r="0.8" fill="#ff00ff"/><circle cx="230.82" cy="533.01" r="0.8" fill="#ff00ff"/><circle cx="237.86" cy="533.97" r="0.8" fill="#ff00ff"/><circle cx="244.9" cy="534.19" r="0.8" fill="#ff00ff"/><path d="M153.38 493.03 L153.48 494.77 L159.61 497.85 L167 500.91 L174.37 502.77 L181.14 503.39 L187.82 504.01 L199.02 504.73 L244.09 505.45" fill="none" stroke="#806860" stroke-width="0.65" stroke-opacity="0.85"/><path d="M153.38 481.1 L159.61 504.01 L167 506.47 L174.37 507.71 L181.14 508.31 L187.82 508.55 L199.02 509.26 L244.09 509.74" fill="none" stroke="#e8745e" stroke-width="0.65" stroke-opacity="0.85"/><path d="M153.38 479.81 L159.61 499.72 L167 506.47 L174.37 508.95 L181.14 509.55 L187.82 509.98 L195.21 510.46 L209.66 511.65 L244.09 512.85" fill="none" stroke="#0000ff" stroke-width="0.6" stroke-opacity="0.8"/><circle cx="153.38" cy="479.81" r="0.8" fill="#0000ff"/><circle cx="160.42" cy="500.46" r="0.8" fill="#0000ff"/><circle cx="167.46" cy="506.63" r="0.8" fill="#0000ff"/><circle cx="174.5" cy="508.97" r="0.8" fill="#0000ff"/><circle cx="181.54" cy="509.58" r="0.8" fill="#0000ff"/><circle cx="188.58" cy="510.03" r="0.8" fill="#0000ff"/><circle cx="195.62" cy="510.49" r="0.8" fill="#0000ff"/><circle cx="202.66" cy="511.07" r="0.8" fill="#0000ff"/><circle cx="209.7" cy="511.65" r="0.8" fill="#0000ff"/><circle cx="216.74" cy="511.9" r="0.8" fill="#0000ff"/><circle cx="223.78" cy="512.14" r="0.8" fill="#0000ff"/><circle cx="230.82" cy="512.39" r="0.8" fill="#0000ff"/><circle cx="237.86" cy="512.63" r="0.8" fill="#0000ff"/><circle cx="244.9" cy="512.85" r="0.8" fill="#0000ff"/><path d="M153.38 494.23 L159.61 504.97 L167 508.55 L174.37 509.98 L181.14 510.7 L187.82 511.17 L195.21 511.65 L209.66 512.37 L244.09 512.61" fill="none" stroke="#000000" stroke-width="0.6" stroke-opacity="0.45"/><circle cx="153.38" cy="494.23" r="0.8" fill="#000000"/><circle cx="160.42" cy="505.36" r="0.8" fill="#000000"/><circle cx="167.46" cy="508.64" r="0.8" fill="#000000"/><circle cx="174.5" cy="509.99" r="0.8" fill="#000000"/><circle cx="181.54" cy="510.73" r="0.8" fill="#000000"/><circle cx="188.58" cy="511.22" r="0.8" fill="#000000"/><circle cx="195.62" cy="511.67" r="0.8" fill="#000000"/><circle cx="202.66" cy="512.02" r="0.8" fill="#000000"/><circle cx="209.7" cy="512.37" r="0.8" fill="#000000"/><circle cx="216.74" cy="512.42" r="0.8" fill="#000000"/><circle cx="223.78" cy="512.47" r="0.8" fill="#000000"/><circle cx="230.82" cy="512.51" r="0.8" fill="#000000"/><circle cx="237.86" cy="512.56" r="0.8" fill="#000000"/><circle cx="244.9" cy="512.61" r="0.8" fill="#000000"/><path d="M153.38 476.9 L159.61 505.87 L167 508.31 L174.37 509.55 L181.14 510.17 L187.82 510.79 L195.21 511.41 L209.66 512.13 L244.09 512.61" fill="none" stroke="#00ff00" stroke-width="0.6" stroke-opacity="0.8"/><circle cx="153.38" cy="476.9" r="0.8" fill="#00ff00"/><circle cx="160.42" cy="506.14" r="0.8" fill="#00ff00"/><circle cx="167.46" cy="508.39" r="0.8" fill="#00ff00"/><circle cx="174.5" cy="509.56" r="0.8" fill="#00ff00"/><circle cx="181.54" cy="510.21" r="0.8" fill="#00ff00"/><circle cx="188.58" cy="510.86" r="0.8" fill="#00ff00"/><circle cx="195.62" cy="511.43" r="0.8" fill="#00ff00"/><circle cx="202.66" cy="511.78" r="0.8" fill="#00ff00"/><circle cx="209.7" cy="512.13" r="0.8" fill="#00ff00"/><circle cx="216.74" cy="512.23" r="0.8" fill="#00ff00"/><circle cx="223.78" cy="512.32" r="0.8" fill="#00ff00"/><circle cx="230.82" cy="512.42" r="0.8" fill="#00ff00"/><circle cx="237.86" cy="512.52" r="0.8" fill="#00ff00"/><circle cx="244.9" cy="512.61" r="0.8" fill="#00ff00"/><path d="M153.38 478.71 L159.61 506.88 L167 509.26 L174.37 510.46 L181.14 511.17 L187.82 511.89 L195.21 512.61 L209.66 514.99 L244.09 518.1" fill="none" stroke="#00ff00" stroke-width="0.6" stroke-opacity="0.8"/><circle cx="153.38" cy="478.71" r="0.8" fill="#00ff00"/><circle cx="160.42" cy="507.14" r="0.8" fill="#00ff00"/><circle cx="167.46" cy="509.34" r="0.8" fill="#00ff00"/><circle cx="174.5" cy="510.47" r="0.8" fill="#00ff00"/><circle cx="181.54" cy="511.22" r="0.8" fill="#00ff00"/><circle cx="188.58" cy="511.96" r="0.8" fill="#00ff00"/><circle cx="195.62" cy="512.67" r="0.8" fill="#00ff00"/><circle cx="202.66" cy="513.84" r="0.8" fill="#00ff00"/><circle cx="209.7" cy="515" r="0.8" fill="#00ff00"/><circle cx="216.74" cy="515.63" r="0.8" fill="#00ff00"/><circle cx="223.78" cy="516.27" r="0.8" fill="#00ff00"/><circle cx="230.82" cy="516.9" r="0.8" fill="#00ff00"/><circle cx="237.86" cy="517.54" r="0.8" fill="#00ff00"/><circle cx="244.9" cy="518.1" r="0.8" fill="#00ff00"/><path d="M153.38 489.21 L159.61 507.71 L167 510.79 L174.37 512.61 L181.14 513.87 L187.82 515.11 L195.21 516.33 L216.43 520.48 L244.09 522.87" fill="none" stroke="#00ffff" stroke-width="0.6" stroke-opacity="0.8"/><circle cx="153.38" cy="489.21" r="0.8" fill="#00ffff"/><circle cx="160.42" cy="508.05" r="0.8" fill="#00ffff"/><circle cx="167.46" cy="510.91" r="0.8" fill="#00ffff"/><circle cx="174.5" cy="512.63" r="0.8" fill="#00ffff"/><circle cx="181.54" cy="513.95" r="0.8" fill="#00ffff"/><circle cx="188.58" cy="515.24" r="0.8" fill="#00ffff"/><circle cx="195.62" cy="516.41" r="0.8" fill="#00ffff"/><circle cx="202.66" cy="517.79" r="0.8" fill="#00ffff"/><circle cx="209.7" cy="519.17" r="0.8" fill="#00ffff"/><circle cx="216.74" cy="520.51" r="0.8" fill="#00ffff"/><circle cx="223.78" cy="521.12" r="0.8" fill="#00ffff"/><circle cx="230.82" cy="521.73" r="0.8" fill="#00ffff"/><circle cx="237.86" cy="522.33" r="0.8" fill="#00ffff"/><circle cx="244.9" cy="522.87" r="0.8" fill="#00ffff"/><path d="M153.38 481.1 L159.61 509.55 L167 512.61 L174.37 513.87 L181.14 515.11 L187.82 516.33 L199.02 518.81 L216.43 520.65 L244.09 522.49" fill="none" stroke="#0000ff" stroke-width="0.6" stroke-opacity="0.8"/><path d="M153.38 483.48 L159.61 507.83 L167 510.94 L174.37 514.04 L181.14 516.43 L187.82 518.34 L195.21 520.01 L202.29 520.72 L244.09 520.48" fill="none" stroke="#ff00ff" stroke-width="0.6" stroke-opacity="0.8"/><circle cx="153.38" cy="483.48" r="0.8" fill="#ff00ff"/><circle cx="160.42" cy="508.17" r="0.8" fill="#ff00ff"/><circle cx="167.46" cy="511.13" r="0.8" fill="#ff00ff"/><circle cx="174.5" cy="514.09" r="0.8" fill="#ff00ff"/><circle cx="181.54" cy="516.54" r="0.8" fill="#ff00ff"/><circle cx="188.58" cy="518.51" r="0.8" fill="#ff00ff"/><circle cx="195.62" cy="520.05" r="0.8" fill="#ff00ff"/><circle cx="202.66" cy="520.72" r="0.8" fill="#ff00ff"/><circle cx="209.7" cy="520.68" r="0.8" fill="#ff00ff"/><circle cx="216.74" cy="520.64" r="0.8" fill="#ff00ff"/><circle cx="223.78" cy="520.6" r="0.8" fill="#ff00ff"/><circle cx="230.82" cy="520.56" r="0.8" fill="#ff00ff"/><circle cx="237.86" cy="520.52" r="0.8" fill="#ff00ff"/><circle cx="244.9" cy="520.48" r="0.8" fill="#ff00ff"/><path d="M153.38 485.87 L159.61 508.55 L167 512.13 L174.37 514.99 L181.14 516.9 L187.82 518.81 L195.21 520.25 L216.43 522.15 L244.09 523.11" fill="none" stroke="#00ffff" stroke-width="0.6" stroke-opacity="0.8"/><circle cx="153.38" cy="485.87" r="0.8" fill="#00ffff"/><circle cx="160.42" cy="508.94" r="0.8" fill="#00ffff"/><circle cx="167.46" cy="512.31" r="0.8" fill="#00ffff"/><circle cx="174.5" cy="515.03" r="0.8" fill="#00ffff"/><circle cx="181.54" cy="517.02" r="0.8" fill="#00ffff"/><circle cx="188.58" cy="518.96" r="0.8" fill="#00ffff"/><circle cx="195.62" cy="520.28" r="0.8" fill="#00ffff"/><circle cx="202.66" cy="520.92" r="0.8" fill="#00ffff"/><circle cx="209.7" cy="521.55" r="0.8" fill="#00ffff"/><circle cx="216.74" cy="522.17" r="0.8" fill="#00ffff"/><circle cx="223.78" cy="522.41" r="0.8" fill="#00ffff"/><circle cx="230.82" cy="522.65" r="0.8" fill="#00ffff"/><circle cx="237.86" cy="522.89" r="0.8" fill="#00ffff"/><circle cx="244.9" cy="523.11" r="0.8" fill="#00ffff"/><path d="M153.38 468.16 L159.61 509.74 L167 513.32 L181.14 517.38 L195.21 520.48 L216.43 523.59 L244.09 525.5" fill="none" stroke="#ffff00" stroke-width="0.6" stroke-opacity="0.8"/><path d="M153.38 484.89 L159.61 513.25 L167 515.71 L174.37 518.19 L181.14 520.01 L187.82 521.87 L195.21 522.63 L197.97 523.11 L209.66 524.95 L216.43 526.21 L223.11 527.41 L230.5 528.65 L237.34 529.27 L244.09 529.89" fill="none" stroke="#ffff00" stroke-width="0.6" stroke-opacity="0.8"/><circle cx="153.38" cy="484.89" r="0.8" fill="#ffff00"/><circle cx="160.42" cy="513.52" r="0.8" fill="#ffff00"/><circle cx="167.46" cy="515.87" r="0.8" fill="#ffff00"/><circle cx="174.5" cy="518.23" r="0.8" fill="#ffff00"/><circle cx="181.54" cy="520.12" r="0.8" fill="#ffff00"/><circle cx="188.58" cy="521.95" r="0.8" fill="#ffff00"/><circle cx="195.62" cy="522.7" r="0.8" fill="#ffff00"/><circle cx="202.66" cy="523.85" r="0.8" fill="#ffff00"/><circle cx="209.7" cy="524.96" r="0.8" fill="#ffff00"/><circle cx="216.74" cy="526.27" r="0.8" fill="#ffff00"/><circle cx="223.78" cy="527.52" r="0.8" fill="#ffff00"/><circle cx="230.82" cy="528.68" r="0.8" fill="#ffff00"/><circle cx="237.86" cy="529.32" r="0.8" fill="#ffff00"/><circle cx="244.9" cy="529.89" r="0.8" fill="#ffff00"/><path d="M153.38 481.98 L153.48 481.24 L159.61 512.03 L167 516.95 L174.37 520.65 L181.14 523.11 L187.82 524.35 L195.21 525.57 L202.29 527.41 L209.66 528.65 L216.43 529.89 L223.11 530.51 L230.5 531.11 L237.34 531.7 L244.09 532.35" fill="none" stroke="#ff0000" stroke-width="0.6" stroke-opacity="0.8"/><circle cx="153.38" cy="481.98" r="0.8" fill="#ff0000"/><circle cx="160.42" cy="512.58" r="0.8" fill="#ff0000"/><circle cx="167.46" cy="517.18" r="0.8" fill="#ff0000"/><circle cx="174.5" cy="520.7" r="0.8" fill="#ff0000"/><circle cx="181.54" cy="523.18" r="0.8" fill="#ff0000"/><circle cx="188.58" cy="524.48" r="0.8" fill="#ff0000"/><circle cx="195.62" cy="525.68" r="0.8" fill="#ff0000"/><circle cx="202.66" cy="527.47" r="0.8" fill="#ff0000"/><circle cx="209.7" cy="528.66" r="0.8" fill="#ff0000"/><circle cx="216.74" cy="529.92" r="0.8" fill="#ff0000"/><circle cx="223.78" cy="530.56" r="0.8" fill="#ff0000"/><circle cx="230.82" cy="531.13" r="0.8" fill="#ff0000"/><circle cx="237.86" cy="531.75" r="0.8" fill="#ff0000"/><circle cx="244.9" cy="532.35" r="0.8" fill="#ff0000"/></g><rect x="153.5" y="462.2" width="92" height="73" fill="none" stroke="#666" stroke-width="0.35"/><path d="M162.7 535.2v-0.9M162.7 462.2v0.9M171.9 535.2v-0.9M171.9 462.2v0.9M181.1 535.2v-0.9M181.1 462.2v0.9M190.3 535.2v-0.9M190.3 462.2v0.9M199.5 535.2v-0.9M199.5 462.2v0.9M208.7 535.2v-0.9M208.7 462.2v0.9M217.9 535.2v-0.9M217.9 462.2v0.9M227.1 535.2v-0.9M227.1 462.2v0.9M236.3 535.2v-0.9M236.3 462.2v0.9M245.5 535.2v-0.9M245.5 462.2v0.9M153.5 471.4h0.9M245.5 471.4h-0.9M153.5 487.8h0.9M245.5 487.8h-0.9M153.5 503.8h0.9M245.5 503.8h-0.9M153.5 519.8h0.9M245.5 519.8h-0.9" stroke="#555" stroke-width="0.3" fill="none"/><g fill="#111"><text transform="translate(162.7 539.6) scale(0.1)" font-size="25" text-anchor="middle" fill="#222" stroke="#222" stroke-width="2">50</text><text transform="translate(171.9 539.6) scale(0.1)" font-size="25" text-anchor="middle" fill="#222" stroke="#222" stroke-width="2">100</text><text transform="translate(181.1 539.6) scale(0.1)" font-size="25" text-anchor="middle" fill="#222" stroke="#222" stroke-width="2">150</text><text transform="translate(190.3 539.6) scale(0.1)" font-size="25" text-anchor="middle" fill="#222" stroke="#222" stroke-width="2">200</text><text transform="translate(199.5 539.6) scale(0.1)" font-size="25" text-anchor="middle" fill="#222" stroke="#222" stroke-width="2">250</text><text transform="translate(208.7 539.6) scale(0.1)" font-size="25" text-anchor="middle" fill="#222" stroke="#222" stroke-width="2">300</text><text transform="translate(217.9 539.6) scale(0.1)" font-size="25" text-anchor="middle" fill="#222" stroke="#222" stroke-width="2">350</text><text transform="translate(227.1 539.6) scale(0.1)" font-size="25" text-anchor="middle" fill="#222" stroke="#222" stroke-width="2">400</text><text transform="translate(236.3 539.6) scale(0.1)" font-size="25" text-anchor="middle" fill="#222" stroke="#222" stroke-width="2">450</text><text transform="translate(245.5 539.6) scale(0.1)" font-size="25" text-anchor="middle" fill="#222" stroke="#222" stroke-width="2">500</text></g><g fill="#111"><text transform="translate(152.3 472.35) scale(0.1)" font-size="25" text-anchor="end" fill="#222" stroke="#222" stroke-width="2">10<tspan font-size="17.5" dy="-11.25">3</tspan></text><text transform="translate(152.3 488.75) scale(0.1)" font-size="25" text-anchor="end" fill="#222" stroke="#222" stroke-width="2">10<tspan font-size="17.5" dy="-11.25">2</tspan></text><text transform="translate(152.3 504.75) scale(0.1)" font-size="25" text-anchor="end" fill="#222" stroke="#222" stroke-width="2">10<tspan font-size="17.5" dy="-11.25">1</tspan></text><text transform="translate(152.3 520.75) scale(0.1)" font-size="25" text-anchor="end" fill="#222" stroke="#222" stroke-width="2">10<tspan font-size="17.5" dy="-11.25">0</tspan></text></g><text transform="translate(199.5 543.3) scale(0.1)" font-size="31" text-anchor="middle" fill="#222" stroke="#222" stroke-width="1">Iteration</text><text transform="translate(146.2 498.7) rotate(-90) scale(0.1)" font-size="31" text-anchor="middle" fill="#222" stroke="#222" stroke-width="1.2">Fitness function</text><text transform="translate(199.5 460.75) scale(0.1)" font-size="33" text-anchor="middle" fill="#333" stroke="#333" stroke-width="1">C18</text><g fill="#222"><rect x="221.5" y="465.1" width="22" height="49" fill="#fff" stroke="#666" stroke-width="0.3"/><path d="M222.4 467h8.2" stroke="#0000ff" stroke-width="0.5" stroke-opacity="0.6"/><text transform="translate(231.7 467.9) scale(0.1)" font-size="25" fill="#2a2a2a" stroke="#2a2a2a" stroke-width="1">SSA</text><path d="M222.4 470.48h8.2" stroke="#00ff00" stroke-width="0.5" stroke-opacity="0.6"/><circle cx="226.5" cy="470.48" r="0.7" fill="#00ff00"/><text transform="translate(231.7 471.38) scale(0.1)" font-size="25" fill="#2a2a2a" stroke="#2a2a2a" stroke-width="1">GWO</text><path d="M222.4 473.95h8.2" stroke="#806860" stroke-width="0.5" stroke-opacity="0.6"/><text transform="translate(231.7 474.85) scale(0.1)" font-size="25" fill="#2a2a2a" stroke="#2a2a2a" stroke-width="1">WOA</text><path d="M222.4 477.43h8.2" stroke="#ff00ff" stroke-width="0.5" stroke-opacity="0.6"/><circle cx="226.5" cy="477.43" r="0.7" fill="#ff00ff"/><text transform="translate(231.7 478.33) scale(0.1)" font-size="25" fill="#2a2a2a" stroke="#2a2a2a" stroke-width="1">PSO</text><path d="M222.4 480.91h8.2" stroke="#00ffff" stroke-width="0.5" stroke-opacity="0.6"/><circle cx="226.5" cy="480.91" r="0.7" fill="#00ffff"/><text transform="translate(231.7 481.81) scale(0.1)" font-size="25" fill="#2a2a2a" stroke="#2a2a2a" stroke-width="1">ABC</text><path d="M222.4 484.38h8.2" stroke="#000000" stroke-width="0.5" stroke-opacity="0.6"/><circle cx="226.5" cy="484.38" r="0.7" fill="#000000"/><text transform="translate(231.7 485.28) scale(0.1)" font-size="25" fill="#2a2a2a" stroke="#2a2a2a" stroke-width="1">FA</text><path d="M222.4 487.86h8.2" stroke="#ffff00" stroke-width="0.5" stroke-opacity="0.6"/><text transform="translate(231.7 488.76) scale(0.1)" font-size="25" fill="#2a2a2a" stroke="#2a2a2a" stroke-width="1">CMGWOA</text><path d="M222.4 491.34h8.2" stroke="#0000ff" stroke-width="0.5" stroke-opacity="0.6"/><circle cx="226.5" cy="491.34" r="0.7" fill="#0000ff"/><text transform="translate(231.7 492.24) scale(0.1)" font-size="25" fill="#2a2a2a" stroke="#2a2a2a" stroke-width="1">LSSA</text><path d="M222.4 494.82h8.2" stroke="#00ff00" stroke-width="0.5" stroke-opacity="0.6"/><circle cx="226.5" cy="494.82" r="0.7" fill="#00ff00"/><text transform="translate(231.7 495.72) scale(0.1)" font-size="25" fill="#2a2a2a" stroke="#2a2a2a" stroke-width="1">AGWO</text><path d="M222.4 498.29h8.2" stroke="#e8745e" stroke-width="0.5" stroke-opacity="0.6"/><text transform="translate(231.7 499.19) scale(0.1)" font-size="25" fill="#2a2a2a" stroke="#2a2a2a" stroke-width="1">DWOA</text><path d="M222.4 501.77h8.2" stroke="#ff00ff" stroke-width="0.5" stroke-opacity="0.6"/><circle cx="226.5" cy="501.77" r="0.7" fill="#ff00ff"/><text transform="translate(231.7 502.67) scale(0.1)" font-size="25" fill="#2a2a2a" stroke="#2a2a2a" stroke-width="1">OPPSO</text><path d="M222.4 505.25h8.2" stroke="#ffff00" stroke-width="0.5" stroke-opacity="0.6"/><circle cx="226.5" cy="505.25" r="0.7" fill="#ffff00"/><text transform="translate(231.7 506.15) scale(0.1)" font-size="25" fill="#2a2a2a" stroke="#2a2a2a" stroke-width="1">NSMO</text><path d="M222.4 508.72h8.2" stroke="#00ffff" stroke-width="0.5" stroke-opacity="0.6"/><circle cx="226.5" cy="508.72" r="0.7" fill="#00ffff"/><text transform="translate(231.7 509.62) scale(0.1)" font-size="25" fill="#2a2a2a" stroke="#2a2a2a" stroke-width="1">MSSTA</text><path d="M222.4 512.2h8.2" stroke="#ff0000" stroke-width="0.5" stroke-opacity="0.6"/><circle cx="226.5" cy="512.2" r="0.7" fill="#ff0000"/><text transform="translate(231.7 513.1) scale(0.1)" font-size="25" fill="#2a2a2a" stroke="#2a2a2a" stroke-width="1">WMSSSA</text></g></g>
<g><clipPath id="c25"><rect x="288.5" y="461" width="94" height="75.4"/></clipPath><g clip-path="url(#c25)"><path d="M289.38 473.7 L295.61 481.72 L303 483.56 L310.37 484.18 L317.14 484.8 L323.82 485.15 L331.21 485.39 L380.09 486.11" fill="none" stroke="#000000" stroke-width="0.6" stroke-opacity="0.45"/><circle cx="289.38" cy="473.7" r="0.8" fill="#000000"/><circle cx="296.42" cy="481.92" r="0.8" fill="#000000"/><circle cx="303.46" cy="483.59" r="0.8" fill="#000000"/><circle cx="310.5" cy="484.19" r="0.8" fill="#000000"/><circle cx="317.54" cy="484.82" r="0.8" fill="#000000"/><circle cx="324.58" cy="485.18" r="0.8" fill="#000000"/><circle cx="331.62" cy="485.4" r="0.8" fill="#000000"/><circle cx="338.66" cy="485.5" r="0.8" fill="#000000"/><circle cx="345.7" cy="485.61" r="0.8" fill="#000000"/><circle cx="352.74" cy="485.71" r="0.8" fill="#000000"/><circle cx="359.78" cy="485.81" r="0.8" fill="#000000"/><circle cx="366.82" cy="485.92" r="0.8" fill="#000000"/><circle cx="373.86" cy="486.02" r="0.8" fill="#000000"/><circle cx="380.9" cy="486.11" r="0.8" fill="#000000"/><path d="M289.38 464.46 L295.61 469.4 L303 476.8 L310.37 482.93 L317.14 487.88 L323.82 489.69 L331.21 490.65 L338.29 491.7 L345.66 492.94 L352.43 494.15 L380.09 496.61" fill="none" stroke="#00ffff" stroke-width="0.6" stroke-opacity="0.8"/><circle cx="289.38" cy="464.46" r="0.8" fill="#00ffff"/><circle cx="296.42" cy="470.22" r="0.8" fill="#00ffff"/><circle cx="303.46" cy="477.18" r="0.8" fill="#00ffff"/><circle cx="310.5" cy="483.03" r="0.8" fill="#00ffff"/><circle cx="317.54" cy="487.99" r="0.8" fill="#00ffff"/><circle cx="324.58" cy="489.79" r="0.8" fill="#00ffff"/><circle cx="331.62" cy="490.71" r="0.8" fill="#00ffff"/><circle cx="338.66" cy="491.76" r="0.8" fill="#00ffff"/><circle cx="345.7" cy="492.94" r="0.8" fill="#00ffff"/><circle cx="352.74" cy="494.18" r="0.8" fill="#00ffff"/><circle cx="359.78" cy="494.81" r="0.8" fill="#00ffff"/><circle cx="366.82" cy="495.43" r="0.8" fill="#00ffff"/><circle cx="373.86" cy="496.06" r="0.8" fill="#00ffff"/><circle cx="380.9" cy="496.61" r="0.8" fill="#00ffff"/><path d="M289.38 468.16 L295.61 486.63 L303 490.33 L310.37 492.17 L317.14 494.03 L323.82 494.63 L335.02 495.25 L380.09 495.42" fill="none" stroke="#806860" stroke-width="0.7" stroke-opacity="0.85"/><path d="M289.38 468.45 L295.61 487.06 L303 490.65 L310.37 492.55 L317.14 494.35 L323.82 494.94 L335.02 495.54 L380.09 495.66" fill="none" stroke="#e8745e" stroke-width="0.7" stroke-opacity="0.85"/><path d="M289.38 463.19 L295.61 489.69 L303 492.17 L310.37 493.41 L317.14 494.03 L323.82 495.87 L331.21 496.49 L380.09 498.47" fill="none" stroke="#00ff00" stroke-width="0.6" stroke-opacity="0.8"/><circle cx="289.38" cy="463.19" r="0.8" fill="#00ff00"/><circle cx="296.42" cy="489.96" r="0.8" fill="#00ff00"/><circle cx="303.46" cy="492.25" r="0.8" fill="#00ff00"/><circle cx="310.5" cy="493.43" r="0.8" fill="#00ff00"/><circle cx="317.54" cy="494.15" r="0.8" fill="#00ff00"/><circle cx="324.58" cy="495.94" r="0.8" fill="#00ff00"/><circle cx="331.62" cy="496.51" r="0.8" fill="#00ff00"/><circle cx="338.66" cy="496.8" r="0.8" fill="#00ff00"/><circle cx="345.7" cy="497.08" r="0.8" fill="#00ff00"/><circle cx="352.74" cy="497.37" r="0.8" fill="#00ff00"/><circle cx="359.78" cy="497.65" r="0.8" fill="#00ff00"/><circle cx="366.82" cy="497.94" r="0.8" fill="#00ff00"/><circle cx="373.86" cy="498.22" r="0.8" fill="#00ff00"/><circle cx="380.9" cy="498.47" r="0.8" fill="#00ff00"/><path d="M289.38 465.58 L295.61 480.48 L303 482.93 L310.37 485.39 L317.14 487.26 L323.82 488.5 L331.21 490.33 L338.29 497.81 L345.66 503.39 L352.43 507.71 L357.34 509.55 L380.09 513.25" fill="none" stroke="#00ffff" stroke-width="0.6" stroke-opacity="0.8"/><circle cx="289.38" cy="465.58" r="0.8" fill="#00ffff"/><circle cx="296.42" cy="480.75" r="0.8" fill="#00ffff"/><circle cx="303.46" cy="483.09" r="0.8" fill="#00ffff"/><circle cx="310.5" cy="485.43" r="0.8" fill="#00ffff"/><circle cx="317.54" cy="487.33" r="0.8" fill="#00ffff"/><circle cx="324.58" cy="488.69" r="0.8" fill="#00ffff"/><circle cx="331.62" cy="490.77" r="0.8" fill="#00ffff"/><circle cx="338.66" cy="498.09" r="0.8" fill="#00ffff"/><circle cx="345.7" cy="503.42" r="0.8" fill="#00ffff"/><circle cx="352.74" cy="507.83" r="0.8" fill="#00ffff"/><circle cx="359.78" cy="509.95" r="0.8" fill="#00ffff"/><circle cx="366.82" cy="511.09" r="0.8" fill="#00ffff"/><circle cx="373.86" cy="512.24" r="0.8" fill="#00ffff"/><circle cx="380.9" cy="513.25" r="0.8" fill="#00ffff"/><path d="M289.38 466.77 L295.61 487.88 L303 490.96 L310.37 492.79 L317.14 495.25 L323.82 497.81 L331.21 499.72 L338.29 502.17 L345.66 503.39 L352.43 504.01 L380.09 505.45" fill="none" stroke="#ff00ff" stroke-width="0.6" stroke-opacity="0.8"/><circle cx="289.38" cy="466.77" r="0.8" fill="#ff00ff"/><circle cx="296.42" cy="488.22" r="0.8" fill="#ff00ff"/><circle cx="303.46" cy="491.07" r="0.8" fill="#ff00ff"/><circle cx="310.5" cy="492.84" r="0.8" fill="#ff00ff"/><circle cx="317.54" cy="495.41" r="0.8" fill="#ff00ff"/><circle cx="324.58" cy="498" r="0.8" fill="#ff00ff"/><circle cx="331.62" cy="499.86" r="0.8" fill="#ff00ff"/><circle cx="338.66" cy="502.24" r="0.8" fill="#ff00ff"/><circle cx="345.7" cy="503.4" r="0.8" fill="#ff00ff"/><circle cx="352.74" cy="504.03" r="0.8" fill="#ff00ff"/><circle cx="359.78" cy="504.39" r="0.8" fill="#ff00ff"/><circle cx="366.82" cy="504.76" r="0.8" fill="#ff00ff"/><circle cx="373.86" cy="505.12" r="0.8" fill="#ff00ff"/><circle cx="380.9" cy="505.45" r="0.8" fill="#ff00ff"/><path d="M289.38 464.39 L295.61 495.25 L303 496.49 L310.37 497.09 L317.14 497.71 L323.82 497.71 L331.21 498.33 L380.09 499.72" fill="none" stroke="#00ff00" stroke-width="0.6" stroke-opacity="0.8"/><circle cx="289.38" cy="464.39" r="0.8" fill="#00ff00"/><circle cx="296.42" cy="495.39" r="0.8" fill="#00ff00"/><circle cx="303.46" cy="496.53" r="0.8" fill="#00ff00"/><circle cx="310.5" cy="497.1" r="0.8" fill="#00ff00"/><circle cx="317.54" cy="497.71" r="0.8" fill="#00ff00"/><circle cx="324.58" cy="497.78" r="0.8" fill="#00ff00"/><circle cx="331.62" cy="498.34" r="0.8" fill="#00ff00"/><circle cx="338.66" cy="498.54" r="0.8" fill="#00ff00"/><circle cx="345.7" cy="498.74" r="0.8" fill="#00ff00"/><circle cx="352.74" cy="498.94" r="0.8" fill="#00ff00"/><circle cx="359.78" cy="499.14" r="0.8" fill="#00ff00"/><circle cx="366.82" cy="499.34" r="0.8" fill="#00ff00"/><circle cx="373.86" cy="499.54" r="0.8" fill="#00ff00"/><circle cx="380.9" cy="499.72" r="0.8" fill="#00ff00"/><path d="M289.38 463.84 L295.61 468.16 L303 474.32 L310.37 486.63 L316.52 498 L317.14 502.65 L323.82 509.69 L331.21 514.04 L335.02 517.09 L338.29 518.43 L345.66 519.17 L352.43 519.67 L359.11 520.65 L366.5 521.63 L373.34 522.49 L380.09 523.11" fill="none" stroke="#ff00ff" stroke-width="0.6" stroke-opacity="0.8"/><circle cx="289.38" cy="463.84" r="0.8" fill="#ff00ff"/><circle cx="296.42" cy="468.84" r="0.8" fill="#ff00ff"/><circle cx="303.46" cy="475.09" r="0.8" fill="#ff00ff"/><circle cx="310.5" cy="486.88" r="0.8" fill="#ff00ff"/><circle cx="317.54" cy="503.08" r="0.8" fill="#ff00ff"/><circle cx="324.58" cy="510.14" r="0.8" fill="#ff00ff"/><circle cx="331.62" cy="514.37" r="0.8" fill="#ff00ff"/><circle cx="338.66" cy="518.47" r="0.8" fill="#ff00ff"/><circle cx="345.7" cy="519.17" r="0.8" fill="#ff00ff"/><circle cx="352.74" cy="519.72" r="0.8" fill="#ff00ff"/><circle cx="359.78" cy="520.74" r="0.8" fill="#ff00ff"/><circle cx="366.82" cy="521.67" r="0.8" fill="#ff00ff"/><circle cx="373.86" cy="522.54" r="0.8" fill="#ff00ff"/><circle cx="380.9" cy="523.11" r="0.8" fill="#ff00ff"/><path d="M289.38 466.77 L295.61 494.03 L303 502.32 L310.37 508.48 L317.14 511.56 L323.82 514.04 L331.21 516.47 L335.02 517.38 L345.66 518.93 L352.43 519.53 L366.5 521.44 L380.09 522.87" fill="none" stroke="#ffff00" stroke-width="0.6" stroke-opacity="0.8"/><circle cx="289.38" cy="466.77" r="0.8" fill="#ffff00"/><circle cx="296.42" cy="494.95" r="0.8" fill="#ffff00"/><circle cx="303.46" cy="502.7" r="0.8" fill="#ffff00"/><circle cx="310.5" cy="508.54" r="0.8" fill="#ffff00"/><circle cx="317.54" cy="511.71" r="0.8" fill="#ffff00"/><circle cx="324.58" cy="514.29" r="0.8" fill="#ffff00"/><circle cx="331.62" cy="516.57" r="0.8" fill="#ffff00"/><circle cx="338.66" cy="517.91" r="0.8" fill="#ffff00"/><circle cx="345.7" cy="518.94" r="0.8" fill="#ffff00"/><circle cx="352.74" cy="519.57" r="0.8" fill="#ffff00"/><circle cx="359.78" cy="520.53" r="0.8" fill="#ffff00"/><circle cx="366.82" cy="521.47" r="0.8" fill="#ffff00"/><circle cx="373.86" cy="522.21" r="0.8" fill="#ffff00"/><circle cx="380.9" cy="522.87" r="0.8" fill="#ffff00"/><path d="M289.38 466.92 L295.61 496.49 L298.68 498 L303 507.24 L310.37 514.64 L317.14 518.93 L323.82 520.17 L331.21 522.01 L338.29 525.57 L345.66 528.65 L352.43 530.27 L380.09 530.27" fill="none" stroke="#0000ff" stroke-width="0.6" stroke-opacity="0.8"/><circle cx="289.38" cy="466.92" r="0.8" fill="#0000ff"/><circle cx="296.42" cy="496.89" r="0.8" fill="#0000ff"/><circle cx="303.46" cy="507.7" r="0.8" fill="#0000ff"/><circle cx="310.5" cy="514.72" r="0.8" fill="#0000ff"/><circle cx="317.54" cy="519.01" r="0.8" fill="#0000ff"/><circle cx="324.58" cy="520.36" r="0.8" fill="#0000ff"/><circle cx="331.62" cy="522.22" r="0.8" fill="#0000ff"/><circle cx="338.66" cy="525.72" r="0.8" fill="#0000ff"/><circle cx="345.7" cy="528.66" r="0.8" fill="#0000ff"/><circle cx="352.74" cy="530.27" r="0.8" fill="#0000ff"/><circle cx="359.78" cy="530.27" r="0.8" fill="#0000ff"/><circle cx="366.82" cy="530.27" r="0.8" fill="#0000ff"/><circle cx="373.86" cy="530.27" r="0.8" fill="#0000ff"/><circle cx="380.9" cy="530.27" r="0.8" fill="#0000ff"/><path d="M289.38 469.16 L291.86 485.87 L293.77 498 L296.23 510.31 L303 522.63 L310.37 529.41 L317.14 530.03 L335.02 530.27 L380.09 530.51" fill="none" stroke="#0000ff" stroke-width="0.6" stroke-opacity="0.8"/><path d="M289.38 466.92 L292.53 498 L295.61 522.63 L303 528.79 L310.37 530.27 L335.02 530.63 L380.09 530.75" fill="none" stroke="#ffff00" stroke-width="0.6" stroke-opacity="0.8"/><path d="M289.38 465.7 L295.61 511.27 L303 530.99 L310.37 534.71 L380.09 534.81" fill="none" stroke="#ff0000" stroke-width="0.6" stroke-opacity="0.8"/><circle cx="289.38" cy="465.7" r="0.8" fill="#ff0000"/><circle cx="296.42" cy="513.44" r="0.8" fill="#ff0000"/><circle cx="303.46" cy="531.22" r="0.8" fill="#ff0000"/><circle cx="310.5" cy="534.71" r="0.8" fill="#ff0000"/><circle cx="317.54" cy="534.72" r="0.8" fill="#ff0000"/><circle cx="324.58" cy="534.73" r="0.8" fill="#ff0000"/><circle cx="331.62" cy="534.74" r="0.8" fill="#ff0000"/><circle cx="338.66" cy="534.75" r="0.8" fill="#ff0000"/><circle cx="345.7" cy="534.76" r="0.8" fill="#ff0000"/><circle cx="352.74" cy="534.77" r="0.8" fill="#ff0000"/><circle cx="359.78" cy="534.78" r="0.8" fill="#ff0000"/><circle cx="366.82" cy="534.79" r="0.8" fill="#ff0000"/><circle cx="373.86" cy="534.8" r="0.8" fill="#ff0000"/><circle cx="380.9" cy="534.81" r="0.8" fill="#ff0000"/></g><rect x="289.5" y="462.2" width="92" height="73" fill="none" stroke="#666" stroke-width="0.35"/><path d="M298.7 535.2v-0.9M298.7 462.2v0.9M307.9 535.2v-0.9M307.9 462.2v0.9M317.1 535.2v-0.9M317.1 462.2v0.9M326.3 535.2v-0.9M326.3 462.2v0.9M335.5 535.2v-0.9M335.5 462.2v0.9M344.7 535.2v-0.9M344.7 462.2v0.9M353.9 535.2v-0.9M353.9 462.2v0.9M363.1 535.2v-0.9M363.1 462.2v0.9M372.3 535.2v-0.9M372.3 462.2v0.9M381.5 535.2v-0.9M381.5 462.2v0.9M289.5 471.8h0.9M381.5 471.8h-0.9M289.5 483.9h0.9M381.5 483.9h-0.9M289.5 495.8h0.9M381.5 495.8h-0.9M289.5 507.7h0.9M381.5 507.7h-0.9M289.5 519.8h0.9M381.5 519.8h-0.9M289.5 531.5h0.9M381.5 531.5h-0.9" stroke="#555" stroke-width="0.3" fill="none"/><g fill="#111"><text transform="translate(298.7 539.6) scale(0.1)" font-size="25" text-anchor="middle" fill="#222" stroke="#222" stroke-width="2">50</text><text transform="translate(307.9 539.6) scale(0.1)" font-size="25" text-anchor="middle" fill="#222" stroke="#222" stroke-width="2">100</text><text transform="translate(317.1 539.6) scale(0.1)" font-size="25" text-anchor="middle" fill="#222" stroke="#222" stroke-width="2">150</text><text transform="translate(326.3 539.6) scale(0.1)" font-size="25" text-anchor="middle" fill="#222" stroke="#222" stroke-width="2">200</text><text transform="translate(335.5 539.6) scale(0.1)" font-size="25" text-anchor="middle" fill="#222" stroke="#222" stroke-width="2">250</text><text transform="translate(344.7 539.6) scale(0.1)" font-size="25" text-anchor="middle" fill="#222" stroke="#222" stroke-width="2">300</text><text transform="translate(353.9 539.6) scale(0.1)" font-size="25" text-anchor="middle" fill="#222" stroke="#222" stroke-width="2">350</text><text transform="translate(363.1 539.6) scale(0.1)" font-size="25" text-anchor="middle" fill="#222" stroke="#222" stroke-width="2">400</text><text transform="translate(372.3 539.6) scale(0.1)" font-size="25" text-anchor="middle" fill="#222" stroke="#222" stroke-width="2">450</text><text transform="translate(381.5 539.6) scale(0.1)" font-size="25" text-anchor="middle" fill="#222" stroke="#222" stroke-width="2">500</text></g><g fill="#111"><text transform="translate(288.3 472.75) scale(0.1)" font-size="25" text-anchor="end" fill="#222" stroke="#222" stroke-width="2">10<tspan font-size="17.5" dy="-11.25">5</tspan></text><text transform="translate(288.3 484.85) scale(0.1)" font-size="25" text-anchor="end" fill="#222" stroke="#222" stroke-width="2">10<tspan font-size="17.5" dy="-11.25">4</tspan></text><text transform="translate(288.3 496.75) scale(0.1)" font-size="25" text-anchor="end" fill="#222" stroke="#222" stroke-width="2">10<tspan font-size="17.5" dy="-11.25">3</tspan></text><text transform="translate(288.3 508.65) scale(0.1)" font-size="25" text-anchor="end" fill="#222" stroke="#222" stroke-width="2">10<tspan font-size="17.5" dy="-11.25">2</tspan></text><text transform="translate(288.3 520.75) scale(0.1)" font-size="25" text-anchor="end" fill="#222" stroke="#222" stroke-width="2">10<tspan font-size="17.5" dy="-11.25">1</tspan></text><text transform="translate(288.3 532.45) scale(0.1)" font-size="25" text-anchor="end" fill="#222" stroke="#222" stroke-width="2">10<tspan font-size="17.5" dy="-11.25">0</tspan></text></g><text transform="translate(335.5 543.3) scale(0.1)" font-size="31" text-anchor="middle" fill="#222" stroke="#222" stroke-width="1">Iteration</text><text transform="translate(282 498.7) rotate(-90) scale(0.1)" font-size="31" text-anchor="middle" fill="#222" stroke="#222" stroke-width="1.2">Fitness function</text><text transform="translate(335.5 460.75) scale(0.1)" font-size="33" text-anchor="middle" fill="#333" stroke="#333" stroke-width="1">C19</text><g fill="#222"><rect x="357.5" y="465.1" width="22" height="49" fill="#fff" stroke="#666" stroke-width="0.3"/><path d="M358.4 467h8.2" stroke="#0000ff" stroke-width="0.5" stroke-opacity="0.6"/><text transform="translate(367.7 467.9) scale(0.1)" font-size="25" fill="#2a2a2a" stroke="#2a2a2a" stroke-width="1">SSA</text><path d="M358.4 470.48h8.2" stroke="#00ff00" stroke-width="0.5" stroke-opacity="0.6"/><circle cx="362.5" cy="470.48" r="0.7" fill="#00ff00"/><text transform="translate(367.7 471.38) scale(0.1)" font-size="25" fill="#2a2a2a" stroke="#2a2a2a" stroke-width="1">GWO</text><path d="M358.4 473.95h8.2" stroke="#806860" stroke-width="0.5" stroke-opacity="0.6"/><text transform="translate(367.7 474.85) scale(0.1)" font-size="25" fill="#2a2a2a" stroke="#2a2a2a" stroke-width="1">WOA</text><path d="M358.4 477.43h8.2" stroke="#ff00ff" stroke-width="0.5" stroke-opacity="0.6"/><circle cx="362.5" cy="477.43" r="0.7" fill="#ff00ff"/><text transform="translate(367.7 478.33) scale(0.1)" font-size="25" fill="#2a2a2a" stroke="#2a2a2a" stroke-width="1">PSO</text><path d="M358.4 480.91h8.2" stroke="#00ffff" stroke-width="0.5" stroke-opacity="0.6"/><circle cx="362.5" cy="480.91" r="0.7" fill="#00ffff"/><text transform="translate(367.7 481.81) scale(0.1)" font-size="25" fill="#2a2a2a" stroke="#2a2a2a" stroke-width="1">ABC</text><path d="M358.4 484.38h8.2" stroke="#000000" stroke-width="0.5" stroke-opacity="0.6"/><circle cx="362.5" cy="484.38" r="0.7" fill="#000000"/><text transform="translate(367.7 485.28) scale(0.1)" font-size="25" fill="#2a2a2a" stroke="#2a2a2a" stroke-width="1">FA</text><path d="M358.4 487.86h8.2" stroke="#ffff00" stroke-width="0.5" stroke-opacity="0.6"/><text transform="translate(367.7 488.76) scale(0.1)" font-size="25" fill="#2a2a2a" stroke="#2a2a2a" stroke-width="1">CMGWOA</text><path d="M358.4 491.34h8.2" stroke="#0000ff" stroke-width="0.5" stroke-opacity="0.6"/><circle cx="362.5" cy="491.34" r="0.7" fill="#0000ff"/><text transform="translate(367.7 492.24) scale(0.1)" font-size="25" fill="#2a2a2a" stroke="#2a2a2a" stroke-width="1">LSSA</text><path d="M358.4 494.82h8.2" stroke="#00ff00" stroke-width="0.5" stroke-opacity="0.6"/><circle cx="362.5" cy="494.82" r="0.7" fill="#00ff00"/><text transform="translate(367.7 495.72) scale(0.1)" font-size="25" fill="#2a2a2a" stroke="#2a2a2a" stroke-width="1">AGWO</text><path d="M358.4 498.29h8.2" stroke="#e8745e" stroke-width="0.5" stroke-opacity="0.6"/><text transform="translate(367.7 499.19) scale(0.1)" font-size="25" fill="#2a2a2a" stroke="#2a2a2a" stroke-width="1">DWOA</text><path d="M358.4 501.77h8.2" stroke="#ff00ff" stroke-width="0.5" stroke-opacity="0.6"/><circle cx="362.5" cy="501.77" r="0.7" fill="#ff00ff"/><text transform="translate(367.7 502.67) scale(0.1)" font-size="25" fill="#2a2a2a" stroke="#2a2a2a" stroke-width="1">OPPSO</text><path d="M358.4 505.25h8.2" stroke="#ffff00" stroke-width="0.5" stroke-opacity="0.6"/><circle cx="362.5" cy="505.25" r="0.7" fill="#ffff00"/><text transform="translate(367.7 506.15) scale(0.1)" font-size="25" fill="#2a2a2a" stroke="#2a2a2a" stroke-width="1">NSMO</text><path d="M358.4 508.72h8.2" stroke="#00ffff" stroke-width="0.5" stroke-opacity="0.6"/><circle cx="362.5" cy="508.72" r="0.7" fill="#00ffff"/><text transform="translate(367.7 509.62) scale(0.1)" font-size="25" fill="#2a2a2a" stroke="#2a2a2a" stroke-width="1">MSSTA</text><path d="M358.4 512.2h8.2" stroke="#ff0000" stroke-width="0.5" stroke-opacity="0.6"/><circle cx="362.5" cy="512.2" r="0.7" fill="#ff0000"/><text transform="translate(367.7 513.1) scale(0.1)" font-size="25" fill="#2a2a2a" stroke="#2a2a2a" stroke-width="1">WMSSSA</text></g></g>
</svg></body></html>
